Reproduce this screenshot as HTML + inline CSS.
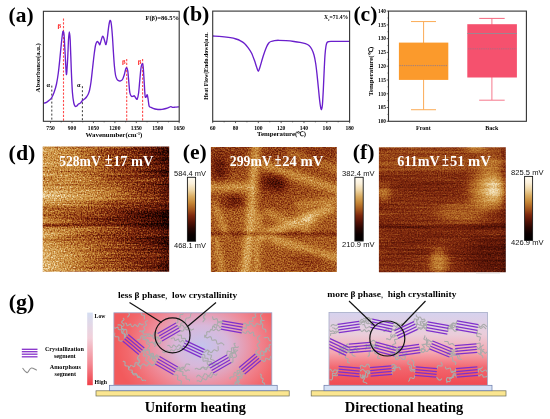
<!DOCTYPE html>
<html><head><meta charset="utf-8"><title>figure</title>
<style>html,body{margin:0;padding:0;background:#fff;width:550px;height:419px;overflow:hidden}svg{display:block}</style>
</head><body>
<svg width="550" height="419" viewBox="0 0 550 419">
<rect width="550" height="419" fill="#fff"/>
<text x="8.60" y="21.60" font-size="21.50" font-weight="bold" fill="#000" font-family="'Liberation Serif','Times New Roman',serif" textLength="25.0" lengthAdjust="spacingAndGlyphs">(a)</text>
<text x="182.60" y="21.40" font-size="21.50" font-weight="bold" fill="#000" font-family="'Liberation Serif','Times New Roman',serif" textLength="26.8" lengthAdjust="spacingAndGlyphs">(b)</text>
<text x="353.40" y="21.00" font-size="21.50" font-weight="bold" fill="#000" font-family="'Liberation Serif','Times New Roman',serif" textLength="24.0" lengthAdjust="spacingAndGlyphs">(c)</text>
<text x="8.60" y="159.60" font-size="21.50" font-weight="bold" fill="#000" font-family="'Liberation Serif','Times New Roman',serif" textLength="26.8" lengthAdjust="spacingAndGlyphs">(d)</text>
<text x="182.80" y="159.40" font-size="21.50" font-weight="bold" fill="#000" font-family="'Liberation Serif','Times New Roman',serif" textLength="24.0" lengthAdjust="spacingAndGlyphs">(e)</text>
<text x="352.70" y="159.30" font-size="21.50" font-weight="bold" fill="#000" font-family="'Liberation Serif','Times New Roman',serif" textLength="21.8" lengthAdjust="spacingAndGlyphs">(f)</text>
<text x="8.80" y="309.30" font-size="21.50" font-weight="bold" fill="#000" font-family="'Liberation Serif','Times New Roman',serif" textLength="25.6" lengthAdjust="spacingAndGlyphs">(g)</text>
<line x1="51.80" y1="85.6" x2="51.80" y2="121.3" stroke="#222" stroke-width="0.9" stroke-dasharray="2.0,2.0"/>
<line x1="82.40" y1="86.2" x2="82.40" y2="121.3" stroke="#222" stroke-width="0.9" stroke-dasharray="2.0,2.0"/>
<line x1="63.50" y1="18.6" x2="63.50" y2="121.3" stroke="#ff4a4a" stroke-width="1.1" stroke-dasharray="2.2,1.5"/>
<line x1="126.70" y1="59.0" x2="126.70" y2="121.3" stroke="#ff4a4a" stroke-width="1.1" stroke-dasharray="2.2,1.5"/>
<line x1="142.60" y1="59.0" x2="142.60" y2="121.3" stroke="#ff4a4a" stroke-width="1.1" stroke-dasharray="2.2,1.5"/>
<path d="M43.50,103.30 C43.95,103.15 45.60,102.80 46.50,102.30 C47.40,101.80 48.70,100.72 49.50,100.00 C50.30,99.28 51.09,98.70 51.80,97.50 C52.50,96.30 53.50,94.03 54.20,92.00 C54.91,89.97 55.88,86.85 56.50,84.00 C57.12,81.15 57.80,76.69 58.30,73.00 C58.79,69.31 59.35,63.75 59.80,59.40 C60.25,55.05 60.88,47.96 61.30,44.00 C61.72,40.04 62.30,34.89 62.60,33.00 C62.90,31.11 63.07,31.10 63.30,31.40 C63.52,31.70 63.81,31.46 64.10,35.00 C64.38,38.54 64.86,49.08 65.20,55.00 C65.55,60.92 66.04,73.75 66.40,74.50 C66.76,75.25 67.28,65.17 67.60,60.00 C67.91,54.83 68.25,44.20 68.50,40.00 C68.75,35.80 69.05,32.00 69.30,32.00 C69.55,32.00 69.90,34.30 70.20,40.00 C70.50,45.70 70.97,62.16 71.30,70.00 C71.63,77.84 72.03,87.35 72.40,92.30 C72.78,97.25 73.39,100.90 73.80,103.00 C74.20,105.10 74.65,105.85 75.10,106.30 C75.55,106.75 76.29,106.34 76.80,106.00 C77.31,105.66 77.94,104.45 78.50,104.00 C79.06,103.55 79.91,103.51 80.50,103.00 C81.09,102.49 81.80,101.20 82.40,100.60 C83.00,100.00 83.89,99.54 84.50,99.00 C85.11,98.46 85.93,97.75 86.50,97.00 C87.07,96.25 87.83,95.05 88.30,94.00 C88.77,92.95 89.19,91.80 89.60,90.00 C90.00,88.20 90.55,85.30 91.00,82.00 C91.45,78.70 92.12,72.20 92.60,68.00 C93.08,63.80 93.75,57.45 94.20,54.00 C94.65,50.55 95.21,46.80 95.60,45.00 C95.99,43.20 96.50,42.51 96.80,42.00 C97.10,41.49 97.30,41.45 97.60,41.60 C97.90,41.75 98.47,42.52 98.80,43.00 C99.13,43.48 99.47,45.10 99.80,44.80 C100.13,44.50 100.59,42.27 101.00,41.00 C101.41,39.73 102.11,36.82 102.50,36.30 C102.89,35.77 103.25,36.72 103.60,37.50 C103.94,38.28 104.44,40.44 104.80,41.50 C105.16,42.56 105.62,45.12 106.00,44.60 C106.38,44.08 106.92,40.49 107.30,38.00 C107.67,35.51 108.17,30.40 108.50,28.00 C108.83,25.60 109.22,23.14 109.50,22.00 C109.78,20.86 110.13,20.10 110.40,20.40 C110.67,20.70 111.00,21.66 111.30,24.00 C111.60,26.34 112.09,31.80 112.40,36.00 C112.72,40.20 113.10,47.50 113.40,52.00 C113.70,56.50 114.09,62.55 114.40,66.00 C114.72,69.45 115.14,73.05 115.50,75.00 C115.86,76.95 116.35,78.14 116.80,79.00 C117.25,79.86 117.93,80.43 118.50,80.70 C119.07,80.97 120.00,80.98 120.60,80.80 C121.20,80.62 121.96,80.37 122.50,79.50 C123.04,78.63 123.73,76.50 124.20,75.00 C124.67,73.50 125.22,70.59 125.60,69.50 C125.97,68.41 126.37,67.48 126.70,67.70 C127.03,67.92 127.48,68.86 127.80,71.00 C128.12,73.14 128.50,78.78 128.80,82.00 C129.10,85.22 129.43,90.37 129.80,92.50 C130.18,94.63 130.85,95.62 131.30,96.20 C131.75,96.78 132.35,96.46 132.80,96.40 C133.25,96.34 133.85,95.56 134.30,95.80 C134.75,96.04 135.37,97.49 135.80,98.00 C136.24,98.51 136.78,99.95 137.20,99.20 C137.62,98.45 138.21,95.88 138.60,93.00 C138.99,90.12 139.44,83.75 139.80,80.00 C140.16,76.25 140.62,70.46 141.00,68.00 C141.38,65.54 141.97,63.75 142.30,63.60 C142.63,63.45 142.91,64.24 143.20,67.00 C143.48,69.76 143.91,77.65 144.20,82.00 C144.48,86.35 144.81,93.75 145.10,96.00 C145.38,98.25 145.78,97.18 146.10,97.00 C146.41,96.82 146.90,94.50 147.20,94.80 C147.50,95.10 147.81,97.32 148.10,99.00 C148.38,100.68 148.66,104.75 149.10,106.00 C149.53,107.25 150.12,106.85 151.00,107.30 C151.88,107.75 153.95,108.67 155.00,109.00 C156.05,109.33 156.95,109.45 158.00,109.50 C159.05,109.55 160.80,109.45 162.00,109.30 C163.20,109.15 164.95,108.78 166.00,108.50 C167.05,108.22 168.31,107.69 169.00,107.40 C169.69,107.12 170.07,106.61 170.60,106.60 C171.12,106.58 171.84,107.21 172.50,107.30 C173.16,107.39 174.03,107.28 175.00,107.20 C175.97,107.12 178.40,106.86 179.00,106.80" fill="none" stroke="#6a1fcc" stroke-width="1.35" stroke-linejoin="round"/>
<rect x="43.40" y="11.30" width="135.80" height="110.00" fill="none" stroke="#333" stroke-width="1.1"/>
<line x1="50.55" y1="121.30" x2="50.55" y2="123.10" stroke="#333" stroke-width="0.8"/>
<line x1="61.27" y1="121.30" x2="61.27" y2="122.30" stroke="#333" stroke-width="0.8"/>
<line x1="71.99" y1="121.30" x2="71.99" y2="123.10" stroke="#333" stroke-width="0.8"/>
<line x1="82.71" y1="121.30" x2="82.71" y2="122.30" stroke="#333" stroke-width="0.8"/>
<line x1="93.43" y1="121.30" x2="93.43" y2="123.10" stroke="#333" stroke-width="0.8"/>
<line x1="104.15" y1="121.30" x2="104.15" y2="122.30" stroke="#333" stroke-width="0.8"/>
<line x1="114.87" y1="121.30" x2="114.87" y2="123.10" stroke="#333" stroke-width="0.8"/>
<line x1="125.59" y1="121.30" x2="125.59" y2="122.30" stroke="#333" stroke-width="0.8"/>
<line x1="136.32" y1="121.30" x2="136.32" y2="123.10" stroke="#333" stroke-width="0.8"/>
<line x1="147.04" y1="121.30" x2="147.04" y2="122.30" stroke="#333" stroke-width="0.8"/>
<line x1="157.76" y1="121.30" x2="157.76" y2="123.10" stroke="#333" stroke-width="0.8"/>
<line x1="168.48" y1="121.30" x2="168.48" y2="122.30" stroke="#333" stroke-width="0.8"/>
<line x1="179.20" y1="121.30" x2="179.20" y2="123.10" stroke="#333" stroke-width="0.8"/>
<text x="50.55" y="129.70" font-size="5.60" font-weight="bold" text-anchor="middle" fill="#000" font-family="'Liberation Serif','Times New Roman',serif">750</text>
<text x="71.99" y="129.70" font-size="5.60" font-weight="bold" text-anchor="middle" fill="#000" font-family="'Liberation Serif','Times New Roman',serif">900</text>
<text x="93.43" y="129.70" font-size="5.60" font-weight="bold" text-anchor="middle" fill="#000" font-family="'Liberation Serif','Times New Roman',serif">1050</text>
<text x="114.87" y="129.70" font-size="5.60" font-weight="bold" text-anchor="middle" fill="#000" font-family="'Liberation Serif','Times New Roman',serif">1200</text>
<text x="136.32" y="129.70" font-size="5.60" font-weight="bold" text-anchor="middle" fill="#000" font-family="'Liberation Serif','Times New Roman',serif">1350</text>
<text x="157.76" y="129.70" font-size="5.60" font-weight="bold" text-anchor="middle" fill="#000" font-family="'Liberation Serif','Times New Roman',serif">1500</text>
<text x="179.20" y="129.70" font-size="5.60" font-weight="bold" text-anchor="middle" fill="#000" font-family="'Liberation Serif','Times New Roman',serif">1650</text>
<text x="85.50" y="137.00" font-size="6.60" font-weight="bold" fill="#000" font-family="'Liberation Serif','Times New Roman',serif" textLength="56.7" lengthAdjust="spacingAndGlyphs">Wavenumber(cm<tspan font-size='3.8' dy='-2.2'>-1</tspan><tspan dy='2.2'>)</tspan></text>
<text transform="translate(40.40,67.80) rotate(-90)" text-anchor="middle" font-size="6.60" font-weight="bold" font-family="'Liberation Serif','Times New Roman',serif" fill="#000" textLength="49.2" lengthAdjust="spacingAndGlyphs">Absorbance(a.u.)</text>
<text x="145.40" y="20.30" font-size="6.00" font-weight="bold" fill="#000" font-family="'Liberation Serif','Times New Roman',serif" textLength="33.6" lengthAdjust="spacingAndGlyphs">F(β)=86.5%</text>
<text x="57.60" y="28.00" font-size="7.00" font-weight="bold" fill="#ff2a2a" font-family="'Liberation Serif','Times New Roman',serif">β</text>
<text x="122.00" y="63.80" font-size="7.00" font-weight="bold" fill="#ff2a2a" font-family="'Liberation Serif','Times New Roman',serif">β</text>
<text x="137.80" y="63.80" font-size="7.00" font-weight="bold" fill="#ff2a2a" font-family="'Liberation Serif','Times New Roman',serif">β</text>
<text x="46.60" y="86.60" font-size="6.20" font-weight="bold" fill="#000" font-family="'Liberation Serif','Times New Roman',serif">α</text>
<text x="76.90" y="87.20" font-size="6.20" font-weight="bold" fill="#000" font-family="'Liberation Serif','Times New Roman',serif">α</text>
<path d="M213.00,36.00 C214.35,36.09 219.39,36.34 222.00,36.60 C224.61,36.86 228.30,37.34 230.40,37.70 C232.50,38.06 234.49,38.54 236.00,39.00 C237.51,39.46 239.22,40.12 240.50,40.80 C241.78,41.47 243.34,42.44 244.50,43.50 C245.66,44.56 247.15,46.48 248.20,47.90 C249.25,49.32 250.56,51.09 251.50,53.00 C252.44,54.91 253.73,58.50 254.50,60.60 C255.27,62.70 256.03,65.39 256.60,67.00 C257.17,68.61 257.79,71.30 258.30,71.30 C258.81,71.30 259.24,69.37 260.00,67.00 C260.76,64.63 262.42,58.50 263.40,55.50 C264.38,52.50 265.69,48.88 266.50,47.00 C267.31,45.12 268.12,43.83 268.80,43.00 C269.48,42.17 270.14,41.86 271.00,41.50 C271.86,41.14 273.35,40.78 274.50,40.60 C275.65,40.42 276.97,40.28 278.70,40.30 C280.43,40.31 283.70,40.52 286.00,40.70 C288.30,40.88 291.90,41.24 294.00,41.50 C296.10,41.76 298.29,42.09 300.00,42.40 C301.71,42.71 304.05,43.13 305.40,43.60 C306.75,44.07 308.04,44.66 309.00,45.50 C309.96,46.34 311.05,47.78 311.80,49.20 C312.55,50.62 313.43,52.93 314.00,55.00 C314.57,57.07 315.17,60.26 315.60,63.00 C316.04,65.75 316.50,69.70 316.90,73.30 C317.30,76.90 317.89,83.00 318.30,87.00 C318.71,91.00 319.25,97.00 319.60,100.00 C319.95,103.00 320.32,105.58 320.60,107.00 C320.88,108.42 321.23,109.80 321.50,109.50 C321.77,109.20 322.13,107.92 322.40,105.00 C322.67,102.08 323.03,95.25 323.30,90.00 C323.57,84.75 323.94,75.25 324.20,70.00 C324.45,64.75 324.73,58.60 325.00,55.00 C325.27,51.40 325.70,47.86 326.00,46.00 C326.30,44.14 326.62,43.25 327.00,42.60 C327.38,41.95 327.92,41.88 328.50,41.70 C329.08,41.52 329.17,41.45 330.90,41.40 C332.62,41.35 337.23,41.40 340.00,41.40 C342.77,41.40 347.99,41.40 349.40,41.40" fill="none" stroke="#6a1fcc" stroke-width="1.35" stroke-linejoin="round"/>
<rect x="212.70" y="11.10" width="136.90" height="110.20" fill="none" stroke="#333" stroke-width="1.1"/>
<line x1="212.70" y1="121.30" x2="212.70" y2="123.10" stroke="#333" stroke-width="0.8"/>
<line x1="224.11" y1="121.30" x2="224.11" y2="122.30" stroke="#333" stroke-width="0.8"/>
<line x1="235.52" y1="121.30" x2="235.52" y2="123.10" stroke="#333" stroke-width="0.8"/>
<line x1="246.93" y1="121.30" x2="246.93" y2="122.30" stroke="#333" stroke-width="0.8"/>
<line x1="258.33" y1="121.30" x2="258.33" y2="123.10" stroke="#333" stroke-width="0.8"/>
<line x1="269.74" y1="121.30" x2="269.74" y2="122.30" stroke="#333" stroke-width="0.8"/>
<line x1="281.15" y1="121.30" x2="281.15" y2="123.10" stroke="#333" stroke-width="0.8"/>
<line x1="292.56" y1="121.30" x2="292.56" y2="122.30" stroke="#333" stroke-width="0.8"/>
<line x1="303.97" y1="121.30" x2="303.97" y2="123.10" stroke="#333" stroke-width="0.8"/>
<line x1="315.38" y1="121.30" x2="315.38" y2="122.30" stroke="#333" stroke-width="0.8"/>
<line x1="326.78" y1="121.30" x2="326.78" y2="123.10" stroke="#333" stroke-width="0.8"/>
<line x1="338.19" y1="121.30" x2="338.19" y2="122.30" stroke="#333" stroke-width="0.8"/>
<line x1="349.60" y1="121.30" x2="349.60" y2="123.10" stroke="#333" stroke-width="0.8"/>
<text x="212.70" y="129.70" font-size="5.60" font-weight="bold" text-anchor="middle" fill="#000" font-family="'Liberation Serif','Times New Roman',serif">60</text>
<text x="235.52" y="129.70" font-size="5.60" font-weight="bold" text-anchor="middle" fill="#000" font-family="'Liberation Serif','Times New Roman',serif">80</text>
<text x="258.33" y="129.70" font-size="5.60" font-weight="bold" text-anchor="middle" fill="#000" font-family="'Liberation Serif','Times New Roman',serif">100</text>
<text x="281.15" y="129.70" font-size="5.60" font-weight="bold" text-anchor="middle" fill="#000" font-family="'Liberation Serif','Times New Roman',serif">120</text>
<text x="303.97" y="129.70" font-size="5.60" font-weight="bold" text-anchor="middle" fill="#000" font-family="'Liberation Serif','Times New Roman',serif">140</text>
<text x="326.78" y="129.70" font-size="5.60" font-weight="bold" text-anchor="middle" fill="#000" font-family="'Liberation Serif','Times New Roman',serif">160</text>
<text x="349.60" y="129.70" font-size="5.60" font-weight="bold" text-anchor="middle" fill="#000" font-family="'Liberation Serif','Times New Roman',serif">180</text>
<text x="281.50" y="136.40" font-size="6.40" font-weight="bold" text-anchor="middle" fill="#000" font-family="'Liberation Serif','Times New Roman',serif" textLength="49.0" lengthAdjust="spacingAndGlyphs">Temperature(℃)</text>
<text transform="translate(208.30,66.00) rotate(-90)" text-anchor="middle" font-size="6.20" font-weight="bold" font-family="'Liberation Serif','Times New Roman',serif" fill="#000" textLength="67.5" lengthAdjust="spacingAndGlyphs">Heat Flow(Endo.down)a.u.</text>
<text x="348.20" y="19.30" font-size="5.60" font-weight="bold" text-anchor="end" fill="#000" font-family="'Liberation Serif','Times New Roman',serif">X<tspan font-size='3.6' dy='1.3'>c</tspan><tspan dy='-1.3'>=71.4%</tspan></text>
<line x1="423.6" y1="21.57" x2="423.6" y2="109.73" stroke="#fbab55" stroke-width="1"/>
<line x1="411" y1="21.57" x2="436" y2="21.57" stroke="#fbab55" stroke-width="1"/>
<line x1="411" y1="109.73" x2="436" y2="109.73" stroke="#fbab55" stroke-width="1"/>
<rect x="398.9" y="42.6" width="49.4" height="37.3" fill="#fb9a2c"/>
<line x1="399.5" y1="65.6" x2="447.8" y2="65.6" stroke="#8a7a90" stroke-width="0.8" stroke-dasharray="1.3,0.9"/>
<line x1="491.9" y1="18.4" x2="491.9" y2="100" stroke="#f5788c" stroke-width="1"/>
<line x1="479.2" y1="18.4" x2="504.7" y2="18.4" stroke="#f5667e" stroke-width="1"/>
<line x1="479.2" y1="100.2" x2="504.7" y2="100.2" stroke="#f5788c" stroke-width="1"/>
<rect x="467.3" y="24.2" width="49.6" height="53.3" fill="#f5516e"/>
<line x1="467.3" y1="33.5" x2="516.9" y2="33.5" stroke="#968a94" stroke-width="0.9"/>
<line x1="468" y1="48.8" x2="516.5" y2="48.8" stroke="#a07088" stroke-width="0.8" stroke-dasharray="1.3,0.9"/>
<rect x="388.50" y="11.10" width="137.90" height="110.20" fill="none" stroke="#333" stroke-width="1.1"/>
<line x1="386.70" y1="121.30" x2="388.50" y2="121.30" stroke="#333" stroke-width="0.8"/>
<text x="386.00" y="123.10" font-size="5.30" font-weight="bold" text-anchor="end" fill="#000" font-family="'Liberation Serif','Times New Roman',serif">100</text>
<line x1="386.70" y1="107.52" x2="388.50" y2="107.52" stroke="#333" stroke-width="0.8"/>
<text x="386.00" y="109.32" font-size="5.30" font-weight="bold" text-anchor="end" fill="#000" font-family="'Liberation Serif','Times New Roman',serif">105</text>
<line x1="386.70" y1="93.75" x2="388.50" y2="93.75" stroke="#333" stroke-width="0.8"/>
<text x="386.00" y="95.55" font-size="5.30" font-weight="bold" text-anchor="end" fill="#000" font-family="'Liberation Serif','Times New Roman',serif">110</text>
<line x1="386.70" y1="79.97" x2="388.50" y2="79.97" stroke="#333" stroke-width="0.8"/>
<text x="386.00" y="81.77" font-size="5.30" font-weight="bold" text-anchor="end" fill="#000" font-family="'Liberation Serif','Times New Roman',serif">115</text>
<line x1="386.70" y1="66.20" x2="388.50" y2="66.20" stroke="#333" stroke-width="0.8"/>
<text x="386.00" y="68.00" font-size="5.30" font-weight="bold" text-anchor="end" fill="#000" font-family="'Liberation Serif','Times New Roman',serif">120</text>
<line x1="386.70" y1="52.42" x2="388.50" y2="52.42" stroke="#333" stroke-width="0.8"/>
<text x="386.00" y="54.22" font-size="5.30" font-weight="bold" text-anchor="end" fill="#000" font-family="'Liberation Serif','Times New Roman',serif">125</text>
<line x1="386.70" y1="38.65" x2="388.50" y2="38.65" stroke="#333" stroke-width="0.8"/>
<text x="386.00" y="40.45" font-size="5.30" font-weight="bold" text-anchor="end" fill="#000" font-family="'Liberation Serif','Times New Roman',serif">130</text>
<line x1="386.70" y1="24.88" x2="388.50" y2="24.88" stroke="#333" stroke-width="0.8"/>
<text x="386.00" y="26.68" font-size="5.30" font-weight="bold" text-anchor="end" fill="#000" font-family="'Liberation Serif','Times New Roman',serif">135</text>
<line x1="386.70" y1="11.10" x2="388.50" y2="11.10" stroke="#333" stroke-width="0.8"/>
<text x="386.00" y="12.90" font-size="5.30" font-weight="bold" text-anchor="end" fill="#000" font-family="'Liberation Serif','Times New Roman',serif">140</text>
<line x1="387.50" y1="114.41" x2="388.50" y2="114.41" stroke="#333" stroke-width="0.7"/>
<line x1="387.50" y1="100.64" x2="388.50" y2="100.64" stroke="#333" stroke-width="0.7"/>
<line x1="387.50" y1="86.86" x2="388.50" y2="86.86" stroke="#333" stroke-width="0.7"/>
<line x1="387.50" y1="73.09" x2="388.50" y2="73.09" stroke="#333" stroke-width="0.7"/>
<line x1="387.50" y1="59.31" x2="388.50" y2="59.31" stroke="#333" stroke-width="0.7"/>
<line x1="387.50" y1="45.54" x2="388.50" y2="45.54" stroke="#333" stroke-width="0.7"/>
<line x1="387.50" y1="31.76" x2="388.50" y2="31.76" stroke="#333" stroke-width="0.7"/>
<line x1="387.50" y1="17.99" x2="388.50" y2="17.99" stroke="#333" stroke-width="0.7"/>
<text x="423.40" y="130.20" font-size="6.00" font-weight="bold" text-anchor="middle" fill="#000" font-family="'Liberation Serif','Times New Roman',serif">Front</text>
<text x="491.80" y="130.20" font-size="6.00" font-weight="bold" text-anchor="middle" fill="#000" font-family="'Liberation Serif','Times New Roman',serif">Back</text>
<text transform="translate(372.80,71.30) rotate(-90)" text-anchor="middle" font-size="6.40" font-weight="bold" font-family="'Liberation Serif','Times New Roman',serif" fill="#000" textLength="49.2" lengthAdjust="spacingAndGlyphs">Temperature(℃)</text>
<clipPath id="cd"><rect x="42.7" y="146.4" width="126.5" height="125.4"/></clipPath>
<filter id="fd" x="40.7" y="144.4" width="130.5" height="129.4" filterUnits="userSpaceOnUse" color-interpolation-filters="sRGB"><feGaussianBlur in="SourceGraphic" stdDeviation="3 1.2" result="b"/><feTurbulence type="fractalNoise" baseFrequency="0.7" numOctaves="2" seed="3" result="n"/><feColorMatrix in="n" type="matrix" values="1 0 0 0 0 1 0 0 0 0 1 0 0 0 0 0 0 0 0 1" result="n1"/><feComposite in="b" in2="n1" operator="arithmetic" k1="0" k2="1" k3="0.500" k4="-0.250" result="m"/><feTurbulence type="fractalNoise" baseFrequency="0.015 0.45" numOctaves="2" seed="4" result="s"/><feColorMatrix in="s" type="matrix" values="1 0 0 0 0 1 0 0 0 0 1 0 0 0 0 0 0 0 0 1" result="s1"/><feComposite in="m" in2="s1" operator="arithmetic" k1="0" k2="1" k3="0.250" k4="-0.125" result="m2"/><feComponentTransfer in="m2"><feFuncR type="table" tableValues="0.000 0.020 0.039 0.098 0.157 0.243 0.329 0.412 0.494 0.573 0.651 0.714 0.773 0.816 0.855 0.894 0.933 0.957 0.984 0.992 1.000"/><feFuncG type="table" tableValues="0.000 0.000 0.000 0.012 0.024 0.047 0.071 0.114 0.157 0.251 0.345 0.435 0.525 0.600 0.675 0.757 0.839 0.890 0.941 0.965 0.988"/><feFuncB type="table" tableValues="0.000 0.000 0.000 0.004 0.008 0.016 0.024 0.039 0.055 0.086 0.118 0.165 0.212 0.298 0.384 0.518 0.651 0.753 0.855 0.906 0.957"/><feFuncA type="linear" slope="0" intercept="1"/></feComponentTransfer></filter>
<g clip-path="url(#cd)"><g filter="url(#fd)">
<rect x="34.7" y="140.4" width="8.1" height="3.1" fill="#b3b3b3"/>
<rect x="42.7" y="140.4" width="8.1" height="3.1" fill="#afafaf"/>
<rect x="50.7" y="140.4" width="8.1" height="3.1" fill="#acacac"/>
<rect x="58.7" y="140.4" width="8.1" height="3.1" fill="#a8a8a8"/>
<rect x="66.7" y="140.4" width="8.1" height="3.1" fill="#a3a3a3"/>
<rect x="74.7" y="140.4" width="8.1" height="3.1" fill="#9e9e9e"/>
<rect x="82.7" y="140.4" width="8.1" height="3.1" fill="#999999"/>
<rect x="90.7" y="140.4" width="8.1" height="3.1" fill="#939393"/>
<rect x="98.7" y="140.4" width="8.1" height="3.1" fill="#8c8c8c"/>
<rect x="106.7" y="140.4" width="8.1" height="3.1" fill="#858585"/>
<rect x="114.7" y="140.4" width="8.1" height="3.1" fill="#7e7e7e"/>
<rect x="122.7" y="140.4" width="8.1" height="3.1" fill="#767676"/>
<rect x="130.7" y="140.4" width="8.1" height="3.1" fill="#6d6d6d"/>
<rect x="138.7" y="140.4" width="8.1" height="3.1" fill="#646464"/>
<rect x="146.7" y="140.4" width="8.1" height="3.1" fill="#595959"/>
<rect x="154.7" y="140.4" width="8.1" height="3.1" fill="#505050"/>
<rect x="162.7" y="140.4" width="8.1" height="3.1" fill="#3a3a3a"/>
<rect x="170.7" y="140.4" width="8.1" height="3.1" fill="#464646"/>
<rect x="34.7" y="143.4" width="8.1" height="3.1" fill="#b3b3b3"/>
<rect x="42.7" y="143.4" width="8.1" height="3.1" fill="#b0b0b0"/>
<rect x="50.7" y="143.4" width="8.1" height="3.1" fill="#adadad"/>
<rect x="58.7" y="143.4" width="8.1" height="3.1" fill="#a8a8a8"/>
<rect x="66.7" y="143.4" width="8.1" height="3.1" fill="#a4a4a4"/>
<rect x="74.7" y="143.4" width="8.1" height="3.1" fill="#9f9f9f"/>
<rect x="82.7" y="143.4" width="8.1" height="3.1" fill="#999999"/>
<rect x="90.7" y="143.4" width="8.1" height="3.1" fill="#939393"/>
<rect x="98.7" y="143.4" width="8.1" height="3.1" fill="#8d8d8d"/>
<rect x="106.7" y="143.4" width="8.1" height="3.1" fill="#868686"/>
<rect x="114.7" y="143.4" width="8.1" height="3.1" fill="#7e7e7e"/>
<rect x="122.7" y="143.4" width="8.1" height="3.1" fill="#767676"/>
<rect x="130.7" y="143.4" width="8.1" height="3.1" fill="#6d6d6d"/>
<rect x="138.7" y="143.4" width="8.1" height="3.1" fill="#636363"/>
<rect x="146.7" y="143.4" width="8.1" height="3.1" fill="#595959"/>
<rect x="154.7" y="143.4" width="8.1" height="3.1" fill="#4f4f4f"/>
<rect x="162.7" y="143.4" width="8.1" height="3.1" fill="#393939"/>
<rect x="170.7" y="143.4" width="8.1" height="3.1" fill="#464646"/>
<rect x="34.7" y="146.4" width="8.1" height="3.1" fill="#b4b4b4"/>
<rect x="42.7" y="146.4" width="8.1" height="3.1" fill="#b1b1b1"/>
<rect x="50.7" y="146.4" width="8.1" height="3.1" fill="#adadad"/>
<rect x="58.7" y="146.4" width="8.1" height="3.1" fill="#a9a9a9"/>
<rect x="66.7" y="146.4" width="8.1" height="3.1" fill="#a5a5a5"/>
<rect x="74.7" y="146.4" width="8.1" height="3.1" fill="#9f9f9f"/>
<rect x="82.7" y="146.4" width="8.1" height="3.1" fill="#9a9a9a"/>
<rect x="90.7" y="146.4" width="8.1" height="3.1" fill="#939393"/>
<rect x="98.7" y="146.4" width="8.1" height="3.1" fill="#8d8d8d"/>
<rect x="106.7" y="146.4" width="8.1" height="3.1" fill="#868686"/>
<rect x="114.7" y="146.4" width="8.1" height="3.1" fill="#7e7e7e"/>
<rect x="122.7" y="146.4" width="8.1" height="3.1" fill="#767676"/>
<rect x="130.7" y="146.4" width="8.1" height="3.1" fill="#6d6d6d"/>
<rect x="138.7" y="146.4" width="8.1" height="3.1" fill="#636363"/>
<rect x="146.7" y="146.4" width="8.1" height="3.1" fill="#595959"/>
<rect x="154.7" y="146.4" width="8.1" height="3.1" fill="#4f4f4f"/>
<rect x="162.7" y="146.4" width="8.1" height="3.1" fill="#393939"/>
<rect x="170.7" y="146.4" width="8.1" height="3.1" fill="#464646"/>
<rect x="34.7" y="149.4" width="8.1" height="3.1" fill="#b5b5b5"/>
<rect x="42.7" y="149.4" width="8.1" height="3.1" fill="#b2b2b2"/>
<rect x="50.7" y="149.4" width="8.1" height="3.1" fill="#aeaeae"/>
<rect x="58.7" y="149.4" width="8.1" height="3.1" fill="#aaaaaa"/>
<rect x="66.7" y="149.4" width="8.1" height="3.1" fill="#a5a5a5"/>
<rect x="74.7" y="149.4" width="8.1" height="3.1" fill="#a0a0a0"/>
<rect x="82.7" y="149.4" width="8.1" height="3.1" fill="#9a9a9a"/>
<rect x="90.7" y="149.4" width="8.1" height="3.1" fill="#949494"/>
<rect x="98.7" y="149.4" width="8.1" height="3.1" fill="#8d8d8d"/>
<rect x="106.7" y="149.4" width="8.1" height="3.1" fill="#868686"/>
<rect x="114.7" y="149.4" width="8.1" height="3.1" fill="#7e7e7e"/>
<rect x="122.7" y="149.4" width="8.1" height="3.1" fill="#767676"/>
<rect x="130.7" y="149.4" width="8.1" height="3.1" fill="#6d6d6d"/>
<rect x="138.7" y="149.4" width="8.1" height="3.1" fill="#646464"/>
<rect x="146.7" y="149.4" width="8.1" height="3.1" fill="#595959"/>
<rect x="154.7" y="149.4" width="8.1" height="3.1" fill="#505050"/>
<rect x="162.7" y="149.4" width="8.1" height="3.1" fill="#3a3a3a"/>
<rect x="170.7" y="149.4" width="8.1" height="3.1" fill="#464646"/>
<rect x="34.7" y="152.4" width="8.1" height="3.1" fill="#b5b5b5"/>
<rect x="42.7" y="152.4" width="8.1" height="3.1" fill="#b2b2b2"/>
<rect x="50.7" y="152.4" width="8.1" height="3.1" fill="#afafaf"/>
<rect x="58.7" y="152.4" width="8.1" height="3.1" fill="#aaaaaa"/>
<rect x="66.7" y="152.4" width="8.1" height="3.1" fill="#a6a6a6"/>
<rect x="74.7" y="152.4" width="8.1" height="3.1" fill="#a0a0a0"/>
<rect x="82.7" y="152.4" width="8.1" height="3.1" fill="#9a9a9a"/>
<rect x="90.7" y="152.4" width="8.1" height="3.1" fill="#949494"/>
<rect x="98.7" y="152.4" width="8.1" height="3.1" fill="#8d8d8d"/>
<rect x="106.7" y="152.4" width="8.1" height="3.1" fill="#868686"/>
<rect x="114.7" y="152.4" width="8.1" height="3.1" fill="#7f7f7f"/>
<rect x="122.7" y="152.4" width="8.1" height="3.1" fill="#777777"/>
<rect x="130.7" y="152.4" width="8.1" height="3.1" fill="#6e6e6e"/>
<rect x="138.7" y="152.4" width="8.1" height="3.1" fill="#646464"/>
<rect x="146.7" y="152.4" width="8.1" height="3.1" fill="#5a5a5a"/>
<rect x="154.7" y="152.4" width="8.1" height="3.1" fill="#505050"/>
<rect x="162.7" y="152.4" width="8.1" height="3.1" fill="#3b3b3b"/>
<rect x="170.7" y="152.4" width="8.1" height="3.1" fill="#474747"/>
<rect x="34.7" y="155.4" width="8.1" height="3.1" fill="#b6b6b6"/>
<rect x="42.7" y="155.4" width="8.1" height="3.1" fill="#b3b3b3"/>
<rect x="50.7" y="155.4" width="8.1" height="3.1" fill="#afafaf"/>
<rect x="58.7" y="155.4" width="8.1" height="3.1" fill="#ababab"/>
<rect x="66.7" y="155.4" width="8.1" height="3.1" fill="#a6a6a6"/>
<rect x="74.7" y="155.4" width="8.1" height="3.1" fill="#a1a1a1"/>
<rect x="82.7" y="155.4" width="8.1" height="3.1" fill="#9b9b9b"/>
<rect x="90.7" y="155.4" width="8.1" height="3.1" fill="#949494"/>
<rect x="98.7" y="155.4" width="8.1" height="3.1" fill="#8e8e8e"/>
<rect x="106.7" y="155.4" width="8.1" height="3.1" fill="#868686"/>
<rect x="114.7" y="155.4" width="8.1" height="3.1" fill="#7f7f7f"/>
<rect x="122.7" y="155.4" width="8.1" height="3.1" fill="#777777"/>
<rect x="130.7" y="155.4" width="8.1" height="3.1" fill="#6e6e6e"/>
<rect x="138.7" y="155.4" width="8.1" height="3.1" fill="#656565"/>
<rect x="146.7" y="155.4" width="8.1" height="3.1" fill="#5b5b5b"/>
<rect x="154.7" y="155.4" width="8.1" height="3.1" fill="#525252"/>
<rect x="162.7" y="155.4" width="8.1" height="3.1" fill="#3c3c3c"/>
<rect x="170.7" y="155.4" width="8.1" height="3.1" fill="#484848"/>
<rect x="34.7" y="158.4" width="8.1" height="3.1" fill="#b6b6b6"/>
<rect x="42.7" y="158.4" width="8.1" height="3.1" fill="#b3b3b3"/>
<rect x="50.7" y="158.4" width="8.1" height="3.1" fill="#afafaf"/>
<rect x="58.7" y="158.4" width="8.1" height="3.1" fill="#ababab"/>
<rect x="66.7" y="158.4" width="8.1" height="3.1" fill="#a6a6a6"/>
<rect x="74.7" y="158.4" width="8.1" height="3.1" fill="#a1a1a1"/>
<rect x="82.7" y="158.4" width="8.1" height="3.1" fill="#9b9b9b"/>
<rect x="90.7" y="158.4" width="8.1" height="3.1" fill="#959595"/>
<rect x="98.7" y="158.4" width="8.1" height="3.1" fill="#8e8e8e"/>
<rect x="106.7" y="158.4" width="8.1" height="3.1" fill="#878787"/>
<rect x="114.7" y="158.4" width="8.1" height="3.1" fill="#7f7f7f"/>
<rect x="122.7" y="158.4" width="8.1" height="3.1" fill="#777777"/>
<rect x="130.7" y="158.4" width="8.1" height="3.1" fill="#6f6f6f"/>
<rect x="138.7" y="158.4" width="8.1" height="3.1" fill="#656565"/>
<rect x="146.7" y="158.4" width="8.1" height="3.1" fill="#5c5c5c"/>
<rect x="154.7" y="158.4" width="8.1" height="3.1" fill="#535353"/>
<rect x="162.7" y="158.4" width="8.1" height="3.1" fill="#3d3d3d"/>
<rect x="170.7" y="158.4" width="8.1" height="3.1" fill="#4a4a4a"/>
<rect x="34.7" y="161.4" width="8.1" height="3.1" fill="#b6b6b6"/>
<rect x="42.7" y="161.4" width="8.1" height="3.1" fill="#b3b3b3"/>
<rect x="50.7" y="161.4" width="8.1" height="3.1" fill="#afafaf"/>
<rect x="58.7" y="161.4" width="8.1" height="3.1" fill="#ababab"/>
<rect x="66.7" y="161.4" width="8.1" height="3.1" fill="#a6a6a6"/>
<rect x="74.7" y="161.4" width="8.1" height="3.1" fill="#a1a1a1"/>
<rect x="82.7" y="161.4" width="8.1" height="3.1" fill="#9b9b9b"/>
<rect x="90.7" y="161.4" width="8.1" height="3.1" fill="#959595"/>
<rect x="98.7" y="161.4" width="8.1" height="3.1" fill="#8e8e8e"/>
<rect x="106.7" y="161.4" width="8.1" height="3.1" fill="#878787"/>
<rect x="114.7" y="161.4" width="8.1" height="3.1" fill="#808080"/>
<rect x="122.7" y="161.4" width="8.1" height="3.1" fill="#787878"/>
<rect x="130.7" y="161.4" width="8.1" height="3.1" fill="#6f6f6f"/>
<rect x="138.7" y="161.4" width="8.1" height="3.1" fill="#666666"/>
<rect x="146.7" y="161.4" width="8.1" height="3.1" fill="#5d5d5d"/>
<rect x="154.7" y="161.4" width="8.1" height="3.1" fill="#545454"/>
<rect x="162.7" y="161.4" width="8.1" height="3.1" fill="#3f3f3f"/>
<rect x="170.7" y="161.4" width="8.1" height="3.1" fill="#4b4b4b"/>
<rect x="34.7" y="164.4" width="8.1" height="3.1" fill="#b6b6b6"/>
<rect x="42.7" y="164.4" width="8.1" height="3.1" fill="#b3b3b3"/>
<rect x="50.7" y="164.4" width="8.1" height="3.1" fill="#afafaf"/>
<rect x="58.7" y="164.4" width="8.1" height="3.1" fill="#ababab"/>
<rect x="66.7" y="164.4" width="8.1" height="3.1" fill="#a6a6a6"/>
<rect x="74.7" y="164.4" width="8.1" height="3.1" fill="#a1a1a1"/>
<rect x="82.7" y="164.4" width="8.1" height="3.1" fill="#9b9b9b"/>
<rect x="90.7" y="164.4" width="8.1" height="3.1" fill="#959595"/>
<rect x="98.7" y="164.4" width="8.1" height="3.1" fill="#8e8e8e"/>
<rect x="106.7" y="164.4" width="8.1" height="3.1" fill="#878787"/>
<rect x="114.7" y="164.4" width="8.1" height="3.1" fill="#808080"/>
<rect x="122.7" y="164.4" width="8.1" height="3.1" fill="#787878"/>
<rect x="130.7" y="164.4" width="8.1" height="3.1" fill="#707070"/>
<rect x="138.7" y="164.4" width="8.1" height="3.1" fill="#676767"/>
<rect x="146.7" y="164.4" width="8.1" height="3.1" fill="#5f5f5f"/>
<rect x="154.7" y="164.4" width="8.1" height="3.1" fill="#565656"/>
<rect x="162.7" y="164.4" width="8.1" height="3.1" fill="#414141"/>
<rect x="170.7" y="164.4" width="8.1" height="3.1" fill="#4d4d4d"/>
<rect x="34.7" y="167.4" width="8.1" height="3.1" fill="#b5b5b5"/>
<rect x="42.7" y="167.4" width="8.1" height="3.1" fill="#b2b2b2"/>
<rect x="50.7" y="167.4" width="8.1" height="3.1" fill="#afafaf"/>
<rect x="58.7" y="167.4" width="8.1" height="3.1" fill="#ababab"/>
<rect x="66.7" y="167.4" width="8.1" height="3.1" fill="#a6a6a6"/>
<rect x="74.7" y="167.4" width="8.1" height="3.1" fill="#a1a1a1"/>
<rect x="82.7" y="167.4" width="8.1" height="3.1" fill="#9b9b9b"/>
<rect x="90.7" y="167.4" width="8.1" height="3.1" fill="#959595"/>
<rect x="98.7" y="167.4" width="8.1" height="3.1" fill="#8e8e8e"/>
<rect x="106.7" y="167.4" width="8.1" height="3.1" fill="#878787"/>
<rect x="114.7" y="167.4" width="8.1" height="3.1" fill="#808080"/>
<rect x="122.7" y="167.4" width="8.1" height="3.1" fill="#797979"/>
<rect x="130.7" y="167.4" width="8.1" height="3.1" fill="#717171"/>
<rect x="138.7" y="167.4" width="8.1" height="3.1" fill="#696969"/>
<rect x="146.7" y="167.4" width="8.1" height="3.1" fill="#606060"/>
<rect x="154.7" y="167.4" width="8.1" height="3.1" fill="#585858"/>
<rect x="162.7" y="167.4" width="8.1" height="3.1" fill="#434343"/>
<rect x="170.7" y="167.4" width="8.1" height="3.1" fill="#4f4f4f"/>
<rect x="34.7" y="170.4" width="8.1" height="3.1" fill="#b5b5b5"/>
<rect x="42.7" y="170.4" width="8.1" height="3.1" fill="#b2b2b2"/>
<rect x="50.7" y="170.4" width="8.1" height="3.1" fill="#aeaeae"/>
<rect x="58.7" y="170.4" width="8.1" height="3.1" fill="#aaaaaa"/>
<rect x="66.7" y="170.4" width="8.1" height="3.1" fill="#a6a6a6"/>
<rect x="74.7" y="170.4" width="8.1" height="3.1" fill="#a1a1a1"/>
<rect x="82.7" y="170.4" width="8.1" height="3.1" fill="#9b9b9b"/>
<rect x="90.7" y="170.4" width="8.1" height="3.1" fill="#959595"/>
<rect x="98.7" y="170.4" width="8.1" height="3.1" fill="#8e8e8e"/>
<rect x="106.7" y="170.4" width="8.1" height="3.1" fill="#888888"/>
<rect x="114.7" y="170.4" width="8.1" height="3.1" fill="#818181"/>
<rect x="122.7" y="170.4" width="8.1" height="3.1" fill="#797979"/>
<rect x="130.7" y="170.4" width="8.1" height="3.1" fill="#727272"/>
<rect x="138.7" y="170.4" width="8.1" height="3.1" fill="#6a6a6a"/>
<rect x="146.7" y="170.4" width="8.1" height="3.1" fill="#626262"/>
<rect x="154.7" y="170.4" width="8.1" height="3.1" fill="#5a5a5a"/>
<rect x="162.7" y="170.4" width="8.1" height="3.1" fill="#454545"/>
<rect x="170.7" y="170.4" width="8.1" height="3.1" fill="#515151"/>
<rect x="34.7" y="173.4" width="8.1" height="3.1" fill="#b5b5b5"/>
<rect x="42.7" y="173.4" width="8.1" height="3.1" fill="#b1b1b1"/>
<rect x="50.7" y="173.4" width="8.1" height="3.1" fill="#aeaeae"/>
<rect x="58.7" y="173.4" width="8.1" height="3.1" fill="#aaaaaa"/>
<rect x="66.7" y="173.4" width="8.1" height="3.1" fill="#a5a5a5"/>
<rect x="74.7" y="173.4" width="8.1" height="3.1" fill="#a0a0a0"/>
<rect x="82.7" y="173.4" width="8.1" height="3.1" fill="#9b9b9b"/>
<rect x="90.7" y="173.4" width="8.1" height="3.1" fill="#959595"/>
<rect x="98.7" y="173.4" width="8.1" height="3.1" fill="#8e8e8e"/>
<rect x="106.7" y="173.4" width="8.1" height="3.1" fill="#888888"/>
<rect x="114.7" y="173.4" width="8.1" height="3.1" fill="#818181"/>
<rect x="122.7" y="173.4" width="8.1" height="3.1" fill="#7a7a7a"/>
<rect x="130.7" y="173.4" width="8.1" height="3.1" fill="#737373"/>
<rect x="138.7" y="173.4" width="8.1" height="3.1" fill="#6b6b6b"/>
<rect x="146.7" y="173.4" width="8.1" height="3.1" fill="#636363"/>
<rect x="154.7" y="173.4" width="8.1" height="3.1" fill="#5c5c5c"/>
<rect x="162.7" y="173.4" width="8.1" height="3.1" fill="#484848"/>
<rect x="170.7" y="173.4" width="8.1" height="3.1" fill="#545454"/>
<rect x="34.7" y="176.4" width="8.1" height="3.1" fill="#b4b4b4"/>
<rect x="42.7" y="176.4" width="8.1" height="3.1" fill="#b1b1b1"/>
<rect x="50.7" y="176.4" width="8.1" height="3.1" fill="#adadad"/>
<rect x="58.7" y="176.4" width="8.1" height="3.1" fill="#a9a9a9"/>
<rect x="66.7" y="176.4" width="8.1" height="3.1" fill="#a5a5a5"/>
<rect x="74.7" y="176.4" width="8.1" height="3.1" fill="#a0a0a0"/>
<rect x="82.7" y="176.4" width="8.1" height="3.1" fill="#9a9a9a"/>
<rect x="90.7" y="176.4" width="8.1" height="3.1" fill="#959595"/>
<rect x="98.7" y="176.4" width="8.1" height="3.1" fill="#8f8f8f"/>
<rect x="106.7" y="176.4" width="8.1" height="3.1" fill="#888888"/>
<rect x="114.7" y="176.4" width="8.1" height="3.1" fill="#828282"/>
<rect x="122.7" y="176.4" width="8.1" height="3.1" fill="#7b7b7b"/>
<rect x="130.7" y="176.4" width="8.1" height="3.1" fill="#747474"/>
<rect x="138.7" y="176.4" width="8.1" height="3.1" fill="#6c6c6c"/>
<rect x="146.7" y="176.4" width="8.1" height="3.1" fill="#656565"/>
<rect x="154.7" y="176.4" width="8.1" height="3.1" fill="#5e5e5e"/>
<rect x="162.7" y="176.4" width="8.1" height="3.1" fill="#4a4a4a"/>
<rect x="170.7" y="176.4" width="8.1" height="3.1" fill="#565656"/>
<rect x="34.7" y="179.4" width="8.1" height="3.1" fill="#b4b4b4"/>
<rect x="42.7" y="179.4" width="8.1" height="3.1" fill="#b0b0b0"/>
<rect x="50.7" y="179.4" width="8.1" height="3.1" fill="#adadad"/>
<rect x="58.7" y="179.4" width="8.1" height="3.1" fill="#a9a9a9"/>
<rect x="66.7" y="179.4" width="8.1" height="3.1" fill="#a4a4a4"/>
<rect x="74.7" y="179.4" width="8.1" height="3.1" fill="#9f9f9f"/>
<rect x="82.7" y="179.4" width="8.1" height="3.1" fill="#9a9a9a"/>
<rect x="90.7" y="179.4" width="8.1" height="3.1" fill="#959595"/>
<rect x="98.7" y="179.4" width="8.1" height="3.1" fill="#8f8f8f"/>
<rect x="106.7" y="179.4" width="8.1" height="3.1" fill="#898989"/>
<rect x="114.7" y="179.4" width="8.1" height="3.1" fill="#828282"/>
<rect x="122.7" y="179.4" width="8.1" height="3.1" fill="#7b7b7b"/>
<rect x="130.7" y="179.4" width="8.1" height="3.1" fill="#757575"/>
<rect x="138.7" y="179.4" width="8.1" height="3.1" fill="#6e6e6e"/>
<rect x="146.7" y="179.4" width="8.1" height="3.1" fill="#676767"/>
<rect x="154.7" y="179.4" width="8.1" height="3.1" fill="#606060"/>
<rect x="162.7" y="179.4" width="8.1" height="3.1" fill="#4c4c4c"/>
<rect x="170.7" y="179.4" width="8.1" height="3.1" fill="#585858"/>
<rect x="34.7" y="182.4" width="8.1" height="3.1" fill="#b4b4b4"/>
<rect x="42.7" y="182.4" width="8.1" height="3.1" fill="#b1b1b1"/>
<rect x="50.7" y="182.4" width="8.1" height="3.1" fill="#adadad"/>
<rect x="58.7" y="182.4" width="8.1" height="3.1" fill="#a9a9a9"/>
<rect x="66.7" y="182.4" width="8.1" height="3.1" fill="#a4a4a4"/>
<rect x="74.7" y="182.4" width="8.1" height="3.1" fill="#a0a0a0"/>
<rect x="82.7" y="182.4" width="8.1" height="3.1" fill="#9b9b9b"/>
<rect x="90.7" y="182.4" width="8.1" height="3.1" fill="#959595"/>
<rect x="98.7" y="182.4" width="8.1" height="3.1" fill="#8f8f8f"/>
<rect x="106.7" y="182.4" width="8.1" height="3.1" fill="#898989"/>
<rect x="114.7" y="182.4" width="8.1" height="3.1" fill="#838383"/>
<rect x="122.7" y="182.4" width="8.1" height="3.1" fill="#7d7d7d"/>
<rect x="130.7" y="182.4" width="8.1" height="3.1" fill="#767676"/>
<rect x="138.7" y="182.4" width="8.1" height="3.1" fill="#6f6f6f"/>
<rect x="146.7" y="182.4" width="8.1" height="3.1" fill="#686868"/>
<rect x="154.7" y="182.4" width="8.1" height="3.1" fill="#626262"/>
<rect x="162.7" y="182.4" width="8.1" height="3.1" fill="#4e4e4e"/>
<rect x="170.7" y="182.4" width="8.1" height="3.1" fill="#5a5a5a"/>
<rect x="34.7" y="185.4" width="8.1" height="3.1" fill="#b7b7b7"/>
<rect x="42.7" y="185.4" width="8.1" height="3.1" fill="#b4b4b4"/>
<rect x="50.7" y="185.4" width="8.1" height="3.1" fill="#b0b0b0"/>
<rect x="58.7" y="185.4" width="8.1" height="3.1" fill="#acacac"/>
<rect x="66.7" y="185.4" width="8.1" height="3.1" fill="#a7a7a7"/>
<rect x="74.7" y="185.4" width="8.1" height="3.1" fill="#a2a2a2"/>
<rect x="82.7" y="185.4" width="8.1" height="3.1" fill="#9d9d9d"/>
<rect x="90.7" y="185.4" width="8.1" height="3.1" fill="#989898"/>
<rect x="98.7" y="185.4" width="8.1" height="3.1" fill="#929292"/>
<rect x="106.7" y="185.4" width="8.1" height="3.1" fill="#8c8c8c"/>
<rect x="114.7" y="185.4" width="8.1" height="3.1" fill="#858585"/>
<rect x="122.7" y="185.4" width="8.1" height="3.1" fill="#7f7f7f"/>
<rect x="130.7" y="185.4" width="8.1" height="3.1" fill="#787878"/>
<rect x="138.7" y="185.4" width="8.1" height="3.1" fill="#727272"/>
<rect x="146.7" y="185.4" width="8.1" height="3.1" fill="#6b6b6b"/>
<rect x="154.7" y="185.4" width="8.1" height="3.1" fill="#656565"/>
<rect x="162.7" y="185.4" width="8.1" height="3.1" fill="#515151"/>
<rect x="170.7" y="185.4" width="8.1" height="3.1" fill="#5d5d5d"/>
<rect x="34.7" y="188.4" width="8.1" height="3.1" fill="#c1c1c1"/>
<rect x="42.7" y="188.4" width="8.1" height="3.1" fill="#bdbdbd"/>
<rect x="50.7" y="188.4" width="8.1" height="3.1" fill="#b8b8b8"/>
<rect x="58.7" y="188.4" width="8.1" height="3.1" fill="#b4b4b4"/>
<rect x="66.7" y="188.4" width="8.1" height="3.1" fill="#afafaf"/>
<rect x="74.7" y="188.4" width="8.1" height="3.1" fill="#a9a9a9"/>
<rect x="82.7" y="188.4" width="8.1" height="3.1" fill="#a4a4a4"/>
<rect x="90.7" y="188.4" width="8.1" height="3.1" fill="#9e9e9e"/>
<rect x="98.7" y="188.4" width="8.1" height="3.1" fill="#989898"/>
<rect x="106.7" y="188.4" width="8.1" height="3.1" fill="#919191"/>
<rect x="114.7" y="188.4" width="8.1" height="3.1" fill="#8b8b8b"/>
<rect x="122.7" y="188.4" width="8.1" height="3.1" fill="#848484"/>
<rect x="130.7" y="188.4" width="8.1" height="3.1" fill="#7d7d7d"/>
<rect x="138.7" y="188.4" width="8.1" height="3.1" fill="#767676"/>
<rect x="146.7" y="188.4" width="8.1" height="3.1" fill="#6f6f6f"/>
<rect x="154.7" y="188.4" width="8.1" height="3.1" fill="#696969"/>
<rect x="162.7" y="188.4" width="8.1" height="3.1" fill="#545454"/>
<rect x="170.7" y="188.4" width="8.1" height="3.1" fill="#5f5f5f"/>
<rect x="34.7" y="191.4" width="8.1" height="3.1" fill="#cfcfcf"/>
<rect x="42.7" y="191.4" width="8.1" height="3.1" fill="#cacaca"/>
<rect x="50.7" y="191.4" width="8.1" height="3.1" fill="#c5c5c5"/>
<rect x="58.7" y="191.4" width="8.1" height="3.1" fill="#c0c0c0"/>
<rect x="66.7" y="191.4" width="8.1" height="3.1" fill="#bababa"/>
<rect x="74.7" y="191.4" width="8.1" height="3.1" fill="#b4b4b4"/>
<rect x="82.7" y="191.4" width="8.1" height="3.1" fill="#aeaeae"/>
<rect x="90.7" y="191.4" width="8.1" height="3.1" fill="#a7a7a7"/>
<rect x="98.7" y="191.4" width="8.1" height="3.1" fill="#a0a0a0"/>
<rect x="106.7" y="191.4" width="8.1" height="3.1" fill="#999999"/>
<rect x="114.7" y="191.4" width="8.1" height="3.1" fill="#929292"/>
<rect x="122.7" y="191.4" width="8.1" height="3.1" fill="#8b8b8b"/>
<rect x="130.7" y="191.4" width="8.1" height="3.1" fill="#838383"/>
<rect x="138.7" y="191.4" width="8.1" height="3.1" fill="#7c7c7c"/>
<rect x="146.7" y="191.4" width="8.1" height="3.1" fill="#747474"/>
<rect x="154.7" y="191.4" width="8.1" height="3.1" fill="#6e6e6e"/>
<rect x="162.7" y="191.4" width="8.1" height="3.1" fill="#595959"/>
<rect x="170.7" y="191.4" width="8.1" height="3.1" fill="#636363"/>
<rect x="34.7" y="194.4" width="8.1" height="3.1" fill="#d7d7d7"/>
<rect x="42.7" y="194.4" width="8.1" height="3.1" fill="#d1d1d1"/>
<rect x="50.7" y="194.4" width="8.1" height="3.1" fill="#cbcbcb"/>
<rect x="58.7" y="194.4" width="8.1" height="3.1" fill="#c6c6c6"/>
<rect x="66.7" y="194.4" width="8.1" height="3.1" fill="#c0c0c0"/>
<rect x="74.7" y="194.4" width="8.1" height="3.1" fill="#b9b9b9"/>
<rect x="82.7" y="194.4" width="8.1" height="3.1" fill="#b3b3b3"/>
<rect x="90.7" y="194.4" width="8.1" height="3.1" fill="#acacac"/>
<rect x="98.7" y="194.4" width="8.1" height="3.1" fill="#a5a5a5"/>
<rect x="106.7" y="194.4" width="8.1" height="3.1" fill="#9e9e9e"/>
<rect x="114.7" y="194.4" width="8.1" height="3.1" fill="#969696"/>
<rect x="122.7" y="194.4" width="8.1" height="3.1" fill="#8e8e8e"/>
<rect x="130.7" y="194.4" width="8.1" height="3.1" fill="#878787"/>
<rect x="138.7" y="194.4" width="8.1" height="3.1" fill="#7f7f7f"/>
<rect x="146.7" y="194.4" width="8.1" height="3.1" fill="#787878"/>
<rect x="154.7" y="194.4" width="8.1" height="3.1" fill="#717171"/>
<rect x="162.7" y="194.4" width="8.1" height="3.1" fill="#5b5b5b"/>
<rect x="170.7" y="194.4" width="8.1" height="3.1" fill="#656565"/>
<rect x="34.7" y="197.4" width="8.1" height="3.1" fill="#cecece"/>
<rect x="42.7" y="197.4" width="8.1" height="3.1" fill="#c9c9c9"/>
<rect x="50.7" y="197.4" width="8.1" height="3.1" fill="#c4c4c4"/>
<rect x="58.7" y="197.4" width="8.1" height="3.1" fill="#bfbfbf"/>
<rect x="66.7" y="197.4" width="8.1" height="3.1" fill="#b9b9b9"/>
<rect x="74.7" y="197.4" width="8.1" height="3.1" fill="#b3b3b3"/>
<rect x="82.7" y="197.4" width="8.1" height="3.1" fill="#adadad"/>
<rect x="90.7" y="197.4" width="8.1" height="3.1" fill="#a7a7a7"/>
<rect x="98.7" y="197.4" width="8.1" height="3.1" fill="#a0a0a0"/>
<rect x="106.7" y="197.4" width="8.1" height="3.1" fill="#999999"/>
<rect x="114.7" y="197.4" width="8.1" height="3.1" fill="#929292"/>
<rect x="122.7" y="197.4" width="8.1" height="3.1" fill="#8b8b8b"/>
<rect x="130.7" y="197.4" width="8.1" height="3.1" fill="#848484"/>
<rect x="138.7" y="197.4" width="8.1" height="3.1" fill="#7d7d7d"/>
<rect x="146.7" y="197.4" width="8.1" height="3.1" fill="#767676"/>
<rect x="154.7" y="197.4" width="8.1" height="3.1" fill="#707070"/>
<rect x="162.7" y="197.4" width="8.1" height="3.1" fill="#5b5b5b"/>
<rect x="170.7" y="197.4" width="8.1" height="3.1" fill="#656565"/>
<rect x="34.7" y="200.4" width="8.1" height="3.1" fill="#bebebe"/>
<rect x="42.7" y="200.4" width="8.1" height="3.1" fill="#b9b9b9"/>
<rect x="50.7" y="200.4" width="8.1" height="3.1" fill="#b5b5b5"/>
<rect x="58.7" y="200.4" width="8.1" height="3.1" fill="#b0b0b0"/>
<rect x="66.7" y="200.4" width="8.1" height="3.1" fill="#ababab"/>
<rect x="74.7" y="200.4" width="8.1" height="3.1" fill="#a6a6a6"/>
<rect x="82.7" y="200.4" width="8.1" height="3.1" fill="#a1a1a1"/>
<rect x="90.7" y="200.4" width="8.1" height="3.1" fill="#9c9c9c"/>
<rect x="98.7" y="200.4" width="8.1" height="3.1" fill="#969696"/>
<rect x="106.7" y="200.4" width="8.1" height="3.1" fill="#909090"/>
<rect x="114.7" y="200.4" width="8.1" height="3.1" fill="#8a8a8a"/>
<rect x="122.7" y="200.4" width="8.1" height="3.1" fill="#848484"/>
<rect x="130.7" y="200.4" width="8.1" height="3.1" fill="#7d7d7d"/>
<rect x="138.7" y="200.4" width="8.1" height="3.1" fill="#777777"/>
<rect x="146.7" y="200.4" width="8.1" height="3.1" fill="#717171"/>
<rect x="154.7" y="200.4" width="8.1" height="3.1" fill="#6b6b6b"/>
<rect x="162.7" y="200.4" width="8.1" height="3.1" fill="#575757"/>
<rect x="170.7" y="200.4" width="8.1" height="3.1" fill="#626262"/>
<rect x="34.7" y="203.4" width="8.1" height="3.1" fill="#afafaf"/>
<rect x="42.7" y="203.4" width="8.1" height="3.1" fill="#ababab"/>
<rect x="50.7" y="203.4" width="8.1" height="3.1" fill="#a7a7a7"/>
<rect x="58.7" y="203.4" width="8.1" height="3.1" fill="#a2a2a2"/>
<rect x="66.7" y="203.4" width="8.1" height="3.1" fill="#9e9e9e"/>
<rect x="74.7" y="203.4" width="8.1" height="3.1" fill="#999999"/>
<rect x="82.7" y="203.4" width="8.1" height="3.1" fill="#949494"/>
<rect x="90.7" y="203.4" width="8.1" height="3.1" fill="#8f8f8f"/>
<rect x="98.7" y="203.4" width="8.1" height="3.1" fill="#8a8a8a"/>
<rect x="106.7" y="203.4" width="8.1" height="3.1" fill="#848484"/>
<rect x="114.7" y="203.4" width="8.1" height="3.1" fill="#7f7f7f"/>
<rect x="122.7" y="203.4" width="8.1" height="3.1" fill="#797979"/>
<rect x="130.7" y="203.4" width="8.1" height="3.1" fill="#737373"/>
<rect x="138.7" y="203.4" width="8.1" height="3.1" fill="#6d6d6d"/>
<rect x="146.7" y="203.4" width="8.1" height="3.1" fill="#686868"/>
<rect x="154.7" y="203.4" width="8.1" height="3.1" fill="#636363"/>
<rect x="162.7" y="203.4" width="8.1" height="3.1" fill="#4f4f4f"/>
<rect x="170.7" y="203.4" width="8.1" height="3.1" fill="#5a5a5a"/>
<rect x="34.7" y="206.4" width="8.1" height="3.1" fill="#a4a4a4"/>
<rect x="42.7" y="206.4" width="8.1" height="3.1" fill="#a0a0a0"/>
<rect x="50.7" y="206.4" width="8.1" height="3.1" fill="#9c9c9c"/>
<rect x="58.7" y="206.4" width="8.1" height="3.1" fill="#979797"/>
<rect x="66.7" y="206.4" width="8.1" height="3.1" fill="#929292"/>
<rect x="74.7" y="206.4" width="8.1" height="3.1" fill="#8e8e8e"/>
<rect x="82.7" y="206.4" width="8.1" height="3.1" fill="#898989"/>
<rect x="90.7" y="206.4" width="8.1" height="3.1" fill="#838383"/>
<rect x="98.7" y="206.4" width="8.1" height="3.1" fill="#7e7e7e"/>
<rect x="106.7" y="206.4" width="8.1" height="3.1" fill="#797979"/>
<rect x="114.7" y="206.4" width="8.1" height="3.1" fill="#737373"/>
<rect x="122.7" y="206.4" width="8.1" height="3.1" fill="#6d6d6d"/>
<rect x="130.7" y="206.4" width="8.1" height="3.1" fill="#676767"/>
<rect x="138.7" y="206.4" width="8.1" height="3.1" fill="#626262"/>
<rect x="146.7" y="206.4" width="8.1" height="3.1" fill="#5c5c5c"/>
<rect x="154.7" y="206.4" width="8.1" height="3.1" fill="#575757"/>
<rect x="162.7" y="206.4" width="8.1" height="3.1" fill="#434343"/>
<rect x="170.7" y="206.4" width="8.1" height="3.1" fill="#4e4e4e"/>
<rect x="34.7" y="209.4" width="8.1" height="3.1" fill="#9b9b9b"/>
<rect x="42.7" y="209.4" width="8.1" height="3.1" fill="#979797"/>
<rect x="50.7" y="209.4" width="8.1" height="3.1" fill="#929292"/>
<rect x="58.7" y="209.4" width="8.1" height="3.1" fill="#8e8e8e"/>
<rect x="66.7" y="209.4" width="8.1" height="3.1" fill="#898989"/>
<rect x="74.7" y="209.4" width="8.1" height="3.1" fill="#848484"/>
<rect x="82.7" y="209.4" width="8.1" height="3.1" fill="#7e7e7e"/>
<rect x="90.7" y="209.4" width="8.1" height="3.1" fill="#797979"/>
<rect x="98.7" y="209.4" width="8.1" height="3.1" fill="#737373"/>
<rect x="106.7" y="209.4" width="8.1" height="3.1" fill="#6e6e6e"/>
<rect x="114.7" y="209.4" width="8.1" height="3.1" fill="#686868"/>
<rect x="122.7" y="209.4" width="8.1" height="3.1" fill="#626262"/>
<rect x="130.7" y="209.4" width="8.1" height="3.1" fill="#5c5c5c"/>
<rect x="138.7" y="209.4" width="8.1" height="3.1" fill="#565656"/>
<rect x="146.7" y="209.4" width="8.1" height="3.1" fill="#515151"/>
<rect x="154.7" y="209.4" width="8.1" height="3.1" fill="#4b4b4b"/>
<rect x="162.7" y="209.4" width="8.1" height="3.1" fill="#373737"/>
<rect x="170.7" y="209.4" width="8.1" height="3.1" fill="#424242"/>
<rect x="34.7" y="212.4" width="8.1" height="3.1" fill="#979797"/>
<rect x="42.7" y="212.4" width="8.1" height="3.1" fill="#929292"/>
<rect x="50.7" y="212.4" width="8.1" height="3.1" fill="#8d8d8d"/>
<rect x="58.7" y="212.4" width="8.1" height="3.1" fill="#888888"/>
<rect x="66.7" y="212.4" width="8.1" height="3.1" fill="#838383"/>
<rect x="74.7" y="212.4" width="8.1" height="3.1" fill="#7e7e7e"/>
<rect x="82.7" y="212.4" width="8.1" height="3.1" fill="#787878"/>
<rect x="90.7" y="212.4" width="8.1" height="3.1" fill="#737373"/>
<rect x="98.7" y="212.4" width="8.1" height="3.1" fill="#6d6d6d"/>
<rect x="106.7" y="212.4" width="8.1" height="3.1" fill="#676767"/>
<rect x="114.7" y="212.4" width="8.1" height="3.1" fill="#616161"/>
<rect x="122.7" y="212.4" width="8.1" height="3.1" fill="#5b5b5b"/>
<rect x="130.7" y="212.4" width="8.1" height="3.1" fill="#555555"/>
<rect x="138.7" y="212.4" width="8.1" height="3.1" fill="#4f4f4f"/>
<rect x="146.7" y="212.4" width="8.1" height="3.1" fill="#494949"/>
<rect x="154.7" y="212.4" width="8.1" height="3.1" fill="#434343"/>
<rect x="162.7" y="212.4" width="8.1" height="3.1" fill="#2f2f2f"/>
<rect x="170.7" y="212.4" width="8.1" height="3.1" fill="#3a3a3a"/>
<rect x="34.7" y="215.4" width="8.1" height="3.1" fill="#999999"/>
<rect x="42.7" y="215.4" width="8.1" height="3.1" fill="#949494"/>
<rect x="50.7" y="215.4" width="8.1" height="3.1" fill="#8f8f8f"/>
<rect x="58.7" y="215.4" width="8.1" height="3.1" fill="#8a8a8a"/>
<rect x="66.7" y="215.4" width="8.1" height="3.1" fill="#848484"/>
<rect x="74.7" y="215.4" width="8.1" height="3.1" fill="#7f7f7f"/>
<rect x="82.7" y="215.4" width="8.1" height="3.1" fill="#797979"/>
<rect x="90.7" y="215.4" width="8.1" height="3.1" fill="#737373"/>
<rect x="98.7" y="215.4" width="8.1" height="3.1" fill="#6d6d6d"/>
<rect x="106.7" y="215.4" width="8.1" height="3.1" fill="#676767"/>
<rect x="114.7" y="215.4" width="8.1" height="3.1" fill="#606060"/>
<rect x="122.7" y="215.4" width="8.1" height="3.1" fill="#5a5a5a"/>
<rect x="130.7" y="215.4" width="8.1" height="3.1" fill="#545454"/>
<rect x="138.7" y="215.4" width="8.1" height="3.1" fill="#4d4d4d"/>
<rect x="146.7" y="215.4" width="8.1" height="3.1" fill="#484848"/>
<rect x="154.7" y="215.4" width="8.1" height="3.1" fill="#424242"/>
<rect x="162.7" y="215.4" width="8.1" height="3.1" fill="#2d2d2d"/>
<rect x="170.7" y="215.4" width="8.1" height="3.1" fill="#373737"/>
<rect x="34.7" y="218.4" width="8.1" height="3.1" fill="#a1a1a1"/>
<rect x="42.7" y="218.4" width="8.1" height="3.1" fill="#9c9c9c"/>
<rect x="50.7" y="218.4" width="8.1" height="3.1" fill="#979797"/>
<rect x="58.7" y="218.4" width="8.1" height="3.1" fill="#919191"/>
<rect x="66.7" y="218.4" width="8.1" height="3.1" fill="#8b8b8b"/>
<rect x="74.7" y="218.4" width="8.1" height="3.1" fill="#858585"/>
<rect x="82.7" y="218.4" width="8.1" height="3.1" fill="#7f7f7f"/>
<rect x="90.7" y="218.4" width="8.1" height="3.1" fill="#797979"/>
<rect x="98.7" y="218.4" width="8.1" height="3.1" fill="#727272"/>
<rect x="106.7" y="218.4" width="8.1" height="3.1" fill="#6c6c6c"/>
<rect x="114.7" y="218.4" width="8.1" height="3.1" fill="#656565"/>
<rect x="122.7" y="218.4" width="8.1" height="3.1" fill="#5f5f5f"/>
<rect x="130.7" y="218.4" width="8.1" height="3.1" fill="#585858"/>
<rect x="138.7" y="218.4" width="8.1" height="3.1" fill="#525252"/>
<rect x="146.7" y="218.4" width="8.1" height="3.1" fill="#4c4c4c"/>
<rect x="154.7" y="218.4" width="8.1" height="3.1" fill="#464646"/>
<rect x="162.7" y="218.4" width="8.1" height="3.1" fill="#313131"/>
<rect x="170.7" y="218.4" width="8.1" height="3.1" fill="#3b3b3b"/>
<rect x="34.7" y="221.4" width="8.1" height="3.1" fill="#ababab"/>
<rect x="42.7" y="221.4" width="8.1" height="3.1" fill="#a6a6a6"/>
<rect x="50.7" y="221.4" width="8.1" height="3.1" fill="#a0a0a0"/>
<rect x="58.7" y="221.4" width="8.1" height="3.1" fill="#9a9a9a"/>
<rect x="66.7" y="221.4" width="8.1" height="3.1" fill="#949494"/>
<rect x="74.7" y="221.4" width="8.1" height="3.1" fill="#8e8e8e"/>
<rect x="82.7" y="221.4" width="8.1" height="3.1" fill="#888888"/>
<rect x="90.7" y="221.4" width="8.1" height="3.1" fill="#818181"/>
<rect x="98.7" y="221.4" width="8.1" height="3.1" fill="#7b7b7b"/>
<rect x="106.7" y="221.4" width="8.1" height="3.1" fill="#747474"/>
<rect x="114.7" y="221.4" width="8.1" height="3.1" fill="#6d6d6d"/>
<rect x="122.7" y="221.4" width="8.1" height="3.1" fill="#666666"/>
<rect x="130.7" y="221.4" width="8.1" height="3.1" fill="#606060"/>
<rect x="138.7" y="221.4" width="8.1" height="3.1" fill="#595959"/>
<rect x="146.7" y="221.4" width="8.1" height="3.1" fill="#535353"/>
<rect x="154.7" y="221.4" width="8.1" height="3.1" fill="#4d4d4d"/>
<rect x="162.7" y="221.4" width="8.1" height="3.1" fill="#383838"/>
<rect x="170.7" y="221.4" width="8.1" height="3.1" fill="#424242"/>
<rect x="34.7" y="224.4" width="8.1" height="3.1" fill="#b3b3b3"/>
<rect x="42.7" y="224.4" width="8.1" height="3.1" fill="#adadad"/>
<rect x="50.7" y="224.4" width="8.1" height="3.1" fill="#a8a8a8"/>
<rect x="58.7" y="224.4" width="8.1" height="3.1" fill="#a2a2a2"/>
<rect x="66.7" y="224.4" width="8.1" height="3.1" fill="#9c9c9c"/>
<rect x="74.7" y="224.4" width="8.1" height="3.1" fill="#969696"/>
<rect x="82.7" y="224.4" width="8.1" height="3.1" fill="#8f8f8f"/>
<rect x="90.7" y="224.4" width="8.1" height="3.1" fill="#898989"/>
<rect x="98.7" y="224.4" width="8.1" height="3.1" fill="#828282"/>
<rect x="106.7" y="224.4" width="8.1" height="3.1" fill="#7b7b7b"/>
<rect x="114.7" y="224.4" width="8.1" height="3.1" fill="#757575"/>
<rect x="122.7" y="224.4" width="8.1" height="3.1" fill="#6e6e6e"/>
<rect x="130.7" y="224.4" width="8.1" height="3.1" fill="#676767"/>
<rect x="138.7" y="224.4" width="8.1" height="3.1" fill="#616161"/>
<rect x="146.7" y="224.4" width="8.1" height="3.1" fill="#5b5b5b"/>
<rect x="154.7" y="224.4" width="8.1" height="3.1" fill="#555555"/>
<rect x="162.7" y="224.4" width="8.1" height="3.1" fill="#404040"/>
<rect x="170.7" y="224.4" width="8.1" height="3.1" fill="#494949"/>
<rect x="34.7" y="227.4" width="8.1" height="3.1" fill="#b8b8b8"/>
<rect x="42.7" y="227.4" width="8.1" height="3.1" fill="#b2b2b2"/>
<rect x="50.7" y="227.4" width="8.1" height="3.1" fill="#adadad"/>
<rect x="58.7" y="227.4" width="8.1" height="3.1" fill="#a7a7a7"/>
<rect x="66.7" y="227.4" width="8.1" height="3.1" fill="#a1a1a1"/>
<rect x="74.7" y="227.4" width="8.1" height="3.1" fill="#9a9a9a"/>
<rect x="82.7" y="227.4" width="8.1" height="3.1" fill="#949494"/>
<rect x="90.7" y="227.4" width="8.1" height="3.1" fill="#8d8d8d"/>
<rect x="98.7" y="227.4" width="8.1" height="3.1" fill="#868686"/>
<rect x="106.7" y="227.4" width="8.1" height="3.1" fill="#808080"/>
<rect x="114.7" y="227.4" width="8.1" height="3.1" fill="#797979"/>
<rect x="122.7" y="227.4" width="8.1" height="3.1" fill="#727272"/>
<rect x="130.7" y="227.4" width="8.1" height="3.1" fill="#6c6c6c"/>
<rect x="138.7" y="227.4" width="8.1" height="3.1" fill="#656565"/>
<rect x="146.7" y="227.4" width="8.1" height="3.1" fill="#5f5f5f"/>
<rect x="154.7" y="227.4" width="8.1" height="3.1" fill="#595959"/>
<rect x="162.7" y="227.4" width="8.1" height="3.1" fill="#444444"/>
<rect x="170.7" y="227.4" width="8.1" height="3.1" fill="#4e4e4e"/>
<rect x="34.7" y="230.4" width="8.1" height="3.1" fill="#bababa"/>
<rect x="42.7" y="230.4" width="8.1" height="3.1" fill="#b5b5b5"/>
<rect x="50.7" y="230.4" width="8.1" height="3.1" fill="#afafaf"/>
<rect x="58.7" y="230.4" width="8.1" height="3.1" fill="#a9a9a9"/>
<rect x="66.7" y="230.4" width="8.1" height="3.1" fill="#a3a3a3"/>
<rect x="74.7" y="230.4" width="8.1" height="3.1" fill="#9d9d9d"/>
<rect x="82.7" y="230.4" width="8.1" height="3.1" fill="#969696"/>
<rect x="90.7" y="230.4" width="8.1" height="3.1" fill="#8f8f8f"/>
<rect x="98.7" y="230.4" width="8.1" height="3.1" fill="#898989"/>
<rect x="106.7" y="230.4" width="8.1" height="3.1" fill="#828282"/>
<rect x="114.7" y="230.4" width="8.1" height="3.1" fill="#7b7b7b"/>
<rect x="122.7" y="230.4" width="8.1" height="3.1" fill="#757575"/>
<rect x="130.7" y="230.4" width="8.1" height="3.1" fill="#6e6e6e"/>
<rect x="138.7" y="230.4" width="8.1" height="3.1" fill="#686868"/>
<rect x="146.7" y="230.4" width="8.1" height="3.1" fill="#616161"/>
<rect x="154.7" y="230.4" width="8.1" height="3.1" fill="#5b5b5b"/>
<rect x="162.7" y="230.4" width="8.1" height="3.1" fill="#474747"/>
<rect x="170.7" y="230.4" width="8.1" height="3.1" fill="#505050"/>
<rect x="34.7" y="233.4" width="8.1" height="3.1" fill="#bababa"/>
<rect x="42.7" y="233.4" width="8.1" height="3.1" fill="#b5b5b5"/>
<rect x="50.7" y="233.4" width="8.1" height="3.1" fill="#afafaf"/>
<rect x="58.7" y="233.4" width="8.1" height="3.1" fill="#a9a9a9"/>
<rect x="66.7" y="233.4" width="8.1" height="3.1" fill="#a3a3a3"/>
<rect x="74.7" y="233.4" width="8.1" height="3.1" fill="#9c9c9c"/>
<rect x="82.7" y="233.4" width="8.1" height="3.1" fill="#969696"/>
<rect x="90.7" y="233.4" width="8.1" height="3.1" fill="#8f8f8f"/>
<rect x="98.7" y="233.4" width="8.1" height="3.1" fill="#888888"/>
<rect x="106.7" y="233.4" width="8.1" height="3.1" fill="#818181"/>
<rect x="114.7" y="233.4" width="8.1" height="3.1" fill="#7b7b7b"/>
<rect x="122.7" y="233.4" width="8.1" height="3.1" fill="#747474"/>
<rect x="130.7" y="233.4" width="8.1" height="3.1" fill="#6d6d6d"/>
<rect x="138.7" y="233.4" width="8.1" height="3.1" fill="#676767"/>
<rect x="146.7" y="233.4" width="8.1" height="3.1" fill="#616161"/>
<rect x="154.7" y="233.4" width="8.1" height="3.1" fill="#5b5b5b"/>
<rect x="162.7" y="233.4" width="8.1" height="3.1" fill="#464646"/>
<rect x="170.7" y="233.4" width="8.1" height="3.1" fill="#505050"/>
<rect x="34.7" y="236.4" width="8.1" height="3.1" fill="#b5b5b5"/>
<rect x="42.7" y="236.4" width="8.1" height="3.1" fill="#b0b0b0"/>
<rect x="50.7" y="236.4" width="8.1" height="3.1" fill="#aaaaaa"/>
<rect x="58.7" y="236.4" width="8.1" height="3.1" fill="#a4a4a4"/>
<rect x="66.7" y="236.4" width="8.1" height="3.1" fill="#9e9e9e"/>
<rect x="74.7" y="236.4" width="8.1" height="3.1" fill="#979797"/>
<rect x="82.7" y="236.4" width="8.1" height="3.1" fill="#909090"/>
<rect x="90.7" y="236.4" width="8.1" height="3.1" fill="#8a8a8a"/>
<rect x="98.7" y="236.4" width="8.1" height="3.1" fill="#838383"/>
<rect x="106.7" y="236.4" width="8.1" height="3.1" fill="#7c7c7c"/>
<rect x="114.7" y="236.4" width="8.1" height="3.1" fill="#757575"/>
<rect x="122.7" y="236.4" width="8.1" height="3.1" fill="#6f6f6f"/>
<rect x="130.7" y="236.4" width="8.1" height="3.1" fill="#686868"/>
<rect x="138.7" y="236.4" width="8.1" height="3.1" fill="#626262"/>
<rect x="146.7" y="236.4" width="8.1" height="3.1" fill="#5c5c5c"/>
<rect x="154.7" y="236.4" width="8.1" height="3.1" fill="#555555"/>
<rect x="162.7" y="236.4" width="8.1" height="3.1" fill="#414141"/>
<rect x="170.7" y="236.4" width="8.1" height="3.1" fill="#4a4a4a"/>
<rect x="34.7" y="239.4" width="8.1" height="3.1" fill="#b5b5b5"/>
<rect x="42.7" y="239.4" width="8.1" height="3.1" fill="#afafaf"/>
<rect x="50.7" y="239.4" width="8.1" height="3.1" fill="#aaaaaa"/>
<rect x="58.7" y="239.4" width="8.1" height="3.1" fill="#a3a3a3"/>
<rect x="66.7" y="239.4" width="8.1" height="3.1" fill="#9d9d9d"/>
<rect x="74.7" y="239.4" width="8.1" height="3.1" fill="#969696"/>
<rect x="82.7" y="239.4" width="8.1" height="3.1" fill="#909090"/>
<rect x="90.7" y="239.4" width="8.1" height="3.1" fill="#898989"/>
<rect x="98.7" y="239.4" width="8.1" height="3.1" fill="#828282"/>
<rect x="106.7" y="239.4" width="8.1" height="3.1" fill="#7b7b7b"/>
<rect x="114.7" y="239.4" width="8.1" height="3.1" fill="#747474"/>
<rect x="122.7" y="239.4" width="8.1" height="3.1" fill="#6e6e6e"/>
<rect x="130.7" y="239.4" width="8.1" height="3.1" fill="#676767"/>
<rect x="138.7" y="239.4" width="8.1" height="3.1" fill="#616161"/>
<rect x="146.7" y="239.4" width="8.1" height="3.1" fill="#5b5b5b"/>
<rect x="154.7" y="239.4" width="8.1" height="3.1" fill="#545454"/>
<rect x="162.7" y="239.4" width="8.1" height="3.1" fill="#404040"/>
<rect x="170.7" y="239.4" width="8.1" height="3.1" fill="#494949"/>
<rect x="34.7" y="242.4" width="8.1" height="3.1" fill="#bcbcbc"/>
<rect x="42.7" y="242.4" width="8.1" height="3.1" fill="#b6b6b6"/>
<rect x="50.7" y="242.4" width="8.1" height="3.1" fill="#b1b1b1"/>
<rect x="58.7" y="242.4" width="8.1" height="3.1" fill="#ababab"/>
<rect x="66.7" y="242.4" width="8.1" height="3.1" fill="#a4a4a4"/>
<rect x="74.7" y="242.4" width="8.1" height="3.1" fill="#9e9e9e"/>
<rect x="82.7" y="242.4" width="8.1" height="3.1" fill="#979797"/>
<rect x="90.7" y="242.4" width="8.1" height="3.1" fill="#909090"/>
<rect x="98.7" y="242.4" width="8.1" height="3.1" fill="#898989"/>
<rect x="106.7" y="242.4" width="8.1" height="3.1" fill="#828282"/>
<rect x="114.7" y="242.4" width="8.1" height="3.1" fill="#7b7b7b"/>
<rect x="122.7" y="242.4" width="8.1" height="3.1" fill="#747474"/>
<rect x="130.7" y="242.4" width="8.1" height="3.1" fill="#6e6e6e"/>
<rect x="138.7" y="242.4" width="8.1" height="3.1" fill="#676767"/>
<rect x="146.7" y="242.4" width="8.1" height="3.1" fill="#616161"/>
<rect x="154.7" y="242.4" width="8.1" height="3.1" fill="#5b5b5b"/>
<rect x="162.7" y="242.4" width="8.1" height="3.1" fill="#464646"/>
<rect x="170.7" y="242.4" width="8.1" height="3.1" fill="#505050"/>
<rect x="34.7" y="245.4" width="8.1" height="3.1" fill="#c0c0c0"/>
<rect x="42.7" y="245.4" width="8.1" height="3.1" fill="#bababa"/>
<rect x="50.7" y="245.4" width="8.1" height="3.1" fill="#b5b5b5"/>
<rect x="58.7" y="245.4" width="8.1" height="3.1" fill="#aeaeae"/>
<rect x="66.7" y="245.4" width="8.1" height="3.1" fill="#a8a8a8"/>
<rect x="74.7" y="245.4" width="8.1" height="3.1" fill="#a1a1a1"/>
<rect x="82.7" y="245.4" width="8.1" height="3.1" fill="#9a9a9a"/>
<rect x="90.7" y="245.4" width="8.1" height="3.1" fill="#939393"/>
<rect x="98.7" y="245.4" width="8.1" height="3.1" fill="#8c8c8c"/>
<rect x="106.7" y="245.4" width="8.1" height="3.1" fill="#858585"/>
<rect x="114.7" y="245.4" width="8.1" height="3.1" fill="#7e7e7e"/>
<rect x="122.7" y="245.4" width="8.1" height="3.1" fill="#787878"/>
<rect x="130.7" y="245.4" width="8.1" height="3.1" fill="#717171"/>
<rect x="138.7" y="245.4" width="8.1" height="3.1" fill="#6b6b6b"/>
<rect x="146.7" y="245.4" width="8.1" height="3.1" fill="#656565"/>
<rect x="154.7" y="245.4" width="8.1" height="3.1" fill="#5e5e5e"/>
<rect x="162.7" y="245.4" width="8.1" height="3.1" fill="#4a4a4a"/>
<rect x="170.7" y="245.4" width="8.1" height="3.1" fill="#535353"/>
<rect x="34.7" y="248.4" width="8.1" height="3.1" fill="#c1c1c1"/>
<rect x="42.7" y="248.4" width="8.1" height="3.1" fill="#bcbcbc"/>
<rect x="50.7" y="248.4" width="8.1" height="3.1" fill="#b6b6b6"/>
<rect x="58.7" y="248.4" width="8.1" height="3.1" fill="#b0b0b0"/>
<rect x="66.7" y="248.4" width="8.1" height="3.1" fill="#a9a9a9"/>
<rect x="74.7" y="248.4" width="8.1" height="3.1" fill="#a2a2a2"/>
<rect x="82.7" y="248.4" width="8.1" height="3.1" fill="#9b9b9b"/>
<rect x="90.7" y="248.4" width="8.1" height="3.1" fill="#949494"/>
<rect x="98.7" y="248.4" width="8.1" height="3.1" fill="#8d8d8d"/>
<rect x="106.7" y="248.4" width="8.1" height="3.1" fill="#868686"/>
<rect x="114.7" y="248.4" width="8.1" height="3.1" fill="#7f7f7f"/>
<rect x="122.7" y="248.4" width="8.1" height="3.1" fill="#787878"/>
<rect x="130.7" y="248.4" width="8.1" height="3.1" fill="#727272"/>
<rect x="138.7" y="248.4" width="8.1" height="3.1" fill="#6b6b6b"/>
<rect x="146.7" y="248.4" width="8.1" height="3.1" fill="#656565"/>
<rect x="154.7" y="248.4" width="8.1" height="3.1" fill="#5f5f5f"/>
<rect x="162.7" y="248.4" width="8.1" height="3.1" fill="#4a4a4a"/>
<rect x="170.7" y="248.4" width="8.1" height="3.1" fill="#545454"/>
<rect x="34.7" y="251.4" width="8.1" height="3.1" fill="#c2c2c2"/>
<rect x="42.7" y="251.4" width="8.1" height="3.1" fill="#bcbcbc"/>
<rect x="50.7" y="251.4" width="8.1" height="3.1" fill="#b7b7b7"/>
<rect x="58.7" y="251.4" width="8.1" height="3.1" fill="#b0b0b0"/>
<rect x="66.7" y="251.4" width="8.1" height="3.1" fill="#aaaaaa"/>
<rect x="74.7" y="251.4" width="8.1" height="3.1" fill="#a3a3a3"/>
<rect x="82.7" y="251.4" width="8.1" height="3.1" fill="#9c9c9c"/>
<rect x="90.7" y="251.4" width="8.1" height="3.1" fill="#959595"/>
<rect x="98.7" y="251.4" width="8.1" height="3.1" fill="#8d8d8d"/>
<rect x="106.7" y="251.4" width="8.1" height="3.1" fill="#868686"/>
<rect x="114.7" y="251.4" width="8.1" height="3.1" fill="#7f7f7f"/>
<rect x="122.7" y="251.4" width="8.1" height="3.1" fill="#797979"/>
<rect x="130.7" y="251.4" width="8.1" height="3.1" fill="#727272"/>
<rect x="138.7" y="251.4" width="8.1" height="3.1" fill="#6c6c6c"/>
<rect x="146.7" y="251.4" width="8.1" height="3.1" fill="#666666"/>
<rect x="154.7" y="251.4" width="8.1" height="3.1" fill="#5f5f5f"/>
<rect x="162.7" y="251.4" width="8.1" height="3.1" fill="#4b4b4b"/>
<rect x="170.7" y="251.4" width="8.1" height="3.1" fill="#545454"/>
<rect x="34.7" y="254.4" width="8.1" height="3.1" fill="#c2c2c2"/>
<rect x="42.7" y="254.4" width="8.1" height="3.1" fill="#bdbdbd"/>
<rect x="50.7" y="254.4" width="8.1" height="3.1" fill="#b7b7b7"/>
<rect x="58.7" y="254.4" width="8.1" height="3.1" fill="#b1b1b1"/>
<rect x="66.7" y="254.4" width="8.1" height="3.1" fill="#aaaaaa"/>
<rect x="74.7" y="254.4" width="8.1" height="3.1" fill="#a3a3a3"/>
<rect x="82.7" y="254.4" width="8.1" height="3.1" fill="#9c9c9c"/>
<rect x="90.7" y="254.4" width="8.1" height="3.1" fill="#959595"/>
<rect x="98.7" y="254.4" width="8.1" height="3.1" fill="#8e8e8e"/>
<rect x="106.7" y="254.4" width="8.1" height="3.1" fill="#878787"/>
<rect x="114.7" y="254.4" width="8.1" height="3.1" fill="#808080"/>
<rect x="122.7" y="254.4" width="8.1" height="3.1" fill="#797979"/>
<rect x="130.7" y="254.4" width="8.1" height="3.1" fill="#727272"/>
<rect x="138.7" y="254.4" width="8.1" height="3.1" fill="#6c6c6c"/>
<rect x="146.7" y="254.4" width="8.1" height="3.1" fill="#666666"/>
<rect x="154.7" y="254.4" width="8.1" height="3.1" fill="#606060"/>
<rect x="162.7" y="254.4" width="8.1" height="3.1" fill="#4b4b4b"/>
<rect x="170.7" y="254.4" width="8.1" height="3.1" fill="#545454"/>
<rect x="34.7" y="257.4" width="8.1" height="3.1" fill="#c3c3c3"/>
<rect x="42.7" y="257.4" width="8.1" height="3.1" fill="#bebebe"/>
<rect x="50.7" y="257.4" width="8.1" height="3.1" fill="#b8b8b8"/>
<rect x="58.7" y="257.4" width="8.1" height="3.1" fill="#b2b2b2"/>
<rect x="66.7" y="257.4" width="8.1" height="3.1" fill="#ababab"/>
<rect x="74.7" y="257.4" width="8.1" height="3.1" fill="#a4a4a4"/>
<rect x="82.7" y="257.4" width="8.1" height="3.1" fill="#9d9d9d"/>
<rect x="90.7" y="257.4" width="8.1" height="3.1" fill="#969696"/>
<rect x="98.7" y="257.4" width="8.1" height="3.1" fill="#8e8e8e"/>
<rect x="106.7" y="257.4" width="8.1" height="3.1" fill="#878787"/>
<rect x="114.7" y="257.4" width="8.1" height="3.1" fill="#808080"/>
<rect x="122.7" y="257.4" width="8.1" height="3.1" fill="#797979"/>
<rect x="130.7" y="257.4" width="8.1" height="3.1" fill="#737373"/>
<rect x="138.7" y="257.4" width="8.1" height="3.1" fill="#6c6c6c"/>
<rect x="146.7" y="257.4" width="8.1" height="3.1" fill="#666666"/>
<rect x="154.7" y="257.4" width="8.1" height="3.1" fill="#606060"/>
<rect x="162.7" y="257.4" width="8.1" height="3.1" fill="#4b4b4b"/>
<rect x="170.7" y="257.4" width="8.1" height="3.1" fill="#555555"/>
<rect x="34.7" y="260.4" width="8.1" height="3.1" fill="#c4c4c4"/>
<rect x="42.7" y="260.4" width="8.1" height="3.1" fill="#bebebe"/>
<rect x="50.7" y="260.4" width="8.1" height="3.1" fill="#b8b8b8"/>
<rect x="58.7" y="260.4" width="8.1" height="3.1" fill="#b2b2b2"/>
<rect x="66.7" y="260.4" width="8.1" height="3.1" fill="#ababab"/>
<rect x="74.7" y="260.4" width="8.1" height="3.1" fill="#a4a4a4"/>
<rect x="82.7" y="260.4" width="8.1" height="3.1" fill="#9d9d9d"/>
<rect x="90.7" y="260.4" width="8.1" height="3.1" fill="#969696"/>
<rect x="98.7" y="260.4" width="8.1" height="3.1" fill="#8f8f8f"/>
<rect x="106.7" y="260.4" width="8.1" height="3.1" fill="#878787"/>
<rect x="114.7" y="260.4" width="8.1" height="3.1" fill="#808080"/>
<rect x="122.7" y="260.4" width="8.1" height="3.1" fill="#7a7a7a"/>
<rect x="130.7" y="260.4" width="8.1" height="3.1" fill="#737373"/>
<rect x="138.7" y="260.4" width="8.1" height="3.1" fill="#6d6d6d"/>
<rect x="146.7" y="260.4" width="8.1" height="3.1" fill="#666666"/>
<rect x="154.7" y="260.4" width="8.1" height="3.1" fill="#606060"/>
<rect x="162.7" y="260.4" width="8.1" height="3.1" fill="#4b4b4b"/>
<rect x="170.7" y="260.4" width="8.1" height="3.1" fill="#555555"/>
<rect x="34.7" y="263.4" width="8.1" height="3.1" fill="#c4c4c4"/>
<rect x="42.7" y="263.4" width="8.1" height="3.1" fill="#bfbfbf"/>
<rect x="50.7" y="263.4" width="8.1" height="3.1" fill="#b9b9b9"/>
<rect x="58.7" y="263.4" width="8.1" height="3.1" fill="#b2b2b2"/>
<rect x="66.7" y="263.4" width="8.1" height="3.1" fill="#acacac"/>
<rect x="74.7" y="263.4" width="8.1" height="3.1" fill="#a5a5a5"/>
<rect x="82.7" y="263.4" width="8.1" height="3.1" fill="#9d9d9d"/>
<rect x="90.7" y="263.4" width="8.1" height="3.1" fill="#969696"/>
<rect x="98.7" y="263.4" width="8.1" height="3.1" fill="#8f8f8f"/>
<rect x="106.7" y="263.4" width="8.1" height="3.1" fill="#888888"/>
<rect x="114.7" y="263.4" width="8.1" height="3.1" fill="#818181"/>
<rect x="122.7" y="263.4" width="8.1" height="3.1" fill="#7a7a7a"/>
<rect x="130.7" y="263.4" width="8.1" height="3.1" fill="#737373"/>
<rect x="138.7" y="263.4" width="8.1" height="3.1" fill="#6d6d6d"/>
<rect x="146.7" y="263.4" width="8.1" height="3.1" fill="#676767"/>
<rect x="154.7" y="263.4" width="8.1" height="3.1" fill="#606060"/>
<rect x="162.7" y="263.4" width="8.1" height="3.1" fill="#4c4c4c"/>
<rect x="170.7" y="263.4" width="8.1" height="3.1" fill="#555555"/>
<rect x="34.7" y="266.4" width="8.1" height="3.1" fill="#c4c4c4"/>
<rect x="42.7" y="266.4" width="8.1" height="3.1" fill="#bfbfbf"/>
<rect x="50.7" y="266.4" width="8.1" height="3.1" fill="#b9b9b9"/>
<rect x="58.7" y="266.4" width="8.1" height="3.1" fill="#b3b3b3"/>
<rect x="66.7" y="266.4" width="8.1" height="3.1" fill="#acacac"/>
<rect x="74.7" y="266.4" width="8.1" height="3.1" fill="#a5a5a5"/>
<rect x="82.7" y="266.4" width="8.1" height="3.1" fill="#9e9e9e"/>
<rect x="90.7" y="266.4" width="8.1" height="3.1" fill="#969696"/>
<rect x="98.7" y="266.4" width="8.1" height="3.1" fill="#8f8f8f"/>
<rect x="106.7" y="266.4" width="8.1" height="3.1" fill="#888888"/>
<rect x="114.7" y="266.4" width="8.1" height="3.1" fill="#818181"/>
<rect x="122.7" y="266.4" width="8.1" height="3.1" fill="#7a7a7a"/>
<rect x="130.7" y="266.4" width="8.1" height="3.1" fill="#737373"/>
<rect x="138.7" y="266.4" width="8.1" height="3.1" fill="#6d6d6d"/>
<rect x="146.7" y="266.4" width="8.1" height="3.1" fill="#676767"/>
<rect x="154.7" y="266.4" width="8.1" height="3.1" fill="#616161"/>
<rect x="162.7" y="266.4" width="8.1" height="3.1" fill="#4c4c4c"/>
<rect x="170.7" y="266.4" width="8.1" height="3.1" fill="#555555"/>
<rect x="34.7" y="269.4" width="8.1" height="3.1" fill="#c4c4c4"/>
<rect x="42.7" y="269.4" width="8.1" height="3.1" fill="#bfbfbf"/>
<rect x="50.7" y="269.4" width="8.1" height="3.1" fill="#b9b9b9"/>
<rect x="58.7" y="269.4" width="8.1" height="3.1" fill="#b3b3b3"/>
<rect x="66.7" y="269.4" width="8.1" height="3.1" fill="#acacac"/>
<rect x="74.7" y="269.4" width="8.1" height="3.1" fill="#a5a5a5"/>
<rect x="82.7" y="269.4" width="8.1" height="3.1" fill="#9e9e9e"/>
<rect x="90.7" y="269.4" width="8.1" height="3.1" fill="#969696"/>
<rect x="98.7" y="269.4" width="8.1" height="3.1" fill="#8f8f8f"/>
<rect x="106.7" y="269.4" width="8.1" height="3.1" fill="#888888"/>
<rect x="114.7" y="269.4" width="8.1" height="3.1" fill="#818181"/>
<rect x="122.7" y="269.4" width="8.1" height="3.1" fill="#7a7a7a"/>
<rect x="130.7" y="269.4" width="8.1" height="3.1" fill="#737373"/>
<rect x="138.7" y="269.4" width="8.1" height="3.1" fill="#6d6d6d"/>
<rect x="146.7" y="269.4" width="8.1" height="3.1" fill="#676767"/>
<rect x="154.7" y="269.4" width="8.1" height="3.1" fill="#616161"/>
<rect x="162.7" y="269.4" width="8.1" height="3.1" fill="#4c4c4c"/>
<rect x="170.7" y="269.4" width="8.1" height="3.1" fill="#555555"/>
<rect x="34.7" y="272.4" width="8.1" height="3.1" fill="#c4c4c4"/>
<rect x="42.7" y="272.4" width="8.1" height="3.1" fill="#bfbfbf"/>
<rect x="50.7" y="272.4" width="8.1" height="3.1" fill="#b9b9b9"/>
<rect x="58.7" y="272.4" width="8.1" height="3.1" fill="#b3b3b3"/>
<rect x="66.7" y="272.4" width="8.1" height="3.1" fill="#acacac"/>
<rect x="74.7" y="272.4" width="8.1" height="3.1" fill="#a5a5a5"/>
<rect x="82.7" y="272.4" width="8.1" height="3.1" fill="#9e9e9e"/>
<rect x="90.7" y="272.4" width="8.1" height="3.1" fill="#969696"/>
<rect x="98.7" y="272.4" width="8.1" height="3.1" fill="#8f8f8f"/>
<rect x="106.7" y="272.4" width="8.1" height="3.1" fill="#888888"/>
<rect x="114.7" y="272.4" width="8.1" height="3.1" fill="#818181"/>
<rect x="122.7" y="272.4" width="8.1" height="3.1" fill="#7a7a7a"/>
<rect x="130.7" y="272.4" width="8.1" height="3.1" fill="#737373"/>
<rect x="138.7" y="272.4" width="8.1" height="3.1" fill="#6d6d6d"/>
<rect x="146.7" y="272.4" width="8.1" height="3.1" fill="#676767"/>
<rect x="154.7" y="272.4" width="8.1" height="3.1" fill="#616161"/>
<rect x="162.7" y="272.4" width="8.1" height="3.1" fill="#4c4c4c"/>
<rect x="170.7" y="272.4" width="8.1" height="3.1" fill="#555555"/>
<rect x="34.7" y="275.4" width="8.1" height="3.1" fill="#c4c4c4"/>
<rect x="42.7" y="275.4" width="8.1" height="3.1" fill="#bfbfbf"/>
<rect x="50.7" y="275.4" width="8.1" height="3.1" fill="#b9b9b9"/>
<rect x="58.7" y="275.4" width="8.1" height="3.1" fill="#b3b3b3"/>
<rect x="66.7" y="275.4" width="8.1" height="3.1" fill="#acacac"/>
<rect x="74.7" y="275.4" width="8.1" height="3.1" fill="#a5a5a5"/>
<rect x="82.7" y="275.4" width="8.1" height="3.1" fill="#9e9e9e"/>
<rect x="90.7" y="275.4" width="8.1" height="3.1" fill="#969696"/>
<rect x="98.7" y="275.4" width="8.1" height="3.1" fill="#8f8f8f"/>
<rect x="106.7" y="275.4" width="8.1" height="3.1" fill="#888888"/>
<rect x="114.7" y="275.4" width="8.1" height="3.1" fill="#818181"/>
<rect x="122.7" y="275.4" width="8.1" height="3.1" fill="#7a7a7a"/>
<rect x="130.7" y="275.4" width="8.1" height="3.1" fill="#737373"/>
<rect x="138.7" y="275.4" width="8.1" height="3.1" fill="#6d6d6d"/>
<rect x="146.7" y="275.4" width="8.1" height="3.1" fill="#676767"/>
<rect x="154.7" y="275.4" width="8.1" height="3.1" fill="#616161"/>
<rect x="162.7" y="275.4" width="8.1" height="3.1" fill="#4c4c4c"/>
<rect x="170.7" y="275.4" width="8.1" height="3.1" fill="#565656"/>
<rect x="40" y="224" width="132" height="1.6" fill="#222" opacity="0.85"/><rect x="40" y="238" width="132" height="3" fill="#444" opacity="0.25"/>
</g></g>
<clipPath id="ce"><rect x="210.9" y="147.0" width="125.9" height="125.0"/></clipPath>
<filter id="fe" x="208.9" y="145.0" width="129.9" height="129.0" filterUnits="userSpaceOnUse" color-interpolation-filters="sRGB"><feGaussianBlur in="SourceGraphic" stdDeviation="1.6" result="b"/><feTurbulence type="fractalNoise" baseFrequency="0.7" numOctaves="2" seed="7" result="n"/><feColorMatrix in="n" type="matrix" values="1 0 0 0 0 1 0 0 0 0 1 0 0 0 0 0 0 0 0 1" result="n1"/><feComposite in="b" in2="n1" operator="arithmetic" k1="0" k2="1" k3="0.400" k4="-0.200" result="m"/><feComponentTransfer in="m"><feFuncR type="table" tableValues="0.000 0.020 0.039 0.098 0.157 0.243 0.329 0.412 0.494 0.573 0.651 0.714 0.773 0.816 0.855 0.894 0.933 0.957 0.984 0.992 1.000"/><feFuncG type="table" tableValues="0.000 0.000 0.000 0.012 0.024 0.047 0.071 0.114 0.157 0.251 0.345 0.435 0.525 0.600 0.675 0.757 0.839 0.890 0.941 0.965 0.988"/><feFuncB type="table" tableValues="0.000 0.000 0.000 0.004 0.008 0.016 0.024 0.039 0.055 0.086 0.118 0.165 0.212 0.298 0.384 0.518 0.651 0.753 0.855 0.906 0.957"/><feFuncA type="linear" slope="0" intercept="1"/></feComponentTransfer></filter>
<g clip-path="url(#ce)"><g filter="url(#fe)">
<rect x="202.9" y="141" width="4.1" height="4.1" fill="#777777"/>
<rect x="206.9" y="141" width="4.1" height="4.1" fill="#777777"/>
<rect x="210.9" y="141" width="4.1" height="4.1" fill="#777777"/>
<rect x="214.9" y="141" width="4.1" height="4.1" fill="#777777"/>
<rect x="218.9" y="141" width="4.1" height="4.1" fill="#777777"/>
<rect x="222.9" y="141" width="4.1" height="4.1" fill="#777777"/>
<rect x="226.9" y="141" width="4.1" height="4.1" fill="#777777"/>
<rect x="230.9" y="141" width="4.1" height="4.1" fill="#777777"/>
<rect x="234.9" y="141" width="4.1" height="4.1" fill="#777777"/>
<rect x="238.9" y="141" width="4.1" height="4.1" fill="#777777"/>
<rect x="242.9" y="141" width="4.1" height="4.1" fill="#777777"/>
<rect x="246.9" y="141" width="4.1" height="4.1" fill="#7c7c7c"/>
<rect x="250.9" y="141" width="4.1" height="4.1" fill="#8f8f8f"/>
<rect x="254.9" y="141" width="4.1" height="4.1" fill="#999999"/>
<rect x="258.9" y="141" width="4.1" height="4.1" fill="#848484"/>
<rect x="262.9" y="141" width="4.1" height="4.1" fill="#787878"/>
<rect x="266.9" y="141" width="4.1" height="4.1" fill="#777777"/>
<rect x="270.9" y="141" width="4.1" height="4.1" fill="#777777"/>
<rect x="274.9" y="141" width="4.1" height="4.1" fill="#777777"/>
<rect x="278.9" y="141" width="4.1" height="4.1" fill="#777777"/>
<rect x="282.9" y="141" width="4.1" height="4.1" fill="#777777"/>
<rect x="286.9" y="141" width="4.1" height="4.1" fill="#777777"/>
<rect x="290.9" y="141" width="4.1" height="4.1" fill="#777777"/>
<rect x="294.9" y="141" width="4.1" height="4.1" fill="#777777"/>
<rect x="298.9" y="141" width="4.1" height="4.1" fill="#777777"/>
<rect x="302.9" y="141" width="4.1" height="4.1" fill="#777777"/>
<rect x="306.9" y="141" width="4.1" height="4.1" fill="#777777"/>
<rect x="310.9" y="141" width="4.1" height="4.1" fill="#777777"/>
<rect x="314.9" y="141" width="4.1" height="4.1" fill="#777777"/>
<rect x="318.9" y="141" width="4.1" height="4.1" fill="#777777"/>
<rect x="322.9" y="141" width="4.1" height="4.1" fill="#777777"/>
<rect x="326.9" y="141" width="4.1" height="4.1" fill="#777777"/>
<rect x="330.9" y="141" width="4.1" height="4.1" fill="#777777"/>
<rect x="334.9" y="141" width="4.1" height="4.1" fill="#777777"/>
<rect x="338.9" y="141" width="4.1" height="4.1" fill="#777777"/>
<rect x="342.9" y="141" width="4.1" height="4.1" fill="#777777"/>
<rect x="202.9" y="145" width="4.1" height="4.1" fill="#737373"/>
<rect x="206.9" y="145" width="4.1" height="4.1" fill="#737373"/>
<rect x="210.9" y="145" width="4.1" height="4.1" fill="#737373"/>
<rect x="214.9" y="145" width="4.1" height="4.1" fill="#727272"/>
<rect x="218.9" y="145" width="4.1" height="4.1" fill="#727272"/>
<rect x="222.9" y="145" width="4.1" height="4.1" fill="#727272"/>
<rect x="226.9" y="145" width="4.1" height="4.1" fill="#737373"/>
<rect x="230.9" y="145" width="4.1" height="4.1" fill="#737373"/>
<rect x="234.9" y="145" width="4.1" height="4.1" fill="#737373"/>
<rect x="238.9" y="145" width="4.1" height="4.1" fill="#737373"/>
<rect x="242.9" y="145" width="4.1" height="4.1" fill="#737373"/>
<rect x="246.9" y="145" width="4.1" height="4.1" fill="#7a7a7a"/>
<rect x="250.9" y="145" width="4.1" height="4.1" fill="#969696"/>
<rect x="254.9" y="145" width="4.1" height="4.1" fill="#a4a4a4"/>
<rect x="258.9" y="145" width="4.1" height="4.1" fill="#868686"/>
<rect x="262.9" y="145" width="4.1" height="4.1" fill="#757575"/>
<rect x="266.9" y="145" width="4.1" height="4.1" fill="#737373"/>
<rect x="270.9" y="145" width="4.1" height="4.1" fill="#737373"/>
<rect x="274.9" y="145" width="4.1" height="4.1" fill="#737373"/>
<rect x="278.9" y="145" width="4.1" height="4.1" fill="#737373"/>
<rect x="282.9" y="145" width="4.1" height="4.1" fill="#747474"/>
<rect x="286.9" y="145" width="4.1" height="4.1" fill="#787878"/>
<rect x="290.9" y="145" width="4.1" height="4.1" fill="#767676"/>
<rect x="294.9" y="145" width="4.1" height="4.1" fill="#747474"/>
<rect x="298.9" y="145" width="4.1" height="4.1" fill="#737373"/>
<rect x="302.9" y="145" width="4.1" height="4.1" fill="#737373"/>
<rect x="306.9" y="145" width="4.1" height="4.1" fill="#737373"/>
<rect x="310.9" y="145" width="4.1" height="4.1" fill="#737373"/>
<rect x="314.9" y="145" width="4.1" height="4.1" fill="#737373"/>
<rect x="318.9" y="145" width="4.1" height="4.1" fill="#737373"/>
<rect x="322.9" y="145" width="4.1" height="4.1" fill="#737373"/>
<rect x="326.9" y="145" width="4.1" height="4.1" fill="#737373"/>
<rect x="330.9" y="145" width="4.1" height="4.1" fill="#737373"/>
<rect x="334.9" y="145" width="4.1" height="4.1" fill="#737373"/>
<rect x="338.9" y="145" width="4.1" height="4.1" fill="#737373"/>
<rect x="342.9" y="145" width="4.1" height="4.1" fill="#737373"/>
<rect x="202.9" y="149" width="4.1" height="4.1" fill="#6e6e6e"/>
<rect x="206.9" y="149" width="4.1" height="4.1" fill="#6e6e6e"/>
<rect x="210.9" y="149" width="4.1" height="4.1" fill="#6d6d6d"/>
<rect x="214.9" y="149" width="4.1" height="4.1" fill="#6c6c6c"/>
<rect x="218.9" y="149" width="4.1" height="4.1" fill="#6c6c6c"/>
<rect x="222.9" y="149" width="4.1" height="4.1" fill="#6d6d6d"/>
<rect x="226.9" y="149" width="4.1" height="4.1" fill="#6d6d6d"/>
<rect x="230.9" y="149" width="4.1" height="4.1" fill="#6e6e6e"/>
<rect x="234.9" y="149" width="4.1" height="4.1" fill="#6e6e6e"/>
<rect x="238.9" y="149" width="4.1" height="4.1" fill="#6e6e6e"/>
<rect x="242.9" y="149" width="4.1" height="4.1" fill="#6e6e6e"/>
<rect x="246.9" y="149" width="4.1" height="4.1" fill="#767676"/>
<rect x="250.9" y="149" width="4.1" height="4.1" fill="#949494"/>
<rect x="254.9" y="149" width="4.1" height="4.1" fill="#9e9e9e"/>
<rect x="258.9" y="149" width="4.1" height="4.1" fill="#7f7f7f"/>
<rect x="262.9" y="149" width="4.1" height="4.1" fill="#707070"/>
<rect x="266.9" y="149" width="4.1" height="4.1" fill="#6e6e6e"/>
<rect x="270.9" y="149" width="4.1" height="4.1" fill="#6e6e6e"/>
<rect x="274.9" y="149" width="4.1" height="4.1" fill="#6e6e6e"/>
<rect x="278.9" y="149" width="4.1" height="4.1" fill="#6e6e6e"/>
<rect x="282.9" y="149" width="4.1" height="4.1" fill="#737373"/>
<rect x="286.9" y="149" width="4.1" height="4.1" fill="#848484"/>
<rect x="290.9" y="149" width="4.1" height="4.1" fill="#828282"/>
<rect x="294.9" y="149" width="4.1" height="4.1" fill="#7a7a7a"/>
<rect x="298.9" y="149" width="4.1" height="4.1" fill="#747474"/>
<rect x="302.9" y="149" width="4.1" height="4.1" fill="#707070"/>
<rect x="306.9" y="149" width="4.1" height="4.1" fill="#6e6e6e"/>
<rect x="310.9" y="149" width="4.1" height="4.1" fill="#6d6d6d"/>
<rect x="314.9" y="149" width="4.1" height="4.1" fill="#6d6d6d"/>
<rect x="318.9" y="149" width="4.1" height="4.1" fill="#6d6d6d"/>
<rect x="322.9" y="149" width="4.1" height="4.1" fill="#6d6d6d"/>
<rect x="326.9" y="149" width="4.1" height="4.1" fill="#6e6e6e"/>
<rect x="330.9" y="149" width="4.1" height="4.1" fill="#6e6e6e"/>
<rect x="334.9" y="149" width="4.1" height="4.1" fill="#6e6e6e"/>
<rect x="338.9" y="149" width="4.1" height="4.1" fill="#6e6e6e"/>
<rect x="342.9" y="149" width="4.1" height="4.1" fill="#6e6e6e"/>
<rect x="202.9" y="153" width="4.1" height="4.1" fill="#707070"/>
<rect x="206.9" y="153" width="4.1" height="4.1" fill="#6f6f6f"/>
<rect x="210.9" y="153" width="4.1" height="4.1" fill="#6d6d6d"/>
<rect x="214.9" y="153" width="4.1" height="4.1" fill="#6b6b6b"/>
<rect x="218.9" y="153" width="4.1" height="4.1" fill="#6a6a6a"/>
<rect x="222.9" y="153" width="4.1" height="4.1" fill="#6c6c6c"/>
<rect x="226.9" y="153" width="4.1" height="4.1" fill="#6e6e6e"/>
<rect x="230.9" y="153" width="4.1" height="4.1" fill="#6f6f6f"/>
<rect x="234.9" y="153" width="4.1" height="4.1" fill="#707070"/>
<rect x="238.9" y="153" width="4.1" height="4.1" fill="#707070"/>
<rect x="242.9" y="153" width="4.1" height="4.1" fill="#717171"/>
<rect x="246.9" y="153" width="4.1" height="4.1" fill="#7a7a7a"/>
<rect x="250.9" y="153" width="4.1" height="4.1" fill="#989898"/>
<rect x="254.9" y="153" width="4.1" height="4.1" fill="#9e9e9e"/>
<rect x="258.9" y="153" width="4.1" height="4.1" fill="#7f7f7f"/>
<rect x="262.9" y="153" width="4.1" height="4.1" fill="#717171"/>
<rect x="266.9" y="153" width="4.1" height="4.1" fill="#707070"/>
<rect x="270.9" y="153" width="4.1" height="4.1" fill="#707070"/>
<rect x="274.9" y="153" width="4.1" height="4.1" fill="#707070"/>
<rect x="278.9" y="153" width="4.1" height="4.1" fill="#707070"/>
<rect x="282.9" y="153" width="4.1" height="4.1" fill="#737373"/>
<rect x="286.9" y="153" width="4.1" height="4.1" fill="#7d7d7d"/>
<rect x="290.9" y="153" width="4.1" height="4.1" fill="#848484"/>
<rect x="294.9" y="153" width="4.1" height="4.1" fill="#888888"/>
<rect x="298.9" y="153" width="4.1" height="4.1" fill="#868686"/>
<rect x="302.9" y="153" width="4.1" height="4.1" fill="#7f7f7f"/>
<rect x="306.9" y="153" width="4.1" height="4.1" fill="#767676"/>
<rect x="310.9" y="153" width="4.1" height="4.1" fill="#707070"/>
<rect x="314.9" y="153" width="4.1" height="4.1" fill="#6d6d6d"/>
<rect x="318.9" y="153" width="4.1" height="4.1" fill="#6c6c6c"/>
<rect x="322.9" y="153" width="4.1" height="4.1" fill="#6d6d6d"/>
<rect x="326.9" y="153" width="4.1" height="4.1" fill="#6e6e6e"/>
<rect x="330.9" y="153" width="4.1" height="4.1" fill="#6f6f6f"/>
<rect x="334.9" y="153" width="4.1" height="4.1" fill="#6f6f6f"/>
<rect x="338.9" y="153" width="4.1" height="4.1" fill="#707070"/>
<rect x="342.9" y="153" width="4.1" height="4.1" fill="#707070"/>
<rect x="202.9" y="157" width="4.1" height="4.1" fill="#747474"/>
<rect x="206.9" y="157" width="4.1" height="4.1" fill="#707070"/>
<rect x="210.9" y="157" width="4.1" height="4.1" fill="#686868"/>
<rect x="214.9" y="157" width="4.1" height="4.1" fill="#5f5f5f"/>
<rect x="218.9" y="157" width="4.1" height="4.1" fill="#5f5f5f"/>
<rect x="222.9" y="157" width="4.1" height="4.1" fill="#676767"/>
<rect x="226.9" y="157" width="4.1" height="4.1" fill="#707070"/>
<rect x="230.9" y="157" width="4.1" height="4.1" fill="#747474"/>
<rect x="234.9" y="157" width="4.1" height="4.1" fill="#757575"/>
<rect x="238.9" y="157" width="4.1" height="4.1" fill="#757575"/>
<rect x="242.9" y="157" width="4.1" height="4.1" fill="#767676"/>
<rect x="246.9" y="157" width="4.1" height="4.1" fill="#808080"/>
<rect x="250.9" y="157" width="4.1" height="4.1" fill="#a0a0a0"/>
<rect x="254.9" y="157" width="4.1" height="4.1" fill="#a2a2a2"/>
<rect x="258.9" y="157" width="4.1" height="4.1" fill="#838383"/>
<rect x="262.9" y="157" width="4.1" height="4.1" fill="#7b7b7b"/>
<rect x="266.9" y="157" width="4.1" height="4.1" fill="#797979"/>
<rect x="270.9" y="157" width="4.1" height="4.1" fill="#777777"/>
<rect x="274.9" y="157" width="4.1" height="4.1" fill="#767676"/>
<rect x="278.9" y="157" width="4.1" height="4.1" fill="#757575"/>
<rect x="282.9" y="157" width="4.1" height="4.1" fill="#757575"/>
<rect x="286.9" y="157" width="4.1" height="4.1" fill="#767676"/>
<rect x="290.9" y="157" width="4.1" height="4.1" fill="#787878"/>
<rect x="294.9" y="157" width="4.1" height="4.1" fill="#7c7c7c"/>
<rect x="298.9" y="157" width="4.1" height="4.1" fill="#828282"/>
<rect x="302.9" y="157" width="4.1" height="4.1" fill="#868686"/>
<rect x="306.9" y="157" width="4.1" height="4.1" fill="#878787"/>
<rect x="310.9" y="157" width="4.1" height="4.1" fill="#828282"/>
<rect x="314.9" y="157" width="4.1" height="4.1" fill="#7b7b7b"/>
<rect x="318.9" y="157" width="4.1" height="4.1" fill="#757575"/>
<rect x="322.9" y="157" width="4.1" height="4.1" fill="#737373"/>
<rect x="326.9" y="157" width="4.1" height="4.1" fill="#737373"/>
<rect x="330.9" y="157" width="4.1" height="4.1" fill="#747474"/>
<rect x="334.9" y="157" width="4.1" height="4.1" fill="#747474"/>
<rect x="338.9" y="157" width="4.1" height="4.1" fill="#757575"/>
<rect x="342.9" y="157" width="4.1" height="4.1" fill="#757575"/>
<rect x="202.9" y="161" width="4.1" height="4.1" fill="#767676"/>
<rect x="206.9" y="161" width="4.1" height="4.1" fill="#717171"/>
<rect x="210.9" y="161" width="4.1" height="4.1" fill="#656565"/>
<rect x="214.9" y="161" width="4.1" height="4.1" fill="#585858"/>
<rect x="218.9" y="161" width="4.1" height="4.1" fill="#565656"/>
<rect x="222.9" y="161" width="4.1" height="4.1" fill="#616161"/>
<rect x="226.9" y="161" width="4.1" height="4.1" fill="#6f6f6f"/>
<rect x="230.9" y="161" width="4.1" height="4.1" fill="#757575"/>
<rect x="234.9" y="161" width="4.1" height="4.1" fill="#777777"/>
<rect x="238.9" y="161" width="4.1" height="4.1" fill="#777777"/>
<rect x="242.9" y="161" width="4.1" height="4.1" fill="#797979"/>
<rect x="246.9" y="161" width="4.1" height="4.1" fill="#848484"/>
<rect x="250.9" y="161" width="4.1" height="4.1" fill="#a4a4a4"/>
<rect x="254.9" y="161" width="4.1" height="4.1" fill="#a2a2a2"/>
<rect x="258.9" y="161" width="4.1" height="4.1" fill="#878787"/>
<rect x="262.9" y="161" width="4.1" height="4.1" fill="#939393"/>
<rect x="266.9" y="161" width="4.1" height="4.1" fill="#8e8e8e"/>
<rect x="270.9" y="161" width="4.1" height="4.1" fill="#868686"/>
<rect x="274.9" y="161" width="4.1" height="4.1" fill="#7f7f7f"/>
<rect x="278.9" y="161" width="4.1" height="4.1" fill="#7b7b7b"/>
<rect x="282.9" y="161" width="4.1" height="4.1" fill="#797979"/>
<rect x="286.9" y="161" width="4.1" height="4.1" fill="#787878"/>
<rect x="290.9" y="161" width="4.1" height="4.1" fill="#777777"/>
<rect x="294.9" y="161" width="4.1" height="4.1" fill="#777777"/>
<rect x="298.9" y="161" width="4.1" height="4.1" fill="#767676"/>
<rect x="302.9" y="161" width="4.1" height="4.1" fill="#787878"/>
<rect x="306.9" y="161" width="4.1" height="4.1" fill="#7c7c7c"/>
<rect x="310.9" y="161" width="4.1" height="4.1" fill="#828282"/>
<rect x="314.9" y="161" width="4.1" height="4.1" fill="#888888"/>
<rect x="318.9" y="161" width="4.1" height="4.1" fill="#8a8a8a"/>
<rect x="322.9" y="161" width="4.1" height="4.1" fill="#878787"/>
<rect x="326.9" y="161" width="4.1" height="4.1" fill="#818181"/>
<rect x="330.9" y="161" width="4.1" height="4.1" fill="#7c7c7c"/>
<rect x="334.9" y="161" width="4.1" height="4.1" fill="#797979"/>
<rect x="338.9" y="161" width="4.1" height="4.1" fill="#787878"/>
<rect x="342.9" y="161" width="4.1" height="4.1" fill="#777777"/>
<rect x="202.9" y="165" width="4.1" height="4.1" fill="#777777"/>
<rect x="206.9" y="165" width="4.1" height="4.1" fill="#737373"/>
<rect x="210.9" y="165" width="4.1" height="4.1" fill="#676767"/>
<rect x="214.9" y="165" width="4.1" height="4.1" fill="#595959"/>
<rect x="218.9" y="165" width="4.1" height="4.1" fill="#555555"/>
<rect x="222.9" y="165" width="4.1" height="4.1" fill="#5f5f5f"/>
<rect x="226.9" y="165" width="4.1" height="4.1" fill="#6d6d6d"/>
<rect x="230.9" y="165" width="4.1" height="4.1" fill="#757575"/>
<rect x="234.9" y="165" width="4.1" height="4.1" fill="#777777"/>
<rect x="238.9" y="165" width="4.1" height="4.1" fill="#787878"/>
<rect x="242.9" y="165" width="4.1" height="4.1" fill="#797979"/>
<rect x="246.9" y="165" width="4.1" height="4.1" fill="#868686"/>
<rect x="250.9" y="165" width="4.1" height="4.1" fill="#a6a6a6"/>
<rect x="254.9" y="165" width="4.1" height="4.1" fill="#a0a0a0"/>
<rect x="258.9" y="165" width="4.1" height="4.1" fill="#898989"/>
<rect x="262.9" y="165" width="4.1" height="4.1" fill="#9c9c9c"/>
<rect x="266.9" y="165" width="4.1" height="4.1" fill="#9e9e9e"/>
<rect x="270.9" y="165" width="4.1" height="4.1" fill="#9c9c9c"/>
<rect x="274.9" y="165" width="4.1" height="4.1" fill="#959595"/>
<rect x="278.9" y="165" width="4.1" height="4.1" fill="#8d8d8d"/>
<rect x="282.9" y="165" width="4.1" height="4.1" fill="#868686"/>
<rect x="286.9" y="165" width="4.1" height="4.1" fill="#808080"/>
<rect x="290.9" y="165" width="4.1" height="4.1" fill="#7c7c7c"/>
<rect x="294.9" y="165" width="4.1" height="4.1" fill="#797979"/>
<rect x="298.9" y="165" width="4.1" height="4.1" fill="#787878"/>
<rect x="302.9" y="165" width="4.1" height="4.1" fill="#777777"/>
<rect x="306.9" y="165" width="4.1" height="4.1" fill="#777777"/>
<rect x="310.9" y="165" width="4.1" height="4.1" fill="#787878"/>
<rect x="314.9" y="165" width="4.1" height="4.1" fill="#7c7c7c"/>
<rect x="318.9" y="165" width="4.1" height="4.1" fill="#838383"/>
<rect x="322.9" y="165" width="4.1" height="4.1" fill="#8b8b8b"/>
<rect x="326.9" y="165" width="4.1" height="4.1" fill="#909090"/>
<rect x="330.9" y="165" width="4.1" height="4.1" fill="#8f8f8f"/>
<rect x="334.9" y="165" width="4.1" height="4.1" fill="#898989"/>
<rect x="338.9" y="165" width="4.1" height="4.1" fill="#808080"/>
<rect x="342.9" y="165" width="4.1" height="4.1" fill="#797979"/>
<rect x="202.9" y="169" width="4.1" height="4.1" fill="#777777"/>
<rect x="206.9" y="169" width="4.1" height="4.1" fill="#727272"/>
<rect x="210.9" y="169" width="4.1" height="4.1" fill="#676767"/>
<rect x="214.9" y="169" width="4.1" height="4.1" fill="#575757"/>
<rect x="218.9" y="169" width="4.1" height="4.1" fill="#525252"/>
<rect x="222.9" y="169" width="4.1" height="4.1" fill="#5e5e5e"/>
<rect x="226.9" y="169" width="4.1" height="4.1" fill="#6d6d6d"/>
<rect x="230.9" y="169" width="4.1" height="4.1" fill="#757575"/>
<rect x="234.9" y="169" width="4.1" height="4.1" fill="#777777"/>
<rect x="238.9" y="169" width="4.1" height="4.1" fill="#787878"/>
<rect x="242.9" y="169" width="4.1" height="4.1" fill="#797979"/>
<rect x="246.9" y="169" width="4.1" height="4.1" fill="#888888"/>
<rect x="250.9" y="169" width="4.1" height="4.1" fill="#a7a7a7"/>
<rect x="254.9" y="169" width="4.1" height="4.1" fill="#9c9c9c"/>
<rect x="258.9" y="169" width="4.1" height="4.1" fill="#7e7e7e"/>
<rect x="262.9" y="169" width="4.1" height="4.1" fill="#808080"/>
<rect x="266.9" y="169" width="4.1" height="4.1" fill="#858585"/>
<rect x="270.9" y="169" width="4.1" height="4.1" fill="#8e8e8e"/>
<rect x="274.9" y="169" width="4.1" height="4.1" fill="#969696"/>
<rect x="278.9" y="169" width="4.1" height="4.1" fill="#9b9b9b"/>
<rect x="282.9" y="169" width="4.1" height="4.1" fill="#9b9b9b"/>
<rect x="286.9" y="169" width="4.1" height="4.1" fill="#969696"/>
<rect x="290.9" y="169" width="4.1" height="4.1" fill="#8f8f8f"/>
<rect x="294.9" y="169" width="4.1" height="4.1" fill="#868686"/>
<rect x="298.9" y="169" width="4.1" height="4.1" fill="#808080"/>
<rect x="302.9" y="169" width="4.1" height="4.1" fill="#7c7c7c"/>
<rect x="306.9" y="169" width="4.1" height="4.1" fill="#797979"/>
<rect x="310.9" y="169" width="4.1" height="4.1" fill="#787878"/>
<rect x="314.9" y="169" width="4.1" height="4.1" fill="#787878"/>
<rect x="318.9" y="169" width="4.1" height="4.1" fill="#797979"/>
<rect x="322.9" y="169" width="4.1" height="4.1" fill="#7b7b7b"/>
<rect x="326.9" y="169" width="4.1" height="4.1" fill="#808080"/>
<rect x="330.9" y="169" width="4.1" height="4.1" fill="#888888"/>
<rect x="334.9" y="169" width="4.1" height="4.1" fill="#8f8f8f"/>
<rect x="338.9" y="169" width="4.1" height="4.1" fill="#868686"/>
<rect x="342.9" y="169" width="4.1" height="4.1" fill="#797979"/>
<rect x="202.9" y="173" width="4.1" height="4.1" fill="#777777"/>
<rect x="206.9" y="173" width="4.1" height="4.1" fill="#737373"/>
<rect x="210.9" y="173" width="4.1" height="4.1" fill="#6a6a6a"/>
<rect x="214.9" y="173" width="4.1" height="4.1" fill="#5d5d5d"/>
<rect x="218.9" y="173" width="4.1" height="4.1" fill="#595959"/>
<rect x="222.9" y="173" width="4.1" height="4.1" fill="#636363"/>
<rect x="226.9" y="173" width="4.1" height="4.1" fill="#6f6f6f"/>
<rect x="230.9" y="173" width="4.1" height="4.1" fill="#767676"/>
<rect x="234.9" y="173" width="4.1" height="4.1" fill="#787878"/>
<rect x="238.9" y="173" width="4.1" height="4.1" fill="#787878"/>
<rect x="242.9" y="173" width="4.1" height="4.1" fill="#7a7a7a"/>
<rect x="246.9" y="173" width="4.1" height="4.1" fill="#8a8a8a"/>
<rect x="250.9" y="173" width="4.1" height="4.1" fill="#a7a7a7"/>
<rect x="254.9" y="173" width="4.1" height="4.1" fill="#979797"/>
<rect x="258.9" y="173" width="4.1" height="4.1" fill="#757575"/>
<rect x="262.9" y="173" width="4.1" height="4.1" fill="#696969"/>
<rect x="266.9" y="173" width="4.1" height="4.1" fill="#666666"/>
<rect x="270.9" y="173" width="4.1" height="4.1" fill="#686868"/>
<rect x="274.9" y="173" width="4.1" height="4.1" fill="#717171"/>
<rect x="278.9" y="173" width="4.1" height="4.1" fill="#7f7f7f"/>
<rect x="282.9" y="173" width="4.1" height="4.1" fill="#8f8f8f"/>
<rect x="286.9" y="173" width="4.1" height="4.1" fill="#9a9a9a"/>
<rect x="290.9" y="173" width="4.1" height="4.1" fill="#9f9f9f"/>
<rect x="294.9" y="173" width="4.1" height="4.1" fill="#9e9e9e"/>
<rect x="298.9" y="173" width="4.1" height="4.1" fill="#989898"/>
<rect x="302.9" y="173" width="4.1" height="4.1" fill="#8f8f8f"/>
<rect x="306.9" y="173" width="4.1" height="4.1" fill="#878787"/>
<rect x="310.9" y="173" width="4.1" height="4.1" fill="#808080"/>
<rect x="314.9" y="173" width="4.1" height="4.1" fill="#7c7c7c"/>
<rect x="318.9" y="173" width="4.1" height="4.1" fill="#7a7a7a"/>
<rect x="322.9" y="173" width="4.1" height="4.1" fill="#797979"/>
<rect x="326.9" y="173" width="4.1" height="4.1" fill="#787878"/>
<rect x="330.9" y="173" width="4.1" height="4.1" fill="#7a7a7a"/>
<rect x="334.9" y="173" width="4.1" height="4.1" fill="#7d7d7d"/>
<rect x="338.9" y="173" width="4.1" height="4.1" fill="#7b7b7b"/>
<rect x="342.9" y="173" width="4.1" height="4.1" fill="#787878"/>
<rect x="202.9" y="177" width="4.1" height="4.1" fill="#787878"/>
<rect x="206.9" y="177" width="4.1" height="4.1" fill="#787878"/>
<rect x="210.9" y="177" width="4.1" height="4.1" fill="#727272"/>
<rect x="214.9" y="177" width="4.1" height="4.1" fill="#6a6a6a"/>
<rect x="218.9" y="177" width="4.1" height="4.1" fill="#686868"/>
<rect x="222.9" y="177" width="4.1" height="4.1" fill="#6e6e6e"/>
<rect x="226.9" y="177" width="4.1" height="4.1" fill="#767676"/>
<rect x="230.9" y="177" width="4.1" height="4.1" fill="#7a7a7a"/>
<rect x="234.9" y="177" width="4.1" height="4.1" fill="#7b7b7b"/>
<rect x="238.9" y="177" width="4.1" height="4.1" fill="#7b7b7b"/>
<rect x="242.9" y="177" width="4.1" height="4.1" fill="#7c7c7c"/>
<rect x="246.9" y="177" width="4.1" height="4.1" fill="#8d8d8d"/>
<rect x="250.9" y="177" width="4.1" height="4.1" fill="#a8a8a8"/>
<rect x="254.9" y="177" width="4.1" height="4.1" fill="#929292"/>
<rect x="258.9" y="177" width="4.1" height="4.1" fill="#6e6e6e"/>
<rect x="262.9" y="177" width="4.1" height="4.1" fill="#5d5d5d"/>
<rect x="266.9" y="177" width="4.1" height="4.1" fill="#545454"/>
<rect x="270.9" y="177" width="4.1" height="4.1" fill="#515151"/>
<rect x="274.9" y="177" width="4.1" height="4.1" fill="#535353"/>
<rect x="278.9" y="177" width="4.1" height="4.1" fill="#5d5d5d"/>
<rect x="282.9" y="177" width="4.1" height="4.1" fill="#6e6e6e"/>
<rect x="286.9" y="177" width="4.1" height="4.1" fill="#7f7f7f"/>
<rect x="290.9" y="177" width="4.1" height="4.1" fill="#8d8d8d"/>
<rect x="294.9" y="177" width="4.1" height="4.1" fill="#979797"/>
<rect x="298.9" y="177" width="4.1" height="4.1" fill="#9e9e9e"/>
<rect x="302.9" y="177" width="4.1" height="4.1" fill="#a1a1a1"/>
<rect x="306.9" y="177" width="4.1" height="4.1" fill="#9e9e9e"/>
<rect x="310.9" y="177" width="4.1" height="4.1" fill="#989898"/>
<rect x="314.9" y="177" width="4.1" height="4.1" fill="#8f8f8f"/>
<rect x="318.9" y="177" width="4.1" height="4.1" fill="#878787"/>
<rect x="322.9" y="177" width="4.1" height="4.1" fill="#808080"/>
<rect x="326.9" y="177" width="4.1" height="4.1" fill="#7c7c7c"/>
<rect x="330.9" y="177" width="4.1" height="4.1" fill="#7a7a7a"/>
<rect x="334.9" y="177" width="4.1" height="4.1" fill="#797979"/>
<rect x="338.9" y="177" width="4.1" height="4.1" fill="#787878"/>
<rect x="342.9" y="177" width="4.1" height="4.1" fill="#787878"/>
<rect x="202.9" y="181" width="4.1" height="4.1" fill="#808080"/>
<rect x="206.9" y="181" width="4.1" height="4.1" fill="#8c8c8c"/>
<rect x="210.9" y="181" width="4.1" height="4.1" fill="#8a8a8a"/>
<rect x="214.9" y="181" width="4.1" height="4.1" fill="#878787"/>
<rect x="218.9" y="181" width="4.1" height="4.1" fill="#858585"/>
<rect x="222.9" y="181" width="4.1" height="4.1" fill="#888888"/>
<rect x="226.9" y="181" width="4.1" height="4.1" fill="#8c8c8c"/>
<rect x="230.9" y="181" width="4.1" height="4.1" fill="#8e8e8e"/>
<rect x="234.9" y="181" width="4.1" height="4.1" fill="#8f8f8f"/>
<rect x="238.9" y="181" width="4.1" height="4.1" fill="#8f8f8f"/>
<rect x="242.9" y="181" width="4.1" height="4.1" fill="#909090"/>
<rect x="246.9" y="181" width="4.1" height="4.1" fill="#979797"/>
<rect x="250.9" y="181" width="4.1" height="4.1" fill="#aeaeae"/>
<rect x="254.9" y="181" width="4.1" height="4.1" fill="#8f8f8f"/>
<rect x="258.9" y="181" width="4.1" height="4.1" fill="#6b6b6b"/>
<rect x="262.9" y="181" width="4.1" height="4.1" fill="#5a5a5a"/>
<rect x="266.9" y="181" width="4.1" height="4.1" fill="#4f4f4f"/>
<rect x="270.9" y="181" width="4.1" height="4.1" fill="#4a4a4a"/>
<rect x="274.9" y="181" width="4.1" height="4.1" fill="#474747"/>
<rect x="278.9" y="181" width="4.1" height="4.1" fill="#4b4b4b"/>
<rect x="282.9" y="181" width="4.1" height="4.1" fill="#5e5e5e"/>
<rect x="286.9" y="181" width="4.1" height="4.1" fill="#707070"/>
<rect x="290.9" y="181" width="4.1" height="4.1" fill="#797979"/>
<rect x="294.9" y="181" width="4.1" height="4.1" fill="#7f7f7f"/>
<rect x="298.9" y="181" width="4.1" height="4.1" fill="#868686"/>
<rect x="302.9" y="181" width="4.1" height="4.1" fill="#8f8f8f"/>
<rect x="306.9" y="181" width="4.1" height="4.1" fill="#979797"/>
<rect x="310.9" y="181" width="4.1" height="4.1" fill="#9e9e9e"/>
<rect x="314.9" y="181" width="4.1" height="4.1" fill="#a1a1a1"/>
<rect x="318.9" y="181" width="4.1" height="4.1" fill="#9e9e9e"/>
<rect x="322.9" y="181" width="4.1" height="4.1" fill="#989898"/>
<rect x="326.9" y="181" width="4.1" height="4.1" fill="#8f8f8f"/>
<rect x="330.9" y="181" width="4.1" height="4.1" fill="#878787"/>
<rect x="334.9" y="181" width="4.1" height="4.1" fill="#808080"/>
<rect x="338.9" y="181" width="4.1" height="4.1" fill="#7c7c7c"/>
<rect x="342.9" y="181" width="4.1" height="4.1" fill="#797979"/>
<rect x="202.9" y="185" width="4.1" height="4.1" fill="#878787"/>
<rect x="206.9" y="185" width="4.1" height="4.1" fill="#a1a1a1"/>
<rect x="210.9" y="185" width="4.1" height="4.1" fill="#a2a2a2"/>
<rect x="214.9" y="185" width="4.1" height="4.1" fill="#a0a0a0"/>
<rect x="218.9" y="185" width="4.1" height="4.1" fill="#a0a0a0"/>
<rect x="222.9" y="185" width="4.1" height="4.1" fill="#a1a1a1"/>
<rect x="226.9" y="185" width="4.1" height="4.1" fill="#a2a2a2"/>
<rect x="230.9" y="185" width="4.1" height="4.1" fill="#a3a3a3"/>
<rect x="234.9" y="185" width="4.1" height="4.1" fill="#a3a3a3"/>
<rect x="238.9" y="185" width="4.1" height="4.1" fill="#a3a3a3"/>
<rect x="242.9" y="185" width="4.1" height="4.1" fill="#a4a4a4"/>
<rect x="246.9" y="185" width="4.1" height="4.1" fill="#adadad"/>
<rect x="250.9" y="185" width="4.1" height="4.1" fill="#b5b5b5"/>
<rect x="254.9" y="185" width="4.1" height="4.1" fill="#909090"/>
<rect x="258.9" y="185" width="4.1" height="4.1" fill="#6f6f6f"/>
<rect x="262.9" y="185" width="4.1" height="4.1" fill="#626262"/>
<rect x="266.9" y="185" width="4.1" height="4.1" fill="#5a5a5a"/>
<rect x="270.9" y="185" width="4.1" height="4.1" fill="#555555"/>
<rect x="274.9" y="185" width="4.1" height="4.1" fill="#505050"/>
<rect x="278.9" y="185" width="4.1" height="4.1" fill="#515151"/>
<rect x="282.9" y="185" width="4.1" height="4.1" fill="#606060"/>
<rect x="286.9" y="185" width="4.1" height="4.1" fill="#707070"/>
<rect x="290.9" y="185" width="4.1" height="4.1" fill="#767676"/>
<rect x="294.9" y="185" width="4.1" height="4.1" fill="#787878"/>
<rect x="298.9" y="185" width="4.1" height="4.1" fill="#797979"/>
<rect x="302.9" y="185" width="4.1" height="4.1" fill="#7c7c7c"/>
<rect x="306.9" y="185" width="4.1" height="4.1" fill="#808080"/>
<rect x="310.9" y="185" width="4.1" height="4.1" fill="#868686"/>
<rect x="314.9" y="185" width="4.1" height="4.1" fill="#8f8f8f"/>
<rect x="318.9" y="185" width="4.1" height="4.1" fill="#979797"/>
<rect x="322.9" y="185" width="4.1" height="4.1" fill="#9e9e9e"/>
<rect x="326.9" y="185" width="4.1" height="4.1" fill="#a1a1a1"/>
<rect x="330.9" y="185" width="4.1" height="4.1" fill="#9e9e9e"/>
<rect x="334.9" y="185" width="4.1" height="4.1" fill="#989898"/>
<rect x="338.9" y="185" width="4.1" height="4.1" fill="#8c8c8c"/>
<rect x="342.9" y="185" width="4.1" height="4.1" fill="#7c7c7c"/>
<rect x="202.9" y="189" width="4.1" height="4.1" fill="#808080"/>
<rect x="206.9" y="189" width="4.1" height="4.1" fill="#8d8d8d"/>
<rect x="210.9" y="189" width="4.1" height="4.1" fill="#8e8e8e"/>
<rect x="214.9" y="189" width="4.1" height="4.1" fill="#8e8e8e"/>
<rect x="218.9" y="189" width="4.1" height="4.1" fill="#8d8d8d"/>
<rect x="222.9" y="189" width="4.1" height="4.1" fill="#8d8d8d"/>
<rect x="226.9" y="189" width="4.1" height="4.1" fill="#8d8d8d"/>
<rect x="230.9" y="189" width="4.1" height="4.1" fill="#8c8c8c"/>
<rect x="234.9" y="189" width="4.1" height="4.1" fill="#8d8d8d"/>
<rect x="238.9" y="189" width="4.1" height="4.1" fill="#8e8e8e"/>
<rect x="242.9" y="189" width="4.1" height="4.1" fill="#909090"/>
<rect x="246.9" y="189" width="4.1" height="4.1" fill="#9c9c9c"/>
<rect x="250.9" y="189" width="4.1" height="4.1" fill="#b0b0b0"/>
<rect x="254.9" y="189" width="4.1" height="4.1" fill="#909090"/>
<rect x="258.9" y="189" width="4.1" height="4.1" fill="#757575"/>
<rect x="262.9" y="189" width="4.1" height="4.1" fill="#6d6d6d"/>
<rect x="266.9" y="189" width="4.1" height="4.1" fill="#696969"/>
<rect x="270.9" y="189" width="4.1" height="4.1" fill="#676767"/>
<rect x="274.9" y="189" width="4.1" height="4.1" fill="#656565"/>
<rect x="278.9" y="189" width="4.1" height="4.1" fill="#666666"/>
<rect x="282.9" y="189" width="4.1" height="4.1" fill="#6d6d6d"/>
<rect x="286.9" y="189" width="4.1" height="4.1" fill="#747474"/>
<rect x="290.9" y="189" width="4.1" height="4.1" fill="#777777"/>
<rect x="294.9" y="189" width="4.1" height="4.1" fill="#787878"/>
<rect x="298.9" y="189" width="4.1" height="4.1" fill="#787878"/>
<rect x="302.9" y="189" width="4.1" height="4.1" fill="#787878"/>
<rect x="306.9" y="189" width="4.1" height="4.1" fill="#797979"/>
<rect x="310.9" y="189" width="4.1" height="4.1" fill="#7a7a7a"/>
<rect x="314.9" y="189" width="4.1" height="4.1" fill="#7c7c7c"/>
<rect x="318.9" y="189" width="4.1" height="4.1" fill="#808080"/>
<rect x="322.9" y="189" width="4.1" height="4.1" fill="#868686"/>
<rect x="326.9" y="189" width="4.1" height="4.1" fill="#8f8f8f"/>
<rect x="330.9" y="189" width="4.1" height="4.1" fill="#989898"/>
<rect x="334.9" y="189" width="4.1" height="4.1" fill="#9e9e9e"/>
<rect x="338.9" y="189" width="4.1" height="4.1" fill="#949494"/>
<rect x="342.9" y="189" width="4.1" height="4.1" fill="#7e7e7e"/>
<rect x="202.9" y="193" width="4.1" height="4.1" fill="#797979"/>
<rect x="206.9" y="193" width="4.1" height="4.1" fill="#7b7b7b"/>
<rect x="210.9" y="193" width="4.1" height="4.1" fill="#7b7b7b"/>
<rect x="214.9" y="193" width="4.1" height="4.1" fill="#7b7b7b"/>
<rect x="218.9" y="193" width="4.1" height="4.1" fill="#797979"/>
<rect x="222.9" y="193" width="4.1" height="4.1" fill="#767676"/>
<rect x="226.9" y="193" width="4.1" height="4.1" fill="#727272"/>
<rect x="230.9" y="193" width="4.1" height="4.1" fill="#6e6e6e"/>
<rect x="234.9" y="193" width="4.1" height="4.1" fill="#6f6f6f"/>
<rect x="238.9" y="193" width="4.1" height="4.1" fill="#747474"/>
<rect x="242.9" y="193" width="4.1" height="4.1" fill="#7b7b7b"/>
<rect x="246.9" y="193" width="4.1" height="4.1" fill="#979797"/>
<rect x="250.9" y="193" width="4.1" height="4.1" fill="#ababab"/>
<rect x="254.9" y="193" width="4.1" height="4.1" fill="#8f8f8f"/>
<rect x="258.9" y="193" width="4.1" height="4.1" fill="#797979"/>
<rect x="262.9" y="193" width="4.1" height="4.1" fill="#747474"/>
<rect x="266.9" y="193" width="4.1" height="4.1" fill="#737373"/>
<rect x="270.9" y="193" width="4.1" height="4.1" fill="#727272"/>
<rect x="274.9" y="193" width="4.1" height="4.1" fill="#727272"/>
<rect x="278.9" y="193" width="4.1" height="4.1" fill="#737373"/>
<rect x="282.9" y="193" width="4.1" height="4.1" fill="#757575"/>
<rect x="286.9" y="193" width="4.1" height="4.1" fill="#777777"/>
<rect x="290.9" y="193" width="4.1" height="4.1" fill="#787878"/>
<rect x="294.9" y="193" width="4.1" height="4.1" fill="#787878"/>
<rect x="298.9" y="193" width="4.1" height="4.1" fill="#787878"/>
<rect x="302.9" y="193" width="4.1" height="4.1" fill="#797979"/>
<rect x="306.9" y="193" width="4.1" height="4.1" fill="#797979"/>
<rect x="310.9" y="193" width="4.1" height="4.1" fill="#7a7a7a"/>
<rect x="314.9" y="193" width="4.1" height="4.1" fill="#7b7b7b"/>
<rect x="318.9" y="193" width="4.1" height="4.1" fill="#7c7c7c"/>
<rect x="322.9" y="193" width="4.1" height="4.1" fill="#7e7e7e"/>
<rect x="326.9" y="193" width="4.1" height="4.1" fill="#808080"/>
<rect x="330.9" y="193" width="4.1" height="4.1" fill="#848484"/>
<rect x="334.9" y="193" width="4.1" height="4.1" fill="#8a8a8a"/>
<rect x="338.9" y="193" width="4.1" height="4.1" fill="#868686"/>
<rect x="342.9" y="193" width="4.1" height="4.1" fill="#7b7b7b"/>
<rect x="202.9" y="197" width="4.1" height="4.1" fill="#787878"/>
<rect x="206.9" y="197" width="4.1" height="4.1" fill="#787878"/>
<rect x="210.9" y="197" width="4.1" height="4.1" fill="#797979"/>
<rect x="214.9" y="197" width="4.1" height="4.1" fill="#787878"/>
<rect x="218.9" y="197" width="4.1" height="4.1" fill="#747474"/>
<rect x="222.9" y="197" width="4.1" height="4.1" fill="#6c6c6c"/>
<rect x="226.9" y="197" width="4.1" height="4.1" fill="#616161"/>
<rect x="230.9" y="197" width="4.1" height="4.1" fill="#595959"/>
<rect x="234.9" y="197" width="4.1" height="4.1" fill="#5b5b5b"/>
<rect x="238.9" y="197" width="4.1" height="4.1" fill="#666666"/>
<rect x="242.9" y="197" width="4.1" height="4.1" fill="#777777"/>
<rect x="246.9" y="197" width="4.1" height="4.1" fill="#979797"/>
<rect x="250.9" y="197" width="4.1" height="4.1" fill="#a9a9a9"/>
<rect x="254.9" y="197" width="4.1" height="4.1" fill="#8d8d8d"/>
<rect x="258.9" y="197" width="4.1" height="4.1" fill="#7a7a7a"/>
<rect x="262.9" y="197" width="4.1" height="4.1" fill="#777777"/>
<rect x="266.9" y="197" width="4.1" height="4.1" fill="#777777"/>
<rect x="270.9" y="197" width="4.1" height="4.1" fill="#777777"/>
<rect x="274.9" y="197" width="4.1" height="4.1" fill="#777777"/>
<rect x="278.9" y="197" width="4.1" height="4.1" fill="#777777"/>
<rect x="282.9" y="197" width="4.1" height="4.1" fill="#777777"/>
<rect x="286.9" y="197" width="4.1" height="4.1" fill="#787878"/>
<rect x="290.9" y="197" width="4.1" height="4.1" fill="#797979"/>
<rect x="294.9" y="197" width="4.1" height="4.1" fill="#7d7d7d"/>
<rect x="298.9" y="197" width="4.1" height="4.1" fill="#808080"/>
<rect x="302.9" y="197" width="4.1" height="4.1" fill="#828282"/>
<rect x="306.9" y="197" width="4.1" height="4.1" fill="#848484"/>
<rect x="310.9" y="197" width="4.1" height="4.1" fill="#878787"/>
<rect x="314.9" y="197" width="4.1" height="4.1" fill="#898989"/>
<rect x="318.9" y="197" width="4.1" height="4.1" fill="#8c8c8c"/>
<rect x="322.9" y="197" width="4.1" height="4.1" fill="#8f8f8f"/>
<rect x="326.9" y="197" width="4.1" height="4.1" fill="#929292"/>
<rect x="330.9" y="197" width="4.1" height="4.1" fill="#949494"/>
<rect x="334.9" y="197" width="4.1" height="4.1" fill="#969696"/>
<rect x="338.9" y="197" width="4.1" height="4.1" fill="#8d8d8d"/>
<rect x="342.9" y="197" width="4.1" height="4.1" fill="#7c7c7c"/>
<rect x="202.9" y="201" width="4.1" height="4.1" fill="#787878"/>
<rect x="206.9" y="201" width="4.1" height="4.1" fill="#797979"/>
<rect x="210.9" y="201" width="4.1" height="4.1" fill="#878787"/>
<rect x="214.9" y="201" width="4.1" height="4.1" fill="#878787"/>
<rect x="218.9" y="201" width="4.1" height="4.1" fill="#757575"/>
<rect x="222.9" y="201" width="4.1" height="4.1" fill="#6c6c6c"/>
<rect x="226.9" y="201" width="4.1" height="4.1" fill="#616161"/>
<rect x="230.9" y="201" width="4.1" height="4.1" fill="#585858"/>
<rect x="234.9" y="201" width="4.1" height="4.1" fill="#5b5b5b"/>
<rect x="238.9" y="201" width="4.1" height="4.1" fill="#676767"/>
<rect x="242.9" y="201" width="4.1" height="4.1" fill="#787878"/>
<rect x="246.9" y="201" width="4.1" height="4.1" fill="#999999"/>
<rect x="250.9" y="201" width="4.1" height="4.1" fill="#a9a9a9"/>
<rect x="254.9" y="201" width="4.1" height="4.1" fill="#8b8b8b"/>
<rect x="258.9" y="201" width="4.1" height="4.1" fill="#7a7a7a"/>
<rect x="262.9" y="201" width="4.1" height="4.1" fill="#787878"/>
<rect x="266.9" y="201" width="4.1" height="4.1" fill="#787878"/>
<rect x="270.9" y="201" width="4.1" height="4.1" fill="#787878"/>
<rect x="274.9" y="201" width="4.1" height="4.1" fill="#787878"/>
<rect x="278.9" y="201" width="4.1" height="4.1" fill="#787878"/>
<rect x="282.9" y="201" width="4.1" height="4.1" fill="#787878"/>
<rect x="286.9" y="201" width="4.1" height="4.1" fill="#787878"/>
<rect x="290.9" y="201" width="4.1" height="4.1" fill="#7b7b7b"/>
<rect x="294.9" y="201" width="4.1" height="4.1" fill="#8a8a8a"/>
<rect x="298.9" y="201" width="4.1" height="4.1" fill="#929292"/>
<rect x="302.9" y="201" width="4.1" height="4.1" fill="#949494"/>
<rect x="306.9" y="201" width="4.1" height="4.1" fill="#969696"/>
<rect x="310.9" y="201" width="4.1" height="4.1" fill="#969696"/>
<rect x="314.9" y="201" width="4.1" height="4.1" fill="#979797"/>
<rect x="318.9" y="201" width="4.1" height="4.1" fill="#979797"/>
<rect x="322.9" y="201" width="4.1" height="4.1" fill="#989898"/>
<rect x="326.9" y="201" width="4.1" height="4.1" fill="#999999"/>
<rect x="330.9" y="201" width="4.1" height="4.1" fill="#959595"/>
<rect x="334.9" y="201" width="4.1" height="4.1" fill="#8f8f8f"/>
<rect x="338.9" y="201" width="4.1" height="4.1" fill="#878787"/>
<rect x="342.9" y="201" width="4.1" height="4.1" fill="#7b7b7b"/>
<rect x="202.9" y="205" width="4.1" height="4.1" fill="#787878"/>
<rect x="206.9" y="205" width="4.1" height="4.1" fill="#797979"/>
<rect x="210.9" y="205" width="4.1" height="4.1" fill="#898989"/>
<rect x="214.9" y="205" width="4.1" height="4.1" fill="#939393"/>
<rect x="218.9" y="205" width="4.1" height="4.1" fill="#7b7b7b"/>
<rect x="222.9" y="205" width="4.1" height="4.1" fill="#737373"/>
<rect x="226.9" y="205" width="4.1" height="4.1" fill="#6e6e6e"/>
<rect x="230.9" y="205" width="4.1" height="4.1" fill="#6b6b6b"/>
<rect x="234.9" y="205" width="4.1" height="4.1" fill="#6c6c6c"/>
<rect x="238.9" y="205" width="4.1" height="4.1" fill="#717171"/>
<rect x="242.9" y="205" width="4.1" height="4.1" fill="#7d7d7d"/>
<rect x="246.9" y="205" width="4.1" height="4.1" fill="#9d9d9d"/>
<rect x="250.9" y="205" width="4.1" height="4.1" fill="#a8a8a8"/>
<rect x="254.9" y="205" width="4.1" height="4.1" fill="#898989"/>
<rect x="258.9" y="205" width="4.1" height="4.1" fill="#7a7a7a"/>
<rect x="262.9" y="205" width="4.1" height="4.1" fill="#7a7a7a"/>
<rect x="266.9" y="205" width="4.1" height="4.1" fill="#7b7b7b"/>
<rect x="270.9" y="205" width="4.1" height="4.1" fill="#797979"/>
<rect x="274.9" y="205" width="4.1" height="4.1" fill="#787878"/>
<rect x="278.9" y="205" width="4.1" height="4.1" fill="#787878"/>
<rect x="282.9" y="205" width="4.1" height="4.1" fill="#787878"/>
<rect x="286.9" y="205" width="4.1" height="4.1" fill="#787878"/>
<rect x="290.9" y="205" width="4.1" height="4.1" fill="#7b7b7b"/>
<rect x="294.9" y="205" width="4.1" height="4.1" fill="#8a8a8a"/>
<rect x="298.9" y="205" width="4.1" height="4.1" fill="#929292"/>
<rect x="302.9" y="205" width="4.1" height="4.1" fill="#8f8f8f"/>
<rect x="306.9" y="205" width="4.1" height="4.1" fill="#8d8d8d"/>
<rect x="310.9" y="205" width="4.1" height="4.1" fill="#8c8c8c"/>
<rect x="314.9" y="205" width="4.1" height="4.1" fill="#8c8c8c"/>
<rect x="318.9" y="205" width="4.1" height="4.1" fill="#929292"/>
<rect x="322.9" y="205" width="4.1" height="4.1" fill="#9d9d9d"/>
<rect x="326.9" y="205" width="4.1" height="4.1" fill="#a6a6a6"/>
<rect x="330.9" y="205" width="4.1" height="4.1" fill="#9a9a9a"/>
<rect x="334.9" y="205" width="4.1" height="4.1" fill="#808080"/>
<rect x="338.9" y="205" width="4.1" height="4.1" fill="#7b7b7b"/>
<rect x="342.9" y="205" width="4.1" height="4.1" fill="#787878"/>
<rect x="202.9" y="209" width="4.1" height="4.1" fill="#808080"/>
<rect x="206.9" y="209" width="4.1" height="4.1" fill="#808080"/>
<rect x="210.9" y="209" width="4.1" height="4.1" fill="#878787"/>
<rect x="214.9" y="209" width="4.1" height="4.1" fill="#9e9e9e"/>
<rect x="218.9" y="209" width="4.1" height="4.1" fill="#8b8b8b"/>
<rect x="222.9" y="209" width="4.1" height="4.1" fill="#7f7f7f"/>
<rect x="226.9" y="209" width="4.1" height="4.1" fill="#7e7e7e"/>
<rect x="230.9" y="209" width="4.1" height="4.1" fill="#7d7d7d"/>
<rect x="234.9" y="209" width="4.1" height="4.1" fill="#7e7e7e"/>
<rect x="238.9" y="209" width="4.1" height="4.1" fill="#7f7f7f"/>
<rect x="242.9" y="209" width="4.1" height="4.1" fill="#898989"/>
<rect x="246.9" y="209" width="4.1" height="4.1" fill="#a7a7a7"/>
<rect x="250.9" y="209" width="4.1" height="4.1" fill="#aeaeae"/>
<rect x="254.9" y="209" width="4.1" height="4.1" fill="#909090"/>
<rect x="258.9" y="209" width="4.1" height="4.1" fill="#858585"/>
<rect x="262.9" y="209" width="4.1" height="4.1" fill="#8b8b8b"/>
<rect x="266.9" y="209" width="4.1" height="4.1" fill="#989898"/>
<rect x="270.9" y="209" width="4.1" height="4.1" fill="#8d8d8d"/>
<rect x="274.9" y="209" width="4.1" height="4.1" fill="#848484"/>
<rect x="278.9" y="209" width="4.1" height="4.1" fill="#808080"/>
<rect x="282.9" y="209" width="4.1" height="4.1" fill="#808080"/>
<rect x="286.9" y="209" width="4.1" height="4.1" fill="#808080"/>
<rect x="290.9" y="209" width="4.1" height="4.1" fill="#818181"/>
<rect x="294.9" y="209" width="4.1" height="4.1" fill="#858585"/>
<rect x="298.9" y="209" width="4.1" height="4.1" fill="#888888"/>
<rect x="302.9" y="209" width="4.1" height="4.1" fill="#8b8b8b"/>
<rect x="306.9" y="209" width="4.1" height="4.1" fill="#939393"/>
<rect x="310.9" y="209" width="4.1" height="4.1" fill="#9d9d9d"/>
<rect x="314.9" y="209" width="4.1" height="4.1" fill="#a7a7a7"/>
<rect x="318.9" y="209" width="4.1" height="4.1" fill="#adadad"/>
<rect x="322.9" y="209" width="4.1" height="4.1" fill="#adadad"/>
<rect x="326.9" y="209" width="4.1" height="4.1" fill="#a5a5a5"/>
<rect x="330.9" y="209" width="4.1" height="4.1" fill="#979797"/>
<rect x="334.9" y="209" width="4.1" height="4.1" fill="#848484"/>
<rect x="338.9" y="209" width="4.1" height="4.1" fill="#808080"/>
<rect x="342.9" y="209" width="4.1" height="4.1" fill="#808080"/>
<rect x="202.9" y="213" width="4.1" height="4.1" fill="#808080"/>
<rect x="206.9" y="213" width="4.1" height="4.1" fill="#808080"/>
<rect x="210.9" y="213" width="4.1" height="4.1" fill="#828282"/>
<rect x="214.9" y="213" width="4.1" height="4.1" fill="#979797"/>
<rect x="218.9" y="213" width="4.1" height="4.1" fill="#969696"/>
<rect x="222.9" y="213" width="4.1" height="4.1" fill="#828282"/>
<rect x="226.9" y="213" width="4.1" height="4.1" fill="#7f7f7f"/>
<rect x="230.9" y="213" width="4.1" height="4.1" fill="#7f7f7f"/>
<rect x="234.9" y="213" width="4.1" height="4.1" fill="#7f7f7f"/>
<rect x="238.9" y="213" width="4.1" height="4.1" fill="#808080"/>
<rect x="242.9" y="213" width="4.1" height="4.1" fill="#8b8b8b"/>
<rect x="246.9" y="213" width="4.1" height="4.1" fill="#aaaaaa"/>
<rect x="250.9" y="213" width="4.1" height="4.1" fill="#acacac"/>
<rect x="254.9" y="213" width="4.1" height="4.1" fill="#999999"/>
<rect x="258.9" y="213" width="4.1" height="4.1" fill="#959595"/>
<rect x="262.9" y="213" width="4.1" height="4.1" fill="#868686"/>
<rect x="266.9" y="213" width="4.1" height="4.1" fill="#929292"/>
<rect x="270.9" y="213" width="4.1" height="4.1" fill="#9b9b9b"/>
<rect x="274.9" y="213" width="4.1" height="4.1" fill="#999999"/>
<rect x="278.9" y="213" width="4.1" height="4.1" fill="#8e8e8e"/>
<rect x="282.9" y="213" width="4.1" height="4.1" fill="#858585"/>
<rect x="286.9" y="213" width="4.1" height="4.1" fill="#828282"/>
<rect x="290.9" y="213" width="4.1" height="4.1" fill="#848484"/>
<rect x="294.9" y="213" width="4.1" height="4.1" fill="#8b8b8b"/>
<rect x="298.9" y="213" width="4.1" height="4.1" fill="#979797"/>
<rect x="302.9" y="213" width="4.1" height="4.1" fill="#a8a8a8"/>
<rect x="306.9" y="213" width="4.1" height="4.1" fill="#b6b6b6"/>
<rect x="310.9" y="213" width="4.1" height="4.1" fill="#b7b7b7"/>
<rect x="314.9" y="213" width="4.1" height="4.1" fill="#adadad"/>
<rect x="318.9" y="213" width="4.1" height="4.1" fill="#a0a0a0"/>
<rect x="322.9" y="213" width="4.1" height="4.1" fill="#949494"/>
<rect x="326.9" y="213" width="4.1" height="4.1" fill="#8a8a8a"/>
<rect x="330.9" y="213" width="4.1" height="4.1" fill="#848484"/>
<rect x="334.9" y="213" width="4.1" height="4.1" fill="#808080"/>
<rect x="338.9" y="213" width="4.1" height="4.1" fill="#808080"/>
<rect x="342.9" y="213" width="4.1" height="4.1" fill="#808080"/>
<rect x="202.9" y="217" width="4.1" height="4.1" fill="#808080"/>
<rect x="206.9" y="217" width="4.1" height="4.1" fill="#808080"/>
<rect x="210.9" y="217" width="4.1" height="4.1" fill="#808080"/>
<rect x="214.9" y="217" width="4.1" height="4.1" fill="#8d8d8d"/>
<rect x="218.9" y="217" width="4.1" height="4.1" fill="#9d9d9d"/>
<rect x="222.9" y="217" width="4.1" height="4.1" fill="#868686"/>
<rect x="226.9" y="217" width="4.1" height="4.1" fill="#808080"/>
<rect x="230.9" y="217" width="4.1" height="4.1" fill="#7f7f7f"/>
<rect x="234.9" y="217" width="4.1" height="4.1" fill="#808080"/>
<rect x="238.9" y="217" width="4.1" height="4.1" fill="#818181"/>
<rect x="242.9" y="217" width="4.1" height="4.1" fill="#8c8c8c"/>
<rect x="246.9" y="217" width="4.1" height="4.1" fill="#acacac"/>
<rect x="250.9" y="217" width="4.1" height="4.1" fill="#ababab"/>
<rect x="254.9" y="217" width="4.1" height="4.1" fill="#999999"/>
<rect x="258.9" y="217" width="4.1" height="4.1" fill="#949494"/>
<rect x="262.9" y="217" width="4.1" height="4.1" fill="#808080"/>
<rect x="266.9" y="217" width="4.1" height="4.1" fill="#818181"/>
<rect x="270.9" y="217" width="4.1" height="4.1" fill="#868686"/>
<rect x="274.9" y="217" width="4.1" height="4.1" fill="#919191"/>
<rect x="278.9" y="217" width="4.1" height="4.1" fill="#9b9b9b"/>
<rect x="282.9" y="217" width="4.1" height="4.1" fill="#9c9c9c"/>
<rect x="286.9" y="217" width="4.1" height="4.1" fill="#959595"/>
<rect x="290.9" y="217" width="4.1" height="4.1" fill="#9b9b9b"/>
<rect x="294.9" y="217" width="4.1" height="4.1" fill="#a6a6a6"/>
<rect x="298.9" y="217" width="4.1" height="4.1" fill="#b4b4b4"/>
<rect x="302.9" y="217" width="4.1" height="4.1" fill="#c3c3c3"/>
<rect x="306.9" y="217" width="4.1" height="4.1" fill="#c6c6c6"/>
<rect x="310.9" y="217" width="4.1" height="4.1" fill="#b2b2b2"/>
<rect x="314.9" y="217" width="4.1" height="4.1" fill="#989898"/>
<rect x="318.9" y="217" width="4.1" height="4.1" fill="#898989"/>
<rect x="322.9" y="217" width="4.1" height="4.1" fill="#838383"/>
<rect x="326.9" y="217" width="4.1" height="4.1" fill="#818181"/>
<rect x="330.9" y="217" width="4.1" height="4.1" fill="#808080"/>
<rect x="334.9" y="217" width="4.1" height="4.1" fill="#808080"/>
<rect x="338.9" y="217" width="4.1" height="4.1" fill="#808080"/>
<rect x="342.9" y="217" width="4.1" height="4.1" fill="#808080"/>
<rect x="202.9" y="221" width="4.1" height="4.1" fill="#808080"/>
<rect x="206.9" y="221" width="4.1" height="4.1" fill="#808080"/>
<rect x="210.9" y="221" width="4.1" height="4.1" fill="#808080"/>
<rect x="214.9" y="221" width="4.1" height="4.1" fill="#858585"/>
<rect x="218.9" y="221" width="4.1" height="4.1" fill="#9c9c9c"/>
<rect x="222.9" y="221" width="4.1" height="4.1" fill="#8f8f8f"/>
<rect x="226.9" y="221" width="4.1" height="4.1" fill="#808080"/>
<rect x="230.9" y="221" width="4.1" height="4.1" fill="#808080"/>
<rect x="234.9" y="221" width="4.1" height="4.1" fill="#808080"/>
<rect x="238.9" y="221" width="4.1" height="4.1" fill="#818181"/>
<rect x="242.9" y="221" width="4.1" height="4.1" fill="#8e8e8e"/>
<rect x="246.9" y="221" width="4.1" height="4.1" fill="#aeaeae"/>
<rect x="250.9" y="221" width="4.1" height="4.1" fill="#a8a8a8"/>
<rect x="254.9" y="221" width="4.1" height="4.1" fill="#9a9a9a"/>
<rect x="258.9" y="221" width="4.1" height="4.1" fill="#939393"/>
<rect x="262.9" y="221" width="4.1" height="4.1" fill="#808080"/>
<rect x="266.9" y="221" width="4.1" height="4.1" fill="#818181"/>
<rect x="270.9" y="221" width="4.1" height="4.1" fill="#838383"/>
<rect x="274.9" y="221" width="4.1" height="4.1" fill="#898989"/>
<rect x="278.9" y="221" width="4.1" height="4.1" fill="#949494"/>
<rect x="282.9" y="221" width="4.1" height="4.1" fill="#a3a3a3"/>
<rect x="286.9" y="221" width="4.1" height="4.1" fill="#b2b2b2"/>
<rect x="290.9" y="221" width="4.1" height="4.1" fill="#b8b8b8"/>
<rect x="294.9" y="221" width="4.1" height="4.1" fill="#b3b3b3"/>
<rect x="298.9" y="221" width="4.1" height="4.1" fill="#acacac"/>
<rect x="302.9" y="221" width="4.1" height="4.1" fill="#adadad"/>
<rect x="306.9" y="221" width="4.1" height="4.1" fill="#ababab"/>
<rect x="310.9" y="221" width="4.1" height="4.1" fill="#9c9c9c"/>
<rect x="314.9" y="221" width="4.1" height="4.1" fill="#8a8a8a"/>
<rect x="318.9" y="221" width="4.1" height="4.1" fill="#828282"/>
<rect x="322.9" y="221" width="4.1" height="4.1" fill="#808080"/>
<rect x="326.9" y="221" width="4.1" height="4.1" fill="#808080"/>
<rect x="330.9" y="221" width="4.1" height="4.1" fill="#808080"/>
<rect x="334.9" y="221" width="4.1" height="4.1" fill="#808080"/>
<rect x="338.9" y="221" width="4.1" height="4.1" fill="#808080"/>
<rect x="342.9" y="221" width="4.1" height="4.1" fill="#808080"/>
<rect x="202.9" y="225" width="4.1" height="4.1" fill="#808080"/>
<rect x="206.9" y="225" width="4.1" height="4.1" fill="#808080"/>
<rect x="210.9" y="225" width="4.1" height="4.1" fill="#808080"/>
<rect x="214.9" y="225" width="4.1" height="4.1" fill="#818181"/>
<rect x="218.9" y="225" width="4.1" height="4.1" fill="#939393"/>
<rect x="222.9" y="225" width="4.1" height="4.1" fill="#999999"/>
<rect x="226.9" y="225" width="4.1" height="4.1" fill="#838383"/>
<rect x="230.9" y="225" width="4.1" height="4.1" fill="#808080"/>
<rect x="234.9" y="225" width="4.1" height="4.1" fill="#808080"/>
<rect x="238.9" y="225" width="4.1" height="4.1" fill="#818181"/>
<rect x="242.9" y="225" width="4.1" height="4.1" fill="#909090"/>
<rect x="246.9" y="225" width="4.1" height="4.1" fill="#afafaf"/>
<rect x="250.9" y="225" width="4.1" height="4.1" fill="#a6a6a6"/>
<rect x="254.9" y="225" width="4.1" height="4.1" fill="#9a9a9a"/>
<rect x="258.9" y="225" width="4.1" height="4.1" fill="#939393"/>
<rect x="262.9" y="225" width="4.1" height="4.1" fill="#858585"/>
<rect x="266.9" y="225" width="4.1" height="4.1" fill="#8c8c8c"/>
<rect x="270.9" y="225" width="4.1" height="4.1" fill="#969696"/>
<rect x="274.9" y="225" width="4.1" height="4.1" fill="#a2a2a2"/>
<rect x="278.9" y="225" width="4.1" height="4.1" fill="#ababab"/>
<rect x="282.9" y="225" width="4.1" height="4.1" fill="#aeaeae"/>
<rect x="286.9" y="225" width="4.1" height="4.1" fill="#a9a9a9"/>
<rect x="290.9" y="225" width="4.1" height="4.1" fill="#a2a2a2"/>
<rect x="294.9" y="225" width="4.1" height="4.1" fill="#a0a0a0"/>
<rect x="298.9" y="225" width="4.1" height="4.1" fill="#a2a2a2"/>
<rect x="302.9" y="225" width="4.1" height="4.1" fill="#9d9d9d"/>
<rect x="306.9" y="225" width="4.1" height="4.1" fill="#959595"/>
<rect x="310.9" y="225" width="4.1" height="4.1" fill="#8a8a8a"/>
<rect x="314.9" y="225" width="4.1" height="4.1" fill="#838383"/>
<rect x="318.9" y="225" width="4.1" height="4.1" fill="#808080"/>
<rect x="322.9" y="225" width="4.1" height="4.1" fill="#808080"/>
<rect x="326.9" y="225" width="4.1" height="4.1" fill="#808080"/>
<rect x="330.9" y="225" width="4.1" height="4.1" fill="#808080"/>
<rect x="334.9" y="225" width="4.1" height="4.1" fill="#7f7f7f"/>
<rect x="338.9" y="225" width="4.1" height="4.1" fill="#7f7f7f"/>
<rect x="342.9" y="225" width="4.1" height="4.1" fill="#7f7f7f"/>
<rect x="202.9" y="229" width="4.1" height="4.1" fill="#808080"/>
<rect x="206.9" y="229" width="4.1" height="4.1" fill="#808080"/>
<rect x="210.9" y="229" width="4.1" height="4.1" fill="#808080"/>
<rect x="214.9" y="229" width="4.1" height="4.1" fill="#808080"/>
<rect x="218.9" y="229" width="4.1" height="4.1" fill="#8a8a8a"/>
<rect x="222.9" y="229" width="4.1" height="4.1" fill="#9e9e9e"/>
<rect x="226.9" y="229" width="4.1" height="4.1" fill="#898989"/>
<rect x="230.9" y="229" width="4.1" height="4.1" fill="#808080"/>
<rect x="234.9" y="229" width="4.1" height="4.1" fill="#808080"/>
<rect x="238.9" y="229" width="4.1" height="4.1" fill="#828282"/>
<rect x="242.9" y="229" width="4.1" height="4.1" fill="#939393"/>
<rect x="246.9" y="229" width="4.1" height="4.1" fill="#b1b1b1"/>
<rect x="250.9" y="229" width="4.1" height="4.1" fill="#a4a4a4"/>
<rect x="254.9" y="229" width="4.1" height="4.1" fill="#9b9b9b"/>
<rect x="258.9" y="229" width="4.1" height="4.1" fill="#979797"/>
<rect x="262.9" y="229" width="4.1" height="4.1" fill="#9c9c9c"/>
<rect x="266.9" y="229" width="4.1" height="4.1" fill="#a7a7a7"/>
<rect x="270.9" y="229" width="4.1" height="4.1" fill="#adadad"/>
<rect x="274.9" y="229" width="4.1" height="4.1" fill="#acacac"/>
<rect x="278.9" y="229" width="4.1" height="4.1" fill="#a3a3a3"/>
<rect x="282.9" y="229" width="4.1" height="4.1" fill="#979797"/>
<rect x="286.9" y="229" width="4.1" height="4.1" fill="#8d8d8d"/>
<rect x="290.9" y="229" width="4.1" height="4.1" fill="#868686"/>
<rect x="294.9" y="229" width="4.1" height="4.1" fill="#858585"/>
<rect x="298.9" y="229" width="4.1" height="4.1" fill="#8e8e8e"/>
<rect x="302.9" y="229" width="4.1" height="4.1" fill="#999999"/>
<rect x="306.9" y="229" width="4.1" height="4.1" fill="#9c9c9c"/>
<rect x="310.9" y="229" width="4.1" height="4.1" fill="#858585"/>
<rect x="314.9" y="229" width="4.1" height="4.1" fill="#808080"/>
<rect x="318.9" y="229" width="4.1" height="4.1" fill="#808080"/>
<rect x="322.9" y="229" width="4.1" height="4.1" fill="#808080"/>
<rect x="326.9" y="229" width="4.1" height="4.1" fill="#7f7f7f"/>
<rect x="330.9" y="229" width="4.1" height="4.1" fill="#7f7f7f"/>
<rect x="334.9" y="229" width="4.1" height="4.1" fill="#7f7f7f"/>
<rect x="338.9" y="229" width="4.1" height="4.1" fill="#7f7f7f"/>
<rect x="342.9" y="229" width="4.1" height="4.1" fill="#7f7f7f"/>
<rect x="202.9" y="233" width="4.1" height="4.1" fill="#808080"/>
<rect x="206.9" y="233" width="4.1" height="4.1" fill="#808080"/>
<rect x="210.9" y="233" width="4.1" height="4.1" fill="#868686"/>
<rect x="214.9" y="233" width="4.1" height="4.1" fill="#8c8c8c"/>
<rect x="218.9" y="233" width="4.1" height="4.1" fill="#848484"/>
<rect x="222.9" y="233" width="4.1" height="4.1" fill="#999999"/>
<rect x="226.9" y="233" width="4.1" height="4.1" fill="#8e8e8e"/>
<rect x="230.9" y="233" width="4.1" height="4.1" fill="#808080"/>
<rect x="234.9" y="233" width="4.1" height="4.1" fill="#808080"/>
<rect x="238.9" y="233" width="4.1" height="4.1" fill="#828282"/>
<rect x="242.9" y="233" width="4.1" height="4.1" fill="#969696"/>
<rect x="246.9" y="233" width="4.1" height="4.1" fill="#b2b2b2"/>
<rect x="250.9" y="233" width="4.1" height="4.1" fill="#a0a0a0"/>
<rect x="254.9" y="233" width="4.1" height="4.1" fill="#9f9f9f"/>
<rect x="258.9" y="233" width="4.1" height="4.1" fill="#b0b0b0"/>
<rect x="262.9" y="233" width="4.1" height="4.1" fill="#aeaeae"/>
<rect x="266.9" y="233" width="4.1" height="4.1" fill="#a9a9a9"/>
<rect x="270.9" y="233" width="4.1" height="4.1" fill="#a1a1a1"/>
<rect x="274.9" y="233" width="4.1" height="4.1" fill="#969696"/>
<rect x="278.9" y="233" width="4.1" height="4.1" fill="#8b8b8b"/>
<rect x="282.9" y="233" width="4.1" height="4.1" fill="#848484"/>
<rect x="286.9" y="233" width="4.1" height="4.1" fill="#818181"/>
<rect x="290.9" y="233" width="4.1" height="4.1" fill="#808080"/>
<rect x="294.9" y="233" width="4.1" height="4.1" fill="#808080"/>
<rect x="298.9" y="233" width="4.1" height="4.1" fill="#808080"/>
<rect x="302.9" y="233" width="4.1" height="4.1" fill="#838383"/>
<rect x="306.9" y="233" width="4.1" height="4.1" fill="#878787"/>
<rect x="310.9" y="233" width="4.1" height="4.1" fill="#818181"/>
<rect x="314.9" y="233" width="4.1" height="4.1" fill="#808080"/>
<rect x="318.9" y="233" width="4.1" height="4.1" fill="#7f7f7f"/>
<rect x="322.9" y="233" width="4.1" height="4.1" fill="#7f7f7f"/>
<rect x="326.9" y="233" width="4.1" height="4.1" fill="#7f7f7f"/>
<rect x="330.9" y="233" width="4.1" height="4.1" fill="#7f7f7f"/>
<rect x="334.9" y="233" width="4.1" height="4.1" fill="#7f7f7f"/>
<rect x="338.9" y="233" width="4.1" height="4.1" fill="#7f7f7f"/>
<rect x="342.9" y="233" width="4.1" height="4.1" fill="#7f7f7f"/>
<rect x="202.9" y="237" width="4.1" height="4.1" fill="#808080"/>
<rect x="206.9" y="237" width="4.1" height="4.1" fill="#808080"/>
<rect x="210.9" y="237" width="4.1" height="4.1" fill="#8b8b8b"/>
<rect x="214.9" y="237" width="4.1" height="4.1" fill="#9a9a9a"/>
<rect x="218.9" y="237" width="4.1" height="4.1" fill="#848484"/>
<rect x="222.9" y="237" width="4.1" height="4.1" fill="#838383"/>
<rect x="226.9" y="237" width="4.1" height="4.1" fill="#828282"/>
<rect x="230.9" y="237" width="4.1" height="4.1" fill="#808080"/>
<rect x="234.9" y="237" width="4.1" height="4.1" fill="#808080"/>
<rect x="238.9" y="237" width="4.1" height="4.1" fill="#838383"/>
<rect x="242.9" y="237" width="4.1" height="4.1" fill="#9a9a9a"/>
<rect x="246.9" y="237" width="4.1" height="4.1" fill="#b3b3b3"/>
<rect x="250.9" y="237" width="4.1" height="4.1" fill="#9c9c9c"/>
<rect x="254.9" y="237" width="4.1" height="4.1" fill="#9e9e9e"/>
<rect x="258.9" y="237" width="4.1" height="4.1" fill="#a4a4a4"/>
<rect x="262.9" y="237" width="4.1" height="4.1" fill="#999999"/>
<rect x="266.9" y="237" width="4.1" height="4.1" fill="#909090"/>
<rect x="270.9" y="237" width="4.1" height="4.1" fill="#9f9f9f"/>
<rect x="274.9" y="237" width="4.1" height="4.1" fill="#a3a3a3"/>
<rect x="278.9" y="237" width="4.1" height="4.1" fill="#9b9b9b"/>
<rect x="282.9" y="237" width="4.1" height="4.1" fill="#939393"/>
<rect x="286.9" y="237" width="4.1" height="4.1" fill="#8c8c8c"/>
<rect x="290.9" y="237" width="4.1" height="4.1" fill="#868686"/>
<rect x="294.9" y="237" width="4.1" height="4.1" fill="#838383"/>
<rect x="298.9" y="237" width="4.1" height="4.1" fill="#818181"/>
<rect x="302.9" y="237" width="4.1" height="4.1" fill="#808080"/>
<rect x="306.9" y="237" width="4.1" height="4.1" fill="#808080"/>
<rect x="310.9" y="237" width="4.1" height="4.1" fill="#7f7f7f"/>
<rect x="314.9" y="237" width="4.1" height="4.1" fill="#7f7f7f"/>
<rect x="318.9" y="237" width="4.1" height="4.1" fill="#7f7f7f"/>
<rect x="322.9" y="237" width="4.1" height="4.1" fill="#7f7f7f"/>
<rect x="326.9" y="237" width="4.1" height="4.1" fill="#7f7f7f"/>
<rect x="330.9" y="237" width="4.1" height="4.1" fill="#7f7f7f"/>
<rect x="334.9" y="237" width="4.1" height="4.1" fill="#7f7f7f"/>
<rect x="338.9" y="237" width="4.1" height="4.1" fill="#7f7f7f"/>
<rect x="342.9" y="237" width="4.1" height="4.1" fill="#7f7f7f"/>
<rect x="202.9" y="241" width="4.1" height="4.1" fill="#808080"/>
<rect x="206.9" y="241" width="4.1" height="4.1" fill="#808080"/>
<rect x="210.9" y="241" width="4.1" height="4.1" fill="#878787"/>
<rect x="214.9" y="241" width="4.1" height="4.1" fill="#9c9c9c"/>
<rect x="218.9" y="241" width="4.1" height="4.1" fill="#878787"/>
<rect x="222.9" y="241" width="4.1" height="4.1" fill="#808080"/>
<rect x="226.9" y="241" width="4.1" height="4.1" fill="#808080"/>
<rect x="230.9" y="241" width="4.1" height="4.1" fill="#808080"/>
<rect x="234.9" y="241" width="4.1" height="4.1" fill="#808080"/>
<rect x="238.9" y="241" width="4.1" height="4.1" fill="#858585"/>
<rect x="242.9" y="241" width="4.1" height="4.1" fill="#9e9e9e"/>
<rect x="246.9" y="241" width="4.1" height="4.1" fill="#b2b2b2"/>
<rect x="250.9" y="241" width="4.1" height="4.1" fill="#989898"/>
<rect x="254.9" y="241" width="4.1" height="4.1" fill="#9c9c9c"/>
<rect x="258.9" y="241" width="4.1" height="4.1" fill="#909090"/>
<rect x="262.9" y="241" width="4.1" height="4.1" fill="#848484"/>
<rect x="266.9" y="241" width="4.1" height="4.1" fill="#848484"/>
<rect x="270.9" y="241" width="4.1" height="4.1" fill="#939393"/>
<rect x="274.9" y="241" width="4.1" height="4.1" fill="#9d9d9d"/>
<rect x="278.9" y="241" width="4.1" height="4.1" fill="#a3a3a3"/>
<rect x="282.9" y="241" width="4.1" height="4.1" fill="#a6a6a6"/>
<rect x="286.9" y="241" width="4.1" height="4.1" fill="#a4a4a4"/>
<rect x="290.9" y="241" width="4.1" height="4.1" fill="#9e9e9e"/>
<rect x="294.9" y="241" width="4.1" height="4.1" fill="#979797"/>
<rect x="298.9" y="241" width="4.1" height="4.1" fill="#8f8f8f"/>
<rect x="302.9" y="241" width="4.1" height="4.1" fill="#888888"/>
<rect x="306.9" y="241" width="4.1" height="4.1" fill="#848484"/>
<rect x="310.9" y="241" width="4.1" height="4.1" fill="#818181"/>
<rect x="314.9" y="241" width="4.1" height="4.1" fill="#808080"/>
<rect x="318.9" y="241" width="4.1" height="4.1" fill="#7f7f7f"/>
<rect x="322.9" y="241" width="4.1" height="4.1" fill="#7f7f7f"/>
<rect x="326.9" y="241" width="4.1" height="4.1" fill="#7f7f7f"/>
<rect x="330.9" y="241" width="4.1" height="4.1" fill="#7f7f7f"/>
<rect x="334.9" y="241" width="4.1" height="4.1" fill="#7f7f7f"/>
<rect x="338.9" y="241" width="4.1" height="4.1" fill="#7f7f7f"/>
<rect x="342.9" y="241" width="4.1" height="4.1" fill="#7f7f7f"/>
<rect x="202.9" y="245" width="4.1" height="4.1" fill="#808080"/>
<rect x="206.9" y="245" width="4.1" height="4.1" fill="#808080"/>
<rect x="210.9" y="245" width="4.1" height="4.1" fill="#848484"/>
<rect x="214.9" y="245" width="4.1" height="4.1" fill="#9b9b9b"/>
<rect x="218.9" y="245" width="4.1" height="4.1" fill="#8b8b8b"/>
<rect x="222.9" y="245" width="4.1" height="4.1" fill="#808080"/>
<rect x="226.9" y="245" width="4.1" height="4.1" fill="#808080"/>
<rect x="230.9" y="245" width="4.1" height="4.1" fill="#808080"/>
<rect x="234.9" y="245" width="4.1" height="4.1" fill="#808080"/>
<rect x="238.9" y="245" width="4.1" height="4.1" fill="#868686"/>
<rect x="242.9" y="245" width="4.1" height="4.1" fill="#a2a2a2"/>
<rect x="246.9" y="245" width="4.1" height="4.1" fill="#b1b1b1"/>
<rect x="250.9" y="245" width="4.1" height="4.1" fill="#959595"/>
<rect x="254.9" y="245" width="4.1" height="4.1" fill="#9c9c9c"/>
<rect x="258.9" y="245" width="4.1" height="4.1" fill="#8c8c8c"/>
<rect x="262.9" y="245" width="4.1" height="4.1" fill="#808080"/>
<rect x="266.9" y="245" width="4.1" height="4.1" fill="#808080"/>
<rect x="270.9" y="245" width="4.1" height="4.1" fill="#828282"/>
<rect x="274.9" y="245" width="4.1" height="4.1" fill="#858585"/>
<rect x="278.9" y="245" width="4.1" height="4.1" fill="#8a8a8a"/>
<rect x="282.9" y="245" width="4.1" height="4.1" fill="#909090"/>
<rect x="286.9" y="245" width="4.1" height="4.1" fill="#989898"/>
<rect x="290.9" y="245" width="4.1" height="4.1" fill="#9f9f9f"/>
<rect x="294.9" y="245" width="4.1" height="4.1" fill="#a3a3a3"/>
<rect x="298.9" y="245" width="4.1" height="4.1" fill="#a3a3a3"/>
<rect x="302.9" y="245" width="4.1" height="4.1" fill="#9f9f9f"/>
<rect x="306.9" y="245" width="4.1" height="4.1" fill="#989898"/>
<rect x="310.9" y="245" width="4.1" height="4.1" fill="#909090"/>
<rect x="314.9" y="245" width="4.1" height="4.1" fill="#898989"/>
<rect x="318.9" y="245" width="4.1" height="4.1" fill="#848484"/>
<rect x="322.9" y="245" width="4.1" height="4.1" fill="#828282"/>
<rect x="326.9" y="245" width="4.1" height="4.1" fill="#808080"/>
<rect x="330.9" y="245" width="4.1" height="4.1" fill="#808080"/>
<rect x="334.9" y="245" width="4.1" height="4.1" fill="#7f7f7f"/>
<rect x="338.9" y="245" width="4.1" height="4.1" fill="#7f7f7f"/>
<rect x="342.9" y="245" width="4.1" height="4.1" fill="#7f7f7f"/>
<rect x="202.9" y="249" width="4.1" height="4.1" fill="#808080"/>
<rect x="206.9" y="249" width="4.1" height="4.1" fill="#808080"/>
<rect x="210.9" y="249" width="4.1" height="4.1" fill="#828282"/>
<rect x="214.9" y="249" width="4.1" height="4.1" fill="#989898"/>
<rect x="218.9" y="249" width="4.1" height="4.1" fill="#909090"/>
<rect x="222.9" y="249" width="4.1" height="4.1" fill="#808080"/>
<rect x="226.9" y="249" width="4.1" height="4.1" fill="#808080"/>
<rect x="230.9" y="249" width="4.1" height="4.1" fill="#808080"/>
<rect x="234.9" y="249" width="4.1" height="4.1" fill="#808080"/>
<rect x="238.9" y="249" width="4.1" height="4.1" fill="#888888"/>
<rect x="242.9" y="249" width="4.1" height="4.1" fill="#a6a6a6"/>
<rect x="246.9" y="249" width="4.1" height="4.1" fill="#afafaf"/>
<rect x="250.9" y="249" width="4.1" height="4.1" fill="#929292"/>
<rect x="254.9" y="249" width="4.1" height="4.1" fill="#9d9d9d"/>
<rect x="258.9" y="249" width="4.1" height="4.1" fill="#8b8b8b"/>
<rect x="262.9" y="249" width="4.1" height="4.1" fill="#808080"/>
<rect x="266.9" y="249" width="4.1" height="4.1" fill="#7f7f7f"/>
<rect x="270.9" y="249" width="4.1" height="4.1" fill="#7f7f7f"/>
<rect x="274.9" y="249" width="4.1" height="4.1" fill="#808080"/>
<rect x="278.9" y="249" width="4.1" height="4.1" fill="#808080"/>
<rect x="282.9" y="249" width="4.1" height="4.1" fill="#808080"/>
<rect x="286.9" y="249" width="4.1" height="4.1" fill="#828282"/>
<rect x="290.9" y="249" width="4.1" height="4.1" fill="#858585"/>
<rect x="294.9" y="249" width="4.1" height="4.1" fill="#898989"/>
<rect x="298.9" y="249" width="4.1" height="4.1" fill="#8f8f8f"/>
<rect x="302.9" y="249" width="4.1" height="4.1" fill="#969696"/>
<rect x="306.9" y="249" width="4.1" height="4.1" fill="#9c9c9c"/>
<rect x="310.9" y="249" width="4.1" height="4.1" fill="#9f9f9f"/>
<rect x="314.9" y="249" width="4.1" height="4.1" fill="#9e9e9e"/>
<rect x="318.9" y="249" width="4.1" height="4.1" fill="#9a9a9a"/>
<rect x="322.9" y="249" width="4.1" height="4.1" fill="#949494"/>
<rect x="326.9" y="249" width="4.1" height="4.1" fill="#8d8d8d"/>
<rect x="330.9" y="249" width="4.1" height="4.1" fill="#888888"/>
<rect x="334.9" y="249" width="4.1" height="4.1" fill="#848484"/>
<rect x="338.9" y="249" width="4.1" height="4.1" fill="#818181"/>
<rect x="342.9" y="249" width="4.1" height="4.1" fill="#808080"/>
<rect x="202.9" y="253" width="4.1" height="4.1" fill="#808080"/>
<rect x="206.9" y="253" width="4.1" height="4.1" fill="#808080"/>
<rect x="210.9" y="253" width="4.1" height="4.1" fill="#818181"/>
<rect x="214.9" y="253" width="4.1" height="4.1" fill="#939393"/>
<rect x="218.9" y="253" width="4.1" height="4.1" fill="#959595"/>
<rect x="222.9" y="253" width="4.1" height="4.1" fill="#818181"/>
<rect x="226.9" y="253" width="4.1" height="4.1" fill="#808080"/>
<rect x="230.9" y="253" width="4.1" height="4.1" fill="#808080"/>
<rect x="234.9" y="253" width="4.1" height="4.1" fill="#808080"/>
<rect x="238.9" y="253" width="4.1" height="4.1" fill="#8a8a8a"/>
<rect x="242.9" y="253" width="4.1" height="4.1" fill="#a9a9a9"/>
<rect x="246.9" y="253" width="4.1" height="4.1" fill="#adadad"/>
<rect x="250.9" y="253" width="4.1" height="4.1" fill="#8f8f8f"/>
<rect x="254.9" y="253" width="4.1" height="4.1" fill="#9d9d9d"/>
<rect x="258.9" y="253" width="4.1" height="4.1" fill="#8a8a8a"/>
<rect x="262.9" y="253" width="4.1" height="4.1" fill="#808080"/>
<rect x="266.9" y="253" width="4.1" height="4.1" fill="#7f7f7f"/>
<rect x="270.9" y="253" width="4.1" height="4.1" fill="#7f7f7f"/>
<rect x="274.9" y="253" width="4.1" height="4.1" fill="#7f7f7f"/>
<rect x="278.9" y="253" width="4.1" height="4.1" fill="#7f7f7f"/>
<rect x="282.9" y="253" width="4.1" height="4.1" fill="#7e7e7e"/>
<rect x="286.9" y="253" width="4.1" height="4.1" fill="#7d7d7d"/>
<rect x="290.9" y="253" width="4.1" height="4.1" fill="#7b7b7b"/>
<rect x="294.9" y="253" width="4.1" height="4.1" fill="#7a7a7a"/>
<rect x="298.9" y="253" width="4.1" height="4.1" fill="#797979"/>
<rect x="302.9" y="253" width="4.1" height="4.1" fill="#7a7a7a"/>
<rect x="306.9" y="253" width="4.1" height="4.1" fill="#7e7e7e"/>
<rect x="310.9" y="253" width="4.1" height="4.1" fill="#858585"/>
<rect x="314.9" y="253" width="4.1" height="4.1" fill="#8e8e8e"/>
<rect x="318.9" y="253" width="4.1" height="4.1" fill="#989898"/>
<rect x="322.9" y="253" width="4.1" height="4.1" fill="#9f9f9f"/>
<rect x="326.9" y="253" width="4.1" height="4.1" fill="#a2a2a2"/>
<rect x="330.9" y="253" width="4.1" height="4.1" fill="#9f9f9f"/>
<rect x="334.9" y="253" width="4.1" height="4.1" fill="#9a9a9a"/>
<rect x="338.9" y="253" width="4.1" height="4.1" fill="#8f8f8f"/>
<rect x="342.9" y="253" width="4.1" height="4.1" fill="#828282"/>
<rect x="202.9" y="257" width="4.1" height="4.1" fill="#808080"/>
<rect x="206.9" y="257" width="4.1" height="4.1" fill="#808080"/>
<rect x="210.9" y="257" width="4.1" height="4.1" fill="#808080"/>
<rect x="214.9" y="257" width="4.1" height="4.1" fill="#8f8f8f"/>
<rect x="218.9" y="257" width="4.1" height="4.1" fill="#999999"/>
<rect x="222.9" y="257" width="4.1" height="4.1" fill="#838383"/>
<rect x="226.9" y="257" width="4.1" height="4.1" fill="#808080"/>
<rect x="230.9" y="257" width="4.1" height="4.1" fill="#808080"/>
<rect x="234.9" y="257" width="4.1" height="4.1" fill="#818181"/>
<rect x="238.9" y="257" width="4.1" height="4.1" fill="#8d8d8d"/>
<rect x="242.9" y="257" width="4.1" height="4.1" fill="#acacac"/>
<rect x="246.9" y="257" width="4.1" height="4.1" fill="#aaaaaa"/>
<rect x="250.9" y="257" width="4.1" height="4.1" fill="#8c8c8c"/>
<rect x="254.9" y="257" width="4.1" height="4.1" fill="#9d9d9d"/>
<rect x="258.9" y="257" width="4.1" height="4.1" fill="#898989"/>
<rect x="262.9" y="257" width="4.1" height="4.1" fill="#808080"/>
<rect x="266.9" y="257" width="4.1" height="4.1" fill="#7f7f7f"/>
<rect x="270.9" y="257" width="4.1" height="4.1" fill="#7f7f7f"/>
<rect x="274.9" y="257" width="4.1" height="4.1" fill="#7f7f7f"/>
<rect x="278.9" y="257" width="4.1" height="4.1" fill="#7e7e7e"/>
<rect x="282.9" y="257" width="4.1" height="4.1" fill="#7d7d7d"/>
<rect x="286.9" y="257" width="4.1" height="4.1" fill="#7c7c7c"/>
<rect x="290.9" y="257" width="4.1" height="4.1" fill="#797979"/>
<rect x="294.9" y="257" width="4.1" height="4.1" fill="#777777"/>
<rect x="298.9" y="257" width="4.1" height="4.1" fill="#747474"/>
<rect x="302.9" y="257" width="4.1" height="4.1" fill="#727272"/>
<rect x="306.9" y="257" width="4.1" height="4.1" fill="#717171"/>
<rect x="310.9" y="257" width="4.1" height="4.1" fill="#737373"/>
<rect x="314.9" y="257" width="4.1" height="4.1" fill="#767676"/>
<rect x="318.9" y="257" width="4.1" height="4.1" fill="#7d7d7d"/>
<rect x="322.9" y="257" width="4.1" height="4.1" fill="#868686"/>
<rect x="326.9" y="257" width="4.1" height="4.1" fill="#909090"/>
<rect x="330.9" y="257" width="4.1" height="4.1" fill="#9a9a9a"/>
<rect x="334.9" y="257" width="4.1" height="4.1" fill="#a1a1a1"/>
<rect x="338.9" y="257" width="4.1" height="4.1" fill="#979797"/>
<rect x="342.9" y="257" width="4.1" height="4.1" fill="#838383"/>
<rect x="202.9" y="261" width="4.1" height="4.1" fill="#808080"/>
<rect x="206.9" y="261" width="4.1" height="4.1" fill="#808080"/>
<rect x="210.9" y="261" width="4.1" height="4.1" fill="#808080"/>
<rect x="214.9" y="261" width="4.1" height="4.1" fill="#8a8a8a"/>
<rect x="218.9" y="261" width="4.1" height="4.1" fill="#9b9b9b"/>
<rect x="222.9" y="261" width="4.1" height="4.1" fill="#858585"/>
<rect x="226.9" y="261" width="4.1" height="4.1" fill="#808080"/>
<rect x="230.9" y="261" width="4.1" height="4.1" fill="#808080"/>
<rect x="234.9" y="261" width="4.1" height="4.1" fill="#818181"/>
<rect x="238.9" y="261" width="4.1" height="4.1" fill="#909090"/>
<rect x="242.9" y="261" width="4.1" height="4.1" fill="#afafaf"/>
<rect x="246.9" y="261" width="4.1" height="4.1" fill="#a6a6a6"/>
<rect x="250.9" y="261" width="4.1" height="4.1" fill="#8a8a8a"/>
<rect x="254.9" y="261" width="4.1" height="4.1" fill="#9e9e9e"/>
<rect x="258.9" y="261" width="4.1" height="4.1" fill="#898989"/>
<rect x="262.9" y="261" width="4.1" height="4.1" fill="#808080"/>
<rect x="266.9" y="261" width="4.1" height="4.1" fill="#7f7f7f"/>
<rect x="270.9" y="261" width="4.1" height="4.1" fill="#7f7f7f"/>
<rect x="274.9" y="261" width="4.1" height="4.1" fill="#7f7f7f"/>
<rect x="278.9" y="261" width="4.1" height="4.1" fill="#7e7e7e"/>
<rect x="282.9" y="261" width="4.1" height="4.1" fill="#7d7d7d"/>
<rect x="286.9" y="261" width="4.1" height="4.1" fill="#7c7c7c"/>
<rect x="290.9" y="261" width="4.1" height="4.1" fill="#7a7a7a"/>
<rect x="294.9" y="261" width="4.1" height="4.1" fill="#777777"/>
<rect x="298.9" y="261" width="4.1" height="4.1" fill="#757575"/>
<rect x="302.9" y="261" width="4.1" height="4.1" fill="#737373"/>
<rect x="306.9" y="261" width="4.1" height="4.1" fill="#727272"/>
<rect x="310.9" y="261" width="4.1" height="4.1" fill="#727272"/>
<rect x="314.9" y="261" width="4.1" height="4.1" fill="#747474"/>
<rect x="318.9" y="261" width="4.1" height="4.1" fill="#767676"/>
<rect x="322.9" y="261" width="4.1" height="4.1" fill="#7a7a7a"/>
<rect x="326.9" y="261" width="4.1" height="4.1" fill="#7e7e7e"/>
<rect x="330.9" y="261" width="4.1" height="4.1" fill="#828282"/>
<rect x="334.9" y="261" width="4.1" height="4.1" fill="#888888"/>
<rect x="338.9" y="261" width="4.1" height="4.1" fill="#868686"/>
<rect x="342.9" y="261" width="4.1" height="4.1" fill="#808080"/>
<rect x="202.9" y="265" width="4.1" height="4.1" fill="#808080"/>
<rect x="206.9" y="265" width="4.1" height="4.1" fill="#808080"/>
<rect x="210.9" y="265" width="4.1" height="4.1" fill="#808080"/>
<rect x="214.9" y="265" width="4.1" height="4.1" fill="#868686"/>
<rect x="218.9" y="265" width="4.1" height="4.1" fill="#9b9b9b"/>
<rect x="222.9" y="265" width="4.1" height="4.1" fill="#898989"/>
<rect x="226.9" y="265" width="4.1" height="4.1" fill="#808080"/>
<rect x="230.9" y="265" width="4.1" height="4.1" fill="#808080"/>
<rect x="234.9" y="265" width="4.1" height="4.1" fill="#828282"/>
<rect x="238.9" y="265" width="4.1" height="4.1" fill="#939393"/>
<rect x="242.9" y="265" width="4.1" height="4.1" fill="#b1b1b1"/>
<rect x="246.9" y="265" width="4.1" height="4.1" fill="#a2a2a2"/>
<rect x="250.9" y="265" width="4.1" height="4.1" fill="#888888"/>
<rect x="254.9" y="265" width="4.1" height="4.1" fill="#9e9e9e"/>
<rect x="258.9" y="265" width="4.1" height="4.1" fill="#888888"/>
<rect x="262.9" y="265" width="4.1" height="4.1" fill="#808080"/>
<rect x="266.9" y="265" width="4.1" height="4.1" fill="#7f7f7f"/>
<rect x="270.9" y="265" width="4.1" height="4.1" fill="#7f7f7f"/>
<rect x="274.9" y="265" width="4.1" height="4.1" fill="#7f7f7f"/>
<rect x="278.9" y="265" width="4.1" height="4.1" fill="#7f7f7f"/>
<rect x="282.9" y="265" width="4.1" height="4.1" fill="#7e7e7e"/>
<rect x="286.9" y="265" width="4.1" height="4.1" fill="#7d7d7d"/>
<rect x="290.9" y="265" width="4.1" height="4.1" fill="#7c7c7c"/>
<rect x="294.9" y="265" width="4.1" height="4.1" fill="#7a7a7a"/>
<rect x="298.9" y="265" width="4.1" height="4.1" fill="#787878"/>
<rect x="302.9" y="265" width="4.1" height="4.1" fill="#777777"/>
<rect x="306.9" y="265" width="4.1" height="4.1" fill="#767676"/>
<rect x="310.9" y="265" width="4.1" height="4.1" fill="#767676"/>
<rect x="314.9" y="265" width="4.1" height="4.1" fill="#777777"/>
<rect x="318.9" y="265" width="4.1" height="4.1" fill="#797979"/>
<rect x="322.9" y="265" width="4.1" height="4.1" fill="#7b7b7b"/>
<rect x="326.9" y="265" width="4.1" height="4.1" fill="#7c7c7c"/>
<rect x="330.9" y="265" width="4.1" height="4.1" fill="#7e7e7e"/>
<rect x="334.9" y="265" width="4.1" height="4.1" fill="#7f7f7f"/>
<rect x="338.9" y="265" width="4.1" height="4.1" fill="#7f7f7f"/>
<rect x="342.9" y="265" width="4.1" height="4.1" fill="#7f7f7f"/>
<rect x="202.9" y="269" width="4.1" height="4.1" fill="#808080"/>
<rect x="206.9" y="269" width="4.1" height="4.1" fill="#808080"/>
<rect x="210.9" y="269" width="4.1" height="4.1" fill="#808080"/>
<rect x="214.9" y="269" width="4.1" height="4.1" fill="#848484"/>
<rect x="218.9" y="269" width="4.1" height="4.1" fill="#9a9a9a"/>
<rect x="222.9" y="269" width="4.1" height="4.1" fill="#8d8d8d"/>
<rect x="226.9" y="269" width="4.1" height="4.1" fill="#808080"/>
<rect x="230.9" y="269" width="4.1" height="4.1" fill="#808080"/>
<rect x="234.9" y="269" width="4.1" height="4.1" fill="#838383"/>
<rect x="238.9" y="269" width="4.1" height="4.1" fill="#979797"/>
<rect x="242.9" y="269" width="4.1" height="4.1" fill="#b2b2b2"/>
<rect x="246.9" y="269" width="4.1" height="4.1" fill="#9e9e9e"/>
<rect x="250.9" y="269" width="4.1" height="4.1" fill="#878787"/>
<rect x="254.9" y="269" width="4.1" height="4.1" fill="#9e9e9e"/>
<rect x="258.9" y="269" width="4.1" height="4.1" fill="#878787"/>
<rect x="262.9" y="269" width="4.1" height="4.1" fill="#808080"/>
<rect x="266.9" y="269" width="4.1" height="4.1" fill="#7f7f7f"/>
<rect x="270.9" y="269" width="4.1" height="4.1" fill="#7f7f7f"/>
<rect x="274.9" y="269" width="4.1" height="4.1" fill="#7f7f7f"/>
<rect x="278.9" y="269" width="4.1" height="4.1" fill="#7f7f7f"/>
<rect x="282.9" y="269" width="4.1" height="4.1" fill="#7f7f7f"/>
<rect x="286.9" y="269" width="4.1" height="4.1" fill="#7e7e7e"/>
<rect x="290.9" y="269" width="4.1" height="4.1" fill="#7e7e7e"/>
<rect x="294.9" y="269" width="4.1" height="4.1" fill="#7d7d7d"/>
<rect x="298.9" y="269" width="4.1" height="4.1" fill="#7c7c7c"/>
<rect x="302.9" y="269" width="4.1" height="4.1" fill="#7b7b7b"/>
<rect x="306.9" y="269" width="4.1" height="4.1" fill="#7b7b7b"/>
<rect x="310.9" y="269" width="4.1" height="4.1" fill="#7b7b7b"/>
<rect x="314.9" y="269" width="4.1" height="4.1" fill="#7c7c7c"/>
<rect x="318.9" y="269" width="4.1" height="4.1" fill="#7c7c7c"/>
<rect x="322.9" y="269" width="4.1" height="4.1" fill="#7d7d7d"/>
<rect x="326.9" y="269" width="4.1" height="4.1" fill="#7e7e7e"/>
<rect x="330.9" y="269" width="4.1" height="4.1" fill="#7f7f7f"/>
<rect x="334.9" y="269" width="4.1" height="4.1" fill="#7f7f7f"/>
<rect x="338.9" y="269" width="4.1" height="4.1" fill="#7f7f7f"/>
<rect x="342.9" y="269" width="4.1" height="4.1" fill="#7f7f7f"/>
<rect x="202.9" y="273" width="4.1" height="4.1" fill="#808080"/>
<rect x="206.9" y="273" width="4.1" height="4.1" fill="#808080"/>
<rect x="210.9" y="273" width="4.1" height="4.1" fill="#808080"/>
<rect x="214.9" y="273" width="4.1" height="4.1" fill="#818181"/>
<rect x="218.9" y="273" width="4.1" height="4.1" fill="#8c8c8c"/>
<rect x="222.9" y="273" width="4.1" height="4.1" fill="#868686"/>
<rect x="226.9" y="273" width="4.1" height="4.1" fill="#808080"/>
<rect x="230.9" y="273" width="4.1" height="4.1" fill="#808080"/>
<rect x="234.9" y="273" width="4.1" height="4.1" fill="#838383"/>
<rect x="238.9" y="273" width="4.1" height="4.1" fill="#999999"/>
<rect x="242.9" y="273" width="4.1" height="4.1" fill="#b0b0b0"/>
<rect x="246.9" y="273" width="4.1" height="4.1" fill="#9a9a9a"/>
<rect x="250.9" y="273" width="4.1" height="4.1" fill="#868686"/>
<rect x="254.9" y="273" width="4.1" height="4.1" fill="#9b9b9b"/>
<rect x="258.9" y="273" width="4.1" height="4.1" fill="#868686"/>
<rect x="262.9" y="273" width="4.1" height="4.1" fill="#808080"/>
<rect x="266.9" y="273" width="4.1" height="4.1" fill="#7f7f7f"/>
<rect x="270.9" y="273" width="4.1" height="4.1" fill="#7f7f7f"/>
<rect x="274.9" y="273" width="4.1" height="4.1" fill="#7f7f7f"/>
<rect x="278.9" y="273" width="4.1" height="4.1" fill="#7f7f7f"/>
<rect x="282.9" y="273" width="4.1" height="4.1" fill="#7f7f7f"/>
<rect x="286.9" y="273" width="4.1" height="4.1" fill="#7f7f7f"/>
<rect x="290.9" y="273" width="4.1" height="4.1" fill="#7f7f7f"/>
<rect x="294.9" y="273" width="4.1" height="4.1" fill="#7f7f7f"/>
<rect x="298.9" y="273" width="4.1" height="4.1" fill="#7e7e7e"/>
<rect x="302.9" y="273" width="4.1" height="4.1" fill="#7e7e7e"/>
<rect x="306.9" y="273" width="4.1" height="4.1" fill="#7e7e7e"/>
<rect x="310.9" y="273" width="4.1" height="4.1" fill="#7e7e7e"/>
<rect x="314.9" y="273" width="4.1" height="4.1" fill="#7e7e7e"/>
<rect x="318.9" y="273" width="4.1" height="4.1" fill="#7e7e7e"/>
<rect x="322.9" y="273" width="4.1" height="4.1" fill="#7f7f7f"/>
<rect x="326.9" y="273" width="4.1" height="4.1" fill="#7f7f7f"/>
<rect x="330.9" y="273" width="4.1" height="4.1" fill="#7f7f7f"/>
<rect x="334.9" y="273" width="4.1" height="4.1" fill="#7f7f7f"/>
<rect x="338.9" y="273" width="4.1" height="4.1" fill="#7f7f7f"/>
<rect x="342.9" y="273" width="4.1" height="4.1" fill="#7f7f7f"/>
<rect x="202.9" y="277" width="4.1" height="4.1" fill="#808080"/>
<rect x="206.9" y="277" width="4.1" height="4.1" fill="#808080"/>
<rect x="210.9" y="277" width="4.1" height="4.1" fill="#808080"/>
<rect x="214.9" y="277" width="4.1" height="4.1" fill="#808080"/>
<rect x="218.9" y="277" width="4.1" height="4.1" fill="#808080"/>
<rect x="222.9" y="277" width="4.1" height="4.1" fill="#808080"/>
<rect x="226.9" y="277" width="4.1" height="4.1" fill="#808080"/>
<rect x="230.9" y="277" width="4.1" height="4.1" fill="#808080"/>
<rect x="234.9" y="277" width="4.1" height="4.1" fill="#818181"/>
<rect x="238.9" y="277" width="4.1" height="4.1" fill="#898989"/>
<rect x="242.9" y="277" width="4.1" height="4.1" fill="#929292"/>
<rect x="246.9" y="277" width="4.1" height="4.1" fill="#8a8a8a"/>
<rect x="250.9" y="277" width="4.1" height="4.1" fill="#818181"/>
<rect x="254.9" y="277" width="4.1" height="4.1" fill="#828282"/>
<rect x="258.9" y="277" width="4.1" height="4.1" fill="#808080"/>
<rect x="262.9" y="277" width="4.1" height="4.1" fill="#808080"/>
<rect x="266.9" y="277" width="4.1" height="4.1" fill="#7f7f7f"/>
<rect x="270.9" y="277" width="4.1" height="4.1" fill="#7f7f7f"/>
<rect x="274.9" y="277" width="4.1" height="4.1" fill="#7f7f7f"/>
<rect x="278.9" y="277" width="4.1" height="4.1" fill="#7f7f7f"/>
<rect x="282.9" y="277" width="4.1" height="4.1" fill="#7f7f7f"/>
<rect x="286.9" y="277" width="4.1" height="4.1" fill="#7f7f7f"/>
<rect x="290.9" y="277" width="4.1" height="4.1" fill="#7f7f7f"/>
<rect x="294.9" y="277" width="4.1" height="4.1" fill="#7f7f7f"/>
<rect x="298.9" y="277" width="4.1" height="4.1" fill="#7f7f7f"/>
<rect x="302.9" y="277" width="4.1" height="4.1" fill="#7f7f7f"/>
<rect x="306.9" y="277" width="4.1" height="4.1" fill="#7f7f7f"/>
<rect x="310.9" y="277" width="4.1" height="4.1" fill="#7f7f7f"/>
<rect x="314.9" y="277" width="4.1" height="4.1" fill="#7f7f7f"/>
<rect x="318.9" y="277" width="4.1" height="4.1" fill="#7f7f7f"/>
<rect x="322.9" y="277" width="4.1" height="4.1" fill="#7f7f7f"/>
<rect x="326.9" y="277" width="4.1" height="4.1" fill="#7f7f7f"/>
<rect x="330.9" y="277" width="4.1" height="4.1" fill="#7f7f7f"/>
<rect x="334.9" y="277" width="4.1" height="4.1" fill="#7f7f7f"/>
<rect x="338.9" y="277" width="4.1" height="4.1" fill="#7f7f7f"/>
<rect x="342.9" y="277" width="4.1" height="4.1" fill="#7f7f7f"/>
<rect x="208" y="232.8" width="132" height="2" fill="#333" opacity="0.6"/>
</g></g>
<clipPath id="cf"><rect x="378.9" y="147.2" width="126.9" height="125.0"/></clipPath>
<filter id="ff" x="376.9" y="145.2" width="130.9" height="129.0" filterUnits="userSpaceOnUse" color-interpolation-filters="sRGB"><feGaussianBlur in="SourceGraphic" stdDeviation="2.5 1.5" result="b"/><feTurbulence type="fractalNoise" baseFrequency="0.7" numOctaves="2" seed="11" result="n"/><feColorMatrix in="n" type="matrix" values="1 0 0 0 0 1 0 0 0 0 1 0 0 0 0 0 0 0 0 1" result="n1"/><feComposite in="b" in2="n1" operator="arithmetic" k1="0" k2="1" k3="0.250" k4="-0.125" result="m"/><feTurbulence type="fractalNoise" baseFrequency="0.015 0.45" numOctaves="2" seed="12" result="s"/><feColorMatrix in="s" type="matrix" values="1 0 0 0 0 1 0 0 0 0 1 0 0 0 0 0 0 0 0 1" result="s1"/><feComposite in="m" in2="s1" operator="arithmetic" k1="0" k2="1" k3="0.150" k4="-0.075" result="m2"/><feComponentTransfer in="m2"><feFuncR type="table" tableValues="0.000 0.020 0.039 0.098 0.157 0.243 0.329 0.412 0.494 0.573 0.651 0.714 0.773 0.816 0.855 0.894 0.933 0.957 0.984 0.992 1.000"/><feFuncG type="table" tableValues="0.000 0.000 0.000 0.012 0.024 0.047 0.071 0.114 0.157 0.251 0.345 0.435 0.525 0.600 0.675 0.757 0.839 0.890 0.941 0.965 0.988"/><feFuncB type="table" tableValues="0.000 0.000 0.000 0.004 0.008 0.016 0.024 0.039 0.055 0.086 0.118 0.165 0.212 0.298 0.384 0.518 0.651 0.753 0.855 0.906 0.957"/><feFuncA type="linear" slope="0" intercept="1"/></feComponentTransfer></filter>
<g clip-path="url(#cf)"><g filter="url(#ff)">
<rect x="370.9" y="141.2" width="6.1" height="4.1" fill="#7d7d7d"/>
<rect x="376.9" y="141.2" width="6.1" height="4.1" fill="#7d7d7d"/>
<rect x="382.9" y="141.2" width="6.1" height="4.1" fill="#7d7d7d"/>
<rect x="388.9" y="141.2" width="6.1" height="4.1" fill="#7d7d7d"/>
<rect x="394.9" y="141.2" width="6.1" height="4.1" fill="#7d7d7d"/>
<rect x="400.9" y="141.2" width="6.1" height="4.1" fill="#7d7d7d"/>
<rect x="406.9" y="141.2" width="6.1" height="4.1" fill="#7d7d7d"/>
<rect x="412.9" y="141.2" width="6.1" height="4.1" fill="#7d7d7d"/>
<rect x="418.9" y="141.2" width="6.1" height="4.1" fill="#7d7d7d"/>
<rect x="424.9" y="141.2" width="6.1" height="4.1" fill="#7d7d7d"/>
<rect x="430.9" y="141.2" width="6.1" height="4.1" fill="#7d7d7d"/>
<rect x="436.9" y="141.2" width="6.1" height="4.1" fill="#7d7d7d"/>
<rect x="442.9" y="141.2" width="6.1" height="4.1" fill="#7d7d7d"/>
<rect x="448.9" y="141.2" width="6.1" height="4.1" fill="#7d7d7d"/>
<rect x="454.9" y="141.2" width="6.1" height="4.1" fill="#7d7d7d"/>
<rect x="460.9" y="141.2" width="6.1" height="4.1" fill="#7d7d7d"/>
<rect x="466.9" y="141.2" width="6.1" height="4.1" fill="#7e7e7e"/>
<rect x="472.9" y="141.2" width="6.1" height="4.1" fill="#828282"/>
<rect x="478.9" y="141.2" width="6.1" height="4.1" fill="#7f7f7f"/>
<rect x="484.9" y="141.2" width="6.1" height="4.1" fill="#7d7d7d"/>
<rect x="490.9" y="141.2" width="6.1" height="4.1" fill="#7d7d7d"/>
<rect x="496.9" y="141.2" width="6.1" height="4.1" fill="#7d7d7d"/>
<rect x="502.9" y="141.2" width="6.1" height="4.1" fill="#696969"/>
<rect x="508.9" y="141.2" width="6.1" height="4.1" fill="#696969"/>
<rect x="370.9" y="145.2" width="6.1" height="4.1" fill="#7d7d7d"/>
<rect x="376.9" y="145.2" width="6.1" height="4.1" fill="#7d7d7d"/>
<rect x="382.9" y="145.2" width="6.1" height="4.1" fill="#7d7d7d"/>
<rect x="388.9" y="145.2" width="6.1" height="4.1" fill="#7d7d7d"/>
<rect x="394.9" y="145.2" width="6.1" height="4.1" fill="#7d7d7d"/>
<rect x="400.9" y="145.2" width="6.1" height="4.1" fill="#7d7d7d"/>
<rect x="406.9" y="145.2" width="6.1" height="4.1" fill="#7d7d7d"/>
<rect x="412.9" y="145.2" width="6.1" height="4.1" fill="#7d7d7d"/>
<rect x="418.9" y="145.2" width="6.1" height="4.1" fill="#7d7d7d"/>
<rect x="424.9" y="145.2" width="6.1" height="4.1" fill="#7d7d7d"/>
<rect x="430.9" y="145.2" width="6.1" height="4.1" fill="#7d7d7d"/>
<rect x="436.9" y="145.2" width="6.1" height="4.1" fill="#7d7d7d"/>
<rect x="442.9" y="145.2" width="6.1" height="4.1" fill="#7d7d7d"/>
<rect x="448.9" y="145.2" width="6.1" height="4.1" fill="#7d7d7d"/>
<rect x="454.9" y="145.2" width="6.1" height="4.1" fill="#7d7d7d"/>
<rect x="460.9" y="145.2" width="6.1" height="4.1" fill="#818181"/>
<rect x="466.9" y="145.2" width="6.1" height="4.1" fill="#9d9d9d"/>
<rect x="472.9" y="145.2" width="6.1" height="4.1" fill="#a3a3a3"/>
<rect x="478.9" y="145.2" width="6.1" height="4.1" fill="#9e9e9e"/>
<rect x="484.9" y="145.2" width="6.1" height="4.1" fill="#828282"/>
<rect x="490.9" y="145.2" width="6.1" height="4.1" fill="#7d7d7d"/>
<rect x="496.9" y="145.2" width="6.1" height="4.1" fill="#7d7d7d"/>
<rect x="502.9" y="145.2" width="6.1" height="4.1" fill="#696969"/>
<rect x="508.9" y="145.2" width="6.1" height="4.1" fill="#696969"/>
<rect x="370.9" y="149.2" width="6.1" height="4.1" fill="#7d7d7d"/>
<rect x="376.9" y="149.2" width="6.1" height="4.1" fill="#7d7d7d"/>
<rect x="382.9" y="149.2" width="6.1" height="4.1" fill="#7d7d7d"/>
<rect x="388.9" y="149.2" width="6.1" height="4.1" fill="#7d7d7d"/>
<rect x="394.9" y="149.2" width="6.1" height="4.1" fill="#7d7d7d"/>
<rect x="400.9" y="149.2" width="6.1" height="4.1" fill="#7d7d7d"/>
<rect x="406.9" y="149.2" width="6.1" height="4.1" fill="#7d7d7d"/>
<rect x="412.9" y="149.2" width="6.1" height="4.1" fill="#7d7d7d"/>
<rect x="418.9" y="149.2" width="6.1" height="4.1" fill="#7d7d7d"/>
<rect x="424.9" y="149.2" width="6.1" height="4.1" fill="#7d7d7d"/>
<rect x="430.9" y="149.2" width="6.1" height="4.1" fill="#7d7d7d"/>
<rect x="436.9" y="149.2" width="6.1" height="4.1" fill="#7d7d7d"/>
<rect x="442.9" y="149.2" width="6.1" height="4.1" fill="#7d7d7d"/>
<rect x="448.9" y="149.2" width="6.1" height="4.1" fill="#7d7d7d"/>
<rect x="454.9" y="149.2" width="6.1" height="4.1" fill="#7d7d7d"/>
<rect x="460.9" y="149.2" width="6.1" height="4.1" fill="#7d7d7d"/>
<rect x="466.9" y="149.2" width="6.1" height="4.1" fill="#8b8b8b"/>
<rect x="472.9" y="149.2" width="6.1" height="4.1" fill="#969696"/>
<rect x="478.9" y="149.2" width="6.1" height="4.1" fill="#8c8c8c"/>
<rect x="484.9" y="149.2" width="6.1" height="4.1" fill="#808080"/>
<rect x="490.9" y="149.2" width="6.1" height="4.1" fill="#7f7f7f"/>
<rect x="496.9" y="149.2" width="6.1" height="4.1" fill="#7d7d7d"/>
<rect x="502.9" y="149.2" width="6.1" height="4.1" fill="#696969"/>
<rect x="508.9" y="149.2" width="6.1" height="4.1" fill="#696969"/>
<rect x="370.9" y="153.2" width="6.1" height="4.1" fill="#7d7d7d"/>
<rect x="376.9" y="153.2" width="6.1" height="4.1" fill="#7d7d7d"/>
<rect x="382.9" y="153.2" width="6.1" height="4.1" fill="#7d7d7d"/>
<rect x="388.9" y="153.2" width="6.1" height="4.1" fill="#7d7d7d"/>
<rect x="394.9" y="153.2" width="6.1" height="4.1" fill="#7d7d7d"/>
<rect x="400.9" y="153.2" width="6.1" height="4.1" fill="#7d7d7d"/>
<rect x="406.9" y="153.2" width="6.1" height="4.1" fill="#7d7d7d"/>
<rect x="412.9" y="153.2" width="6.1" height="4.1" fill="#7d7d7d"/>
<rect x="418.9" y="153.2" width="6.1" height="4.1" fill="#7d7d7d"/>
<rect x="424.9" y="153.2" width="6.1" height="4.1" fill="#7d7d7d"/>
<rect x="430.9" y="153.2" width="6.1" height="4.1" fill="#7d7d7d"/>
<rect x="436.9" y="153.2" width="6.1" height="4.1" fill="#7d7d7d"/>
<rect x="442.9" y="153.2" width="6.1" height="4.1" fill="#7d7d7d"/>
<rect x="448.9" y="153.2" width="6.1" height="4.1" fill="#7d7d7d"/>
<rect x="454.9" y="153.2" width="6.1" height="4.1" fill="#7d7d7d"/>
<rect x="460.9" y="153.2" width="6.1" height="4.1" fill="#7d7d7d"/>
<rect x="466.9" y="153.2" width="6.1" height="4.1" fill="#7d7d7d"/>
<rect x="472.9" y="153.2" width="6.1" height="4.1" fill="#7e7e7e"/>
<rect x="478.9" y="153.2" width="6.1" height="4.1" fill="#848484"/>
<rect x="484.9" y="153.2" width="6.1" height="4.1" fill="#898989"/>
<rect x="490.9" y="153.2" width="6.1" height="4.1" fill="#888888"/>
<rect x="496.9" y="153.2" width="6.1" height="4.1" fill="#828282"/>
<rect x="502.9" y="153.2" width="6.1" height="4.1" fill="#696969"/>
<rect x="508.9" y="153.2" width="6.1" height="4.1" fill="#696969"/>
<rect x="370.9" y="157.2" width="6.1" height="4.1" fill="#7d7d7d"/>
<rect x="376.9" y="157.2" width="6.1" height="4.1" fill="#7d7d7d"/>
<rect x="382.9" y="157.2" width="6.1" height="4.1" fill="#7d7d7d"/>
<rect x="388.9" y="157.2" width="6.1" height="4.1" fill="#7d7d7d"/>
<rect x="394.9" y="157.2" width="6.1" height="4.1" fill="#7d7d7d"/>
<rect x="400.9" y="157.2" width="6.1" height="4.1" fill="#7d7d7d"/>
<rect x="406.9" y="157.2" width="6.1" height="4.1" fill="#7d7d7d"/>
<rect x="412.9" y="157.2" width="6.1" height="4.1" fill="#7d7d7d"/>
<rect x="418.9" y="157.2" width="6.1" height="4.1" fill="#7d7d7d"/>
<rect x="424.9" y="157.2" width="6.1" height="4.1" fill="#7d7d7d"/>
<rect x="430.9" y="157.2" width="6.1" height="4.1" fill="#7d7d7d"/>
<rect x="436.9" y="157.2" width="6.1" height="4.1" fill="#7d7d7d"/>
<rect x="442.9" y="157.2" width="6.1" height="4.1" fill="#7d7d7d"/>
<rect x="448.9" y="157.2" width="6.1" height="4.1" fill="#7d7d7d"/>
<rect x="454.9" y="157.2" width="6.1" height="4.1" fill="#7d7d7d"/>
<rect x="460.9" y="157.2" width="6.1" height="4.1" fill="#7d7d7d"/>
<rect x="466.9" y="157.2" width="6.1" height="4.1" fill="#7d7d7d"/>
<rect x="472.9" y="157.2" width="6.1" height="4.1" fill="#828282"/>
<rect x="478.9" y="157.2" width="6.1" height="4.1" fill="#8b8b8b"/>
<rect x="484.9" y="157.2" width="6.1" height="4.1" fill="#8f8f8f"/>
<rect x="490.9" y="157.2" width="6.1" height="4.1" fill="#8e8e8e"/>
<rect x="496.9" y="157.2" width="6.1" height="4.1" fill="#898989"/>
<rect x="502.9" y="157.2" width="6.1" height="4.1" fill="#6b6b6b"/>
<rect x="508.9" y="157.2" width="6.1" height="4.1" fill="#696969"/>
<rect x="370.9" y="161.2" width="6.1" height="4.1" fill="#7d7d7d"/>
<rect x="376.9" y="161.2" width="6.1" height="4.1" fill="#7d7d7d"/>
<rect x="382.9" y="161.2" width="6.1" height="4.1" fill="#7d7d7d"/>
<rect x="388.9" y="161.2" width="6.1" height="4.1" fill="#7d7d7d"/>
<rect x="394.9" y="161.2" width="6.1" height="4.1" fill="#7d7d7d"/>
<rect x="400.9" y="161.2" width="6.1" height="4.1" fill="#7d7d7d"/>
<rect x="406.9" y="161.2" width="6.1" height="4.1" fill="#7d7d7d"/>
<rect x="412.9" y="161.2" width="6.1" height="4.1" fill="#7d7d7d"/>
<rect x="418.9" y="161.2" width="6.1" height="4.1" fill="#7d7d7d"/>
<rect x="424.9" y="161.2" width="6.1" height="4.1" fill="#7d7d7d"/>
<rect x="430.9" y="161.2" width="6.1" height="4.1" fill="#7d7d7d"/>
<rect x="436.9" y="161.2" width="6.1" height="4.1" fill="#7d7d7d"/>
<rect x="442.9" y="161.2" width="6.1" height="4.1" fill="#7d7d7d"/>
<rect x="448.9" y="161.2" width="6.1" height="4.1" fill="#7d7d7d"/>
<rect x="454.9" y="161.2" width="6.1" height="4.1" fill="#7d7d7d"/>
<rect x="460.9" y="161.2" width="6.1" height="4.1" fill="#7d7d7d"/>
<rect x="466.9" y="161.2" width="6.1" height="4.1" fill="#7d7d7d"/>
<rect x="472.9" y="161.2" width="6.1" height="4.1" fill="#848484"/>
<rect x="478.9" y="161.2" width="6.1" height="4.1" fill="#8e8e8e"/>
<rect x="484.9" y="161.2" width="6.1" height="4.1" fill="#919191"/>
<rect x="490.9" y="161.2" width="6.1" height="4.1" fill="#919191"/>
<rect x="496.9" y="161.2" width="6.1" height="4.1" fill="#8c8c8c"/>
<rect x="502.9" y="161.2" width="6.1" height="4.1" fill="#6c6c6c"/>
<rect x="508.9" y="161.2" width="6.1" height="4.1" fill="#696969"/>
<rect x="370.9" y="165.2" width="6.1" height="4.1" fill="#7d7d7d"/>
<rect x="376.9" y="165.2" width="6.1" height="4.1" fill="#7d7d7d"/>
<rect x="382.9" y="165.2" width="6.1" height="4.1" fill="#7d7d7d"/>
<rect x="388.9" y="165.2" width="6.1" height="4.1" fill="#7d7d7d"/>
<rect x="394.9" y="165.2" width="6.1" height="4.1" fill="#7d7d7d"/>
<rect x="400.9" y="165.2" width="6.1" height="4.1" fill="#7d7d7d"/>
<rect x="406.9" y="165.2" width="6.1" height="4.1" fill="#7d7d7d"/>
<rect x="412.9" y="165.2" width="6.1" height="4.1" fill="#7d7d7d"/>
<rect x="418.9" y="165.2" width="6.1" height="4.1" fill="#7d7d7d"/>
<rect x="424.9" y="165.2" width="6.1" height="4.1" fill="#7d7d7d"/>
<rect x="430.9" y="165.2" width="6.1" height="4.1" fill="#7d7d7d"/>
<rect x="436.9" y="165.2" width="6.1" height="4.1" fill="#7d7d7d"/>
<rect x="442.9" y="165.2" width="6.1" height="4.1" fill="#7d7d7d"/>
<rect x="448.9" y="165.2" width="6.1" height="4.1" fill="#7d7d7d"/>
<rect x="454.9" y="165.2" width="6.1" height="4.1" fill="#7d7d7d"/>
<rect x="460.9" y="165.2" width="6.1" height="4.1" fill="#7d7d7d"/>
<rect x="466.9" y="165.2" width="6.1" height="4.1" fill="#7d7d7d"/>
<rect x="472.9" y="165.2" width="6.1" height="4.1" fill="#848484"/>
<rect x="478.9" y="165.2" width="6.1" height="4.1" fill="#929292"/>
<rect x="484.9" y="165.2" width="6.1" height="4.1" fill="#999999"/>
<rect x="490.9" y="165.2" width="6.1" height="4.1" fill="#979797"/>
<rect x="496.9" y="165.2" width="6.1" height="4.1" fill="#8d8d8d"/>
<rect x="502.9" y="165.2" width="6.1" height="4.1" fill="#6c6c6c"/>
<rect x="508.9" y="165.2" width="6.1" height="4.1" fill="#696969"/>
<rect x="370.9" y="169.2" width="6.1" height="4.1" fill="#7d7d7d"/>
<rect x="376.9" y="169.2" width="6.1" height="4.1" fill="#7d7d7d"/>
<rect x="382.9" y="169.2" width="6.1" height="4.1" fill="#7d7d7d"/>
<rect x="388.9" y="169.2" width="6.1" height="4.1" fill="#7d7d7d"/>
<rect x="394.9" y="169.2" width="6.1" height="4.1" fill="#7d7d7d"/>
<rect x="400.9" y="169.2" width="6.1" height="4.1" fill="#7d7d7d"/>
<rect x="406.9" y="169.2" width="6.1" height="4.1" fill="#7c7c7c"/>
<rect x="412.9" y="169.2" width="6.1" height="4.1" fill="#7c7c7c"/>
<rect x="418.9" y="169.2" width="6.1" height="4.1" fill="#7c7c7c"/>
<rect x="424.9" y="169.2" width="6.1" height="4.1" fill="#7c7c7c"/>
<rect x="430.9" y="169.2" width="6.1" height="4.1" fill="#7c7c7c"/>
<rect x="436.9" y="169.2" width="6.1" height="4.1" fill="#7c7c7c"/>
<rect x="442.9" y="169.2" width="6.1" height="4.1" fill="#7d7d7d"/>
<rect x="448.9" y="169.2" width="6.1" height="4.1" fill="#7d7d7d"/>
<rect x="454.9" y="169.2" width="6.1" height="4.1" fill="#7d7d7d"/>
<rect x="460.9" y="169.2" width="6.1" height="4.1" fill="#7d7d7d"/>
<rect x="466.9" y="169.2" width="6.1" height="4.1" fill="#7f7f7f"/>
<rect x="472.9" y="169.2" width="6.1" height="4.1" fill="#878787"/>
<rect x="478.9" y="169.2" width="6.1" height="4.1" fill="#979797"/>
<rect x="484.9" y="169.2" width="6.1" height="4.1" fill="#a3a3a3"/>
<rect x="490.9" y="169.2" width="6.1" height="4.1" fill="#a1a1a1"/>
<rect x="496.9" y="169.2" width="6.1" height="4.1" fill="#909090"/>
<rect x="502.9" y="169.2" width="6.1" height="4.1" fill="#6d6d6d"/>
<rect x="508.9" y="169.2" width="6.1" height="4.1" fill="#696969"/>
<rect x="370.9" y="173.2" width="6.1" height="4.1" fill="#6d6d6d"/>
<rect x="376.9" y="173.2" width="6.1" height="4.1" fill="#6d6d6d"/>
<rect x="382.9" y="173.2" width="6.1" height="4.1" fill="#6d6d6d"/>
<rect x="388.9" y="173.2" width="6.1" height="4.1" fill="#6d6d6d"/>
<rect x="394.9" y="173.2" width="6.1" height="4.1" fill="#6c6c6c"/>
<rect x="400.9" y="173.2" width="6.1" height="4.1" fill="#6c6c6c"/>
<rect x="406.9" y="173.2" width="6.1" height="4.1" fill="#6c6c6c"/>
<rect x="412.9" y="173.2" width="6.1" height="4.1" fill="#6b6b6b"/>
<rect x="418.9" y="173.2" width="6.1" height="4.1" fill="#6b6b6b"/>
<rect x="424.9" y="173.2" width="6.1" height="4.1" fill="#6b6b6b"/>
<rect x="430.9" y="173.2" width="6.1" height="4.1" fill="#6b6b6b"/>
<rect x="436.9" y="173.2" width="6.1" height="4.1" fill="#6c6c6c"/>
<rect x="442.9" y="173.2" width="6.1" height="4.1" fill="#6c6c6c"/>
<rect x="448.9" y="173.2" width="6.1" height="4.1" fill="#6c6c6c"/>
<rect x="454.9" y="173.2" width="6.1" height="4.1" fill="#6c6c6c"/>
<rect x="460.9" y="173.2" width="6.1" height="4.1" fill="#6d6d6d"/>
<rect x="466.9" y="173.2" width="6.1" height="4.1" fill="#737373"/>
<rect x="472.9" y="173.2" width="6.1" height="4.1" fill="#818181"/>
<rect x="478.9" y="173.2" width="6.1" height="4.1" fill="#929292"/>
<rect x="484.9" y="173.2" width="6.1" height="4.1" fill="#9f9f9f"/>
<rect x="490.9" y="173.2" width="6.1" height="4.1" fill="#a0a0a0"/>
<rect x="496.9" y="173.2" width="6.1" height="4.1" fill="#8e8e8e"/>
<rect x="502.9" y="173.2" width="6.1" height="4.1" fill="#646464"/>
<rect x="508.9" y="173.2" width="6.1" height="4.1" fill="#5a5a5a"/>
<rect x="370.9" y="177.2" width="6.1" height="4.1" fill="#6c6c6c"/>
<rect x="376.9" y="177.2" width="6.1" height="4.1" fill="#6c6c6c"/>
<rect x="382.9" y="177.2" width="6.1" height="4.1" fill="#6b6b6b"/>
<rect x="388.9" y="177.2" width="6.1" height="4.1" fill="#6b6b6b"/>
<rect x="394.9" y="177.2" width="6.1" height="4.1" fill="#6a6a6a"/>
<rect x="400.9" y="177.2" width="6.1" height="4.1" fill="#696969"/>
<rect x="406.9" y="177.2" width="6.1" height="4.1" fill="#686868"/>
<rect x="412.9" y="177.2" width="6.1" height="4.1" fill="#686868"/>
<rect x="418.9" y="177.2" width="6.1" height="4.1" fill="#686868"/>
<rect x="424.9" y="177.2" width="6.1" height="4.1" fill="#686868"/>
<rect x="430.9" y="177.2" width="6.1" height="4.1" fill="#686868"/>
<rect x="436.9" y="177.2" width="6.1" height="4.1" fill="#686868"/>
<rect x="442.9" y="177.2" width="6.1" height="4.1" fill="#696969"/>
<rect x="448.9" y="177.2" width="6.1" height="4.1" fill="#6a6a6a"/>
<rect x="454.9" y="177.2" width="6.1" height="4.1" fill="#6b6b6b"/>
<rect x="460.9" y="177.2" width="6.1" height="4.1" fill="#6d6d6d"/>
<rect x="466.9" y="177.2" width="6.1" height="4.1" fill="#787878"/>
<rect x="472.9" y="177.2" width="6.1" height="4.1" fill="#8b8b8b"/>
<rect x="478.9" y="177.2" width="6.1" height="4.1" fill="#9e9e9e"/>
<rect x="484.9" y="177.2" width="6.1" height="4.1" fill="#b0b0b0"/>
<rect x="490.9" y="177.2" width="6.1" height="4.1" fill="#b8b8b8"/>
<rect x="496.9" y="177.2" width="6.1" height="4.1" fill="#a3a3a3"/>
<rect x="502.9" y="177.2" width="6.1" height="4.1" fill="#6d6d6d"/>
<rect x="508.9" y="177.2" width="6.1" height="4.1" fill="#5c5c5c"/>
<rect x="370.9" y="181.2" width="6.1" height="4.1" fill="#6c6c6c"/>
<rect x="376.9" y="181.2" width="6.1" height="4.1" fill="#6c6c6c"/>
<rect x="382.9" y="181.2" width="6.1" height="4.1" fill="#6d6d6d"/>
<rect x="388.9" y="181.2" width="6.1" height="4.1" fill="#696969"/>
<rect x="394.9" y="181.2" width="6.1" height="4.1" fill="#686868"/>
<rect x="400.9" y="181.2" width="6.1" height="4.1" fill="#666666"/>
<rect x="406.9" y="181.2" width="6.1" height="4.1" fill="#656565"/>
<rect x="412.9" y="181.2" width="6.1" height="4.1" fill="#646464"/>
<rect x="418.9" y="181.2" width="6.1" height="4.1" fill="#646464"/>
<rect x="424.9" y="181.2" width="6.1" height="4.1" fill="#646464"/>
<rect x="430.9" y="181.2" width="6.1" height="4.1" fill="#646464"/>
<rect x="436.9" y="181.2" width="6.1" height="4.1" fill="#656565"/>
<rect x="442.9" y="181.2" width="6.1" height="4.1" fill="#666666"/>
<rect x="448.9" y="181.2" width="6.1" height="4.1" fill="#676767"/>
<rect x="454.9" y="181.2" width="6.1" height="4.1" fill="#696969"/>
<rect x="460.9" y="181.2" width="6.1" height="4.1" fill="#6c6c6c"/>
<rect x="466.9" y="181.2" width="6.1" height="4.1" fill="#7c7c7c"/>
<rect x="472.9" y="181.2" width="6.1" height="4.1" fill="#939393"/>
<rect x="478.9" y="181.2" width="6.1" height="4.1" fill="#a6a6a6"/>
<rect x="484.9" y="181.2" width="6.1" height="4.1" fill="#bfbfbf"/>
<rect x="490.9" y="181.2" width="6.1" height="4.1" fill="#cecece"/>
<rect x="496.9" y="181.2" width="6.1" height="4.1" fill="#b6b6b6"/>
<rect x="502.9" y="181.2" width="6.1" height="4.1" fill="#777777"/>
<rect x="508.9" y="181.2" width="6.1" height="4.1" fill="#5e5e5e"/>
<rect x="370.9" y="185.2" width="6.1" height="4.1" fill="#6c6c6c"/>
<rect x="376.9" y="185.2" width="6.1" height="4.1" fill="#7e7e7e"/>
<rect x="382.9" y="185.2" width="6.1" height="4.1" fill="#878787"/>
<rect x="388.9" y="185.2" width="6.1" height="4.1" fill="#6a6a6a"/>
<rect x="394.9" y="185.2" width="6.1" height="4.1" fill="#686868"/>
<rect x="400.9" y="185.2" width="6.1" height="4.1" fill="#666666"/>
<rect x="406.9" y="185.2" width="6.1" height="4.1" fill="#656565"/>
<rect x="412.9" y="185.2" width="6.1" height="4.1" fill="#656565"/>
<rect x="418.9" y="185.2" width="6.1" height="4.1" fill="#646464"/>
<rect x="424.9" y="185.2" width="6.1" height="4.1" fill="#646464"/>
<rect x="430.9" y="185.2" width="6.1" height="4.1" fill="#656565"/>
<rect x="436.9" y="185.2" width="6.1" height="4.1" fill="#656565"/>
<rect x="442.9" y="185.2" width="6.1" height="4.1" fill="#666666"/>
<rect x="448.9" y="185.2" width="6.1" height="4.1" fill="#686868"/>
<rect x="454.9" y="185.2" width="6.1" height="4.1" fill="#696969"/>
<rect x="460.9" y="185.2" width="6.1" height="4.1" fill="#6d6d6d"/>
<rect x="466.9" y="185.2" width="6.1" height="4.1" fill="#808080"/>
<rect x="472.9" y="185.2" width="6.1" height="4.1" fill="#979797"/>
<rect x="478.9" y="185.2" width="6.1" height="4.1" fill="#ababab"/>
<rect x="484.9" y="185.2" width="6.1" height="4.1" fill="#c8c8c8"/>
<rect x="490.9" y="185.2" width="6.1" height="4.1" fill="#dbdbdb"/>
<rect x="496.9" y="185.2" width="6.1" height="4.1" fill="#c2c2c2"/>
<rect x="502.9" y="185.2" width="6.1" height="4.1" fill="#7d7d7d"/>
<rect x="508.9" y="185.2" width="6.1" height="4.1" fill="#5f5f5f"/>
<rect x="370.9" y="189.2" width="6.1" height="4.1" fill="#6d6d6d"/>
<rect x="376.9" y="189.2" width="6.1" height="4.1" fill="#8f8f8f"/>
<rect x="382.9" y="189.2" width="6.1" height="4.1" fill="#949494"/>
<rect x="388.9" y="189.2" width="6.1" height="4.1" fill="#727272"/>
<rect x="394.9" y="189.2" width="6.1" height="4.1" fill="#6a6a6a"/>
<rect x="400.9" y="189.2" width="6.1" height="4.1" fill="#696969"/>
<rect x="406.9" y="189.2" width="6.1" height="4.1" fill="#696969"/>
<rect x="412.9" y="189.2" width="6.1" height="4.1" fill="#686868"/>
<rect x="418.9" y="189.2" width="6.1" height="4.1" fill="#686868"/>
<rect x="424.9" y="189.2" width="6.1" height="4.1" fill="#686868"/>
<rect x="430.9" y="189.2" width="6.1" height="4.1" fill="#686868"/>
<rect x="436.9" y="189.2" width="6.1" height="4.1" fill="#696969"/>
<rect x="442.9" y="189.2" width="6.1" height="4.1" fill="#696969"/>
<rect x="448.9" y="189.2" width="6.1" height="4.1" fill="#6a6a6a"/>
<rect x="454.9" y="189.2" width="6.1" height="4.1" fill="#6b6b6b"/>
<rect x="460.9" y="189.2" width="6.1" height="4.1" fill="#6f6f6f"/>
<rect x="466.9" y="189.2" width="6.1" height="4.1" fill="#818181"/>
<rect x="472.9" y="189.2" width="6.1" height="4.1" fill="#989898"/>
<rect x="478.9" y="189.2" width="6.1" height="4.1" fill="#ababab"/>
<rect x="484.9" y="189.2" width="6.1" height="4.1" fill="#c8c8c8"/>
<rect x="490.9" y="189.2" width="6.1" height="4.1" fill="#dbdbdb"/>
<rect x="496.9" y="189.2" width="6.1" height="4.1" fill="#c2c2c2"/>
<rect x="502.9" y="189.2" width="6.1" height="4.1" fill="#7e7e7e"/>
<rect x="508.9" y="189.2" width="6.1" height="4.1" fill="#606060"/>
<rect x="370.9" y="193.2" width="6.1" height="4.1" fill="#6e6e6e"/>
<rect x="376.9" y="193.2" width="6.1" height="4.1" fill="#8f8f8f"/>
<rect x="382.9" y="193.2" width="6.1" height="4.1" fill="#959595"/>
<rect x="388.9" y="193.2" width="6.1" height="4.1" fill="#737373"/>
<rect x="394.9" y="193.2" width="6.1" height="4.1" fill="#6c6c6c"/>
<rect x="400.9" y="193.2" width="6.1" height="4.1" fill="#6c6c6c"/>
<rect x="406.9" y="193.2" width="6.1" height="4.1" fill="#6c6c6c"/>
<rect x="412.9" y="193.2" width="6.1" height="4.1" fill="#6c6c6c"/>
<rect x="418.9" y="193.2" width="6.1" height="4.1" fill="#6c6c6c"/>
<rect x="424.9" y="193.2" width="6.1" height="4.1" fill="#6c6c6c"/>
<rect x="430.9" y="193.2" width="6.1" height="4.1" fill="#6c6c6c"/>
<rect x="436.9" y="193.2" width="6.1" height="4.1" fill="#6c6c6c"/>
<rect x="442.9" y="193.2" width="6.1" height="4.1" fill="#6c6c6c"/>
<rect x="448.9" y="193.2" width="6.1" height="4.1" fill="#6c6c6c"/>
<rect x="454.9" y="193.2" width="6.1" height="4.1" fill="#6d6d6d"/>
<rect x="460.9" y="193.2" width="6.1" height="4.1" fill="#707070"/>
<rect x="466.9" y="193.2" width="6.1" height="4.1" fill="#808080"/>
<rect x="472.9" y="193.2" width="6.1" height="4.1" fill="#969696"/>
<rect x="478.9" y="193.2" width="6.1" height="4.1" fill="#a8a8a8"/>
<rect x="484.9" y="193.2" width="6.1" height="4.1" fill="#bfbfbf"/>
<rect x="490.9" y="193.2" width="6.1" height="4.1" fill="#cdcdcd"/>
<rect x="496.9" y="193.2" width="6.1" height="4.1" fill="#b7b7b7"/>
<rect x="502.9" y="193.2" width="6.1" height="4.1" fill="#787878"/>
<rect x="508.9" y="193.2" width="6.1" height="4.1" fill="#5e5e5e"/>
<rect x="370.9" y="197.2" width="6.1" height="4.1" fill="#6e6e6e"/>
<rect x="376.9" y="197.2" width="6.1" height="4.1" fill="#7e7e7e"/>
<rect x="382.9" y="197.2" width="6.1" height="4.1" fill="#878787"/>
<rect x="388.9" y="197.2" width="6.1" height="4.1" fill="#6f6f6f"/>
<rect x="394.9" y="197.2" width="6.1" height="4.1" fill="#6d6d6d"/>
<rect x="400.9" y="197.2" width="6.1" height="4.1" fill="#6d6d6d"/>
<rect x="406.9" y="197.2" width="6.1" height="4.1" fill="#6d6d6d"/>
<rect x="412.9" y="197.2" width="6.1" height="4.1" fill="#6d6d6d"/>
<rect x="418.9" y="197.2" width="6.1" height="4.1" fill="#6d6d6d"/>
<rect x="424.9" y="197.2" width="6.1" height="4.1" fill="#6d6d6d"/>
<rect x="430.9" y="197.2" width="6.1" height="4.1" fill="#6d6d6d"/>
<rect x="436.9" y="197.2" width="6.1" height="4.1" fill="#6d6d6d"/>
<rect x="442.9" y="197.2" width="6.1" height="4.1" fill="#6e6e6e"/>
<rect x="448.9" y="197.2" width="6.1" height="4.1" fill="#6f6f6f"/>
<rect x="454.9" y="197.2" width="6.1" height="4.1" fill="#6f6f6f"/>
<rect x="460.9" y="197.2" width="6.1" height="4.1" fill="#717171"/>
<rect x="466.9" y="197.2" width="6.1" height="4.1" fill="#7d7d7d"/>
<rect x="472.9" y="197.2" width="6.1" height="4.1" fill="#919191"/>
<rect x="478.9" y="197.2" width="6.1" height="4.1" fill="#a1a1a1"/>
<rect x="484.9" y="197.2" width="6.1" height="4.1" fill="#b1b1b1"/>
<rect x="490.9" y="197.2" width="6.1" height="4.1" fill="#b9b9b9"/>
<rect x="496.9" y="197.2" width="6.1" height="4.1" fill="#a5a5a5"/>
<rect x="502.9" y="197.2" width="6.1" height="4.1" fill="#6f6f6f"/>
<rect x="508.9" y="197.2" width="6.1" height="4.1" fill="#5c5c5c"/>
<rect x="370.9" y="201.2" width="6.1" height="4.1" fill="#6e6e6e"/>
<rect x="376.9" y="201.2" width="6.1" height="4.1" fill="#6e6e6e"/>
<rect x="382.9" y="201.2" width="6.1" height="4.1" fill="#707070"/>
<rect x="388.9" y="201.2" width="6.1" height="4.1" fill="#6e6e6e"/>
<rect x="394.9" y="201.2" width="6.1" height="4.1" fill="#6e6e6e"/>
<rect x="400.9" y="201.2" width="6.1" height="4.1" fill="#6e6e6e"/>
<rect x="406.9" y="201.2" width="6.1" height="4.1" fill="#6e6e6e"/>
<rect x="412.9" y="201.2" width="6.1" height="4.1" fill="#6e6e6e"/>
<rect x="418.9" y="201.2" width="6.1" height="4.1" fill="#6e6e6e"/>
<rect x="424.9" y="201.2" width="6.1" height="4.1" fill="#6e6e6e"/>
<rect x="430.9" y="201.2" width="6.1" height="4.1" fill="#6e6e6e"/>
<rect x="436.9" y="201.2" width="6.1" height="4.1" fill="#707070"/>
<rect x="442.9" y="201.2" width="6.1" height="4.1" fill="#747474"/>
<rect x="448.9" y="201.2" width="6.1" height="4.1" fill="#787878"/>
<rect x="454.9" y="201.2" width="6.1" height="4.1" fill="#7b7b7b"/>
<rect x="460.9" y="201.2" width="6.1" height="4.1" fill="#7c7c7c"/>
<rect x="466.9" y="201.2" width="6.1" height="4.1" fill="#818181"/>
<rect x="472.9" y="201.2" width="6.1" height="4.1" fill="#8e8e8e"/>
<rect x="478.9" y="201.2" width="6.1" height="4.1" fill="#999999"/>
<rect x="484.9" y="201.2" width="6.1" height="4.1" fill="#a1a1a1"/>
<rect x="490.9" y="201.2" width="6.1" height="4.1" fill="#a2a2a2"/>
<rect x="496.9" y="201.2" width="6.1" height="4.1" fill="#919191"/>
<rect x="502.9" y="201.2" width="6.1" height="4.1" fill="#656565"/>
<rect x="508.9" y="201.2" width="6.1" height="4.1" fill="#5b5b5b"/>
<rect x="370.9" y="205.2" width="6.1" height="4.1" fill="#6e6e6e"/>
<rect x="376.9" y="205.2" width="6.1" height="4.1" fill="#6e6e6e"/>
<rect x="382.9" y="205.2" width="6.1" height="4.1" fill="#6e6e6e"/>
<rect x="388.9" y="205.2" width="6.1" height="4.1" fill="#6d6d6d"/>
<rect x="394.9" y="205.2" width="6.1" height="4.1" fill="#6d6d6d"/>
<rect x="400.9" y="205.2" width="6.1" height="4.1" fill="#6d6d6d"/>
<rect x="406.9" y="205.2" width="6.1" height="4.1" fill="#6d6d6d"/>
<rect x="412.9" y="205.2" width="6.1" height="4.1" fill="#6d6d6d"/>
<rect x="418.9" y="205.2" width="6.1" height="4.1" fill="#6e6e6e"/>
<rect x="424.9" y="205.2" width="6.1" height="4.1" fill="#6e6e6e"/>
<rect x="430.9" y="205.2" width="6.1" height="4.1" fill="#717171"/>
<rect x="436.9" y="205.2" width="6.1" height="4.1" fill="#777777"/>
<rect x="442.9" y="205.2" width="6.1" height="4.1" fill="#7e7e7e"/>
<rect x="448.9" y="205.2" width="6.1" height="4.1" fill="#838383"/>
<rect x="454.9" y="205.2" width="6.1" height="4.1" fill="#858585"/>
<rect x="460.9" y="205.2" width="6.1" height="4.1" fill="#858585"/>
<rect x="466.9" y="205.2" width="6.1" height="4.1" fill="#878787"/>
<rect x="472.9" y="205.2" width="6.1" height="4.1" fill="#8d8d8d"/>
<rect x="478.9" y="205.2" width="6.1" height="4.1" fill="#939393"/>
<rect x="484.9" y="205.2" width="6.1" height="4.1" fill="#939393"/>
<rect x="490.9" y="205.2" width="6.1" height="4.1" fill="#8d8d8d"/>
<rect x="496.9" y="205.2" width="6.1" height="4.1" fill="#808080"/>
<rect x="502.9" y="205.2" width="6.1" height="4.1" fill="#5e5e5e"/>
<rect x="508.9" y="205.2" width="6.1" height="4.1" fill="#5a5a5a"/>
<rect x="370.9" y="209.2" width="6.1" height="4.1" fill="#6e6e6e"/>
<rect x="376.9" y="209.2" width="6.1" height="4.1" fill="#6d6d6d"/>
<rect x="382.9" y="209.2" width="6.1" height="4.1" fill="#6d6d6d"/>
<rect x="388.9" y="209.2" width="6.1" height="4.1" fill="#6d6d6d"/>
<rect x="394.9" y="209.2" width="6.1" height="4.1" fill="#6d6d6d"/>
<rect x="400.9" y="209.2" width="6.1" height="4.1" fill="#6d6d6d"/>
<rect x="406.9" y="209.2" width="6.1" height="4.1" fill="#6d6d6d"/>
<rect x="412.9" y="209.2" width="6.1" height="4.1" fill="#6d6d6d"/>
<rect x="418.9" y="209.2" width="6.1" height="4.1" fill="#6d6d6d"/>
<rect x="424.9" y="209.2" width="6.1" height="4.1" fill="#6f6f6f"/>
<rect x="430.9" y="209.2" width="6.1" height="4.1" fill="#747474"/>
<rect x="436.9" y="209.2" width="6.1" height="4.1" fill="#7c7c7c"/>
<rect x="442.9" y="209.2" width="6.1" height="4.1" fill="#838383"/>
<rect x="448.9" y="209.2" width="6.1" height="4.1" fill="#868686"/>
<rect x="454.9" y="209.2" width="6.1" height="4.1" fill="#878787"/>
<rect x="460.9" y="209.2" width="6.1" height="4.1" fill="#878787"/>
<rect x="466.9" y="209.2" width="6.1" height="4.1" fill="#878787"/>
<rect x="472.9" y="209.2" width="6.1" height="4.1" fill="#898989"/>
<rect x="478.9" y="209.2" width="6.1" height="4.1" fill="#8a8a8a"/>
<rect x="484.9" y="209.2" width="6.1" height="4.1" fill="#858585"/>
<rect x="490.9" y="209.2" width="6.1" height="4.1" fill="#7d7d7d"/>
<rect x="496.9" y="209.2" width="6.1" height="4.1" fill="#747474"/>
<rect x="502.9" y="209.2" width="6.1" height="4.1" fill="#5a5a5a"/>
<rect x="508.9" y="209.2" width="6.1" height="4.1" fill="#595959"/>
<rect x="370.9" y="213.2" width="6.1" height="4.1" fill="#6d6d6d"/>
<rect x="376.9" y="213.2" width="6.1" height="4.1" fill="#6d6d6d"/>
<rect x="382.9" y="213.2" width="6.1" height="4.1" fill="#6d6d6d"/>
<rect x="388.9" y="213.2" width="6.1" height="4.1" fill="#6d6d6d"/>
<rect x="394.9" y="213.2" width="6.1" height="4.1" fill="#6d6d6d"/>
<rect x="400.9" y="213.2" width="6.1" height="4.1" fill="#6d6d6d"/>
<rect x="406.9" y="213.2" width="6.1" height="4.1" fill="#6d6d6d"/>
<rect x="412.9" y="213.2" width="6.1" height="4.1" fill="#6d6d6d"/>
<rect x="418.9" y="213.2" width="6.1" height="4.1" fill="#6d6d6d"/>
<rect x="424.9" y="213.2" width="6.1" height="4.1" fill="#6e6e6e"/>
<rect x="430.9" y="213.2" width="6.1" height="4.1" fill="#737373"/>
<rect x="436.9" y="213.2" width="6.1" height="4.1" fill="#7c7c7c"/>
<rect x="442.9" y="213.2" width="6.1" height="4.1" fill="#838383"/>
<rect x="448.9" y="213.2" width="6.1" height="4.1" fill="#868686"/>
<rect x="454.9" y="213.2" width="6.1" height="4.1" fill="#878787"/>
<rect x="460.9" y="213.2" width="6.1" height="4.1" fill="#878787"/>
<rect x="466.9" y="213.2" width="6.1" height="4.1" fill="#868686"/>
<rect x="472.9" y="213.2" width="6.1" height="4.1" fill="#858585"/>
<rect x="478.9" y="213.2" width="6.1" height="4.1" fill="#818181"/>
<rect x="484.9" y="213.2" width="6.1" height="4.1" fill="#7a7a7a"/>
<rect x="490.9" y="213.2" width="6.1" height="4.1" fill="#737373"/>
<rect x="496.9" y="213.2" width="6.1" height="4.1" fill="#6f6f6f"/>
<rect x="502.9" y="213.2" width="6.1" height="4.1" fill="#595959"/>
<rect x="508.9" y="213.2" width="6.1" height="4.1" fill="#595959"/>
<rect x="370.9" y="217.2" width="6.1" height="4.1" fill="#6d6d6d"/>
<rect x="376.9" y="217.2" width="6.1" height="4.1" fill="#6d6d6d"/>
<rect x="382.9" y="217.2" width="6.1" height="4.1" fill="#6d6d6d"/>
<rect x="388.9" y="217.2" width="6.1" height="4.1" fill="#6d6d6d"/>
<rect x="394.9" y="217.2" width="6.1" height="4.1" fill="#6c6c6c"/>
<rect x="400.9" y="217.2" width="6.1" height="4.1" fill="#6c6c6c"/>
<rect x="406.9" y="217.2" width="6.1" height="4.1" fill="#6c6c6c"/>
<rect x="412.9" y="217.2" width="6.1" height="4.1" fill="#6c6c6c"/>
<rect x="418.9" y="217.2" width="6.1" height="4.1" fill="#6d6d6d"/>
<rect x="424.9" y="217.2" width="6.1" height="4.1" fill="#6d6d6d"/>
<rect x="430.9" y="217.2" width="6.1" height="4.1" fill="#707070"/>
<rect x="436.9" y="217.2" width="6.1" height="4.1" fill="#767676"/>
<rect x="442.9" y="217.2" width="6.1" height="4.1" fill="#7d7d7d"/>
<rect x="448.9" y="217.2" width="6.1" height="4.1" fill="#828282"/>
<rect x="454.9" y="217.2" width="6.1" height="4.1" fill="#848484"/>
<rect x="460.9" y="217.2" width="6.1" height="4.1" fill="#848484"/>
<rect x="466.9" y="217.2" width="6.1" height="4.1" fill="#838383"/>
<rect x="472.9" y="217.2" width="6.1" height="4.1" fill="#7f7f7f"/>
<rect x="478.9" y="217.2" width="6.1" height="4.1" fill="#787878"/>
<rect x="484.9" y="217.2" width="6.1" height="4.1" fill="#727272"/>
<rect x="490.9" y="217.2" width="6.1" height="4.1" fill="#6e6e6e"/>
<rect x="496.9" y="217.2" width="6.1" height="4.1" fill="#6d6d6d"/>
<rect x="502.9" y="217.2" width="6.1" height="4.1" fill="#585858"/>
<rect x="508.9" y="217.2" width="6.1" height="4.1" fill="#595959"/>
<rect x="370.9" y="221.2" width="6.1" height="4.1" fill="#6d6d6d"/>
<rect x="376.9" y="221.2" width="6.1" height="4.1" fill="#6d6d6d"/>
<rect x="382.9" y="221.2" width="6.1" height="4.1" fill="#6c6c6c"/>
<rect x="388.9" y="221.2" width="6.1" height="4.1" fill="#6c6c6c"/>
<rect x="394.9" y="221.2" width="6.1" height="4.1" fill="#6b6b6b"/>
<rect x="400.9" y="221.2" width="6.1" height="4.1" fill="#6b6b6b"/>
<rect x="406.9" y="221.2" width="6.1" height="4.1" fill="#6b6b6b"/>
<rect x="412.9" y="221.2" width="6.1" height="4.1" fill="#6c6c6c"/>
<rect x="418.9" y="221.2" width="6.1" height="4.1" fill="#6c6c6c"/>
<rect x="424.9" y="221.2" width="6.1" height="4.1" fill="#6d6d6d"/>
<rect x="430.9" y="221.2" width="6.1" height="4.1" fill="#6d6d6d"/>
<rect x="436.9" y="221.2" width="6.1" height="4.1" fill="#6f6f6f"/>
<rect x="442.9" y="221.2" width="6.1" height="4.1" fill="#737373"/>
<rect x="448.9" y="221.2" width="6.1" height="4.1" fill="#767676"/>
<rect x="454.9" y="221.2" width="6.1" height="4.1" fill="#797979"/>
<rect x="460.9" y="221.2" width="6.1" height="4.1" fill="#797979"/>
<rect x="466.9" y="221.2" width="6.1" height="4.1" fill="#777777"/>
<rect x="472.9" y="221.2" width="6.1" height="4.1" fill="#737373"/>
<rect x="478.9" y="221.2" width="6.1" height="4.1" fill="#6f6f6f"/>
<rect x="484.9" y="221.2" width="6.1" height="4.1" fill="#6d6d6d"/>
<rect x="490.9" y="221.2" width="6.1" height="4.1" fill="#6c6c6c"/>
<rect x="496.9" y="221.2" width="6.1" height="4.1" fill="#6c6c6c"/>
<rect x="502.9" y="221.2" width="6.1" height="4.1" fill="#585858"/>
<rect x="508.9" y="221.2" width="6.1" height="4.1" fill="#585858"/>
<rect x="370.9" y="225.2" width="6.1" height="4.1" fill="#6d6d6d"/>
<rect x="376.9" y="225.2" width="6.1" height="4.1" fill="#6c6c6c"/>
<rect x="382.9" y="225.2" width="6.1" height="4.1" fill="#6c6c6c"/>
<rect x="388.9" y="225.2" width="6.1" height="4.1" fill="#6b6b6b"/>
<rect x="394.9" y="225.2" width="6.1" height="4.1" fill="#6a6a6a"/>
<rect x="400.9" y="225.2" width="6.1" height="4.1" fill="#6a6a6a"/>
<rect x="406.9" y="225.2" width="6.1" height="4.1" fill="#6a6a6a"/>
<rect x="412.9" y="225.2" width="6.1" height="4.1" fill="#6b6b6b"/>
<rect x="418.9" y="225.2" width="6.1" height="4.1" fill="#6b6b6b"/>
<rect x="424.9" y="225.2" width="6.1" height="4.1" fill="#6c6c6c"/>
<rect x="430.9" y="225.2" width="6.1" height="4.1" fill="#6d6d6d"/>
<rect x="436.9" y="225.2" width="6.1" height="4.1" fill="#6d6d6d"/>
<rect x="442.9" y="225.2" width="6.1" height="4.1" fill="#6d6d6d"/>
<rect x="448.9" y="225.2" width="6.1" height="4.1" fill="#6d6d6d"/>
<rect x="454.9" y="225.2" width="6.1" height="4.1" fill="#6c6c6c"/>
<rect x="460.9" y="225.2" width="6.1" height="4.1" fill="#6b6b6b"/>
<rect x="466.9" y="225.2" width="6.1" height="4.1" fill="#6a6a6a"/>
<rect x="472.9" y="225.2" width="6.1" height="4.1" fill="#686868"/>
<rect x="478.9" y="225.2" width="6.1" height="4.1" fill="#666666"/>
<rect x="484.9" y="225.2" width="6.1" height="4.1" fill="#666666"/>
<rect x="490.9" y="225.2" width="6.1" height="4.1" fill="#666666"/>
<rect x="496.9" y="225.2" width="6.1" height="4.1" fill="#666666"/>
<rect x="502.9" y="225.2" width="6.1" height="4.1" fill="#535353"/>
<rect x="508.9" y="225.2" width="6.1" height="4.1" fill="#545454"/>
<rect x="370.9" y="229.2" width="6.1" height="4.1" fill="#6d6d6d"/>
<rect x="376.9" y="229.2" width="6.1" height="4.1" fill="#6c6c6c"/>
<rect x="382.9" y="229.2" width="6.1" height="4.1" fill="#6b6b6b"/>
<rect x="388.9" y="229.2" width="6.1" height="4.1" fill="#6a6a6a"/>
<rect x="394.9" y="229.2" width="6.1" height="4.1" fill="#696969"/>
<rect x="400.9" y="229.2" width="6.1" height="4.1" fill="#696969"/>
<rect x="406.9" y="229.2" width="6.1" height="4.1" fill="#696969"/>
<rect x="412.9" y="229.2" width="6.1" height="4.1" fill="#6a6a6a"/>
<rect x="418.9" y="229.2" width="6.1" height="4.1" fill="#6b6b6b"/>
<rect x="424.9" y="229.2" width="6.1" height="4.1" fill="#6b6b6b"/>
<rect x="430.9" y="229.2" width="6.1" height="4.1" fill="#6c6c6c"/>
<rect x="436.9" y="229.2" width="6.1" height="4.1" fill="#6c6c6c"/>
<rect x="442.9" y="229.2" width="6.1" height="4.1" fill="#6c6c6c"/>
<rect x="448.9" y="229.2" width="6.1" height="4.1" fill="#6b6b6b"/>
<rect x="454.9" y="229.2" width="6.1" height="4.1" fill="#6a6a6a"/>
<rect x="460.9" y="229.2" width="6.1" height="4.1" fill="#686868"/>
<rect x="466.9" y="229.2" width="6.1" height="4.1" fill="#666666"/>
<rect x="472.9" y="229.2" width="6.1" height="4.1" fill="#656565"/>
<rect x="478.9" y="229.2" width="6.1" height="4.1" fill="#636363"/>
<rect x="484.9" y="229.2" width="6.1" height="4.1" fill="#626262"/>
<rect x="490.9" y="229.2" width="6.1" height="4.1" fill="#636363"/>
<rect x="496.9" y="229.2" width="6.1" height="4.1" fill="#636363"/>
<rect x="502.9" y="229.2" width="6.1" height="4.1" fill="#515151"/>
<rect x="508.9" y="229.2" width="6.1" height="4.1" fill="#535353"/>
<rect x="370.9" y="233.2" width="6.1" height="4.1" fill="#6c6c6c"/>
<rect x="376.9" y="233.2" width="6.1" height="4.1" fill="#6b6b6b"/>
<rect x="382.9" y="233.2" width="6.1" height="4.1" fill="#6a6a6a"/>
<rect x="388.9" y="233.2" width="6.1" height="4.1" fill="#696969"/>
<rect x="394.9" y="233.2" width="6.1" height="4.1" fill="#686868"/>
<rect x="400.9" y="233.2" width="6.1" height="4.1" fill="#686868"/>
<rect x="406.9" y="233.2" width="6.1" height="4.1" fill="#686868"/>
<rect x="412.9" y="233.2" width="6.1" height="4.1" fill="#696969"/>
<rect x="418.9" y="233.2" width="6.1" height="4.1" fill="#6a6a6a"/>
<rect x="424.9" y="233.2" width="6.1" height="4.1" fill="#6b6b6b"/>
<rect x="430.9" y="233.2" width="6.1" height="4.1" fill="#6c6c6c"/>
<rect x="436.9" y="233.2" width="6.1" height="4.1" fill="#6c6c6c"/>
<rect x="442.9" y="233.2" width="6.1" height="4.1" fill="#6c6c6c"/>
<rect x="448.9" y="233.2" width="6.1" height="4.1" fill="#6a6a6a"/>
<rect x="454.9" y="233.2" width="6.1" height="4.1" fill="#696969"/>
<rect x="460.9" y="233.2" width="6.1" height="4.1" fill="#676767"/>
<rect x="466.9" y="233.2" width="6.1" height="4.1" fill="#646464"/>
<rect x="472.9" y="233.2" width="6.1" height="4.1" fill="#626262"/>
<rect x="478.9" y="233.2" width="6.1" height="4.1" fill="#606060"/>
<rect x="484.9" y="233.2" width="6.1" height="4.1" fill="#5f5f5f"/>
<rect x="490.9" y="233.2" width="6.1" height="4.1" fill="#5f5f5f"/>
<rect x="496.9" y="233.2" width="6.1" height="4.1" fill="#606060"/>
<rect x="502.9" y="233.2" width="6.1" height="4.1" fill="#4e4e4e"/>
<rect x="508.9" y="233.2" width="6.1" height="4.1" fill="#505050"/>
<rect x="370.9" y="237.2" width="6.1" height="4.1" fill="#6c6c6c"/>
<rect x="376.9" y="237.2" width="6.1" height="4.1" fill="#6b6b6b"/>
<rect x="382.9" y="237.2" width="6.1" height="4.1" fill="#6a6a6a"/>
<rect x="388.9" y="237.2" width="6.1" height="4.1" fill="#686868"/>
<rect x="394.9" y="237.2" width="6.1" height="4.1" fill="#676767"/>
<rect x="400.9" y="237.2" width="6.1" height="4.1" fill="#676767"/>
<rect x="406.9" y="237.2" width="6.1" height="4.1" fill="#676767"/>
<rect x="412.9" y="237.2" width="6.1" height="4.1" fill="#686868"/>
<rect x="418.9" y="237.2" width="6.1" height="4.1" fill="#696969"/>
<rect x="424.9" y="237.2" width="6.1" height="4.1" fill="#6a6a6a"/>
<rect x="430.9" y="237.2" width="6.1" height="4.1" fill="#6b6b6b"/>
<rect x="436.9" y="237.2" width="6.1" height="4.1" fill="#6c6c6c"/>
<rect x="442.9" y="237.2" width="6.1" height="4.1" fill="#6b6b6b"/>
<rect x="448.9" y="237.2" width="6.1" height="4.1" fill="#6a6a6a"/>
<rect x="454.9" y="237.2" width="6.1" height="4.1" fill="#686868"/>
<rect x="460.9" y="237.2" width="6.1" height="4.1" fill="#656565"/>
<rect x="466.9" y="237.2" width="6.1" height="4.1" fill="#626262"/>
<rect x="472.9" y="237.2" width="6.1" height="4.1" fill="#5f5f5f"/>
<rect x="478.9" y="237.2" width="6.1" height="4.1" fill="#5c5c5c"/>
<rect x="484.9" y="237.2" width="6.1" height="4.1" fill="#5b5b5b"/>
<rect x="490.9" y="237.2" width="6.1" height="4.1" fill="#5b5b5b"/>
<rect x="496.9" y="237.2" width="6.1" height="4.1" fill="#5d5d5d"/>
<rect x="502.9" y="237.2" width="6.1" height="4.1" fill="#4b4b4b"/>
<rect x="508.9" y="237.2" width="6.1" height="4.1" fill="#4e4e4e"/>
<rect x="370.9" y="241.2" width="6.1" height="4.1" fill="#6c6c6c"/>
<rect x="376.9" y="241.2" width="6.1" height="4.1" fill="#6b6b6b"/>
<rect x="382.9" y="241.2" width="6.1" height="4.1" fill="#696969"/>
<rect x="388.9" y="241.2" width="6.1" height="4.1" fill="#686868"/>
<rect x="394.9" y="241.2" width="6.1" height="4.1" fill="#676767"/>
<rect x="400.9" y="241.2" width="6.1" height="4.1" fill="#666666"/>
<rect x="406.9" y="241.2" width="6.1" height="4.1" fill="#666666"/>
<rect x="412.9" y="241.2" width="6.1" height="4.1" fill="#676767"/>
<rect x="418.9" y="241.2" width="6.1" height="4.1" fill="#696969"/>
<rect x="424.9" y="241.2" width="6.1" height="4.1" fill="#6a6a6a"/>
<rect x="430.9" y="241.2" width="6.1" height="4.1" fill="#6b6b6b"/>
<rect x="436.9" y="241.2" width="6.1" height="4.1" fill="#6d6d6d"/>
<rect x="442.9" y="241.2" width="6.1" height="4.1" fill="#6b6b6b"/>
<rect x="448.9" y="241.2" width="6.1" height="4.1" fill="#696969"/>
<rect x="454.9" y="241.2" width="6.1" height="4.1" fill="#666666"/>
<rect x="460.9" y="241.2" width="6.1" height="4.1" fill="#636363"/>
<rect x="466.9" y="241.2" width="6.1" height="4.1" fill="#5f5f5f"/>
<rect x="472.9" y="241.2" width="6.1" height="4.1" fill="#5c5c5c"/>
<rect x="478.9" y="241.2" width="6.1" height="4.1" fill="#595959"/>
<rect x="484.9" y="241.2" width="6.1" height="4.1" fill="#575757"/>
<rect x="490.9" y="241.2" width="6.1" height="4.1" fill="#585858"/>
<rect x="496.9" y="241.2" width="6.1" height="4.1" fill="#5a5a5a"/>
<rect x="502.9" y="241.2" width="6.1" height="4.1" fill="#484848"/>
<rect x="508.9" y="241.2" width="6.1" height="4.1" fill="#4c4c4c"/>
<rect x="370.9" y="245.2" width="6.1" height="4.1" fill="#6c6c6c"/>
<rect x="376.9" y="245.2" width="6.1" height="4.1" fill="#6b6b6b"/>
<rect x="382.9" y="245.2" width="6.1" height="4.1" fill="#696969"/>
<rect x="388.9" y="245.2" width="6.1" height="4.1" fill="#686868"/>
<rect x="394.9" y="245.2" width="6.1" height="4.1" fill="#676767"/>
<rect x="400.9" y="245.2" width="6.1" height="4.1" fill="#666666"/>
<rect x="406.9" y="245.2" width="6.1" height="4.1" fill="#666666"/>
<rect x="412.9" y="245.2" width="6.1" height="4.1" fill="#676767"/>
<rect x="418.9" y="245.2" width="6.1" height="4.1" fill="#696969"/>
<rect x="424.9" y="245.2" width="6.1" height="4.1" fill="#6a6a6a"/>
<rect x="430.9" y="245.2" width="6.1" height="4.1" fill="#717171"/>
<rect x="436.9" y="245.2" width="6.1" height="4.1" fill="#787878"/>
<rect x="442.9" y="245.2" width="6.1" height="4.1" fill="#6d6d6d"/>
<rect x="448.9" y="245.2" width="6.1" height="4.1" fill="#686868"/>
<rect x="454.9" y="245.2" width="6.1" height="4.1" fill="#656565"/>
<rect x="460.9" y="245.2" width="6.1" height="4.1" fill="#626262"/>
<rect x="466.9" y="245.2" width="6.1" height="4.1" fill="#5d5d5d"/>
<rect x="472.9" y="245.2" width="6.1" height="4.1" fill="#595959"/>
<rect x="478.9" y="245.2" width="6.1" height="4.1" fill="#565656"/>
<rect x="484.9" y="245.2" width="6.1" height="4.1" fill="#545454"/>
<rect x="490.9" y="245.2" width="6.1" height="4.1" fill="#555555"/>
<rect x="496.9" y="245.2" width="6.1" height="4.1" fill="#575757"/>
<rect x="502.9" y="245.2" width="6.1" height="4.1" fill="#464646"/>
<rect x="508.9" y="245.2" width="6.1" height="4.1" fill="#4a4a4a"/>
<rect x="370.9" y="249.2" width="6.1" height="4.1" fill="#6c6c6c"/>
<rect x="376.9" y="249.2" width="6.1" height="4.1" fill="#6b6b6b"/>
<rect x="382.9" y="249.2" width="6.1" height="4.1" fill="#6a6a6a"/>
<rect x="388.9" y="249.2" width="6.1" height="4.1" fill="#686868"/>
<rect x="394.9" y="249.2" width="6.1" height="4.1" fill="#676767"/>
<rect x="400.9" y="249.2" width="6.1" height="4.1" fill="#676767"/>
<rect x="406.9" y="249.2" width="6.1" height="4.1" fill="#676767"/>
<rect x="412.9" y="249.2" width="6.1" height="4.1" fill="#686868"/>
<rect x="418.9" y="249.2" width="6.1" height="4.1" fill="#696969"/>
<rect x="424.9" y="249.2" width="6.1" height="4.1" fill="#6b6b6b"/>
<rect x="430.9" y="249.2" width="6.1" height="4.1" fill="#7f7f7f"/>
<rect x="436.9" y="249.2" width="6.1" height="4.1" fill="#8b8b8b"/>
<rect x="442.9" y="249.2" width="6.1" height="4.1" fill="#757575"/>
<rect x="448.9" y="249.2" width="6.1" height="4.1" fill="#686868"/>
<rect x="454.9" y="249.2" width="6.1" height="4.1" fill="#656565"/>
<rect x="460.9" y="249.2" width="6.1" height="4.1" fill="#616161"/>
<rect x="466.9" y="249.2" width="6.1" height="4.1" fill="#5c5c5c"/>
<rect x="472.9" y="249.2" width="6.1" height="4.1" fill="#585858"/>
<rect x="478.9" y="249.2" width="6.1" height="4.1" fill="#545454"/>
<rect x="484.9" y="249.2" width="6.1" height="4.1" fill="#525252"/>
<rect x="490.9" y="249.2" width="6.1" height="4.1" fill="#535353"/>
<rect x="496.9" y="249.2" width="6.1" height="4.1" fill="#555555"/>
<rect x="502.9" y="249.2" width="6.1" height="4.1" fill="#454545"/>
<rect x="508.9" y="249.2" width="6.1" height="4.1" fill="#494949"/>
<rect x="370.9" y="253.2" width="6.1" height="4.1" fill="#6c6c6c"/>
<rect x="376.9" y="253.2" width="6.1" height="4.1" fill="#6b6b6b"/>
<rect x="382.9" y="253.2" width="6.1" height="4.1" fill="#6a6a6a"/>
<rect x="388.9" y="253.2" width="6.1" height="4.1" fill="#696969"/>
<rect x="394.9" y="253.2" width="6.1" height="4.1" fill="#686868"/>
<rect x="400.9" y="253.2" width="6.1" height="4.1" fill="#686868"/>
<rect x="406.9" y="253.2" width="6.1" height="4.1" fill="#686868"/>
<rect x="412.9" y="253.2" width="6.1" height="4.1" fill="#696969"/>
<rect x="418.9" y="253.2" width="6.1" height="4.1" fill="#6a6a6a"/>
<rect x="424.9" y="253.2" width="6.1" height="4.1" fill="#6d6d6d"/>
<rect x="430.9" y="253.2" width="6.1" height="4.1" fill="#8d8d8d"/>
<rect x="436.9" y="253.2" width="6.1" height="4.1" fill="#969696"/>
<rect x="442.9" y="253.2" width="6.1" height="4.1" fill="#818181"/>
<rect x="448.9" y="253.2" width="6.1" height="4.1" fill="#686868"/>
<rect x="454.9" y="253.2" width="6.1" height="4.1" fill="#656565"/>
<rect x="460.9" y="253.2" width="6.1" height="4.1" fill="#606060"/>
<rect x="466.9" y="253.2" width="6.1" height="4.1" fill="#5c5c5c"/>
<rect x="472.9" y="253.2" width="6.1" height="4.1" fill="#575757"/>
<rect x="478.9" y="253.2" width="6.1" height="4.1" fill="#545454"/>
<rect x="484.9" y="253.2" width="6.1" height="4.1" fill="#525252"/>
<rect x="490.9" y="253.2" width="6.1" height="4.1" fill="#525252"/>
<rect x="496.9" y="253.2" width="6.1" height="4.1" fill="#545454"/>
<rect x="502.9" y="253.2" width="6.1" height="4.1" fill="#444444"/>
<rect x="508.9" y="253.2" width="6.1" height="4.1" fill="#494949"/>
<rect x="370.9" y="257.2" width="6.1" height="4.1" fill="#6d6d6d"/>
<rect x="376.9" y="257.2" width="6.1" height="4.1" fill="#6c6c6c"/>
<rect x="382.9" y="257.2" width="6.1" height="4.1" fill="#6b6b6b"/>
<rect x="388.9" y="257.2" width="6.1" height="4.1" fill="#6a6a6a"/>
<rect x="394.9" y="257.2" width="6.1" height="4.1" fill="#696969"/>
<rect x="400.9" y="257.2" width="6.1" height="4.1" fill="#696969"/>
<rect x="406.9" y="257.2" width="6.1" height="4.1" fill="#696969"/>
<rect x="412.9" y="257.2" width="6.1" height="4.1" fill="#6a6a6a"/>
<rect x="418.9" y="257.2" width="6.1" height="4.1" fill="#6b6b6b"/>
<rect x="424.9" y="257.2" width="6.1" height="4.1" fill="#6f6f6f"/>
<rect x="430.9" y="257.2" width="6.1" height="4.1" fill="#949494"/>
<rect x="436.9" y="257.2" width="6.1" height="4.1" fill="#999999"/>
<rect x="442.9" y="257.2" width="6.1" height="4.1" fill="#898989"/>
<rect x="448.9" y="257.2" width="6.1" height="4.1" fill="#696969"/>
<rect x="454.9" y="257.2" width="6.1" height="4.1" fill="#656565"/>
<rect x="460.9" y="257.2" width="6.1" height="4.1" fill="#616161"/>
<rect x="466.9" y="257.2" width="6.1" height="4.1" fill="#5c5c5c"/>
<rect x="472.9" y="257.2" width="6.1" height="4.1" fill="#585858"/>
<rect x="478.9" y="257.2" width="6.1" height="4.1" fill="#545454"/>
<rect x="484.9" y="257.2" width="6.1" height="4.1" fill="#535353"/>
<rect x="490.9" y="257.2" width="6.1" height="4.1" fill="#535353"/>
<rect x="496.9" y="257.2" width="6.1" height="4.1" fill="#555555"/>
<rect x="502.9" y="257.2" width="6.1" height="4.1" fill="#454545"/>
<rect x="508.9" y="257.2" width="6.1" height="4.1" fill="#494949"/>
<rect x="370.9" y="261.2" width="6.1" height="4.1" fill="#6d6d6d"/>
<rect x="376.9" y="261.2" width="6.1" height="4.1" fill="#6c6c6c"/>
<rect x="382.9" y="261.2" width="6.1" height="4.1" fill="#6c6c6c"/>
<rect x="388.9" y="261.2" width="6.1" height="4.1" fill="#6b6b6b"/>
<rect x="394.9" y="261.2" width="6.1" height="4.1" fill="#6b6b6b"/>
<rect x="400.9" y="261.2" width="6.1" height="4.1" fill="#6a6a6a"/>
<rect x="406.9" y="261.2" width="6.1" height="4.1" fill="#6a6a6a"/>
<rect x="412.9" y="261.2" width="6.1" height="4.1" fill="#6b6b6b"/>
<rect x="418.9" y="261.2" width="6.1" height="4.1" fill="#6b6b6b"/>
<rect x="424.9" y="261.2" width="6.1" height="4.1" fill="#707070"/>
<rect x="430.9" y="261.2" width="6.1" height="4.1" fill="#959595"/>
<rect x="436.9" y="261.2" width="6.1" height="4.1" fill="#9a9a9a"/>
<rect x="442.9" y="261.2" width="6.1" height="4.1" fill="#8b8b8b"/>
<rect x="448.9" y="261.2" width="6.1" height="4.1" fill="#696969"/>
<rect x="454.9" y="261.2" width="6.1" height="4.1" fill="#666666"/>
<rect x="460.9" y="261.2" width="6.1" height="4.1" fill="#626262"/>
<rect x="466.9" y="261.2" width="6.1" height="4.1" fill="#5e5e5e"/>
<rect x="472.9" y="261.2" width="6.1" height="4.1" fill="#595959"/>
<rect x="478.9" y="261.2" width="6.1" height="4.1" fill="#565656"/>
<rect x="484.9" y="261.2" width="6.1" height="4.1" fill="#555555"/>
<rect x="490.9" y="261.2" width="6.1" height="4.1" fill="#555555"/>
<rect x="496.9" y="261.2" width="6.1" height="4.1" fill="#575757"/>
<rect x="502.9" y="261.2" width="6.1" height="4.1" fill="#464646"/>
<rect x="508.9" y="261.2" width="6.1" height="4.1" fill="#4a4a4a"/>
<rect x="370.9" y="265.2" width="6.1" height="4.1" fill="#6d6d6d"/>
<rect x="376.9" y="265.2" width="6.1" height="4.1" fill="#6d6d6d"/>
<rect x="382.9" y="265.2" width="6.1" height="4.1" fill="#6c6c6c"/>
<rect x="388.9" y="265.2" width="6.1" height="4.1" fill="#6c6c6c"/>
<rect x="394.9" y="265.2" width="6.1" height="4.1" fill="#6c6c6c"/>
<rect x="400.9" y="265.2" width="6.1" height="4.1" fill="#6b6b6b"/>
<rect x="406.9" y="265.2" width="6.1" height="4.1" fill="#6b6b6b"/>
<rect x="412.9" y="265.2" width="6.1" height="4.1" fill="#6c6c6c"/>
<rect x="418.9" y="265.2" width="6.1" height="4.1" fill="#6c6c6c"/>
<rect x="424.9" y="265.2" width="6.1" height="4.1" fill="#6f6f6f"/>
<rect x="430.9" y="265.2" width="6.1" height="4.1" fill="#929292"/>
<rect x="436.9" y="265.2" width="6.1" height="4.1" fill="#999999"/>
<rect x="442.9" y="265.2" width="6.1" height="4.1" fill="#868686"/>
<rect x="448.9" y="265.2" width="6.1" height="4.1" fill="#6a6a6a"/>
<rect x="454.9" y="265.2" width="6.1" height="4.1" fill="#676767"/>
<rect x="460.9" y="265.2" width="6.1" height="4.1" fill="#636363"/>
<rect x="466.9" y="265.2" width="6.1" height="4.1" fill="#606060"/>
<rect x="472.9" y="265.2" width="6.1" height="4.1" fill="#5c5c5c"/>
<rect x="478.9" y="265.2" width="6.1" height="4.1" fill="#595959"/>
<rect x="484.9" y="265.2" width="6.1" height="4.1" fill="#585858"/>
<rect x="490.9" y="265.2" width="6.1" height="4.1" fill="#585858"/>
<rect x="496.9" y="265.2" width="6.1" height="4.1" fill="#5a5a5a"/>
<rect x="502.9" y="265.2" width="6.1" height="4.1" fill="#494949"/>
<rect x="508.9" y="265.2" width="6.1" height="4.1" fill="#4c4c4c"/>
<rect x="370.9" y="269.2" width="6.1" height="4.1" fill="#6d6d6d"/>
<rect x="376.9" y="269.2" width="6.1" height="4.1" fill="#6d6d6d"/>
<rect x="382.9" y="269.2" width="6.1" height="4.1" fill="#6d6d6d"/>
<rect x="388.9" y="269.2" width="6.1" height="4.1" fill="#6d6d6d"/>
<rect x="394.9" y="269.2" width="6.1" height="4.1" fill="#6c6c6c"/>
<rect x="400.9" y="269.2" width="6.1" height="4.1" fill="#6c6c6c"/>
<rect x="406.9" y="269.2" width="6.1" height="4.1" fill="#6c6c6c"/>
<rect x="412.9" y="269.2" width="6.1" height="4.1" fill="#6c6c6c"/>
<rect x="418.9" y="269.2" width="6.1" height="4.1" fill="#6d6d6d"/>
<rect x="424.9" y="269.2" width="6.1" height="4.1" fill="#6e6e6e"/>
<rect x="430.9" y="269.2" width="6.1" height="4.1" fill="#878787"/>
<rect x="436.9" y="269.2" width="6.1" height="4.1" fill="#929292"/>
<rect x="442.9" y="269.2" width="6.1" height="4.1" fill="#7c7c7c"/>
<rect x="448.9" y="269.2" width="6.1" height="4.1" fill="#6a6a6a"/>
<rect x="454.9" y="269.2" width="6.1" height="4.1" fill="#686868"/>
<rect x="460.9" y="269.2" width="6.1" height="4.1" fill="#656565"/>
<rect x="466.9" y="269.2" width="6.1" height="4.1" fill="#626262"/>
<rect x="472.9" y="269.2" width="6.1" height="4.1" fill="#5f5f5f"/>
<rect x="478.9" y="269.2" width="6.1" height="4.1" fill="#5d5d5d"/>
<rect x="484.9" y="269.2" width="6.1" height="4.1" fill="#5b5b5b"/>
<rect x="490.9" y="269.2" width="6.1" height="4.1" fill="#5c5c5c"/>
<rect x="496.9" y="269.2" width="6.1" height="4.1" fill="#5d5d5d"/>
<rect x="502.9" y="269.2" width="6.1" height="4.1" fill="#4b4b4b"/>
<rect x="508.9" y="269.2" width="6.1" height="4.1" fill="#4e4e4e"/>
<rect x="370.9" y="273.2" width="6.1" height="4.1" fill="#6d6d6d"/>
<rect x="376.9" y="273.2" width="6.1" height="4.1" fill="#6d6d6d"/>
<rect x="382.9" y="273.2" width="6.1" height="4.1" fill="#6d6d6d"/>
<rect x="388.9" y="273.2" width="6.1" height="4.1" fill="#6d6d6d"/>
<rect x="394.9" y="273.2" width="6.1" height="4.1" fill="#6d6d6d"/>
<rect x="400.9" y="273.2" width="6.1" height="4.1" fill="#6d6d6d"/>
<rect x="406.9" y="273.2" width="6.1" height="4.1" fill="#6d6d6d"/>
<rect x="412.9" y="273.2" width="6.1" height="4.1" fill="#6d6d6d"/>
<rect x="418.9" y="273.2" width="6.1" height="4.1" fill="#6d6d6d"/>
<rect x="424.9" y="273.2" width="6.1" height="4.1" fill="#6d6d6d"/>
<rect x="430.9" y="273.2" width="6.1" height="4.1" fill="#787878"/>
<rect x="436.9" y="273.2" width="6.1" height="4.1" fill="#818181"/>
<rect x="442.9" y="273.2" width="6.1" height="4.1" fill="#717171"/>
<rect x="448.9" y="273.2" width="6.1" height="4.1" fill="#6b6b6b"/>
<rect x="454.9" y="273.2" width="6.1" height="4.1" fill="#696969"/>
<rect x="460.9" y="273.2" width="6.1" height="4.1" fill="#676767"/>
<rect x="466.9" y="273.2" width="6.1" height="4.1" fill="#646464"/>
<rect x="472.9" y="273.2" width="6.1" height="4.1" fill="#626262"/>
<rect x="478.9" y="273.2" width="6.1" height="4.1" fill="#606060"/>
<rect x="484.9" y="273.2" width="6.1" height="4.1" fill="#5f5f5f"/>
<rect x="490.9" y="273.2" width="6.1" height="4.1" fill="#5f5f5f"/>
<rect x="496.9" y="273.2" width="6.1" height="4.1" fill="#616161"/>
<rect x="502.9" y="273.2" width="6.1" height="4.1" fill="#4e4e4e"/>
<rect x="508.9" y="273.2" width="6.1" height="4.1" fill="#515151"/>
<rect x="370.9" y="277.2" width="6.1" height="4.1" fill="#6e6e6e"/>
<rect x="376.9" y="277.2" width="6.1" height="4.1" fill="#6e6e6e"/>
<rect x="382.9" y="277.2" width="6.1" height="4.1" fill="#6d6d6d"/>
<rect x="388.9" y="277.2" width="6.1" height="4.1" fill="#6d6d6d"/>
<rect x="394.9" y="277.2" width="6.1" height="4.1" fill="#6d6d6d"/>
<rect x="400.9" y="277.2" width="6.1" height="4.1" fill="#6d6d6d"/>
<rect x="406.9" y="277.2" width="6.1" height="4.1" fill="#6d6d6d"/>
<rect x="412.9" y="277.2" width="6.1" height="4.1" fill="#6d6d6d"/>
<rect x="418.9" y="277.2" width="6.1" height="4.1" fill="#6d6d6d"/>
<rect x="424.9" y="277.2" width="6.1" height="4.1" fill="#6d6d6d"/>
<rect x="430.9" y="277.2" width="6.1" height="4.1" fill="#6f6f6f"/>
<rect x="436.9" y="277.2" width="6.1" height="4.1" fill="#717171"/>
<rect x="442.9" y="277.2" width="6.1" height="4.1" fill="#6d6d6d"/>
<rect x="448.9" y="277.2" width="6.1" height="4.1" fill="#6b6b6b"/>
<rect x="454.9" y="277.2" width="6.1" height="4.1" fill="#6a6a6a"/>
<rect x="460.9" y="277.2" width="6.1" height="4.1" fill="#686868"/>
<rect x="466.9" y="277.2" width="6.1" height="4.1" fill="#676767"/>
<rect x="472.9" y="277.2" width="6.1" height="4.1" fill="#656565"/>
<rect x="478.9" y="277.2" width="6.1" height="4.1" fill="#636363"/>
<rect x="484.9" y="277.2" width="6.1" height="4.1" fill="#636363"/>
<rect x="490.9" y="277.2" width="6.1" height="4.1" fill="#636363"/>
<rect x="496.9" y="277.2" width="6.1" height="4.1" fill="#646464"/>
<rect x="502.9" y="277.2" width="6.1" height="4.1" fill="#515151"/>
<rect x="508.9" y="277.2" width="6.1" height="4.1" fill="#535353"/>
<rect x="376" y="225.8" width="132" height="1.4" fill="#222" opacity="0.7"/><rect x="376" y="149.6" width="132" height="0.8" fill="#222" opacity="0.3"/><rect x="376" y="154" width="132" height="0.8" fill="#222" opacity="0.3"/><rect x="376" y="171.6" width="132" height="0.9" fill="#222" opacity="0.35"/>
</g></g>
<text y="165.6" font-size="14" font-weight="bold" fill="#fff" font-family="'Liberation Serif','Times New Roman',serif"><tspan x="59.2" textLength="41.6" lengthAdjust="spacingAndGlyphs">528mV</tspan><tspan x="104.8" textLength="7.6" lengthAdjust="spacingAndGlyphs" font-size="18.5">±</tspan><tspan x="113.2" textLength="40.2" lengthAdjust="spacingAndGlyphs">17 mV</tspan></text>
<text y="165.8" font-size="14" font-weight="bold" fill="#fff" font-family="'Liberation Serif','Times New Roman',serif"><tspan x="229.8" textLength="42.0" lengthAdjust="spacingAndGlyphs">299mV</tspan><tspan x="274.8" textLength="6.6" lengthAdjust="spacingAndGlyphs" font-size="18.5">±</tspan><tspan x="282.3" textLength="41.1" lengthAdjust="spacingAndGlyphs">24 mV</tspan></text>
<text y="165.8" font-size="14" font-weight="bold" fill="#fff" font-family="'Liberation Serif','Times New Roman',serif"><tspan x="397.2" textLength="42.6" lengthAdjust="spacingAndGlyphs">611mV</tspan><tspan x="442.0" textLength="6.8" lengthAdjust="spacingAndGlyphs" font-size="18.5">±</tspan><tspan x="449.9" textLength="40.9" lengthAdjust="spacingAndGlyphs">51 mV</tspan></text>
<linearGradient id="gd" x1="0" y1="0" x2="0" y2="1">
<stop offset="0.00" stop-color="#fffcf4"/>
<stop offset="0.10" stop-color="#fbf0da"/>
<stop offset="0.20" stop-color="#eed6a6"/>
<stop offset="0.30" stop-color="#daac62"/>
<stop offset="0.40" stop-color="#c58636"/>
<stop offset="0.50" stop-color="#a6581e"/>
<stop offset="0.60" stop-color="#7e280e"/>
<stop offset="0.70" stop-color="#541206"/>
<stop offset="0.80" stop-color="#280602"/>
<stop offset="0.90" stop-color="#0a0000"/>
<stop offset="1.00" stop-color="#000000"/>
</linearGradient>
<rect x="187.40" y="177.30" width="8.20" height="63.90" fill="url(#gd)" stroke="#1a1a1a" stroke-width="0.9"/>
<text x="174.00" y="175.90" font-size="7.30" fill="#111" font-family="'Liberation Sans',Arial,sans-serif" textLength="32.0" lengthAdjust="spacingAndGlyphs">584.4 mV</text>
<text x="174.00" y="247.90" font-size="7.30" fill="#111" font-family="'Liberation Sans',Arial,sans-serif" textLength="32.0" lengthAdjust="spacingAndGlyphs">468.1 mV</text>
<linearGradient id="ge" x1="0" y1="0" x2="0" y2="1">
<stop offset="0.00" stop-color="#fffcf4"/>
<stop offset="0.10" stop-color="#fbf0da"/>
<stop offset="0.20" stop-color="#eed6a6"/>
<stop offset="0.30" stop-color="#daac62"/>
<stop offset="0.40" stop-color="#c58636"/>
<stop offset="0.50" stop-color="#a6581e"/>
<stop offset="0.60" stop-color="#7e280e"/>
<stop offset="0.70" stop-color="#541206"/>
<stop offset="0.80" stop-color="#280602"/>
<stop offset="0.90" stop-color="#0a0000"/>
<stop offset="1.00" stop-color="#000000"/>
</linearGradient>
<rect x="354.90" y="177.30" width="8.30" height="63.70" fill="url(#ge)" stroke="#1a1a1a" stroke-width="0.9"/>
<text x="342.10" y="175.60" font-size="7.30" fill="#111" font-family="'Liberation Sans',Arial,sans-serif" textLength="32.4" lengthAdjust="spacingAndGlyphs">382.4 mV</text>
<text x="342.10" y="247.30" font-size="7.30" fill="#111" font-family="'Liberation Sans',Arial,sans-serif" textLength="32.4" lengthAdjust="spacingAndGlyphs">210.9 mV</text>
<linearGradient id="gf" x1="0" y1="0" x2="0" y2="1">
<stop offset="0.00" stop-color="#fffcf4"/>
<stop offset="0.10" stop-color="#fbf0da"/>
<stop offset="0.20" stop-color="#eed6a6"/>
<stop offset="0.30" stop-color="#daac62"/>
<stop offset="0.40" stop-color="#c58636"/>
<stop offset="0.50" stop-color="#a6581e"/>
<stop offset="0.60" stop-color="#7e280e"/>
<stop offset="0.70" stop-color="#541206"/>
<stop offset="0.80" stop-color="#280602"/>
<stop offset="0.90" stop-color="#0a0000"/>
<stop offset="1.00" stop-color="#000000"/>
</linearGradient>
<rect x="524.60" y="176.40" width="8.00" height="64.00" fill="url(#gf)" stroke="#1a1a1a" stroke-width="0.9"/>
<text x="511.10" y="174.80" font-size="7.30" fill="#111" font-family="'Liberation Sans',Arial,sans-serif" textLength="32.5" lengthAdjust="spacingAndGlyphs">825.5 mV</text>
<text x="511.10" y="245.20" font-size="7.30" fill="#111" font-family="'Liberation Sans',Arial,sans-serif" textLength="32.5" lengthAdjust="spacingAndGlyphs">426.9 mV</text>
<line x1="476" y1="273.2" x2="500" y2="273.2" stroke="#ddd" stroke-width="0.8"/>
<linearGradient id="gbar" x1="0" y1="0" x2="0" y2="1"><stop offset="0" stop-color="#d4def2"/><stop offset="0.35" stop-color="#f2d0da"/><stop offset="0.7" stop-color="#f48a94"/><stop offset="1" stop-color="#f04048"/></linearGradient>
<rect x="87.2" y="312.6" width="5.6" height="72.6" fill="url(#gbar)"/>
<text x="94.60" y="317.50" font-size="5.60" font-weight="bold" fill="#000" font-family="'Liberation Serif','Times New Roman',serif" textLength="10.8" lengthAdjust="spacingAndGlyphs">Low</text>
<text x="94.60" y="383.70" font-size="5.60" font-weight="bold" fill="#000" font-family="'Liberation Serif','Times New Roman',serif" textLength="12.4" lengthAdjust="spacingAndGlyphs">High</text>
<line x1="21.8" y1="349.3" x2="37.5" y2="349.3" stroke="#8c3acc" stroke-width="1.35"/>
<line x1="21.8" y1="351.7" x2="37.5" y2="351.7" stroke="#8c3acc" stroke-width="1.35"/>
<line x1="21.8" y1="354.2" x2="37.5" y2="354.2" stroke="#8c3acc" stroke-width="1.35"/>
<line x1="21.8" y1="356.8" x2="37.5" y2="356.8" stroke="#8c3acc" stroke-width="1.35"/>
<path d="M22.5,368 C24.5,370.5 26,373 27.3,372.6 C29,372 29.5,368 31.4,368 C33.5,368 35,369.5 36.8,370.2" fill="none" stroke="#8a8a8a" stroke-width="1.1"/>
<text x="64.40" y="350.60" font-size="6.20" font-weight="bold" text-anchor="middle" fill="#000" font-family="'Liberation Serif','Times New Roman',serif" textLength="38.9" lengthAdjust="spacingAndGlyphs">Crystallization</text>
<text x="64.80" y="357.70" font-size="6.20" font-weight="bold" text-anchor="middle" fill="#000" font-family="'Liberation Serif','Times New Roman',serif" textLength="21.8" lengthAdjust="spacingAndGlyphs">segment</text>
<text x="65.30" y="369.10" font-size="6.20" font-weight="bold" text-anchor="middle" fill="#000" font-family="'Liberation Serif','Times New Roman',serif" textLength="31.0" lengthAdjust="spacingAndGlyphs">Amorphous</text>
<text x="65.30" y="375.70" font-size="6.20" font-weight="bold" text-anchor="middle" fill="#000" font-family="'Liberation Serif','Times New Roman',serif" textLength="21.5" lengthAdjust="spacingAndGlyphs">segment</text>
<radialGradient id="gL" cx="202" cy="346" r="88" gradientUnits="userSpaceOnUse" gradientTransform="translate(202 346) scale(1 0.78) translate(-202 -346)"><stop offset="0" stop-color="#c4c4ec"/><stop offset="0.3" stop-color="#d8b8da"/><stop offset="0.6" stop-color="#ee8c9a"/><stop offset="0.85" stop-color="#f2686c"/><stop offset="1" stop-color="#f25a5c"/></radialGradient>
<linearGradient id="gR" x1="0" y1="0" x2="0" y2="1"><stop offset="0" stop-color="#d6d2ee"/><stop offset="0.3" stop-color="#eacdda"/><stop offset="0.55" stop-color="#f4a8b0"/><stop offset="0.76" stop-color="#f2666e"/><stop offset="1" stop-color="#f04a52"/></linearGradient>
<rect x="96.0" y="390.8" width="193.2" height="5.2" fill="#fbe690" stroke="#6b6a55" stroke-width="0.7"/>
<rect x="109.4" y="385.3" width="167.8" height="5.4" fill="#d6e2f6" stroke="#6878a8" stroke-width="0.7"/>
<rect x="311.2" y="390.8" width="194.8" height="5.2" fill="#fbe690" stroke="#6b6a55" stroke-width="0.7"/>
<rect x="324.0" y="385.3" width="168.0" height="5.4" fill="#d6e2f6" stroke="#6878a8" stroke-width="0.7"/>
<rect x="113.9" y="312.8" width="157.9" height="72.3" fill="url(#gL)" stroke="#9aa2c8" stroke-width="0.8"/>
<rect x="329.0" y="312.5" width="158.5" height="72.8" fill="url(#gR)" stroke="#a6acc8" stroke-width="0.8"/>
<clipPath id="cL"><rect x="114.3" y="313.2" width="157.1" height="71.5"/></clipPath>
<clipPath id="cR"><rect x="329.4" y="312.9" width="157.7" height="72"/></clipPath>
<g clip-path="url(#cL)"><g fill="none" stroke="#a9abab" stroke-width="1.1" stroke-linecap="round" stroke-linejoin="round"><path d="M157.8,333.5C157.5,333.4 156.6,332.5 156.0,332.4C155.5,332.2 154.9,332.3 154.5,332.6C154.1,333.0 154.0,333.9 153.6,334.4C153.3,335.0 153.0,335.7 152.6,335.8C152.1,335.9 151.5,335.5 151.0,335.2C150.5,334.9 149.9,334.2 149.4,334.0C148.9,333.8 148.4,333.9 148.0,334.2C147.6,334.5 147.2,335.5 146.9,336.0C146.5,336.5 146.1,337.0 145.7,337.1C145.2,337.2 144.6,336.7 144.1,336.4C143.5,336.2 142.8,335.5 142.3,335.5C141.8,335.4 141.3,335.8 140.9,336.3C140.6,336.7 140.5,337.8 140.3,338.4C140.1,339.0 139.9,339.5 139.5,339.7C139.0,339.9 138.0,339.5 137.7,339.5"/><path d="M176.0,323.0C176.3,322.9 177.4,322.8 177.7,322.4C178.1,322.1 178.0,321.4 177.9,320.9C177.9,320.3 177.4,319.6 177.6,319.2C177.8,318.8 178.7,318.7 179.1,318.4C179.5,318.1 180.1,317.9 180.2,317.4C180.4,317.0 179.8,316.1 179.9,315.7C180.0,315.2 180.4,314.8 180.8,314.6C181.3,314.4 182.3,314.7 182.7,314.4C183.1,314.1 183.0,313.5 183.1,313.0C183.3,312.5 183.2,311.7 183.6,311.5C184.0,311.2 184.9,311.6 185.4,311.6C185.9,311.6 186.3,311.6 186.7,311.4C187.1,311.1 187.4,310.1 187.5,309.9"/><path d="M159.2,336.0C159.1,336.2 158.9,336.9 158.5,337.2C158.0,337.5 156.8,337.4 156.5,337.8C156.2,338.2 156.7,339.0 156.8,339.5C156.9,340.1 157.4,340.8 157.2,341.2C156.9,341.6 155.6,341.6 155.2,342.0C154.8,342.4 154.7,342.8 154.8,343.4C154.9,343.9 155.9,344.7 155.9,345.2C155.9,345.7 154.8,346.1 154.6,346.3"/><path d="M177.4,325.5C177.6,325.8 178.1,326.9 178.5,327.0C179.0,327.1 179.5,326.6 180.1,326.3C180.6,325.9 181.3,325.1 181.8,325.0C182.3,324.9 182.6,325.2 183.0,325.6C183.4,326.0 183.8,327.1 184.2,327.5C184.7,327.8 185.3,327.9 185.7,327.6C186.2,327.4 186.8,326.1 187.0,325.8"/><path d="M160.6,338.5C160.4,338.6 159.6,339.3 159.1,339.2C158.7,339.0 158.3,338.1 157.9,337.7C157.5,337.3 157.0,336.8 156.6,336.9C156.1,337.0 155.5,337.9 155.0,338.1C154.5,338.3 153.9,338.4 153.5,338.2C153.1,337.9 152.9,336.8 152.6,336.3C152.2,335.9 151.9,335.6 151.4,335.6C150.9,335.6 150.1,336.4 149.6,336.5C149.0,336.6 148.6,336.5 148.2,336.1C147.9,335.7 147.8,334.5 147.5,334.1C147.1,333.7 146.7,333.7 146.2,333.7C145.7,333.8 144.8,334.5 144.3,334.5C143.8,334.4 143.5,333.9 143.2,333.4C143.0,332.9 143.2,331.8 142.9,331.4C142.6,331.0 142.1,331.0 141.5,331.0C140.9,331.0 139.9,331.2 139.6,331.2"/><path d="M178.8,328.0C179.0,327.9 179.9,327.6 180.1,327.2C180.4,326.9 180.4,326.3 180.5,325.8C180.6,325.2 180.5,324.5 180.7,324.1C180.9,323.6 181.2,323.2 181.6,323.0C182.1,322.8 182.8,322.8 183.3,322.7C183.9,322.5 184.4,322.4 184.8,322.1C185.1,321.8 185.2,321.3 185.4,320.7C185.5,320.2 185.5,319.5 185.8,319.1C186.0,318.6 186.3,318.3 186.8,318.1C187.2,317.9 188.0,318.1 188.5,317.9C189.0,317.8 189.6,317.7 189.9,317.4C190.3,317.1 190.3,316.5 190.5,315.9C190.6,315.4 190.5,314.7 190.7,314.2C190.9,313.8 191.4,313.4 191.6,313.2"/><path d="M162.0,341.0C161.8,341.1 161.2,341.4 160.8,341.8C160.5,342.3 160.3,343.5 159.9,343.7C159.5,343.8 158.7,343.0 158.2,342.8C157.6,342.5 157.1,342.1 156.6,342.3C156.1,342.5 155.9,343.9 155.4,344.1C154.9,344.4 154.2,344.2 153.7,343.9C153.3,343.5 153.0,342.2 152.5,341.9C152.0,341.7 151.5,342.3 150.9,342.5C150.3,342.6 149.4,343.1 149.0,342.8C148.6,342.5 148.8,341.1 148.5,340.6C148.3,340.0 148.0,339.7 147.5,339.6C147.0,339.5 145.8,340.2 145.3,340.1C144.9,339.9 144.9,339.2 144.7,338.7C144.5,338.1 144.7,337.0 144.3,336.8C143.9,336.5 142.7,337.1 142.3,337.1"/><path d="M180.2,330.5C180.5,330.6 181.6,331.1 182.1,331.1C182.7,331.1 183.1,331.1 183.5,330.7C183.8,330.3 183.7,329.1 184.1,328.8C184.4,328.5 185.1,328.8 185.6,329.0C186.1,329.2 186.7,330.0 187.1,330.0C187.5,329.9 187.8,328.8 188.2,328.5C188.6,328.2 189.1,328.0 189.5,328.2C189.9,328.5 190.2,329.7 190.6,330.0C191.0,330.3 191.4,330.0 191.9,329.8C192.4,329.7 193.3,329.2 193.6,329.0"/><path d="M128.2,334.5C128.0,334.4 127.1,334.2 126.8,333.8C126.6,333.4 126.8,332.6 126.8,332.0C126.7,331.4 126.9,330.5 126.6,330.1C126.4,329.7 125.8,329.5 125.2,329.4C124.6,329.4 123.7,329.7 123.2,329.7C122.6,329.6 122.1,329.5 121.8,329.1C121.5,328.7 121.6,327.9 121.5,327.3C121.5,326.7 121.6,325.9 121.4,325.5C121.1,325.1 120.6,325.0 120.0,324.9C119.5,324.8 118.4,324.9 118.0,324.9"/><path d="M144.3,348.0C144.4,348.3 144.5,349.5 144.8,349.9C145.1,350.3 145.5,350.3 146.1,350.3C146.6,350.3 147.5,349.9 148.1,349.9C148.7,349.9 149.2,350.0 149.4,350.5C149.7,350.9 149.6,351.8 149.6,352.5C149.7,353.1 149.5,353.8 149.8,354.2C150.0,354.6 150.7,354.5 151.2,354.7C151.8,354.8 152.8,354.7 153.2,355.0C153.6,355.3 153.9,355.8 153.8,356.4C153.7,356.9 153.0,357.7 152.8,358.3C152.6,358.8 152.3,359.3 152.5,359.8C152.7,360.2 153.4,360.4 153.9,360.8C154.4,361.2 155.2,361.6 155.3,362.1C155.4,362.5 155.1,363.1 154.7,363.6C154.3,364.0 153.3,364.6 153.0,364.8"/><path d="M126.4,336.7C126.1,336.6 124.8,336.7 124.5,336.3C124.2,336.0 124.7,335.0 124.6,334.5C124.5,334.0 124.5,333.4 124.0,333.1C123.6,332.9 122.4,333.2 122.0,332.9C121.6,332.7 121.7,332.0 121.6,331.5C121.6,331.0 121.9,330.0 121.5,329.8C121.1,329.5 120.0,329.9 119.5,329.7C119.0,329.6 118.7,329.5 118.4,329.1C118.1,328.6 118.3,327.5 117.9,327.2C117.6,327.0 116.8,327.4 116.3,327.6C115.7,327.8 115.3,328.4 114.8,328.3C114.4,328.2 114.0,327.0 113.6,326.9C113.1,326.8 112.5,327.1 112.2,327.6C111.9,328.0 111.7,329.1 111.7,329.4"/><path d="M142.5,350.2C142.7,350.2 143.7,350.3 144.1,350.5C144.6,350.7 145.0,350.9 145.3,351.3C145.5,351.6 145.6,352.3 145.8,352.7C146.0,353.2 146.1,353.8 146.5,354.1C146.9,354.4 147.4,354.4 147.9,354.5C148.5,354.5 149.1,354.2 149.6,354.3C150.1,354.3 150.5,354.5 150.8,354.8C151.2,355.1 151.4,355.8 151.8,356.1C152.1,356.4 152.8,356.7 153.0,356.8"/><path d="M124.5,338.8C124.5,338.6 124.2,338.0 124.4,337.4C124.6,336.9 125.7,336.0 125.8,335.5C125.9,334.9 125.5,334.5 125.0,334.2C124.5,333.9 123.1,333.9 122.7,333.6C122.3,333.2 122.3,332.7 122.5,332.1C122.8,331.6 123.9,330.8 124.1,330.3C124.2,329.9 123.9,329.6 123.5,329.2C123.1,328.9 121.8,328.5 121.5,328.1C121.3,327.7 121.6,327.2 122.0,326.7C122.4,326.3 123.8,325.9 124.0,325.4C124.3,325.0 123.9,324.4 123.5,323.9C123.2,323.5 121.9,323.0 121.7,322.5C121.5,322.0 121.9,321.6 122.2,321.1C122.6,320.6 123.9,320.1 124.0,319.6C124.2,319.1 123.4,318.4 123.3,318.2"/><path d="M140.6,352.3C141.0,352.2 142.5,351.4 143.1,351.5C143.6,351.6 143.9,352.3 144.0,352.9C144.0,353.6 143.2,355.0 143.3,355.5C143.5,356.0 144.2,355.9 144.9,356.1C145.5,356.3 146.9,356.1 147.2,356.5C147.5,356.9 146.9,357.9 146.6,358.5C146.4,359.2 145.4,360.0 145.6,360.4C145.7,360.9 147.0,361.0 147.6,361.3C148.2,361.7 148.8,362.4 149.1,362.6"/><path d="M122.7,341.0C122.4,341.0 121.4,341.1 120.8,341.1C120.2,341.0 119.4,341.0 119.1,340.7C118.8,340.3 118.9,339.5 118.8,339.0C118.8,338.4 119.0,337.5 118.7,337.1C118.4,336.7 117.8,336.8 117.2,336.7C116.6,336.6 115.6,336.9 115.2,336.6C114.8,336.4 114.6,335.7 114.5,335.2C114.5,334.6 114.7,333.5 114.8,333.1"/><path d="M138.8,354.5C138.8,354.8 139.1,355.4 138.9,355.9C138.7,356.4 137.8,357.0 137.6,357.5C137.4,358.0 137.3,358.5 137.6,358.9C137.8,359.4 138.8,359.7 139.2,360.1C139.6,360.5 140.0,361.0 139.9,361.4C139.8,361.9 139.0,362.5 138.7,363.0C138.4,363.5 138.0,364.1 138.1,364.5C138.3,365.0 139.1,365.4 139.6,365.8C140.0,366.2 140.8,366.5 140.9,366.9C141.1,367.4 140.5,368.2 140.4,368.5"/><path d="M185.6,340.7C185.6,340.3 185.7,339.0 185.4,338.6C185.1,338.2 184.5,338.4 183.9,338.4C183.3,338.4 182.3,338.9 181.9,338.6C181.5,338.3 181.7,337.4 181.5,336.8C181.4,336.2 181.5,335.4 181.1,335.1C180.7,334.9 179.7,335.4 179.1,335.4C178.5,335.3 177.9,335.0 177.6,334.9"/><path d="M204.6,349.6C204.9,349.7 205.5,350.1 206.1,350.2C206.8,350.4 208.0,350.2 208.4,350.5C208.8,350.8 208.4,351.5 208.3,352.1C208.2,352.7 207.5,353.8 207.7,354.2C207.9,354.7 208.8,354.7 209.4,354.8C210.0,355.0 211.2,354.9 211.5,355.2C211.8,355.6 211.3,356.4 211.2,357.0C211.0,357.7 210.3,358.6 210.5,359.1C210.7,359.5 211.7,359.5 212.4,359.8C213.0,360.0 213.9,360.4 214.2,360.5"/><path d="M184.4,343.3C184.3,342.9 184.1,341.5 183.7,341.1C183.4,340.6 182.8,340.4 182.3,340.5C181.7,340.7 180.9,341.9 180.4,342.0C179.9,342.0 179.6,341.4 179.2,340.9C178.9,340.4 178.8,339.2 178.4,339.0C177.9,338.9 177.1,339.8 176.6,340.0C176.0,340.3 175.4,340.8 175.0,340.5C174.6,340.2 174.6,338.8 174.3,338.3C174.0,337.9 173.7,337.7 173.2,337.8C172.7,337.8 171.6,338.5 171.3,338.6"/><path d="M203.4,352.1C203.7,352.2 204.3,352.5 204.8,352.3C205.3,352.1 205.8,351.3 206.3,350.9C206.8,350.5 207.2,350.0 207.7,350.0C208.1,350.0 208.6,350.5 209.1,350.9C209.5,351.3 210.0,352.2 210.4,352.4C210.9,352.6 211.4,352.6 211.8,352.3C212.3,352.0 212.7,351.1 213.1,350.7C213.5,350.3 213.8,349.7 214.2,349.7C214.6,349.6 215.0,350.0 215.5,350.3C216.0,350.5 216.8,351.0 217.3,351.0C217.7,351.0 218.2,350.5 218.3,350.0C218.4,349.5 218.1,348.5 218.1,347.9C218.1,347.4 218.1,346.8 218.1,346.6"/><path d="M183.2,345.9C183.0,346.1 182.3,347.2 181.8,347.2C181.3,347.2 180.9,346.2 180.4,345.8C179.9,345.4 179.4,344.7 179.0,344.7C178.5,344.8 178.0,345.9 177.6,346.3C177.1,346.7 176.7,347.3 176.3,347.2C175.8,347.0 175.2,345.9 174.7,345.6C174.3,345.3 173.7,345.0 173.3,345.3C172.9,345.6 172.5,346.8 172.1,347.2C171.6,347.5 171.1,347.6 170.6,347.3C170.1,347.0 169.7,345.7 169.2,345.4C168.8,345.2 168.1,345.6 167.8,345.6"/><path d="M202.2,354.7C202.6,354.7 203.8,354.5 204.3,354.7C204.7,354.9 204.8,355.5 204.9,356.1C205.0,356.6 204.6,357.6 204.9,358.0C205.2,358.3 206.1,358.1 206.7,358.3C207.2,358.4 207.9,358.4 208.1,358.8C208.3,359.2 207.8,360.3 208.0,360.8C208.1,361.3 208.5,361.7 209.0,361.8C209.5,361.9 210.6,361.3 211.0,361.5C211.4,361.7 211.4,362.3 211.6,362.8C211.9,363.3 211.9,364.2 212.3,364.4C212.7,364.6 213.6,363.9 214.1,363.8C214.7,363.8 215.3,364.0 215.6,364.0"/><path d="M182.0,348.4C181.7,348.3 180.8,347.5 180.4,347.6C179.9,347.7 179.6,348.7 179.2,349.0C178.9,349.4 178.5,349.9 178.0,349.8C177.5,349.8 176.8,348.8 176.3,348.8C175.8,348.8 175.5,349.3 175.1,349.7C174.7,350.0 174.4,350.9 173.9,351.0C173.5,351.0 172.8,350.1 172.3,350.0C171.8,349.8 171.3,349.6 170.9,349.9C170.5,350.1 170.2,351.3 169.7,351.5C169.3,351.7 168.8,351.3 168.3,351.1C167.7,350.9 167.1,350.2 166.6,350.4C166.2,350.5 166.0,351.7 165.6,352.0C165.2,352.4 164.8,352.7 164.3,352.6C163.8,352.6 162.8,351.9 162.5,351.8"/><path d="M201.0,357.3C201.3,357.3 202.5,356.9 202.9,357.2C203.2,357.5 203.0,358.6 203.0,359.3C203.1,359.9 202.8,360.9 203.2,361.1C203.6,361.4 204.6,361.0 205.3,360.9C205.9,360.9 206.8,360.6 207.1,361.0C207.5,361.3 207.1,362.4 207.2,363.0C207.4,363.6 207.4,364.6 207.9,364.7C208.4,364.9 209.4,364.1 210.0,363.8C210.6,363.5 211.2,362.9 211.6,363.0C212.1,363.2 212.3,364.3 212.6,364.8C213.0,365.3 213.4,366.2 213.9,366.2C214.4,366.1 215.0,365.1 215.5,364.6C216.0,364.2 216.4,363.4 216.8,363.4C217.3,363.5 217.8,364.5 218.3,365.0C218.8,365.4 219.5,365.8 219.8,366.0"/><path d="M222.4,320.8C222.3,321.1 222.0,322.5 221.6,322.8C221.2,323.1 220.6,322.8 220.1,322.6C219.5,322.5 218.7,321.7 218.3,321.9C217.9,322.0 217.8,323.1 217.6,323.6C217.3,324.1 217.3,324.8 216.8,324.9C216.4,325.1 215.4,324.4 214.9,324.4C214.4,324.5 214.0,324.9 213.9,325.4C213.8,325.9 214.3,327.1 214.4,327.5"/><path d="M243.1,324.4C243.3,324.2 244.1,323.2 244.6,323.1C245.0,323.0 245.5,323.3 245.9,323.7C246.4,324.1 246.8,325.2 247.2,325.5C247.7,325.7 248.1,325.7 248.6,325.5C249.1,325.2 249.6,324.2 250.1,323.9C250.6,323.7 251.2,323.5 251.6,323.7C252.1,324.0 252.4,325.0 252.8,325.4C253.2,325.8 253.7,326.4 254.2,326.4C254.6,326.3 255.2,325.6 255.6,325.1C256.1,324.6 256.4,323.8 256.8,323.6C257.2,323.4 257.6,323.8 258.1,324.0C258.7,324.2 259.5,324.8 260.0,324.7C260.5,324.6 260.8,324.2 261.0,323.6C261.2,323.1 261.0,322.0 261.2,321.4C261.3,320.9 261.5,320.6 262.0,320.4C262.5,320.3 263.7,320.5 264.1,320.5"/><path d="M221.9,323.6C221.8,323.2 221.9,321.7 221.5,321.4C221.1,321.1 220.3,321.6 219.7,321.7C219.1,321.9 218.2,322.4 217.8,322.1C217.5,321.8 217.7,320.6 217.5,320.0C217.3,319.5 217.2,318.7 216.7,318.6C216.2,318.5 215.1,319.4 214.6,319.5C214.0,319.6 213.5,319.6 213.2,319.2C212.8,318.7 212.7,317.3 212.6,316.9"/><path d="M221.4,326.4C221.2,326.6 220.4,327.9 220.0,327.8C219.5,327.7 219.1,326.0 218.6,325.6C218.2,325.3 217.6,325.1 217.2,325.5C216.8,325.9 216.5,327.7 216.0,327.9C215.6,328.2 215.1,327.4 214.5,327.1C214.0,326.8 213.0,325.9 212.7,326.2C212.3,326.5 212.6,328.2 212.4,328.8C212.2,329.4 211.7,329.7 211.6,329.8"/><path d="M242.1,330.0C242.2,329.7 242.2,328.2 242.6,327.9C242.9,327.5 243.5,327.8 244.1,327.9C244.7,328.0 245.6,328.6 246.0,328.3C246.3,328.0 246.1,326.9 246.2,326.3C246.2,325.7 246.1,325.0 246.5,324.8C246.9,324.6 248.1,325.1 248.7,324.9C249.2,324.8 249.6,324.5 249.7,324.0C249.8,323.4 249.2,322.2 249.4,321.7C249.6,321.3 250.3,321.3 250.8,321.2C251.4,321.1 252.5,321.5 252.9,321.2C253.2,320.8 252.8,319.9 252.7,319.3C252.7,318.7 252.3,317.9 252.7,317.6C253.0,317.2 254.3,317.6 254.8,317.4C255.3,317.1 255.8,316.8 255.8,316.3C255.8,315.8 254.9,314.7 255.0,314.2C255.0,313.7 255.9,313.4 256.0,313.2"/><path d="M220.9,329.2C220.7,329.4 219.9,330.2 219.5,330.4C219.0,330.6 218.5,330.8 218.1,330.6C217.6,330.3 217.2,329.3 216.7,329.1C216.3,328.9 215.8,329.0 215.3,329.3C214.8,329.5 214.3,330.4 213.9,330.5C213.4,330.6 213.1,330.1 212.6,329.9C212.2,329.7 211.5,329.1 211.1,329.2C210.7,329.3 210.5,330.2 210.2,330.6C209.9,331.1 209.9,331.7 209.5,331.9C209.0,332.0 208.2,331.5 207.7,331.6C207.3,331.7 206.7,331.9 206.6,332.3C206.5,332.8 207.0,333.8 206.9,334.2C206.8,334.7 206.6,335.0 206.2,335.2C205.8,335.5 204.8,335.6 204.6,336.0C204.4,336.3 204.9,337.2 205.0,337.4"/><path d="M241.6,332.8C241.8,332.6 242.2,331.6 242.7,331.7C243.2,331.7 244.0,332.8 244.6,333.1C245.1,333.4 245.5,333.6 245.9,333.3C246.3,333.0 246.6,331.6 247.0,331.3C247.4,330.9 248.0,330.9 248.5,331.3C248.9,331.6 249.3,333.0 249.7,333.3C250.1,333.7 250.4,333.5 251.0,333.3C251.5,333.1 252.3,332.0 252.8,332.0C253.2,332.0 253.6,332.8 253.7,333.4C253.9,334.0 253.4,335.2 253.6,335.6C253.8,336.1 254.9,335.8 255.2,335.9"/><path d="M159.5,356.5C159.3,356.4 158.6,356.2 158.1,355.9C157.6,355.7 157.0,354.8 156.5,354.9C156.1,354.9 155.7,355.9 155.3,356.3C154.8,356.6 154.5,357.2 154.0,357.2C153.5,357.2 152.8,356.3 152.3,356.2C151.7,356.1 151.1,356.2 150.7,356.7C150.4,357.1 150.3,358.5 150.2,358.9"/><path d="M177.7,367.0C178.1,367.1 179.4,367.3 179.8,367.6C180.3,367.9 180.3,368.3 180.3,368.8C180.2,369.3 179.5,370.3 179.7,370.8C179.8,371.2 180.6,371.3 181.1,371.5C181.7,371.7 182.7,371.6 183.0,371.9C183.3,372.3 182.8,373.1 182.8,373.7C182.8,374.3 182.5,375.1 182.9,375.4C183.2,375.7 184.4,375.3 184.9,375.5C185.5,375.6 186.0,375.7 186.2,376.2C186.4,376.6 185.8,377.8 186.0,378.3C186.1,378.8 186.4,379.1 187.0,379.3C187.5,379.4 188.7,379.1 189.1,379.4C189.6,379.6 189.5,380.6 189.5,380.8"/><path d="M158.1,359.0C158.0,358.6 158.0,357.2 157.7,356.8C157.4,356.4 156.8,356.7 156.2,356.8C155.6,356.9 154.6,357.5 154.1,357.4C153.7,357.3 153.5,356.6 153.4,356.0C153.3,355.4 153.7,354.2 153.4,353.8C153.2,353.3 152.6,353.4 151.9,353.4C151.3,353.4 150.2,354.1 149.7,353.9C149.2,353.7 149.2,353.1 149.1,352.5C149.0,351.8 149.3,350.6 149.1,350.2C148.8,349.8 148.1,349.8 147.5,349.9C146.9,349.9 145.7,350.4 145.3,350.5"/><path d="M176.3,369.5C176.6,369.3 177.5,368.1 178.0,367.9C178.5,367.7 178.9,368.0 179.3,368.4C179.7,368.8 180.0,370.2 180.4,370.3C180.9,370.5 181.4,369.8 181.9,369.5C182.4,369.1 183.0,368.2 183.4,368.2C183.9,368.3 184.3,369.4 184.7,369.9C185.2,370.4 185.4,371.1 185.9,371.1C186.5,371.1 187.3,370.0 187.9,369.9C188.4,369.8 189.1,370.3 189.3,370.4"/><path d="M156.7,361.5C156.6,361.2 156.2,360.5 156.0,360.0C155.7,359.5 155.7,358.8 155.3,358.5C154.8,358.3 154.0,358.8 153.5,358.8C153.0,358.7 152.4,358.6 152.2,358.2C151.9,357.8 152.2,356.7 151.9,356.3C151.7,355.8 151.3,355.7 150.8,355.6C150.3,355.4 149.3,355.5 149.1,355.4"/><path d="M174.9,372.0C175.1,371.7 175.6,370.8 176.0,370.5C176.4,370.2 176.8,370.0 177.2,370.1C177.7,370.1 178.4,370.7 178.9,370.7C179.4,370.8 179.9,370.7 180.2,370.4C180.6,370.0 180.6,369.1 180.8,368.6C181.0,368.1 181.1,367.6 181.6,367.4C182.0,367.2 182.7,367.4 183.3,367.4C183.8,367.3 184.5,367.4 184.8,367.1C185.2,366.8 185.2,366.0 185.4,365.5C185.7,365.0 185.9,364.2 186.3,364.0C186.7,363.8 187.5,364.0 188.0,364.1C188.6,364.3 189.5,364.7 189.7,364.8"/><path d="M155.3,364.0C155.0,364.1 154.1,364.5 153.6,364.7C153.1,365.0 152.6,365.6 152.2,365.6C151.8,365.6 151.5,365.1 151.1,364.7C150.7,364.3 150.2,363.5 149.7,363.4C149.3,363.3 148.8,363.6 148.4,364.0C147.9,364.4 147.5,365.3 147.1,365.6C146.7,365.9 146.3,365.9 145.8,365.7C145.3,365.5 144.7,364.6 144.2,364.3C143.7,364.0 143.2,363.8 142.8,364.0C142.3,364.2 141.9,365.0 141.4,365.4C141.0,365.8 140.6,366.4 140.1,366.3C139.7,366.3 139.1,365.7 138.6,365.3C138.2,365.0 137.4,364.4 137.2,364.2"/><path d="M173.5,374.5C173.7,374.5 174.3,374.9 174.9,375.0C175.5,375.1 176.5,374.9 177.0,375.1C177.5,375.3 177.8,375.6 177.9,376.2C177.9,376.8 177.5,377.8 177.5,378.4C177.5,379.0 177.5,379.5 177.9,379.8C178.3,380.2 179.2,380.2 179.8,380.4C180.4,380.6 181.1,380.7 181.3,381.1C181.6,381.4 181.3,382.1 181.2,382.7C181.1,383.3 180.7,384.1 180.9,384.5C181.1,385.0 181.7,385.1 182.2,385.3C182.8,385.4 183.8,385.1 184.3,385.3C184.8,385.6 185.2,386.0 185.3,386.6C185.4,387.1 184.8,388.1 184.8,388.7C184.7,389.3 184.6,389.9 184.9,390.2C185.3,390.6 186.5,390.7 186.8,390.8"/><path d="M208.8,365.5C208.6,365.8 208.0,366.4 207.7,366.8C207.3,367.3 207.0,367.9 206.5,368.0C206.1,368.2 205.5,368.0 205.0,367.8C204.4,367.7 203.9,367.1 203.4,367.0C202.9,367.0 202.4,367.0 202.0,367.3C201.6,367.6 201.2,368.3 200.8,368.6C200.4,369.0 199.9,369.4 199.5,369.4C199.0,369.5 198.6,369.2 198.1,369.0C197.6,368.8 197.0,368.3 196.5,368.3C196.0,368.3 195.4,368.8 195.2,368.9"/><path d="M227.0,355.0C227.0,354.7 226.9,353.5 227.0,352.8C227.0,352.2 227.0,351.4 227.4,351.2C227.8,350.9 228.9,351.5 229.6,351.5C230.3,351.6 231.1,352.0 231.5,351.7C231.8,351.4 231.6,350.3 231.6,349.7C231.6,349.0 231.2,348.1 231.5,347.8C231.7,347.5 232.6,347.8 233.2,347.7C233.8,347.7 234.9,347.9 235.2,347.6C235.5,347.3 235.2,346.4 235.0,345.8C234.8,345.2 233.9,344.4 234.0,344.0C234.0,343.5 235.0,343.3 235.2,343.2"/><path d="M210.2,368.0C209.9,367.8 208.9,366.7 208.4,366.7C208.0,366.7 207.7,367.3 207.3,367.8C206.9,368.3 206.7,369.5 206.2,369.7C205.8,370.0 205.2,369.5 204.7,369.1C204.2,368.7 203.7,367.5 203.3,367.3C202.8,367.1 202.4,367.5 201.9,367.9C201.5,368.2 200.6,369.2 200.4,369.5"/><path d="M228.4,357.5C228.5,357.3 228.8,356.7 229.2,356.4C229.7,356.1 230.8,356.3 231.1,355.9C231.4,355.6 231.1,354.8 231.1,354.3C231.1,353.7 230.9,353.0 231.2,352.7C231.6,352.4 232.7,352.7 233.2,352.6C233.7,352.4 234.0,352.2 234.2,351.8C234.4,351.3 234.2,350.2 234.5,350.0C234.8,349.7 235.9,350.1 236.1,350.1"/><path d="M229.8,360.0C229.7,359.7 229.1,358.5 229.3,358.1C229.6,357.7 230.6,357.7 231.1,357.5C231.7,357.3 232.5,357.3 232.6,356.8C232.8,356.4 232.1,355.4 232.1,354.8C232.0,354.3 232.0,353.7 232.5,353.4C232.9,353.1 234.1,353.3 234.5,353.0C235.0,352.7 234.9,351.8 234.9,351.6"/><path d="M213.0,373.0C212.8,372.9 211.9,372.3 211.5,372.5C211.1,372.7 210.8,373.4 210.4,373.9C210.0,374.5 209.6,375.4 209.2,375.6C208.8,375.9 208.3,375.8 207.8,375.5C207.3,375.3 206.7,374.4 206.1,374.1C205.6,373.8 205.0,373.6 204.6,373.8C204.2,374.1 204.0,374.9 203.6,375.5C203.3,376.0 202.9,377.0 202.5,377.2C202.1,377.4 201.5,377.3 201.0,377.0C200.4,376.7 199.8,375.8 199.3,375.5C198.8,375.2 198.3,375.0 197.8,375.3C197.4,375.5 196.9,376.6 196.7,376.9"/><path d="M231.2,362.5C231.5,362.4 232.5,362.3 232.8,362.0C233.1,361.6 232.9,360.9 233.0,360.3C233.0,359.7 232.7,358.8 232.9,358.4C233.0,357.9 233.4,357.7 233.9,357.5C234.4,357.3 235.3,357.4 235.8,357.1C236.2,356.8 236.6,356.4 236.6,355.9C236.6,355.4 236.0,354.7 235.8,354.1C235.5,353.6 235.1,353.0 235.1,352.6C235.2,352.1 235.8,351.8 236.2,351.4C236.6,351.0 237.5,350.4 237.7,350.2"/><path d="M239.2,367.5C239.4,367.9 240.3,369.4 240.2,369.9C240.2,370.4 239.3,370.2 238.8,370.4C238.2,370.6 237.0,370.6 236.9,371.0C236.9,371.5 238.3,372.5 238.4,373.0C238.6,373.6 238.5,373.9 238.0,374.2C237.6,374.6 236.0,374.8 235.9,375.2C235.8,375.6 237.1,376.1 237.5,376.6C237.9,377.0 238.6,377.4 238.5,377.8C238.3,378.3 236.6,378.9 236.5,379.4C236.3,379.9 237.0,380.3 237.5,380.6C238.0,381.0 239.4,381.0 239.5,381.4C239.6,381.8 238.2,382.7 238.1,383.2C238.0,383.8 238.1,384.3 238.6,384.5C239.1,384.8 240.8,384.5 241.1,384.9C241.4,385.2 240.6,386.4 240.5,386.7"/><path d="M255.3,354.0C255.5,353.9 256.1,353.5 256.7,353.7C257.2,353.9 258.1,354.9 258.6,355.1C259.2,355.2 259.9,355.1 260.2,354.6C260.6,354.1 260.4,352.8 260.7,352.2C260.9,351.6 261.0,351.0 261.5,350.9C262.0,350.8 263.0,351.5 263.6,351.6C264.3,351.8 264.9,352.1 265.3,351.8C265.6,351.6 265.5,350.6 265.7,350.0C265.9,349.4 266.1,348.4 266.5,348.3C266.9,348.2 267.7,348.9 268.2,349.3C268.7,349.7 269.3,350.5 269.6,350.8"/><path d="M241.0,369.7C240.9,369.8 240.2,370.2 239.9,370.8C239.6,371.3 239.6,372.4 239.3,372.9C239.0,373.4 238.7,373.7 238.2,373.7C237.7,373.7 237.0,373.1 236.4,372.9C235.8,372.6 235.0,372.2 234.6,372.4C234.2,372.6 234.0,373.3 233.9,373.9C233.8,374.5 234.1,375.5 234.0,376.0C233.9,376.6 233.8,376.9 233.4,377.0C233.0,377.2 232.1,376.8 231.5,376.9C230.9,377.0 230.1,377.1 229.9,377.5C229.7,377.8 230.2,378.8 230.2,379.1"/><path d="M257.1,356.2C257.2,355.9 257.6,355.3 257.5,354.8C257.3,354.3 256.7,353.7 256.4,353.2C256.1,352.6 255.8,351.9 255.9,351.5C256.1,351.0 256.6,350.7 257.1,350.3C257.6,350.0 258.5,349.8 258.8,349.4C259.1,349.0 259.2,348.5 259.0,348.0C258.9,347.5 258.2,346.9 257.8,346.4C257.5,345.9 257.1,345.4 257.2,345.0C257.3,344.5 257.8,344.1 258.2,343.7C258.6,343.3 259.4,342.9 259.6,342.4C259.9,342.0 259.8,341.5 259.5,341.0C259.3,340.5 258.4,340.1 258.1,339.6C257.7,339.1 257.4,338.6 257.5,338.1C257.5,337.7 258.2,337.2 258.6,336.7C259.0,336.3 259.8,335.6 260.0,335.4"/><path d="M242.9,371.8C242.5,371.9 241.2,371.8 240.9,372.1C240.5,372.4 240.7,373.1 240.7,373.7C240.8,374.3 241.3,375.3 241.2,375.7C241.0,376.2 240.3,376.3 239.8,376.5C239.2,376.7 238.1,376.6 237.8,376.9C237.4,377.2 237.5,377.9 237.7,378.5C237.8,379.1 238.5,380.0 238.4,380.5C238.4,381.0 237.8,381.2 237.3,381.5C236.8,381.8 235.6,381.8 235.3,382.2C235.0,382.6 235.4,383.5 235.4,383.8"/><path d="M259.0,358.3C259.2,358.3 260.2,358.6 260.5,358.2C260.8,357.8 260.4,356.3 260.6,355.8C260.9,355.4 261.4,355.5 261.9,355.4C262.5,355.3 263.7,355.8 264.0,355.5C264.3,355.2 263.7,354.0 263.7,353.4C263.7,352.8 263.5,352.2 264.0,352.0C264.4,351.7 265.9,352.1 266.3,351.8C266.7,351.6 266.6,350.9 266.6,350.3C266.6,349.8 265.8,348.7 266.1,348.4C266.4,348.0 267.6,348.2 268.2,348.0C268.7,347.9 269.3,347.8 269.4,347.3C269.6,346.8 268.9,345.4 269.1,345.0C269.4,344.6 270.3,344.6 270.9,344.7C271.5,344.8 272.4,345.6 272.8,345.4C273.2,345.1 273.4,343.7 273.5,343.4"/><path d="M244.7,374.0C244.4,374.0 243.2,373.8 242.7,374.0C242.3,374.3 242.1,374.8 242.0,375.3C241.9,375.8 242.2,376.8 242.0,377.3C241.9,377.8 241.5,378.0 241.0,378.2C240.4,378.4 239.4,378.1 238.9,378.3C238.4,378.5 238.1,378.8 238.0,379.4C237.9,379.9 238.3,380.8 238.3,381.4C238.2,381.9 238.1,382.4 237.7,382.7C237.2,382.9 236.2,382.8 235.7,383.1C235.2,383.4 234.7,383.8 234.7,384.3C234.7,384.8 235.4,385.7 235.6,386.2C235.8,386.8 236.1,387.2 236.0,387.7C235.8,388.2 235.0,388.6 234.7,389.1C234.4,389.6 234.3,390.4 234.3,390.6"/><path d="M260.8,360.5C261.0,360.5 261.6,360.0 262.2,360.2C262.7,360.4 263.6,361.7 264.1,361.7C264.6,361.8 265.0,361.2 265.3,360.6C265.6,360.0 265.5,358.6 265.9,358.3C266.3,358.0 267.1,358.6 267.7,358.8C268.3,359.1 269.1,359.9 269.6,359.7C270.0,359.5 269.9,358.3 270.2,357.7C270.5,357.2 270.6,356.3 271.1,356.2C271.6,356.2 272.5,357.2 273.2,357.4C273.8,357.5 274.5,357.6 274.8,357.1C275.1,356.6 274.7,355.1 274.9,354.5C275.1,354.0 275.5,353.7 276.1,353.7C276.7,353.7 278.0,354.5 278.5,354.3C279.0,354.1 279.1,352.9 279.2,352.6"/><path d="M125.0,323.0C125.2,323.0 125.9,323.0 126.3,323.4C126.7,323.9 126.8,325.4 127.2,325.7C127.6,325.9 128.2,325.2 128.7,325.0C129.3,324.7 130.0,323.8 130.5,324.0C130.9,324.2 131.1,325.6 131.5,326.1C131.9,326.5 132.4,326.9 132.9,326.7C133.4,326.5 134.0,324.9 134.5,324.7C135.1,324.4 135.4,324.9 136.0,325.2C136.5,325.5 137.3,326.7 137.8,326.6C138.2,326.5 138.4,325.2 138.8,324.6C139.1,324.1 139.3,323.3 139.8,323.3C140.3,323.3 141.2,324.7 141.8,324.8C142.3,325.0 142.9,324.3 143.1,324.2"/><path d="M127.7,317.0C127.9,316.7 128.4,316.0 128.7,315.6C129.0,315.1 129.5,314.8 129.5,314.3C129.5,313.9 128.8,313.3 128.6,312.9C128.4,312.4 128.2,311.9 128.4,311.4C128.5,310.9 129.4,310.6 129.6,310.1C129.8,309.6 130.0,309.1 129.8,308.6C129.6,308.1 128.8,307.7 128.6,307.2C128.4,306.7 128.4,306.3 128.6,305.8C128.8,305.3 129.5,304.7 129.6,304.2C129.6,303.7 129.0,303.0 128.9,302.8"/><path d="M144.4,319.0C144.4,318.7 144.3,317.9 144.3,317.3C144.3,316.7 144.8,315.8 144.5,315.4C144.2,315.1 143.1,315.4 142.6,315.2C142.0,315.0 141.4,314.8 141.3,314.3C141.2,313.8 142.1,312.7 142.0,312.1C142.0,311.6 141.5,311.3 140.9,311.1C140.4,310.9 139.1,311.3 138.8,311.0C138.4,310.6 138.8,309.8 138.9,309.2C138.9,308.6 139.4,307.8 139.1,307.4C138.8,307.1 137.4,307.2 137.1,307.1"/><path d="M147.3,320.7C147.0,320.9 145.7,321.3 145.4,321.7C145.1,322.1 145.4,322.6 145.6,323.2C145.8,323.7 146.6,324.4 146.6,324.9C146.6,325.3 145.8,325.6 145.4,325.9C144.9,326.3 143.9,326.4 143.8,326.9C143.6,327.3 144.3,328.0 144.4,328.5C144.6,329.1 144.9,329.7 144.7,330.2C144.4,330.6 143.3,330.6 142.9,331.0C142.4,331.3 142.1,332.0 142.0,332.2"/><path d="M128.7,368.4C128.9,368.2 129.4,367.4 129.8,366.9C130.2,366.4 130.4,365.5 130.8,365.3C131.2,365.1 131.7,365.5 132.2,365.8C132.7,366.0 133.5,366.7 133.9,366.7C134.4,366.6 134.7,366.1 134.9,365.5C135.1,365.0 134.8,363.8 135.0,363.4C135.2,362.9 135.6,362.6 136.1,362.6C136.6,362.5 137.6,363.1 138.1,363.1C138.7,363.0 139.2,362.8 139.3,362.3C139.4,361.9 138.9,360.9 138.8,360.3C138.7,359.7 138.8,359.0 138.9,358.7"/><path d="M131.2,372.1C131.4,372.1 132.2,372.2 132.5,372.6C132.8,373.0 132.7,373.9 133.1,374.3C133.4,374.7 133.9,374.9 134.4,375.0C134.9,375.0 135.7,374.4 136.2,374.5C136.6,374.6 136.9,375.2 137.2,375.6C137.4,376.1 137.3,377.0 137.7,377.3C138.1,377.6 138.8,377.4 139.3,377.4C139.9,377.5 140.6,377.3 140.9,377.6C141.3,377.9 141.2,378.8 141.5,379.2C141.8,379.7 142.0,380.2 142.5,380.4C142.9,380.5 143.8,379.9 144.3,380.0C144.9,380.0 145.4,380.5 145.6,380.6"/><path d="M139.5,376.2C139.2,376.2 138.3,376.7 137.9,376.5C137.5,376.2 137.3,375.4 137.0,374.9C136.7,374.4 136.5,373.8 136.1,373.6C135.7,373.4 135.0,373.7 134.5,373.8C133.9,373.8 133.2,373.9 132.8,373.6C132.5,373.3 132.6,372.4 132.4,371.8C132.3,371.3 132.4,370.6 132.1,370.3C131.7,370.0 130.9,370.1 130.3,370.0C129.8,369.9 129.1,369.9 128.8,369.6C128.5,369.2 128.7,368.3 128.6,367.8C128.5,367.2 128.6,366.5 128.2,366.2C127.8,365.9 127.0,366.1 126.4,366.0C125.9,365.8 125.2,365.7 125.0,365.3C124.7,364.9 125.1,364.1 125.1,363.5C125.0,362.9 125.2,362.3 124.9,361.9C124.6,361.6 123.5,361.4 123.2,361.3"/><path d="M203.0,321.8C203.2,321.5 203.6,320.9 204.0,320.4C204.3,320.0 205.1,319.5 205.1,319.1C205.1,318.6 204.1,318.1 203.9,317.6C203.7,317.2 203.4,316.7 203.6,316.2C203.9,315.7 205.0,315.3 205.2,314.8C205.4,314.3 205.1,313.8 204.7,313.3C204.4,312.8 203.3,312.5 203.2,312.0C203.0,311.5 203.6,310.9 203.8,310.4C203.9,309.9 204.4,309.3 204.2,308.9C204.0,308.4 202.8,308.2 202.4,307.8C202.0,307.5 201.8,307.1 201.8,306.6C201.9,306.0 202.7,305.2 202.7,304.7C202.6,304.2 201.7,303.8 201.5,303.6"/><path d="M203.9,318.4C203.7,318.2 203.2,317.6 203.2,317.1C203.3,316.6 203.9,316.0 204.1,315.5C204.4,315.0 204.9,314.6 204.9,314.1C204.9,313.7 204.4,313.3 204.1,312.9C203.8,312.4 203.2,311.9 203.1,311.4C203.0,311.0 203.3,310.5 203.6,310.1C204.0,309.7 204.9,309.4 205.2,309.0C205.6,308.6 205.8,308.2 205.7,307.7C205.6,307.2 205.0,306.3 204.8,306.0"/><path d="M265.8,332.0C265.8,331.7 265.9,330.8 265.8,330.3C265.6,329.9 265.3,329.6 264.9,329.3C264.5,329.0 263.7,328.9 263.3,328.7C262.9,328.4 262.5,328.0 262.4,327.5C262.3,327.1 262.6,326.4 262.6,325.8C262.7,325.3 262.9,324.8 262.7,324.4C262.5,324.0 261.9,323.7 261.5,323.3C261.2,323.0 260.6,322.6 260.4,322.2C260.3,321.7 260.5,321.2 260.6,320.7C260.8,320.2 261.4,319.7 261.5,319.2C261.6,318.7 261.6,318.4 261.4,317.9C261.2,317.4 260.7,316.9 260.6,316.5C260.4,316.0 260.4,315.5 260.6,315.0C260.8,314.6 261.5,314.3 261.8,313.9C262.1,313.5 262.5,312.8 262.6,312.6"/><path d="M264.2,337.7C264.4,337.7 265.1,337.7 265.7,337.6C266.2,337.6 267.0,337.1 267.5,337.3C268.0,337.4 268.3,337.9 268.5,338.4C268.8,338.9 268.8,339.8 269.2,340.2C269.5,340.6 270.0,340.6 270.5,340.8C271.0,340.9 271.9,340.7 272.4,340.9C272.8,341.2 273.0,341.8 273.1,342.3C273.2,342.9 272.9,343.7 273.1,344.2C273.3,344.6 273.7,344.9 274.2,345.1C274.7,345.2 275.6,345.0 276.1,345.2C276.5,345.4 276.7,345.8 276.9,346.3C277.0,346.8 276.8,347.7 277.1,348.1C277.3,348.5 278.0,348.8 278.2,348.9"/><path d="M149.5,350.5C149.2,350.2 148.0,349.6 147.7,349.2C147.5,348.7 147.8,348.3 148.1,347.8C148.4,347.3 149.4,346.7 149.6,346.2C149.8,345.7 149.6,345.2 149.2,344.8C148.8,344.4 147.6,344.2 147.1,343.9C146.7,343.5 146.4,343.3 146.4,342.8C146.5,342.3 147.3,341.5 147.4,340.9C147.4,340.4 147.4,339.7 147.0,339.4C146.6,339.2 145.4,339.5 144.8,339.5C144.2,339.5 143.5,339.7 143.2,339.4C142.9,339.1 143.0,337.9 142.9,337.6"/><path d="M204.8,335.2C205.0,335.5 205.6,336.4 205.9,336.9C206.3,337.3 206.6,337.9 207.1,338.0C207.5,338.0 208.0,337.5 208.5,337.2C209.1,337.0 209.8,336.5 210.2,336.6C210.7,336.6 211.0,337.2 211.3,337.7C211.5,338.2 211.5,339.2 211.8,339.7C212.0,340.1 212.3,340.3 212.7,340.3C213.2,340.4 214.1,339.9 214.7,339.9C215.3,339.9 215.9,339.9 216.2,340.3C216.5,340.6 216.4,341.5 216.6,342.1C216.7,342.7 216.8,343.6 217.3,343.9C217.7,344.1 218.5,343.9 219.1,343.8C219.7,343.6 220.5,343.0 221.0,342.9C221.6,342.8 221.9,343.1 222.4,343.4C222.9,343.7 223.7,344.6 223.9,344.9"/><path d="M238.4,346.8C238.2,346.9 237.7,347.4 237.1,347.5C236.5,347.5 235.5,347.2 234.9,347.3C234.3,347.4 233.7,347.5 233.5,348.0C233.2,348.5 233.5,349.4 233.6,350.1C233.6,350.8 234.0,351.6 233.9,352.1C233.7,352.6 233.2,352.8 232.7,353.1C232.2,353.4 231.1,353.4 230.6,353.7C230.1,354.0 229.7,354.4 229.7,354.9C229.7,355.4 230.3,356.4 230.5,356.7"/><path d="M197.1,381.0C197.3,380.9 198.0,380.5 198.5,380.7C199.1,380.8 200.0,381.7 200.5,381.8C201.0,381.8 201.2,381.4 201.5,380.9C201.8,380.5 201.9,379.2 202.3,378.8C202.7,378.5 203.2,378.7 203.8,378.8C204.3,379.0 205.2,379.9 205.8,379.9C206.3,379.9 206.6,379.3 206.8,378.8C207.1,378.2 207.1,377.0 207.4,376.7C207.8,376.3 208.4,376.5 209.0,376.7C209.5,376.8 210.5,377.6 211.0,377.6C211.4,377.5 211.6,377.0 211.9,376.4C212.2,375.9 212.2,374.7 212.5,374.4C212.9,374.0 213.5,374.3 214.1,374.4C214.7,374.6 215.6,375.3 216.1,375.2C216.6,375.1 216.9,374.0 217.0,373.8"/><path d="M260.3,374.1C260.5,374.2 261.3,374.5 261.4,375.0C261.5,375.5 260.9,376.4 260.9,376.9C261.0,377.4 261.3,377.7 261.7,378.0C262.1,378.3 263.0,378.5 263.2,379.0C263.3,379.4 262.8,380.0 262.6,380.6C262.5,381.1 262.2,381.7 262.4,382.1C262.6,382.5 263.7,382.7 264.1,383.0C264.5,383.4 264.6,383.8 264.7,384.3C264.8,384.8 264.3,385.7 264.5,386.1C264.7,386.5 265.4,386.6 265.9,386.8C266.4,387.0 267.2,387.0 267.4,387.4C267.7,387.8 267.4,388.9 267.4,389.2"/></g><g stroke="#7e30cc" stroke-width="1.25"><line x1="157.77" y1="333.55" x2="175.96" y2="323.05"/><line x1="159.19" y1="336.02" x2="177.38" y2="325.52"/><line x1="160.62" y1="338.48" x2="178.81" y2="327.98"/><line x1="162.04" y1="340.95" x2="180.23" y2="330.45"/><line x1="128.20" y1="334.48" x2="144.29" y2="347.97"/><line x1="126.37" y1="336.66" x2="142.46" y2="350.16"/><line x1="124.54" y1="338.84" x2="140.63" y2="352.34"/><line x1="122.71" y1="341.03" x2="138.80" y2="354.52"/><line x1="185.59" y1="340.69" x2="204.62" y2="349.56"/><line x1="184.39" y1="343.27" x2="203.42" y2="352.15"/><line x1="183.18" y1="345.85" x2="202.21" y2="354.73"/><line x1="181.98" y1="348.44" x2="201.01" y2="357.31"/><line x1="222.40" y1="320.77" x2="243.08" y2="324.41"/><line x1="221.91" y1="323.57" x2="242.59" y2="327.22"/><line x1="221.41" y1="326.38" x2="242.09" y2="330.03"/><line x1="220.92" y1="329.19" x2="241.60" y2="332.83"/><line x1="159.54" y1="356.55" x2="177.73" y2="367.05"/><line x1="158.12" y1="359.02" x2="176.31" y2="369.52"/><line x1="156.69" y1="361.48" x2="174.88" y2="371.98"/><line x1="155.27" y1="363.95" x2="173.46" y2="374.45"/><line x1="208.77" y1="365.55" x2="226.96" y2="355.05"/><line x1="210.19" y1="368.02" x2="228.38" y2="357.52"/><line x1="211.62" y1="370.48" x2="229.81" y2="359.98"/><line x1="213.04" y1="372.95" x2="231.23" y2="362.45"/><line x1="239.21" y1="367.47" x2="255.30" y2="353.98"/><line x1="241.04" y1="369.66" x2="257.13" y2="356.16"/><line x1="242.87" y1="371.84" x2="258.96" y2="358.34"/><line x1="244.70" y1="374.02" x2="260.79" y2="360.53"/></g></g>
<g clip-path="url(#cR)"><g fill="none" stroke="#a9abab" stroke-width="1.1" stroke-linecap="round" stroke-linejoin="round"><path d="M337.8,324.3C337.6,324.4 337.0,325.1 336.6,325.3C336.1,325.5 335.6,325.3 335.1,325.2C334.6,325.1 334.0,324.7 333.5,324.6C333.0,324.6 332.6,324.6 332.2,324.8C331.7,325.1 331.2,325.9 331.0,326.2"/><path d="M359.1,321.3C359.3,321.2 360.0,321.3 360.4,320.9C360.9,320.6 361.2,319.5 361.7,319.4C362.1,319.2 362.8,319.7 363.2,320.1C363.7,320.5 364.0,321.4 364.5,321.5C365.0,321.6 365.6,320.9 366.2,320.8C366.7,320.7 367.5,320.6 367.8,321.0C368.2,321.3 368.1,322.5 368.4,323.0C368.7,323.4 369.4,323.5 369.6,323.6"/><path d="M338.2,327.1C338.0,327.3 337.4,328.2 337.0,328.5C336.6,328.9 336.2,329.4 335.7,329.3C335.2,329.2 334.6,328.3 334.0,328.1C333.5,327.8 332.8,327.8 332.6,327.8"/><path d="M359.4,324.1C359.7,324.1 360.5,324.5 360.9,324.1C361.3,323.7 361.5,322.2 361.8,321.8C362.2,321.3 362.6,321.1 363.1,321.4C363.6,321.6 364.6,322.8 364.9,323.1"/><path d="M338.6,329.9C338.4,330.2 338.3,331.2 337.9,331.4C337.4,331.6 336.4,330.9 335.9,331.0C335.4,331.0 335.1,331.3 334.8,331.8C334.5,332.2 334.5,333.2 334.1,333.5C333.7,333.7 332.9,333.2 332.4,333.2C331.9,333.2 331.2,333.1 330.9,333.4C330.6,333.8 330.6,335.1 330.5,335.4"/><path d="M338.9,332.7C338.7,332.5 338.1,331.6 337.6,331.6C337.2,331.7 336.6,332.7 336.1,332.9C335.6,333.1 335.1,333.3 334.7,333.1C334.3,332.8 334.1,331.5 333.7,331.1C333.3,330.8 332.9,330.9 332.3,330.9C331.8,331.0 330.9,331.7 330.5,331.5C330.0,331.3 329.8,330.3 329.7,330.0"/><path d="M360.2,329.7C360.5,330.0 361.2,331.2 361.6,331.4C362.1,331.6 362.6,331.2 363.0,330.8C363.5,330.5 364.0,329.5 364.4,329.5C364.9,329.5 365.3,330.6 365.7,331.0C366.1,331.4 366.4,331.9 366.8,331.8C367.3,331.7 368.1,330.5 368.6,330.4C369.1,330.3 369.5,330.8 369.8,331.2C370.2,331.6 370.7,332.6 370.9,332.9"/><path d="M372.4,319.1C372.1,319.0 371.5,318.6 371.0,318.8C370.5,319.0 369.8,320.4 369.3,320.5C368.9,320.6 368.5,319.6 368.1,319.2C367.7,318.7 367.5,317.6 367.0,317.6C366.5,317.5 365.7,318.7 365.1,318.8C364.5,318.9 363.8,318.4 363.6,318.3"/><path d="M393.4,323.6C393.7,323.4 394.5,322.8 395.0,322.6C395.6,322.4 396.1,322.2 396.6,322.4C397.0,322.6 397.4,323.3 397.8,323.8C398.1,324.2 398.3,325.0 398.7,325.3C399.1,325.6 399.9,325.5 400.1,325.5"/><path d="M371.8,321.9C371.6,321.8 370.7,321.7 370.4,321.3C370.2,320.8 370.3,319.9 370.1,319.3C369.8,318.7 369.3,317.7 368.8,317.6C368.2,317.4 367.3,317.8 366.8,318.3C366.2,318.7 365.7,320.0 365.4,320.3"/><path d="M392.8,326.3C393.0,326.2 393.6,325.6 394.1,325.6C394.6,325.6 395.3,326.5 395.8,326.5C396.3,326.5 396.7,326.1 397.1,325.7C397.4,325.3 397.5,324.2 397.9,324.0C398.3,323.8 399.0,324.2 399.5,324.3C400.0,324.5 400.7,324.9 401.1,324.7C401.5,324.5 401.9,323.5 402.1,323.3"/><path d="M371.2,324.7C371.0,324.4 370.8,323.6 370.4,323.4C369.9,323.2 369.1,323.6 368.6,323.6C368.0,323.6 367.5,323.7 367.1,323.5C366.7,323.3 366.5,322.6 366.2,322.2C365.9,321.8 365.6,321.1 365.1,321.1C364.6,321.0 364.0,321.4 363.5,321.7C363.0,321.9 362.6,322.5 362.2,322.5C361.7,322.6 361.4,322.2 360.9,322.1C360.4,322.0 359.6,322.0 359.3,322.0"/><path d="M392.2,329.1C392.5,329.3 393.5,329.8 394.0,329.9C394.5,329.9 394.9,329.8 395.3,329.4C395.7,329.1 395.8,328.3 396.2,327.9C396.6,327.5 397.1,326.9 397.5,326.9C398.0,326.9 398.5,327.4 399.0,327.8C399.5,328.2 399.9,329.0 400.3,329.2C400.6,329.5 401.2,329.4 401.4,329.4"/><path d="M370.6,327.4C370.4,327.3 369.9,326.6 369.4,326.6C368.9,326.7 368.1,327.4 367.6,327.6C367.0,327.8 366.3,328.2 365.9,327.9C365.5,327.7 365.3,326.8 365.0,326.2C364.7,325.6 364.6,324.7 364.2,324.5C363.9,324.2 362.9,324.7 362.7,324.7"/><path d="M394.5,330.7C394.2,330.5 393.6,329.5 393.1,329.5C392.6,329.5 392.2,330.4 391.6,330.8C391.1,331.2 390.4,331.9 390.0,331.9C389.5,331.9 389.1,331.1 388.8,330.5C388.4,330.0 388.1,328.9 387.7,328.7C387.3,328.5 386.6,328.9 386.2,329.3C385.7,329.7 385.3,330.9 384.8,331.2C384.4,331.5 383.9,331.2 383.7,331.3"/><path d="M413.9,321.6C414.0,321.2 414.1,319.4 414.4,319.0C414.7,318.6 415.2,318.8 415.7,319.0C416.3,319.1 417.4,320.2 417.8,320.0C418.3,319.8 418.2,318.3 418.5,317.8C418.9,317.3 419.6,316.8 420.2,317.1C420.7,317.3 421.3,319.1 421.8,319.5C422.4,319.8 423.3,319.2 423.6,319.2"/><path d="M395.7,333.3C395.5,333.4 394.9,333.8 394.8,334.4C394.7,334.9 395.3,335.9 395.0,336.4C394.8,336.8 394.0,336.9 393.5,337.0C392.9,337.1 392.0,336.7 391.5,336.9C391.1,337.2 391.1,338.0 390.8,338.5C390.5,339.0 390.3,339.7 389.8,339.8C389.3,339.9 388.5,339.1 387.9,338.9C387.3,338.8 386.7,338.9 386.5,338.9"/><path d="M415.1,324.2C415.5,324.1 416.9,324.3 417.2,324.0C417.5,323.6 417.1,322.6 416.9,322.0C416.8,321.3 416.3,320.7 416.5,320.3C416.7,319.8 417.8,319.7 418.1,319.2C418.5,318.8 418.8,318.1 418.5,317.6C418.2,317.1 416.9,316.8 416.5,316.4C416.2,316.0 416.4,315.3 416.3,315.0"/><path d="M396.9,335.8C396.5,335.8 395.5,335.7 394.9,335.5C394.3,335.3 393.6,334.7 393.2,334.7C392.9,334.6 393.0,335.1 392.7,335.5C392.5,335.9 392.1,336.9 391.8,337.0C391.4,337.1 390.8,336.7 390.7,336.2C390.6,335.7 391.1,334.4 391.2,334.0"/><path d="M416.3,326.7C416.4,326.4 416.6,324.8 416.9,324.4C417.2,324.0 417.6,324.1 418.2,324.3C418.7,324.4 419.8,325.2 420.3,325.1C420.7,325.0 420.8,324.3 420.9,323.7C421.0,323.0 420.5,321.8 420.8,321.4C421.0,321.0 421.8,321.2 422.4,321.2C423.0,321.2 424.1,321.3 424.5,321.3"/><path d="M398.1,338.4C397.9,338.6 397.4,339.1 396.8,339.3C396.2,339.5 394.8,339.2 394.5,339.6C394.3,340.0 394.8,341.0 395.0,341.6C395.2,342.2 395.9,343.0 395.7,343.4C395.4,343.9 394.0,343.9 393.5,344.2C393.0,344.5 392.5,344.8 392.6,345.3C392.6,345.8 393.6,346.9 393.8,347.2"/><path d="M417.5,329.3C417.7,329.0 418.0,327.7 418.5,327.6C419.0,327.6 419.8,328.8 420.3,329.0C420.9,329.2 421.3,329.3 421.7,328.9C422.2,328.6 422.6,327.2 423.0,327.0C423.5,326.9 424.0,327.8 424.4,328.2C424.9,328.6 425.6,329.0 425.8,329.2"/><path d="M427.7,321.9C427.5,322.0 426.7,322.2 426.4,322.6C426.2,323.0 426.2,323.8 426.0,324.3C425.8,324.7 425.8,325.3 425.4,325.6C425.0,325.8 424.1,325.9 423.8,326.0"/><path d="M448.8,325.7C449.2,325.5 450.7,324.9 451.2,324.9C451.7,325.0 451.7,325.5 451.9,326.0C452.1,326.5 451.9,327.9 452.3,328.1C452.6,328.3 453.5,327.4 454.0,327.1C454.6,326.8 455.0,326.0 455.4,326.2C455.9,326.4 456.1,327.9 456.6,328.3C457.0,328.7 457.7,328.6 457.9,328.6"/><path d="M427.2,324.7C426.8,324.6 425.8,324.0 425.2,323.9C424.7,323.8 424.2,323.9 423.9,324.2C423.5,324.6 423.4,325.7 423.2,326.3C423.0,326.9 423.0,327.6 422.6,327.9C422.2,328.2 421.6,328.0 420.9,328.0C420.3,328.0 419.4,327.7 418.9,327.9C418.4,328.1 418.2,329.1 418.0,329.3"/><path d="M448.3,328.5C448.6,328.5 449.2,328.8 449.7,328.8C450.2,328.8 450.9,328.6 451.4,328.6C452.0,328.6 452.4,328.7 452.8,329.0C453.2,329.2 453.3,329.8 453.7,330.1C454.0,330.5 454.3,331.0 454.8,331.1C455.2,331.3 455.7,331.0 456.2,330.8C456.7,330.7 457.4,330.1 457.7,330.0"/><path d="M426.7,327.5C426.6,327.2 426.5,325.8 426.3,325.3C426.0,324.8 425.7,324.6 425.1,324.7C424.6,324.7 423.6,325.4 423.0,325.6C422.3,325.7 421.7,326.0 421.3,325.7C421.0,325.4 420.9,324.4 420.7,323.8C420.5,323.1 420.2,322.1 420.1,321.8"/><path d="M426.2,330.3C426.2,330.0 426.6,328.6 426.4,328.2C426.3,327.8 425.6,327.9 425.2,327.7C424.7,327.5 423.7,327.5 423.5,327.0C423.4,326.6 424.2,325.7 424.3,325.1C424.5,324.6 424.6,324.3 424.3,323.9C424.0,323.5 422.7,323.3 422.6,322.9C422.4,322.5 423.0,321.8 423.4,321.5C423.9,321.2 424.9,321.2 425.1,320.8C425.3,320.4 424.5,319.4 424.4,319.1"/><path d="M457.2,320.9C457.0,321.2 456.6,322.1 456.3,322.6C456.0,323.0 455.8,323.4 455.4,323.5C454.9,323.6 454.1,323.0 453.6,323.1C453.1,323.1 452.7,323.3 452.4,323.7C452.0,324.2 452.0,325.2 451.7,325.6C451.4,326.0 451.0,326.0 450.5,326.1C450.0,326.1 449.1,325.6 448.7,325.8C448.3,326.0 448.2,326.7 448.2,327.2C448.2,327.7 448.5,328.7 448.5,329.0"/><path d="M478.3,324.7C478.5,325.0 479.1,326.1 479.5,326.5C480.0,326.8 480.6,326.8 481.1,326.6C481.6,326.3 482.0,325.4 482.5,325.0C483.0,324.6 483.5,324.2 483.9,324.2C484.4,324.3 484.8,324.9 485.3,325.3C485.8,325.8 486.4,326.6 486.9,326.6C487.4,326.7 488.1,326.0 488.4,325.8"/><path d="M456.7,323.7C456.4,323.8 455.8,324.3 455.4,324.2C454.9,324.2 454.2,323.4 453.7,323.2C453.2,323.1 452.6,323.1 452.2,323.4C451.8,323.7 451.6,324.7 451.3,325.2C451.0,325.8 450.8,326.2 450.4,326.5C450.0,326.7 449.1,326.5 448.6,326.7C448.1,326.9 447.4,327.4 447.3,327.9C447.2,328.4 447.7,329.2 447.8,329.7C448.0,330.3 448.1,331.1 448.1,331.3"/><path d="M477.8,327.5C478.1,327.4 478.7,327.2 479.2,327.3C479.7,327.5 480.4,328.4 480.8,328.4C481.3,328.5 481.6,328.0 482.0,327.7C482.5,327.3 482.9,326.5 483.4,326.5C483.8,326.5 484.3,327.3 484.7,327.6C485.1,328.0 485.6,328.5 485.8,328.7"/><path d="M456.2,326.5C455.9,326.4 455.0,325.8 454.4,325.5C453.8,325.2 453.1,324.5 452.7,324.8C452.3,325.1 452.4,326.9 452.0,327.3C451.7,327.7 450.8,327.3 450.5,327.3"/><path d="M477.3,330.3C477.3,330.6 477.2,331.8 477.3,332.3C477.4,332.9 477.5,333.4 478.0,333.6C478.4,333.9 479.3,333.5 479.8,333.7C480.3,333.8 481.0,334.2 481.2,334.3"/><path d="M476.8,333.1C476.8,333.4 476.8,334.4 476.8,334.9C476.9,335.5 476.7,336.1 477.1,336.4C477.4,336.7 478.4,336.6 479.0,336.8C479.5,336.9 480.2,337.0 480.4,337.4C480.5,337.9 480.1,338.7 479.9,339.2C479.8,339.8 479.7,340.4 479.6,340.6"/><path d="M330.1,338.6C329.9,338.3 329.5,337.3 329.1,337.0C328.7,336.7 328.2,336.6 327.7,336.7C327.1,336.8 326.5,337.4 326.0,337.5C325.5,337.7 324.7,337.6 324.4,337.6"/><path d="M349.5,347.7C349.6,348.0 349.7,349.3 350.0,349.8C350.3,350.2 350.8,350.4 351.3,350.3C351.9,350.2 352.8,349.5 353.4,349.3C354.0,349.0 354.5,348.7 354.9,348.8C355.4,348.9 355.6,349.6 356.1,350.0C356.6,350.4 357.7,350.8 358.0,351.0"/><path d="M328.9,341.2C328.6,341.1 327.8,341.0 327.2,341.0C326.5,341.0 325.2,341.6 324.8,341.3C324.4,341.0 324.8,339.8 324.8,339.0C324.9,338.3 325.5,337.4 325.2,337.0C324.8,336.6 323.5,337.0 322.9,336.8C322.2,336.6 321.5,335.9 321.2,335.7"/><path d="M348.3,350.3C348.7,350.2 349.7,350.0 350.3,350.1C351.0,350.1 351.8,350.1 352.1,350.5C352.5,350.9 352.3,351.8 352.3,352.4C352.3,353.1 351.9,353.9 352.0,354.4C352.1,355.0 352.6,355.2 353.1,355.5C353.6,355.8 354.7,356.1 355.1,356.3"/><path d="M327.7,343.7C327.5,343.6 326.7,343.3 326.6,342.8C326.5,342.3 327.1,341.0 326.8,340.6C326.6,340.1 325.7,340.4 325.1,340.3C324.5,340.3 323.5,340.6 323.2,340.3C323.0,339.9 323.5,338.6 323.4,338.1C323.3,337.5 323.3,337.2 322.8,337.0C322.4,336.8 321.0,337.1 320.7,336.8C320.3,336.5 320.7,335.4 320.7,335.2"/><path d="M347.1,352.8C347.3,352.7 348.0,352.6 348.4,352.1C348.7,351.7 348.9,350.5 349.2,350.1C349.6,349.6 350.0,349.4 350.5,349.4C351.0,349.5 351.7,350.3 352.3,350.6C352.9,350.8 353.4,351.1 353.9,350.8C354.3,350.6 354.5,349.6 354.8,349.1C355.1,348.5 355.4,347.7 355.9,347.6C356.3,347.4 357.1,347.9 357.6,348.3C358.2,348.6 359.0,349.3 359.3,349.5"/><path d="M326.5,346.3C326.2,346.2 325.5,346.0 325.2,345.5C324.9,345.1 324.9,344.2 324.7,343.8C324.5,343.4 324.2,343.1 323.8,342.9C323.4,342.8 322.8,343.0 322.3,342.9C321.8,342.8 321.1,342.7 320.9,342.3C320.7,341.9 321.0,341.3 321.1,340.7C321.3,340.2 321.8,339.4 321.9,339.1"/><path d="M345.9,355.4C345.9,355.8 345.4,356.9 345.4,357.4C345.5,357.9 345.9,358.1 346.3,358.4C346.8,358.6 347.9,358.6 348.2,359.0C348.4,359.4 347.8,360.3 347.7,360.8C347.6,361.3 347.3,361.7 347.6,362.1C347.9,362.5 349.1,362.8 349.4,363.0"/><path d="M348.9,344.2C348.6,344.2 347.4,344.0 347.0,344.3C346.6,344.6 346.7,345.3 346.6,345.9C346.5,346.4 346.7,347.2 346.3,347.5C346.0,347.8 345.0,347.5 344.5,347.7C344.0,347.8 343.4,348.0 343.2,348.4C343.0,348.9 343.5,349.9 343.4,350.5C343.3,351.0 342.9,351.3 342.5,351.5C342.0,351.8 340.9,351.8 340.6,351.8"/><path d="M370.3,342.3C370.6,342.2 371.3,341.9 371.7,341.5C372.2,341.2 372.6,340.5 373.1,340.4C373.6,340.3 374.2,340.6 374.7,341.0C375.2,341.3 375.5,342.3 375.9,342.6C376.4,342.9 376.8,343.1 377.3,343.1C377.8,343.0 378.6,342.3 378.9,342.1"/><path d="M349.2,347.0C348.9,347.1 348.2,347.8 347.8,347.8C347.3,347.8 346.8,347.2 346.4,346.9C345.9,346.6 345.3,346.0 344.8,345.9C344.4,345.8 344.0,346.1 343.5,346.4C343.1,346.7 342.7,347.6 342.2,347.8C341.8,348.1 341.2,348.2 340.8,348.0C340.3,347.8 339.6,347.0 339.4,346.8"/><path d="M370.6,345.1C370.8,345.4 371.6,346.6 372.0,346.8C372.5,347.0 372.8,346.6 373.3,346.3C373.7,346.0 374.4,345.1 374.8,345.1C375.3,345.1 375.6,346.0 376.0,346.5C376.4,346.9 376.7,347.8 377.2,347.8C377.7,347.8 378.6,346.6 378.9,346.4"/><path d="M349.4,349.9C349.2,350.0 348.7,350.4 348.4,350.9C348.0,351.3 347.8,352.4 347.4,352.6C346.9,352.8 346.2,352.1 345.7,351.9C345.1,351.8 344.5,351.5 344.2,351.8C343.8,352.0 343.7,353.2 343.3,353.6C343.0,354.0 342.6,354.2 342.1,354.1C341.6,354.1 340.7,353.3 340.3,353.3C339.8,353.4 339.4,354.4 339.2,354.6"/><path d="M370.8,348.0C371.0,347.8 371.5,346.9 371.9,346.6C372.3,346.4 372.8,346.6 373.3,346.7C373.8,346.8 374.5,347.3 375.0,347.3C375.5,347.3 375.9,347.0 376.3,346.7C376.7,346.3 377.2,345.5 377.4,345.2"/><path d="M349.7,352.7C349.5,352.4 349.2,351.3 349.0,350.8C348.7,350.3 348.5,349.7 348.1,349.6C347.6,349.5 346.8,349.9 346.2,350.1C345.6,350.3 345.0,350.7 344.5,350.7C344.0,350.6 343.7,350.1 343.2,349.7C342.7,349.4 342.1,348.6 341.5,348.5C340.9,348.5 340.1,348.9 339.7,349.5C339.4,350.1 339.5,351.3 339.4,351.9C339.3,352.6 339.1,353.2 339.1,353.4"/><path d="M371.1,350.8C371.4,350.8 372.2,350.6 372.9,350.5C373.5,350.3 374.5,349.8 374.9,350.2C375.2,350.6 374.7,352.2 374.9,352.8C375.0,353.4 375.3,353.6 375.9,353.8C376.5,354.0 378.0,353.5 378.4,353.8C378.8,354.2 378.3,355.2 378.1,355.8C378.0,356.5 377.3,357.3 377.6,357.8C377.9,358.2 379.6,358.4 380.0,358.5"/><path d="M375.7,342.1C375.6,342.4 375.4,343.6 375.1,344.1C374.8,344.6 374.5,345.3 374.0,345.2C373.4,345.2 372.5,344.1 371.9,344.0C371.4,343.9 371.0,344.1 370.7,344.6C370.3,345.0 370.2,346.4 369.8,346.7C369.5,347.0 368.9,346.5 368.3,346.4C367.8,346.2 367.0,345.5 366.6,345.7C366.3,345.9 366.5,347.1 366.3,347.7C366.1,348.3 365.7,348.9 365.6,349.2"/><path d="M396.5,347.7C396.7,347.8 397.5,348.0 397.7,348.4C397.9,348.9 397.7,349.7 397.7,350.3C397.8,350.8 397.8,351.4 398.2,351.7C398.6,352.0 399.4,352.0 400.0,352.0C400.6,352.1 401.2,351.9 401.7,352.2C402.1,352.4 402.2,353.0 402.6,353.4C402.9,353.9 403.4,354.5 403.9,354.6C404.3,354.7 404.9,354.3 405.4,354.0C405.9,353.8 406.7,353.2 406.9,353.0"/><path d="M375.0,344.8C374.7,345.1 373.7,346.5 373.2,346.6C372.8,346.6 372.6,345.5 372.2,345.0C371.8,344.4 371.3,343.4 370.8,343.5C370.4,343.6 369.9,345.1 369.5,345.6C369.1,346.1 368.8,346.7 368.3,346.5C367.8,346.3 367.1,344.7 366.6,344.5C366.1,344.2 365.4,344.9 365.2,345.0"/><path d="M395.8,350.4C396.1,350.6 397.1,351.4 397.6,351.4C398.1,351.4 398.6,350.9 398.9,350.4C399.2,349.9 399.0,348.7 399.4,348.3C399.7,348.0 400.6,348.4 401.2,348.4C401.7,348.4 402.3,348.7 402.6,348.4C402.9,348.0 402.8,346.7 403.1,346.3C403.4,345.9 403.9,345.9 404.4,346.0C404.9,346.1 405.8,346.8 406.1,346.9"/><path d="M374.2,347.6C374.0,347.5 373.2,347.1 372.7,346.9C372.2,346.8 371.5,346.5 371.1,346.8C370.7,347.0 370.5,348.2 370.1,348.4C369.7,348.7 369.0,348.3 368.7,348.3"/><path d="M395.0,353.2C395.1,353.4 395.4,354.0 395.6,354.6C395.8,355.1 395.7,356.0 396.1,356.4C396.5,356.7 397.2,357.0 397.8,356.9C398.4,356.9 399.2,356.3 399.8,356.1C400.3,355.9 400.7,355.7 401.2,355.7C401.7,355.7 402.4,356.0 403.0,356.0C403.5,356.1 404.3,356.1 404.6,355.7C405.0,355.4 405.2,354.2 405.3,353.9"/><path d="M373.5,350.3C373.3,350.6 372.9,351.4 372.5,351.6C372.1,351.8 371.5,351.4 370.9,351.5C370.4,351.5 369.7,351.5 369.4,351.8C369.1,352.2 369.2,353.1 369.2,353.7C369.2,354.3 369.5,354.8 369.3,355.2C369.1,355.7 368.3,356.1 368.0,356.3"/><path d="M394.3,355.9C394.5,356.1 395.1,356.6 395.3,357.2C395.6,357.8 395.5,359.0 395.9,359.4C396.3,359.7 396.9,359.7 397.5,359.4C398.1,359.2 399.0,358.1 399.6,357.9C400.1,357.6 400.5,357.6 401.0,357.9C401.6,358.1 402.3,359.2 402.9,359.4C403.5,359.6 404.4,359.6 404.8,359.1C405.2,358.6 405.2,356.9 405.3,356.5"/><path d="M397.8,347.3C397.6,347.6 397.1,348.8 396.7,349.2C396.3,349.7 395.8,350.3 395.2,350.2C394.7,350.1 394.0,349.3 393.5,348.8C393.0,348.2 392.8,347.2 392.4,346.8C391.9,346.4 391.5,346.5 390.9,346.6C390.4,346.7 389.5,347.4 388.9,347.5C388.3,347.6 387.7,347.6 387.4,347.3C387.0,346.9 386.9,345.7 386.9,345.4"/><path d="M398.2,350.1C397.9,350.2 397.3,350.4 396.9,350.9C396.6,351.3 396.4,352.4 396.0,352.8C395.6,353.1 395.0,353.1 394.5,352.9C394.0,352.7 393.3,351.8 392.8,351.7C392.3,351.5 391.7,351.6 391.4,351.9C391.1,352.3 390.9,353.6 390.9,353.9"/><path d="M419.4,347.1C419.5,347.4 419.5,348.8 419.7,349.2C420.0,349.7 420.4,349.9 421.0,349.9C421.5,349.9 422.5,349.2 423.1,349.2C423.7,349.1 424.0,349.1 424.4,349.4C424.9,349.8 425.2,350.8 425.7,351.1C426.2,351.4 426.9,351.6 427.3,351.4C427.8,351.1 428.1,350.1 428.6,349.7C429.0,349.3 429.6,349.0 429.9,348.8"/><path d="M398.6,352.9C398.3,352.9 397.6,352.5 397.1,352.6C396.7,352.7 396.3,353.3 395.8,353.7C395.3,354.0 394.9,354.6 394.4,354.6C393.9,354.7 393.3,354.4 392.8,354.0C392.4,353.6 392.1,352.8 391.7,352.4C391.3,352.0 390.7,351.7 390.5,351.6"/><path d="M419.8,349.9C420.1,350.0 420.7,350.1 421.1,350.5C421.6,350.9 422.0,352.2 422.6,352.3C423.1,352.5 423.9,351.9 424.3,351.4C424.7,350.8 424.9,349.4 425.0,349.0"/><path d="M398.9,355.7C398.8,355.5 398.3,354.5 397.9,354.1C397.5,353.7 397.1,353.3 396.6,353.3C396.1,353.3 395.5,354.0 394.9,354.3C394.4,354.5 393.9,355.0 393.4,354.9C393.0,354.9 392.5,354.2 392.1,353.8C391.7,353.4 391.1,352.8 390.9,352.6"/><path d="M420.2,352.7C420.4,352.6 421.3,352.5 421.4,352.0C421.6,351.5 421.2,350.4 421.3,349.8C421.3,349.2 421.3,348.9 421.6,348.6C422.0,348.4 423.0,348.6 423.4,348.3C423.9,348.1 424.4,347.6 424.3,347.1C424.2,346.6 423.1,346.0 422.8,345.5C422.4,345.1 422.2,344.5 422.1,344.3"/><path d="M432.6,341.0C432.4,341.2 431.7,341.9 431.2,341.9C430.7,341.9 430.3,341.2 429.8,340.8C429.3,340.5 428.6,339.8 428.1,339.8C427.6,339.9 427.1,340.5 426.8,341.1C426.5,341.7 426.7,342.8 426.5,343.3C426.3,343.8 426.0,344.0 425.5,344.2C425.0,344.4 423.9,344.4 423.5,344.4"/><path d="M452.6,349.1C452.8,349.2 453.3,350.0 453.8,350.1C454.2,350.1 454.9,349.5 455.4,349.4C455.9,349.3 456.5,349.2 456.9,349.4C457.3,349.7 457.7,350.7 457.8,351.0"/><path d="M451.5,351.7C451.6,351.9 452.1,352.5 452.3,353.0C452.6,353.5 452.7,354.3 453.0,354.6C453.3,355.0 453.7,355.2 454.2,355.2C454.7,355.3 455.4,355.0 456.0,355.1C456.5,355.2 457.0,355.3 457.3,355.6C457.6,356.0 457.7,356.8 457.8,357.3C458.0,357.8 457.9,358.3 458.3,358.6C458.6,358.9 459.2,359.0 459.8,359.1C460.3,359.2 461.2,359.3 461.5,359.4"/><path d="M430.5,346.3C430.4,346.0 430.3,344.6 430.0,344.3C429.7,343.9 429.2,344.2 428.7,344.2C428.1,344.2 427.1,344.5 426.7,344.2C426.4,343.9 426.6,343.0 426.7,342.4C426.8,341.8 427.4,341.0 427.1,340.6C426.9,340.2 426.0,340.2 425.5,339.9C424.9,339.7 424.1,339.6 423.9,339.1C423.8,338.7 424.5,337.8 424.6,337.3C424.8,336.7 424.9,336.0 424.9,335.7"/><path d="M450.4,354.3C450.7,354.1 451.7,353.4 452.2,353.1C452.8,352.8 453.4,352.5 453.8,352.8C454.2,353.1 454.2,354.6 454.6,355.0C454.9,355.4 455.4,355.3 456.0,355.1C456.5,354.8 457.4,353.6 457.9,353.6C458.4,353.6 458.7,354.5 459.0,355.1C459.3,355.6 459.7,356.6 459.9,356.9"/><path d="M429.4,348.9C429.4,348.7 429.6,347.7 429.4,347.3C429.2,346.9 428.6,346.8 428.1,346.5C427.6,346.2 426.7,345.9 426.5,345.5C426.3,345.1 426.4,344.4 426.7,343.9C426.9,343.4 427.6,342.8 427.8,342.3C428.0,341.8 428.1,341.4 428.0,341.0C427.8,340.5 427.1,340.0 426.8,339.5C426.6,339.0 426.5,338.2 426.4,338.0"/><path d="M449.4,357.0C449.7,356.9 450.7,356.2 451.2,356.3C451.7,356.4 452.2,356.8 452.4,357.4C452.6,357.9 452.5,359.0 452.5,359.6C452.6,360.2 452.6,360.7 452.9,361.0C453.2,361.3 453.9,361.3 454.4,361.6C454.9,361.9 455.8,362.3 455.9,362.8C456.0,363.3 455.4,364.2 455.3,364.5"/><path d="M454.9,345.7C454.7,345.5 454.0,345.2 453.6,344.9C453.2,344.5 453.0,343.7 452.6,343.5C452.1,343.4 451.5,343.7 451.0,343.9C450.5,344.0 449.9,344.6 449.5,344.5C449.0,344.4 448.7,343.7 448.4,343.3C448.2,342.8 448.3,342.0 447.9,341.7C447.6,341.4 447.0,341.6 446.5,341.5C445.9,341.5 445.1,341.4 444.8,341.4"/><path d="M476.3,343.8C476.7,343.7 477.7,343.4 478.4,343.3C479.0,343.2 479.9,342.9 480.2,343.4C480.5,343.8 479.9,345.3 480.1,345.8C480.2,346.3 480.7,346.6 481.2,346.5C481.7,346.4 482.9,345.3 483.3,345.1"/><path d="M476.6,346.6C476.9,347.0 477.9,348.4 478.4,348.6C478.9,348.9 478.9,348.5 479.3,348.2C479.7,347.9 480.4,346.5 480.7,346.6C481.1,346.8 481.0,348.4 481.2,348.9C481.3,349.5 481.2,350.1 481.6,350.2C482.0,350.2 483.5,349.6 483.9,349.4"/><path d="M455.4,351.4C455.2,351.3 454.4,351.2 453.8,351.2C453.3,351.2 452.4,351.5 451.9,351.4C451.4,351.2 451.0,350.7 450.8,350.2C450.6,349.7 450.6,348.7 450.6,348.4"/><path d="M476.8,349.5C477.2,349.4 478.1,348.9 478.7,348.9C479.3,348.9 480.2,349.1 480.5,349.5C480.9,350.0 480.8,350.9 480.8,351.6C480.8,352.3 480.3,353.0 480.4,353.6C480.4,354.1 480.7,354.4 481.1,354.8C481.5,355.2 482.4,355.7 482.6,356.2C482.9,356.7 482.8,357.5 482.8,357.8"/><path d="M455.7,354.2C455.4,354.3 454.4,354.4 453.8,354.7C453.2,354.9 452.5,355.5 452.1,355.5C451.6,355.5 451.3,355.2 451.0,354.7C450.7,354.2 450.6,353.2 450.3,352.7C450.0,352.3 449.5,351.9 449.1,352.0C448.6,352.1 448.0,353.0 447.7,353.5C447.3,354.0 447.1,354.8 447.0,355.0"/><path d="M477.1,352.3C477.4,352.5 478.2,353.1 478.7,353.4C479.2,353.8 479.8,354.6 480.3,354.4C480.8,354.3 481.1,353.3 481.5,352.7C481.9,352.2 482.1,351.2 482.5,351.1C483.0,351.0 483.7,351.8 484.2,352.2C484.6,352.6 484.9,353.4 485.3,353.5C485.7,353.5 485.9,352.7 486.4,352.4C486.8,352.2 487.6,351.7 487.8,351.9C488.1,352.2 487.7,353.6 487.6,353.9"/><path d="M360.1,368.2C360.1,367.8 360.2,366.4 360.5,365.9C360.8,365.4 361.3,365.2 361.9,365.3C362.4,365.5 363.4,366.4 363.9,366.6C364.5,366.8 364.9,366.9 365.4,366.6C365.8,366.3 366.1,365.1 366.6,364.7C367.1,364.3 367.8,363.9 368.2,364.2C368.7,364.4 369.2,365.7 369.5,366.3C369.9,366.9 370.0,367.6 370.5,367.8C370.9,367.9 372.0,367.4 372.4,367.3"/><path d="M338.4,369.1C338.3,369.4 338.1,370.5 337.6,370.6C337.2,370.7 336.3,370.1 335.7,370.0C335.2,369.8 334.8,369.7 334.4,370.0C333.9,370.2 333.6,371.3 333.2,371.4C332.7,371.6 332.1,371.2 331.7,370.9C331.3,370.5 331.0,369.5 330.6,369.3C330.1,369.2 329.3,369.8 329.0,370.0"/><path d="M359.8,371.0C360.1,370.9 360.7,370.4 361.2,370.2C361.6,369.9 362.2,369.2 362.6,369.3C363.1,369.3 363.7,370.0 364.1,370.4C364.6,370.7 364.9,371.3 365.4,371.4C365.9,371.5 366.5,371.0 367.0,370.9C367.6,370.8 368.3,370.7 368.7,371.0C369.1,371.3 369.3,372.6 369.4,372.9"/><path d="M338.2,372.0C337.9,372.0 337.1,371.5 336.7,371.9C336.3,372.2 336.2,373.8 335.8,374.1C335.4,374.3 334.8,373.7 334.3,373.5C333.7,373.4 332.9,372.8 332.6,373.1C332.3,373.4 332.5,375.1 332.4,375.5"/><path d="M359.6,373.9C359.8,374.1 360.4,374.5 360.6,375.1C360.8,375.6 360.7,376.9 360.9,377.3C361.1,377.8 361.2,377.8 361.6,377.8C362.1,377.8 363.2,377.2 363.7,377.3C364.2,377.4 364.7,377.8 364.6,378.4C364.6,378.9 363.7,379.8 363.4,380.3C363.2,380.9 362.9,381.5 363.3,381.9C363.6,382.3 364.7,382.3 365.3,382.6C365.9,382.8 366.6,383.3 366.8,383.5"/><path d="M337.9,374.8C337.7,375.0 337.2,375.7 336.8,375.8C336.3,375.9 335.7,375.6 335.2,375.6C334.6,375.6 333.8,375.4 333.4,375.6C332.9,375.9 332.7,376.5 332.6,377.0C332.4,377.6 332.6,378.4 332.4,378.9C332.2,379.4 331.8,379.8 331.4,379.9C330.9,380.0 329.8,379.7 329.5,379.6"/><path d="M391.3,365.8C391.6,365.6 392.5,364.5 393.1,364.4C393.6,364.3 394.2,364.5 394.6,364.9C395.0,365.4 395.0,366.7 395.3,367.1C395.6,367.6 396.0,367.8 396.6,367.8C397.1,367.7 398.1,367.0 398.6,367.0C399.2,367.0 399.4,367.3 399.6,367.7C399.9,368.1 400.2,369.3 400.3,369.6"/><path d="M370.2,370.5C370.0,370.9 369.6,372.1 369.3,372.6C369.0,373.2 368.9,373.9 368.4,373.8C367.9,373.8 366.8,372.3 366.3,372.2C365.8,372.2 365.5,372.8 365.4,373.4C365.2,374.0 365.7,375.4 365.4,375.7C365.0,375.9 363.9,375.0 363.3,375.0C362.8,374.9 362.0,375.1 362.1,375.5C362.1,376.0 363.5,377.2 363.7,377.6C363.8,378.1 363.0,378.1 362.9,378.2"/><path d="M391.6,368.6C391.8,368.6 392.6,368.4 393.2,368.4C393.7,368.4 394.4,368.9 394.8,368.8C395.2,368.7 395.2,368.2 395.5,367.9C395.8,367.6 396.5,367.2 396.7,367.1"/><path d="M370.4,373.4C370.1,373.3 368.9,372.9 368.5,373.1C368.1,373.3 367.9,374.0 367.8,374.6C367.6,375.1 367.8,376.2 367.6,376.6C367.3,377.0 366.7,377.2 366.2,377.2C365.6,377.1 364.8,376.5 364.2,376.4C363.6,376.3 363.1,376.3 362.8,376.7C362.4,377.0 362.2,378.2 362.1,378.5"/><path d="M392.1,374.3C392.1,373.9 392.0,372.7 391.9,372.1C391.9,371.5 391.6,370.8 392.0,370.6C392.4,370.3 393.8,371.0 394.3,370.9C394.8,370.7 395.1,370.2 395.0,369.6C394.8,369.1 393.5,368.0 393.4,367.6C393.4,367.1 394.1,367.2 394.6,366.9C395.0,366.6 395.9,366.0 396.2,365.8"/><path d="M415.7,366.8C415.4,366.7 414.4,366.7 414.0,366.4C413.7,366.1 413.5,365.5 413.5,364.9C413.4,364.4 413.9,363.6 413.9,363.1C414.0,362.6 413.9,362.1 413.7,361.7C413.5,361.3 412.9,361.0 412.6,360.6C412.3,360.2 411.9,359.4 411.8,359.2"/><path d="M437.1,368.7C437.1,368.3 437.2,367.1 437.4,366.5C437.6,366.0 437.9,365.6 438.3,365.5C438.8,365.4 439.7,365.9 440.3,365.9C440.9,366.0 441.7,366.1 442.0,365.8C442.2,365.5 442.2,364.6 442.0,364.0C441.9,363.4 441.3,362.6 441.1,362.3"/><path d="M415.4,369.6C415.1,369.6 414.2,369.6 413.6,369.6C413.0,369.5 412.3,369.8 411.9,369.5C411.5,369.3 411.4,368.5 411.3,367.9C411.2,367.3 411.5,366.3 411.3,365.8C411.2,365.3 410.8,365.1 410.3,364.8C409.8,364.5 408.8,364.6 408.3,364.2C407.9,363.9 407.7,363.3 407.7,362.7C407.8,362.2 408.6,361.1 408.8,360.7"/><path d="M415.2,372.5C415.0,372.2 414.8,371.3 414.4,371.0C414.0,370.7 413.4,370.8 412.9,370.9C412.3,370.9 411.5,371.3 411.1,371.1C410.6,370.9 410.3,370.4 410.1,369.9C409.9,369.4 410.2,368.5 410.1,368.0C410.0,367.5 409.5,367.0 409.4,366.8"/><path d="M414.9,375.3C414.8,375.6 414.6,376.8 414.4,377.3C414.1,377.8 414.0,378.4 413.5,378.5C413.0,378.6 412.1,377.9 411.5,377.8C410.9,377.8 410.4,377.7 410.0,378.0C409.7,378.4 409.8,379.6 409.5,380.1C409.3,380.6 408.7,380.9 408.5,381.1"/><path d="M436.3,377.2C436.5,377.3 437.1,377.7 437.5,378.1C437.9,378.5 438.2,379.5 438.6,379.8C439.0,380.1 439.6,380.2 440.1,380.1C440.6,380.0 441.5,379.1 441.7,378.9"/><path d="M455.9,368.7C455.8,369.0 455.6,370.1 455.4,370.6C455.1,371.1 455.1,371.6 454.6,371.7C454.2,371.8 453.0,371.0 452.5,371.1C452.0,371.2 451.9,372.2 451.8,372.5"/><path d="M456.2,371.5C455.9,371.5 455.4,371.0 454.8,371.1C454.2,371.3 453.3,372.1 452.8,372.2C452.2,372.4 451.7,372.5 451.3,372.0C451.0,371.6 450.9,370.4 450.7,369.7C450.5,369.0 450.5,368.3 450.1,368.1C449.7,367.9 448.9,368.4 448.2,368.5C447.5,368.6 446.6,369.1 446.2,368.9C445.7,368.6 445.5,367.4 445.4,367.1"/><path d="M477.6,369.6C477.8,369.5 478.5,368.7 479.0,368.7C479.4,368.8 480.0,369.4 480.4,369.8C480.8,370.3 481.0,371.1 481.5,371.4C481.9,371.7 482.4,371.6 482.9,371.4C483.4,371.2 484.0,370.5 484.6,370.3C485.1,370.1 485.6,369.9 486.0,370.2C486.5,370.4 486.9,371.5 487.1,371.8"/><path d="M456.4,374.4C456.0,374.2 454.5,373.5 454.0,373.6C453.4,373.7 453.2,374.3 453.1,374.9C453.0,375.6 453.7,376.9 453.4,377.3C453.2,377.7 452.2,377.3 451.5,377.4C450.9,377.5 449.7,377.4 449.5,377.8C449.3,378.3 450.2,379.5 450.3,380.1C450.3,380.8 450.3,381.4 449.8,381.6C449.3,381.8 447.7,381.1 447.3,381.3C446.8,381.6 447.0,382.6 446.9,382.8"/><path d="M477.8,372.5C477.9,372.3 478.4,371.6 478.5,371.1C478.6,370.6 478.4,369.9 478.6,369.5C478.9,369.1 479.4,368.9 479.9,368.7C480.4,368.5 481.2,368.6 481.6,368.3C482.0,368.1 482.2,367.4 482.4,367.2"/><path d="M456.7,377.2C456.4,376.9 455.8,375.8 455.3,375.4C454.8,375.0 454.2,374.7 453.7,374.9C453.2,375.1 452.7,376.2 452.3,376.8C451.9,377.4 451.8,378.3 451.3,378.5C450.9,378.7 450.3,378.2 449.6,378.1C449.0,377.9 448.0,377.5 447.5,377.6C447.0,377.7 446.7,378.3 446.5,378.9C446.4,379.5 446.5,380.8 446.5,381.2"/><path d="M478.1,375.3C478.3,375.4 478.9,376.0 479.4,375.9C479.9,375.8 480.5,374.8 481.1,374.6C481.6,374.5 482.1,374.7 482.5,375.1C482.9,375.5 483.0,376.7 483.4,377.0C483.8,377.3 484.3,377.1 484.9,377.0C485.5,376.9 486.4,376.2 486.8,376.4C487.3,376.6 487.4,377.5 487.6,378.1C487.8,378.7 487.8,379.7 487.8,380.0"/></g><g stroke="#7e30cc" stroke-width="1.25"><line x1="337.76" y1="324.26" x2="359.05" y2="321.27"/><line x1="338.16" y1="327.08" x2="359.45" y2="324.09"/><line x1="338.55" y1="329.91" x2="359.84" y2="326.92"/><line x1="338.95" y1="332.73" x2="360.24" y2="329.74"/><line x1="372.37" y1="319.08" x2="393.40" y2="323.55"/><line x1="371.78" y1="321.87" x2="392.81" y2="326.34"/><line x1="371.19" y1="324.66" x2="392.22" y2="329.13"/><line x1="370.60" y1="327.45" x2="391.63" y2="331.92"/><line x1="394.45" y1="330.67" x2="413.94" y2="321.58"/><line x1="395.65" y1="333.25" x2="415.14" y2="324.17"/><line x1="396.86" y1="335.83" x2="416.35" y2="326.75"/><line x1="398.06" y1="338.42" x2="417.55" y2="329.33"/><line x1="427.66" y1="321.92" x2="448.83" y2="325.66"/><line x1="427.16" y1="324.73" x2="448.33" y2="328.46"/><line x1="426.67" y1="327.54" x2="447.84" y2="331.27"/><line x1="426.17" y1="330.34" x2="447.34" y2="334.08"/><line x1="457.16" y1="320.92" x2="478.33" y2="324.66"/><line x1="456.66" y1="323.73" x2="477.83" y2="327.46"/><line x1="456.17" y1="326.54" x2="477.34" y2="330.27"/><line x1="455.67" y1="329.34" x2="476.84" y2="333.08"/><line x1="330.06" y1="338.58" x2="349.55" y2="347.67"/><line x1="328.86" y1="341.17" x2="348.35" y2="350.25"/><line x1="327.65" y1="343.75" x2="347.14" y2="352.83"/><line x1="326.45" y1="346.33" x2="345.94" y2="355.42"/><line x1="348.92" y1="344.18" x2="370.34" y2="342.30"/><line x1="349.17" y1="347.02" x2="370.58" y2="345.14"/><line x1="349.42" y1="349.86" x2="370.83" y2="347.98"/><line x1="349.66" y1="352.70" x2="371.08" y2="350.82"/><line x1="375.72" y1="342.09" x2="396.49" y2="347.65"/><line x1="374.99" y1="344.84" x2="395.75" y2="350.41"/><line x1="374.25" y1="347.59" x2="395.01" y2="353.16"/><line x1="373.51" y1="350.35" x2="394.28" y2="355.91"/><line x1="397.76" y1="347.26" x2="419.05" y2="344.27"/><line x1="398.16" y1="350.08" x2="419.45" y2="347.09"/><line x1="398.55" y1="352.91" x2="419.84" y2="349.92"/><line x1="398.95" y1="355.73" x2="420.24" y2="352.74"/><line x1="432.63" y1="341.01" x2="452.57" y2="349.06"/><line x1="431.57" y1="343.65" x2="451.50" y2="351.71"/><line x1="430.50" y1="346.29" x2="450.43" y2="354.35"/><line x1="429.43" y1="348.94" x2="449.37" y2="356.99"/><line x1="454.92" y1="345.68" x2="476.34" y2="343.80"/><line x1="455.17" y1="348.52" x2="476.58" y2="346.64"/><line x1="455.42" y1="351.36" x2="476.83" y2="349.48"/><line x1="455.66" y1="354.20" x2="477.08" y2="352.32"/><line x1="338.66" y1="366.30" x2="360.08" y2="368.18"/><line x1="338.42" y1="369.14" x2="359.83" y2="371.02"/><line x1="338.17" y1="371.98" x2="359.58" y2="373.86"/><line x1="337.92" y1="374.82" x2="359.34" y2="376.70"/><line x1="369.92" y1="367.68" x2="391.34" y2="365.80"/><line x1="370.17" y1="370.52" x2="391.58" y2="368.64"/><line x1="370.42" y1="373.36" x2="391.83" y2="371.48"/><line x1="370.66" y1="376.20" x2="392.08" y2="374.32"/><line x1="415.66" y1="366.80" x2="437.08" y2="368.68"/><line x1="415.42" y1="369.64" x2="436.83" y2="371.52"/><line x1="415.17" y1="372.48" x2="436.58" y2="374.36"/><line x1="414.92" y1="375.32" x2="436.34" y2="377.20"/><line x1="455.92" y1="368.68" x2="477.34" y2="366.80"/><line x1="456.17" y1="371.52" x2="477.58" y2="369.64"/><line x1="456.42" y1="374.36" x2="477.83" y2="372.48"/><line x1="456.66" y1="377.20" x2="478.08" y2="375.32"/></g></g>
<circle cx="172.5" cy="335.3" r="17.5" fill="none" stroke="#111" stroke-width="1.2"/>
<line x1="129.5" y1="302.5" x2="161.5" y2="322.5" stroke="#111" stroke-width="1.15"/>
<line x1="216" y1="302.5" x2="187.5" y2="326.5" stroke="#111" stroke-width="1.15"/>
<circle cx="387.3" cy="338.5" r="17.5" fill="none" stroke="#111" stroke-width="1.2"/>
<line x1="349" y1="301" x2="374.5" y2="325.5" stroke="#111" stroke-width="1.15"/>
<line x1="425.5" y1="301" x2="401.5" y2="326" stroke="#111" stroke-width="1.15"/>
<text x="117.9" y="298.3" font-size="9" font-weight="bold" font-family="'Liberation Serif','Noto Serif CJK SC','Noto Sans CJK SC',serif" textLength="119.4" lengthAdjust="spacingAndGlyphs">less β phase<tspan font-size="6.5">，</tspan>low crystallinity</text>
<text x="327.3" y="297.3" font-size="9" font-weight="bold" font-family="'Liberation Serif','Noto Serif CJK SC','Noto Sans CJK SC',serif" textLength="129.1" lengthAdjust="spacingAndGlyphs">more β phase<tspan font-size="6.5">，</tspan>high crystallinity</text>
<text x="144.70" y="411.70" font-size="14.60" font-weight="bold" fill="#000" font-family="'Liberation Serif','Times New Roman',serif" textLength="101.1" lengthAdjust="spacingAndGlyphs">Uniform heating</text>
<text x="344.80" y="411.70" font-size="14.60" font-weight="bold" fill="#000" font-family="'Liberation Serif','Times New Roman',serif" textLength="118.4" lengthAdjust="spacingAndGlyphs">Directional heating</text>
</svg>
</body></html>
